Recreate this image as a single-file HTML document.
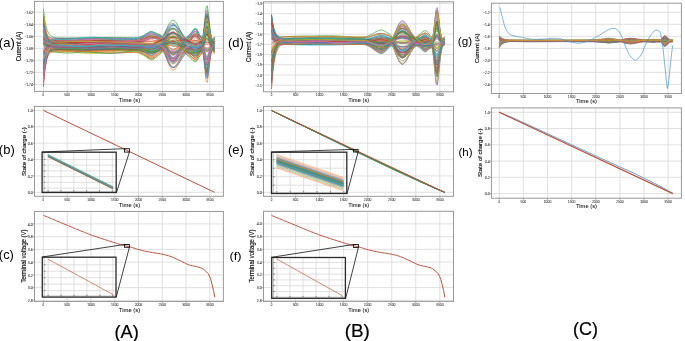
<!DOCTYPE html>
<html><head><meta charset="utf-8"><style>
html,body{margin:0;padding:0;background:#fff;width:685px;height:341px;overflow:hidden;}
svg{display:block;font-family:"Liberation Sans", sans-serif;will-change:transform;}
</style></head><body>
<svg width="685" height="341" viewBox="0 0 685 341" font-family='"Liberation Sans", sans-serif'>
<rect width="685" height="341" fill="#fff"/>
<path d="M43.42 1.40V91.40M67.19 1.40V91.40M90.95 1.40V91.40M114.72 1.40V91.40M138.48 1.40V91.40M162.25 1.40V91.40M186.01 1.40V91.40M209.78 1.40V91.40M34.50 12.30H223.40M34.50 24.33H223.40M34.50 36.36H223.40M34.50 48.39H223.40M34.50 60.42H223.40M34.50 72.45H223.40M34.50 84.48H223.40" stroke="#d8d8d8" stroke-width="0.8" fill="none"/>
<path d="M43.42 106.40V196.30M67.19 106.40V196.30M90.95 106.40V196.30M114.72 106.40V196.30M138.48 106.40V196.30M162.25 106.40V196.30M186.01 106.40V196.30M209.78 106.40V196.30M34.50 110.40H223.40M34.50 126.78H223.40M34.50 143.16H223.40M34.50 159.54H223.40M34.50 175.92H223.40M34.50 192.30H223.40" stroke="#d8d8d8" stroke-width="0.8" fill="none"/>
<path d="M43.42 211.45V301.45M67.19 211.45V301.45M90.95 211.45V301.45M114.72 211.45V301.45M138.48 211.45V301.45M162.25 211.45V301.45M186.01 211.45V301.45M209.78 211.45V301.45M34.50 223.90H223.40M34.50 236.65H223.40M34.50 249.40H223.40M34.50 262.15H223.40M34.50 274.90H223.40M34.50 287.65H223.40M34.50 300.40H223.40" stroke="#d8d8d8" stroke-width="0.8" fill="none"/>
<path d="M271.50 1.80V91.80M295.55 1.80V91.80M319.59 1.80V91.80M343.63 1.80V91.80M367.68 1.80V91.80M391.73 1.80V91.80M415.77 1.80V91.80M439.81 1.80V91.80M263.50 3.40H453.50M263.50 13.63H453.50M263.50 23.86H453.50M263.50 34.09H453.50M263.50 44.32H453.50M263.50 54.55H453.50M263.50 64.78H453.50M263.50 75.01H453.50M263.50 85.24H453.50" stroke="#d8d8d8" stroke-width="0.8" fill="none"/>
<path d="M271.50 106.40V196.30M295.55 106.40V196.30M319.59 106.40V196.30M343.63 106.40V196.30M367.68 106.40V196.30M391.73 106.40V196.30M415.77 106.40V196.30M439.81 106.40V196.30M263.50 110.45H453.50M263.50 126.82H453.50M263.50 143.19H453.50M263.50 159.56H453.50M263.50 175.93H453.50M263.50 192.30H453.50" stroke="#d8d8d8" stroke-width="0.8" fill="none"/>
<path d="M271.50 211.30V301.40M295.55 211.30V301.40M319.59 211.30V301.40M343.63 211.30V301.40M367.68 211.30V301.40M391.73 211.30V301.40M415.77 211.30V301.40M439.81 211.30V301.40M263.50 223.85H453.50M263.50 236.60H453.50M263.50 249.35H453.50M263.50 262.10H453.50M263.50 274.85H453.50M263.50 287.60H453.50M263.50 300.35H453.50" stroke="#d8d8d8" stroke-width="0.8" fill="none"/>
<path d="M499.30 3.20V93.50M523.41 3.20V93.50M547.53 3.20V93.50M571.64 3.20V93.50M595.76 3.20V93.50M619.88 3.20V93.50M643.99 3.20V93.50M668.11 3.20V93.50M491.40 12.30H681.40M491.40 24.32H681.40M491.40 36.34H681.40M491.40 48.36H681.40M491.40 60.38H681.40M491.40 72.40H681.40M491.40 84.42H681.40" stroke="#d8d8d8" stroke-width="0.8" fill="none"/>
<path d="M499.30 107.90V198.20M523.41 107.90V198.20M547.53 107.90V198.20M571.64 107.90V198.20M595.76 107.90V198.20M619.88 107.90V198.20M643.99 107.90V198.20M668.11 107.90V198.20M491.40 112.30H681.40M491.40 128.56H681.40M491.40 144.82H681.40M491.40 161.08H681.40M491.40 177.34H681.40M491.40 193.60H681.40" stroke="#d8d8d8" stroke-width="0.8" fill="none"/>
<path d="M43.4 25.1 43.9 28.9 44.4 32 44.8 34.7 45.3 37 45.8 38.9 46.3 40.5 46.7 41.9 47.2 43 47.7 44 48.2 44.8 48.6 45.5 49.1 46.1 49.6 46.5 50.1 46.9 50.5 47.3 51 47.6 51.5 47.8 52 48 52.5 48.1 52.9 48.3 53.4 48.4 53.9 48.5 54.4 48.6 54.8 48.6 55.3 48.7 55.8 48.7 56.3 48.7 56.7 48.8 57.2 48.8 57.7 48.8 59.6 48.9 65.3 49.1 71 49.4 76.7 49.7 82.4 49.7 88.1 49.5 93.8 49.1 99.5 48.9 105.2 49 110.9 49.3 116.6 49.6 122.3 49.7 128 49.5 133.7 49.2 136.1 49.1 137.3 49.1 138.5 49.1 139.7 49.1 140.9 49.2 142 49.4 143.2 49.5 144.4 49.7 145.6 50 146.8 50.2 148 50.4 149.2 50.7 150.4 50.9 151.6 51.1 152.7 51.3 153.9 51.3 155.1 51.2 156.3 51.1 157.5 51 158.7 50.9 159.9 50.7 161.1 50.6 162.2 50.6 163.4 50.6 164.6 50.8 165.8 51 167 51.4 168.2 51.7 169.4 52.1 170.6 52.4 171.8 52.6 172.9 52.7 174.1 52.7 175.3 52.7 176.5 52.7 177.7 52.7 178.9 52.8 180.1 52.8 181.3 52.8 182.4 52.8 183.6 52.8 184.8 52.9 186 52.9 187.2 52.9 188.4 52.8 189.6 52.7 190.8 52.6 192 52.4 193.1 52.3 194.3 52.1 195.5 51.9 196.7 51.7 197.9 51.5 199.1 51.2 200.3 51 201.5 50.8 202.6 50.5 203.8 49.9 205 49.3 206.2 48.8 207.4 48.8 208.6 49 209.8 49.2 211 49.5 212.2 49.6 213.3 49.8 214.5 50" stroke="#1f77b4" stroke-width="0.70" fill="none" stroke-linejoin="round"/>
<path d="M43.4 47.2 43.9 46.7 44.4 46.3 44.8 46 45.3 45.7 45.8 45.4 46.3 45.2 46.7 45 47.2 44.9 47.7 44.7 48.2 44.6 48.6 44.5 49.1 44.4 49.6 44.4 50.1 44.3 50.5 44.2 51 44.2 51.5 44.1 52 44.1 52.5 44.1 52.9 44 53.4 44 53.9 44 54.4 44 54.8 43.9 55.3 43.9 55.8 43.9 56.3 43.9 56.7 43.9 57.2 43.8 57.7 43.8 59.6 43.8 65.3 43.7 71 43.6 76.7 43.6 82.4 43.6 88.1 43.6 93.8 43.6 99.5 43.7 105.2 43.7 110.9 43.8 116.6 43.9 122.3 44 128 44.1 133.7 44.2 136.1 44 137.3 43.9 138.5 43.7 139.7 43.4 140.9 43.1 142 42.7 143.2 42.3 144.4 41.8 145.6 41.3 146.8 40.6 148 40 149.2 39.5 150.4 39.3 151.6 39.3 152.7 39.7 153.9 40.3 155.1 41 156.3 41.8 157.5 42.5 158.7 43.1 159.9 43.7 161.1 44.7 162.2 46.3 163.4 48.7 164.6 52 165.8 55.8 167 59.5 168.2 62.9 169.4 65.8 170.6 68 171.8 69.6 172.9 70.2 174.1 70 175.3 69 176.5 67.5 177.7 65.5 178.9 63.3 180.1 60.9 181.3 58.5 182.4 56.2 183.6 53.9 184.8 51.8 186 49.9 187.2 48.3 188.4 46.7 189.6 45.2 190.8 43.7 192 42 193.1 40.2 194.3 38.8 195.5 38.1 196.7 38.6 197.9 40.4 199.1 42.7 200.3 44.1 201.5 45.4 202.6 50 203.8 59.6 205 71.7 206.2 81.6 207.4 82.4 208.6 73.4 209.8 62.3 211 54.1 212.2 48.7 213.3 45.7 214.5 44" stroke="#ff7f0e" stroke-width="0.70" fill="none" stroke-linejoin="round"/>
<path d="M43.4 61.2 43.9 58.1 44.4 55.4 44.8 53.1 45.3 51.2 45.8 49.6 46.3 48.2 46.7 47.1 47.2 46.1 47.7 45.2 48.2 44.5 48.6 43.9 49.1 43.3 49.6 42.9 50.1 42.5 50.5 42.2 51 41.9 51.5 41.6 52 41.4 52.5 41.3 52.9 41.1 53.4 41 53.9 40.8 54.4 40.7 54.8 40.6 55.3 40.5 55.8 40.5 56.3 40.4 56.7 40.4 57.2 40.3 57.7 40.3 59.6 40.1 65.3 39.9 71 40 76.7 40.2 82.4 40.4 88.1 40.6 93.8 40.7 99.5 40.8 105.2 40.8 110.9 40.9 116.6 40.9 122.3 40.8 128 40.6 133.7 40.4 136.1 40.2 137.3 40 138.5 39.9 139.7 39.6 140.9 39.3 142 39 143.2 38.6 144.4 38.2 145.6 37.7 146.8 37.2 148 36.8 149.2 36.4 150.4 36.1 151.6 36.1 152.7 36.2 153.9 36.5 155.1 36.9 156.3 37.2 157.5 37.5 158.7 37.7 159.9 37.9 161.1 38.4 162.2 39.4 163.4 40.9 164.6 43 165.8 45.5 167 47.9 168.2 50.2 169.4 52.1 170.6 53.6 171.8 54.6 172.9 55 174.1 54.9 175.3 54.2 176.5 53.2 177.7 51.9 178.9 50.5 180.1 48.9 181.3 47.4 182.4 45.9 183.6 44.4 184.8 43.1 186 41.9 187.2 40.8 188.4 39.9 189.6 39 190.8 38.1 192 37.1 193.1 36.1 194.3 35.4 195.5 35.1 196.7 35.5 197.9 36.8 199.1 38.4 200.3 39.5 201.5 40.4 202.6 43.5 203.8 49.7 205 57.5 206.2 63.8 207.4 64.3 208.6 58.6 209.8 51.6 211 46.4 212.2 42.9 213.3 40.9 214.5 39.6" stroke="#2ca02c" stroke-width="0.70" fill="none" stroke-linejoin="round"/>
<path d="M43.4 78.8 43.9 72.8 44.4 67.7 44.8 63.4 45.3 59.8 45.8 56.7 46.3 54.1 46.7 51.8 47.2 49.9 47.7 48.3 48.2 47 48.6 45.8 49.1 44.8 49.6 44 50.1 43.3 50.5 42.7 51 42.2 51.5 41.8 52 41.4 52.5 41.1 52.9 40.8 53.4 40.6 53.9 40.4 54.4 40.3 54.8 40.2 55.3 40.1 55.8 40 56.3 40 56.7 39.9 57.2 39.9 57.7 39.9 59.6 39.9 65.3 40.3 71 40.7 76.7 40.8 82.4 40.7 88.1 40.2 93.8 39.8 99.5 39.5 105.2 39.5 110.9 39.7 116.6 40 122.3 40.3 128 40.5 133.7 40.5 136.1 40.5 137.3 40.4 138.5 40.2 139.7 40 140.9 39.8 142 39.5 143.2 39.2 144.4 38.8 145.6 38.4 146.8 38 148 37.6 149.2 37.2 150.4 36.9 151.6 36.8 152.7 36.8 153.9 36.9 155.1 37 156.3 37.1 157.5 37.1 158.7 37.1 159.9 37.1 161.1 37.4 162.2 37.9 163.4 39 164.6 40.6 165.8 42.4 167 44.2 168.2 45.9 169.4 47.4 170.6 48.5 171.8 49.3 172.9 49.5 174.1 49.3 175.3 48.8 176.5 48 177.7 47 178.9 45.9 180.1 44.7 181.3 43.6 182.4 42.4 183.6 41.4 184.8 40.4 186 39.5 187.2 38.8 188.4 38.1 189.6 37.6 190.8 37 192 36.4 193.1 35.8 194.3 35.3 195.5 35.3 196.7 35.8 197.9 36.9 199.1 38.3 200.3 39.2 201.5 40 202.6 42.5 203.8 47.3 205 53.3 206.2 58.2 207.4 58.6 208.6 54.3 209.8 49 211 45 212.2 42.3 213.3 40.7 214.5 39.6" stroke="#d62728" stroke-width="0.70" fill="none" stroke-linejoin="round"/>
<path d="M43.4 39.3 43.9 39.7 44.4 40.1 44.8 40.4 45.3 40.6 45.8 40.8 46.3 41 46.7 41.2 47.2 41.3 47.7 41.5 48.2 41.6 48.6 41.7 49.1 41.7 49.6 41.8 50.1 41.9 50.5 41.9 51 42 51.5 42 52 42.1 52.5 42.1 52.9 42.2 53.4 42.2 53.9 42.3 54.4 42.3 54.8 42.3 55.3 42.3 55.8 42.4 56.3 42.4 56.7 42.4 57.2 42.5 57.7 42.5 59.6 42.6 65.3 42.7 71 42.6 76.7 42.3 82.4 41.8 88.1 41.3 93.8 40.9 99.5 40.8 105.2 40.9 110.9 41.1 116.6 41.5 122.3 41.8 128 41.9 133.7 41.9 136.1 41.7 137.3 41.5 138.5 41.3 139.7 41 140.9 40.6 142 40.2 143.2 39.7 144.4 39.1 145.6 38.5 146.8 37.9 148 37.2 149.2 36.7 150.4 36.4 151.6 36.4 152.7 36.8 153.9 37.4 155.1 38.1 156.3 38.9 157.5 39.6 158.7 40.1 159.9 40.8 161.1 41.8 162.2 43.4 163.4 45.8 164.6 49.1 165.8 52.8 167 56.5 168.2 59.9 169.4 62.7 170.6 65 171.8 66.5 172.9 67.1 174.1 66.9 175.3 65.9 176.5 64.4 177.7 62.5 178.9 60.2 180.1 57.9 181.3 55.5 182.4 53.2 183.6 50.9 184.8 48.8 186 46.9 187.2 45.1 188.4 43.6 189.6 42 190.8 40.5 192 38.8 193.1 37.1 194.3 35.7 195.5 35 196.7 35.5 197.9 37.3 199.1 39.6 200.3 41 201.5 42.2 202.6 46.8 203.8 56.3 205 68.1 206.2 77.9 207.4 78.6 208.6 69.9 209.8 59.1 211 51.1 212.2 45.8 213.3 42.9 214.5 41.2" stroke="#9467bd" stroke-width="0.70" fill="none" stroke-linejoin="round"/>
<path d="M43.4 65.9 43.9 62.7 44.4 60 44.8 57.7 45.3 55.8 45.8 54.2 46.3 52.8 46.7 51.6 47.2 50.6 47.7 49.8 48.2 49.1 48.6 48.5 49.1 48 49.6 47.6 50.1 47.2 50.5 46.9 51 46.6 51.5 46.4 52 46.2 52.5 46 52.9 45.9 53.4 45.8 53.9 45.7 54.4 45.6 54.8 45.5 55.3 45.4 55.8 45.4 56.3 45.3 56.7 45.3 57.2 45.2 57.7 45.2 59.6 45.1 65.3 45 71 45.1 76.7 45.4 82.4 45.7 88.1 46 93.8 45.9 99.5 45.6 105.2 45.2 110.9 44.9 116.6 44.7 122.3 44.8 128 45 133.7 45.1 136.1 45.1 137.3 45.1 138.5 45.1 139.7 45.1 140.9 45.1 142 45.1 143.2 45.1 144.4 45.1 145.6 45.1 146.8 45.1 148 45.1 149.2 45.1 150.4 45 151.6 45 152.7 45 153.9 44.8 155.1 44.6 156.3 44.3 157.5 44 158.7 43.8 159.9 43.6 161.1 43.4 162.2 43.3 163.4 43.4 164.6 43.6 165.8 43.9 167 44.3 168.2 44.7 169.4 45.2 170.6 45.6 171.8 45.9 172.9 46.1 174.1 46.2 175.3 46.2 176.5 46.3 177.7 46.4 178.9 46.4 180.1 46.5 181.3 46.5 182.4 46.5 183.6 46.5 184.8 46.5 186 46.4 187.2 46.4 188.4 46.3 189.6 46.1 190.8 46 192 45.9 193.1 45.8 194.3 45.7 195.5 45.6 196.7 45.4 197.9 45.3 199.1 45.2 200.3 45.1 201.5 45.1 202.6 44.9 203.8 44.7 205 44.4 206.2 44.2 207.4 44.2 208.6 44.4 209.8 44.6 211 44.8 212.2 44.9 213.3 45.1 214.5 45.1" stroke="#8c564b" stroke-width="0.70" fill="none" stroke-linejoin="round"/>
<path d="M43.4 68 43.9 63.6 44.4 59.8 44.8 56.7 45.3 53.9 45.8 51.7 46.3 49.7 46.7 48.1 47.2 46.6 47.7 45.4 48.2 44.4 48.6 43.6 49.1 42.8 49.6 42.2 50.1 41.6 50.5 41.2 51 40.8 51.5 40.4 52 40.1 52.5 39.8 52.9 39.6 53.4 39.4 53.9 39.3 54.4 39.1 54.8 39 55.3 38.9 55.8 38.8 56.3 38.7 56.7 38.6 57.2 38.6 57.7 38.5 59.6 38.4 65.3 38.5 71 38.9 76.7 39.2 82.4 39.2 88.1 38.8 93.8 38.3 99.5 37.9 105.2 38 110.9 38.4 116.6 39 122.3 39.4 128 39.4 133.7 39 136.1 38.7 137.3 38.5 138.5 38.2 139.7 37.9 140.9 37.5 142 37.1 143.2 36.7 144.4 36.2 145.6 35.7 146.8 35.1 148 34.6 149.2 34.2 150.4 33.9 151.6 33.8 152.7 34 153.9 34.3 155.1 34.7 156.3 35.1 157.5 35.4 158.7 35.6 159.9 35.8 161.1 36.3 162.2 37.3 163.4 38.9 164.6 41 165.8 43.4 167 45.9 168.2 48.1 169.4 49.9 170.6 51.4 171.8 52.3 172.9 52.5 174.1 52.2 175.3 51.3 176.5 50.1 177.7 48.7 178.9 47 180.1 45.3 181.3 43.6 182.4 41.9 183.6 40.4 184.8 38.9 186 37.6 187.2 36.5 188.4 35.6 189.6 34.7 190.8 33.9 192 33 193.1 32.2 194.3 31.6 195.5 31.5 196.7 32.2 197.9 33.8 199.1 35.7 200.3 37 201.5 38.2 202.6 41.6 203.8 48.3 205 56.7 206.2 63.5 207.4 64.1 208.6 58.2 209.8 51 211 45.5 212.2 41.8 213.3 39.7 214.5 38.3" stroke="#e377c2" stroke-width="0.70" fill="none" stroke-linejoin="round"/>
<path d="M43.4 15.7 43.9 20.9 44.4 25.4 44.8 29.1 45.3 32.3 45.8 35 46.3 37.3 46.7 39.3 47.2 40.9 47.7 42.3 48.2 43.5 48.6 44.5 49.1 45.3 49.6 46 50.1 46.6 50.5 47.1 51 47.5 51.5 47.8 52 48.1 52.5 48.3 52.9 48.5 53.4 48.7 53.9 48.8 54.4 48.9 54.8 49 55.3 49.1 55.8 49.1 56.3 49.1 56.7 49.1 57.2 49.2 57.7 49.2 59.6 49.1 65.3 49 71 49.3 76.7 49.9 82.4 50.6 88.1 50.8 93.8 50.5 99.5 50 105.2 49.6 110.9 49.7 116.6 50 122.3 50.3 128 50.1 133.7 49.5 136.1 49.3 137.3 49.3 138.5 49.3 139.7 49.4 140.9 49.5 142 49.8 143.2 50.1 144.4 50.5 145.6 50.9 146.8 51.4 148 52 149.2 52.4 150.4 52.8 151.6 53.1 152.7 53.1 153.9 52.8 155.1 52.4 156.3 52 157.5 51.5 158.7 51.1 159.9 50.7 161.1 50.1 162.2 49.4 163.4 48.4 164.6 47.3 165.8 46.1 167 44.9 168.2 44 169.4 43.2 170.6 42.7 171.8 42.4 172.9 42.2 174.1 42.3 175.3 42.7 176.5 43.3 177.7 44.2 178.9 45.1 180.1 46.2 181.3 47.2 182.4 48.2 183.6 49.2 184.8 50.1 186 51 187.2 51.7 188.4 52.4 189.6 52.9 190.8 53.5 192 54.1 193.1 54.7 194.3 55.2 195.5 55.4 196.7 55 197.9 54 199.1 52.8 200.3 52 201.5 51.2 202.6 48.8 203.8 44 205 38.1 206.2 33.2 207.4 32.7 208.6 36.7 209.8 41.8 211 45.5 212.2 48 213.3 49.4 214.5 50.2" stroke="#7f7f7f" stroke-width="0.70" fill="none" stroke-linejoin="round"/>
<path d="M43.4 54.4 43.9 53.3 44.4 52.4 44.8 51.6 45.3 50.9 45.8 50.3 46.3 49.9 46.7 49.5 47.2 49.1 47.7 48.8 48.2 48.6 48.6 48.4 49.1 48.2 49.6 48 50.1 47.9 50.5 47.8 51 47.7 51.5 47.6 52 47.6 52.5 47.5 52.9 47.4 53.4 47.4 53.9 47.4 54.4 47.3 54.8 47.3 55.3 47.3 55.8 47.3 56.3 47.2 56.7 47.2 57.2 47.2 57.7 47.2 59.6 47.2 65.3 47.3 71 47.5 76.7 47.6 82.4 47.7 88.1 47.5 93.8 47.3 99.5 47.1 105.2 47 110.9 47.1 116.6 47.2 122.3 47.2 128 47.1 133.7 46.9 136.1 47 137.3 47.1 138.5 47.2 139.7 47.4 140.9 47.7 142 48 143.2 48.5 144.4 48.9 145.6 49.5 146.8 50.1 148 50.7 149.2 51.2 150.4 51.5 151.6 51.6 152.7 51.2 153.9 50.6 155.1 49.6 156.3 48.6 157.5 47.6 158.7 46.7 159.9 45.8 161.1 44.7 162.2 43.3 163.4 41.3 164.6 38.9 165.8 36.4 167 34 168.2 32 169.4 30.3 170.6 29.1 171.8 28.3 172.9 28 174.1 28.2 175.3 29 176.5 30.2 177.7 31.8 178.9 33.6 180.1 35.5 181.3 37.4 182.4 39.3 183.6 41 184.8 42.7 186 44.2 187.2 45.5 188.4 46.6 189.6 47.7 190.8 48.8 192 50 193.1 51.3 194.3 52.3 195.5 52.8 196.7 52.4 197.9 50.8 199.1 48.8 200.3 47.6 201.5 46.5 202.6 42.6 203.8 34.5 205 24.4 206.2 16 207.4 15.4 208.6 22.9 209.8 32.1 211 39.1 212.2 43.6 213.3 46.1 214.5 47.6" stroke="#bcbd22" stroke-width="0.70" fill="none" stroke-linejoin="round"/>
<path d="M43.4 26.1 43.9 29.2 44.4 31.7 44.8 33.9 45.3 35.8 45.8 37.3 46.3 38.7 46.7 39.8 47.2 40.8 47.7 41.6 48.2 42.3 48.6 42.8 49.1 43.3 49.6 43.7 50.1 44.1 50.5 44.4 51 44.6 51.5 44.9 52 45 52.5 45.2 52.9 45.3 53.4 45.4 53.9 45.5 54.4 45.5 54.8 45.6 55.3 45.6 55.8 45.6 56.3 45.7 56.7 45.7 57.2 45.7 57.7 45.7 59.6 45.6 65.3 45.3 71 45 76.7 45 82.4 45.2 88.1 45.5 93.8 45.7 99.5 45.7 105.2 45.6 110.9 45.4 116.6 45.4 122.3 45.6 128 46 133.7 46.2 136.1 46.2 137.3 46.1 138.5 46.1 139.7 45.9 140.9 45.8 142 45.6 143.2 45.4 144.4 45.1 145.6 44.8 146.8 44.5 148 44.1 149.2 43.9 150.4 43.7 151.6 43.7 152.7 43.8 153.9 44.1 155.1 44.4 156.3 44.7 157.5 44.9 158.7 45.1 159.9 45.3 161.1 45.8 162.2 46.6 163.4 48 164.6 49.9 165.8 52.1 167 54.3 168.2 56.4 169.4 58.2 170.6 59.6 171.8 60.6 172.9 61.1 174.1 61 175.3 60.5 176.5 59.7 177.7 58.7 178.9 57.5 180.1 56.2 181.3 54.9 182.4 53.6 183.6 52.4 184.8 51.2 186 50.1 187.2 49.2 188.4 48.2 189.6 47.3 190.8 46.3 192 45.3 193.1 44.2 194.3 43.3 195.5 42.8 196.7 43 197.9 43.9 199.1 45 200.3 45.7 201.5 46.3 202.6 48.8 203.8 53.9 205 60.3 206.2 65.6 207.4 66.1 208.6 61.3 209.8 55.4 211 51.1 212.2 48.3 213.3 46.8 214.5 46.1" stroke="#17becf" stroke-width="0.70" fill="none" stroke-linejoin="round"/>
<path d="M43.4 36.3 43.9 37.4 44.4 38.4 44.8 39.2 45.3 39.9 45.8 40.5 46.3 41 46.7 41.4 47.2 41.8 47.7 42.1 48.2 42.3 48.6 42.5 49.1 42.7 49.6 42.9 50.1 43 50.5 43.1 51 43.2 51.5 43.3 52 43.4 52.5 43.5 52.9 43.5 53.4 43.5 53.9 43.6 54.4 43.6 54.8 43.6 55.3 43.7 55.8 43.7 56.3 43.7 56.7 43.7 57.2 43.7 57.7 43.7 59.6 43.7 65.3 43.7 71 43.6 76.7 43.5 82.4 43.4 88.1 43.3 93.8 43.2 99.5 43.1 105.2 43 110.9 43 116.6 42.9 122.3 42.9 128 42.9 133.7 43 136.1 43.1 137.3 43.2 138.5 43.3 139.7 43.4 140.9 43.5 142 43.6 143.2 43.8 144.4 44 145.6 44.2 146.8 44.4 148 44.6 149.2 44.8 150.4 44.9 151.6 44.9 152.7 44.6 153.9 44.1 155.1 43.5 156.3 42.8 157.5 42.1 158.7 41.5 159.9 40.9 161.1 40.2 162.2 39.4 163.4 38.4 164.6 37.3 165.8 36.2 167 35.2 168.2 34.4 169.4 33.7 170.6 33.3 171.8 33 172.9 32.9 174.1 33 175.3 33.4 176.5 34 177.7 34.7 178.9 35.6 180.1 36.5 181.3 37.4 182.4 38.2 183.6 39.1 184.8 39.8 186 40.5 187.2 41.2 188.4 41.7 189.6 42.3 190.8 42.8 192 43.4 193.1 44.1 194.3 44.7 195.5 45 196.7 44.9 197.9 44.2 199.1 43.4 200.3 42.9 201.5 42.5 202.6 40.6 203.8 36.9 205 32.1 206.2 28.2 207.4 27.8 208.6 31.5 209.8 35.9 211 39.2 212.2 41.4 213.3 42.5 214.5 43.1" stroke="#1f77b4" stroke-width="0.70" fill="none" stroke-linejoin="round"/>
<path d="M43.4 43.3 43.9 44.1 44.4 44.7 44.8 45.2 45.3 45.6 45.8 46 46.3 46.3 46.7 46.5 47.2 46.8 47.7 47 48.2 47.1 48.6 47.3 49.1 47.4 49.6 47.5 50.1 47.6 50.5 47.7 51 47.8 51.5 47.9 52 47.9 52.5 48 52.9 48 53.4 48.1 53.9 48.1 54.4 48.2 54.8 48.2 55.3 48.3 55.8 48.3 56.3 48.3 56.7 48.4 57.2 48.4 57.7 48.4 59.6 48.6 65.3 48.8 71 48.7 76.7 48.4 82.4 47.9 88.1 47.6 93.8 47.5 99.5 47.8 105.2 48.1 110.9 48.4 116.6 48.5 122.3 48.4 128 48.2 133.7 48.1 136.1 48.2 137.3 48.3 138.5 48.4 139.7 48.6 140.9 48.9 142 49.1 143.2 49.5 144.4 49.9 145.6 50.3 146.8 50.7 148 51.1 149.2 51.5 150.4 51.7 151.6 51.7 152.7 51.5 153.9 51.1 155.1 50.4 156.3 49.7 157.5 49 158.7 48.3 159.9 47.6 161.1 46.9 162.2 45.9 163.4 44.8 164.6 43.4 165.8 42 167 40.8 168.2 39.8 169.4 39 170.6 38.4 171.8 38.1 172.9 38 174.1 38.1 175.3 38.6 176.5 39.4 177.7 40.4 178.9 41.5 180.1 42.7 181.3 43.8 182.4 45 183.6 46.1 184.8 47.2 186 48.1 187.2 48.9 188.4 49.6 189.6 50.3 190.8 50.9 192 51.6 193.1 52.2 194.3 52.8 195.5 53 196.7 52.6 197.9 51.6 199.1 50.4 200.3 49.6 201.5 48.8 202.6 46.4 203.8 41.6 205 35.6 206.2 30.7 207.4 30.3 208.6 34.5 209.8 39.7 211 43.6 212.2 46.2 213.3 47.6 214.5 48.5" stroke="#ff7f0e" stroke-width="0.70" fill="none" stroke-linejoin="round"/>
<path d="M43.4 29.5 43.9 32.1 44.4 34.2 44.8 36 45.3 37.6 45.8 38.9 46.3 40 46.7 40.9 47.2 41.7 47.7 42.4 48.2 43 48.6 43.4 49.1 43.8 49.6 44.2 50.1 44.5 50.5 44.7 51 45 51.5 45.1 52 45.3 52.5 45.4 52.9 45.5 53.4 45.6 53.9 45.7 54.4 45.8 54.8 45.9 55.3 45.9 55.8 46 56.3 46 56.7 46 57.2 46.1 57.7 46.1 59.6 46.2 65.3 46.3 71 46.4 76.7 46.5 82.4 46.6 88.1 46.6 93.8 46.6 99.5 46.6 105.2 46.6 110.9 46.5 116.6 46.4 122.3 46.3 128 46.1 133.7 46 136.1 46.1 137.3 46.3 138.5 46.5 139.7 46.7 140.9 47.1 142 47.5 143.2 48 144.4 48.5 145.6 49.1 146.8 49.8 148 50.5 149.2 51 150.4 51.4 151.6 51.3 152.7 50.8 153.9 49.9 155.1 48.7 156.3 47.3 157.5 46.1 158.7 44.9 159.9 43.8 161.1 42.4 162.2 40.5 163.4 37.9 164.6 34.8 165.8 31.5 167 28.4 168.2 25.7 169.4 23.4 170.6 21.8 171.8 20.7 172.9 20.3 174.1 20.6 175.3 21.6 176.5 23.2 177.7 25.2 178.9 27.5 180.1 30 181.3 32.4 182.4 34.8 183.6 37.1 184.8 39.2 186 41.1 187.2 42.8 188.4 44.3 189.6 45.7 190.8 47.2 192 48.8 193.1 50.5 194.3 51.8 195.5 52.5 196.7 52 197.9 50.1 199.1 47.6 200.3 46.2 201.5 44.8 202.6 39.9 203.8 29.9 205 17.2 206.2 6.8 207.4 5.9 208.6 15.4 209.8 26.9 211 35.6 212.2 41.3 213.3 44.4 214.5 46.2" stroke="#2ca02c" stroke-width="0.70" fill="none" stroke-linejoin="round"/>
<path d="M43.4 87 43.9 80.8 44.4 75.5 44.8 71.1 45.3 67.3 45.8 64.1 46.3 61.3 46.7 59 47.2 57 47.7 55.3 48.2 53.9 48.6 52.6 49.1 51.6 49.6 50.6 50.1 49.8 50.5 49.2 51 48.6 51.5 48 52 47.6 52.5 47.2 52.9 46.8 53.4 46.5 53.9 46.2 54.4 46 54.8 45.8 55.3 45.6 55.8 45.4 56.3 45.2 56.7 45.1 57.2 45 57.7 44.8 59.6 44.4 65.3 44 71 44.2 76.7 45.1 82.4 46.1 88.1 47.1 93.8 47.7 99.5 47.8 105.2 47.2 110.9 46.4 116.6 45.4 122.3 44.8 128 44.5 133.7 44.7 136.1 44.9 137.3 45 138.5 45.1 139.7 45.2 140.9 45.3 142 45.4 143.2 45.5 144.4 45.6 145.6 45.7 146.8 45.8 148 45.9 149.2 46 150.4 46.1 151.6 46.2 152.7 46.4 153.9 46.5 155.1 46.5 156.3 46.5 157.5 46.5 158.7 46.4 159.9 46.4 161.1 46.4 162.2 46.6 163.4 47.1 164.6 47.8 165.8 48.6 167 49.5 168.2 50.4 169.4 51.2 170.6 51.9 171.8 52.3 172.9 52.5 174.1 52.4 175.3 52.2 176.5 51.9 177.7 51.5 178.9 51.1 180.1 50.6 181.3 50.2 182.4 49.7 183.6 49.3 184.8 48.8 186 48.5 187.2 48.1 188.4 47.7 189.6 47.3 190.8 46.9 192 46.5 193.1 46.1 194.3 45.7 195.5 45.4 196.7 45.4 197.9 45.6 199.1 45.9 200.3 46 201.5 46.1 202.6 46.8 203.8 48.2 205 50.1 206.2 51.7 207.4 51.7 208.6 50.2 209.8 48.3 211 46.9 212.2 46 213.3 45.5 214.5 45.3" stroke="#d62728" stroke-width="0.70" fill="none" stroke-linejoin="round"/>
<path d="M43.4 24.8 43.9 27 44.4 28.9 44.8 30.5 45.3 31.8 45.8 33 46.3 33.9 46.7 34.7 47.2 35.4 47.7 36 48.2 36.5 48.6 36.9 49.1 37.3 49.6 37.6 50.1 37.9 50.5 38.1 51 38.3 51.5 38.4 52 38.6 52.5 38.7 52.9 38.8 53.4 38.9 53.9 39 54.4 39 54.8 39.1 55.3 39.1 55.8 39.2 56.3 39.2 56.7 39.3 57.2 39.3 57.7 39.3 59.6 39.4 65.3 39.5 71 39.4 76.7 39.2 82.4 39.1 88.1 39.1 93.8 39.2 99.5 39.2 105.2 39.1 110.9 39 116.6 39 122.3 39.1 128 39.3 133.7 39.6 136.1 39.5 137.3 39.4 138.5 39.2 139.7 39 140.9 38.6 142 38.2 143.2 37.8 144.4 37.2 145.6 36.6 146.8 35.9 148 35.2 149.2 34.6 150.4 34.2 151.6 34.1 152.7 34.3 153.9 34.6 155.1 35 156.3 35.5 157.5 35.9 158.7 36.1 159.9 36.5 161.1 37.2 162.2 38.4 163.4 40.3 164.6 43 165.8 46.1 167 49.2 168.2 52 169.4 54.4 170.6 56.2 171.8 57.5 172.9 57.9 174.1 57.7 175.3 56.8 176.5 55.4 177.7 53.7 178.9 51.8 180.1 49.8 181.3 47.7 182.4 45.7 183.6 43.8 184.8 42 186 40.3 187.2 38.9 188.4 37.6 189.6 36.4 190.8 35.3 192 34 193.1 32.7 194.3 31.7 195.5 31.3 196.7 31.9 197.9 33.7 199.1 35.9 200.3 37.3 201.5 38.6 202.6 42.7 203.8 51 205 61.4 206.2 69.8 207.4 70.6 208.6 63.2 209.8 54.1 211 47.3 212.2 42.9 213.3 40.3 214.5 38.8" stroke="#9467bd" stroke-width="0.70" fill="none" stroke-linejoin="round"/>
<path d="M43.4 82 43.9 76.7 44.4 72.3 44.8 68.5 45.3 65.4 45.8 62.7 46.3 60.4 46.7 58.5 47.2 56.9 47.7 55.6 48.2 54.4 48.6 53.5 49.1 52.7 49.6 52 50.1 51.4 50.5 50.9 51 50.5 51.5 50.2 52 49.9 52.5 49.7 52.9 49.5 53.4 49.3 53.9 49.2 54.4 49 54.8 48.9 55.3 48.8 55.8 48.8 56.3 48.7 56.7 48.7 57.2 48.6 57.7 48.6 59.6 48.4 65.3 48.1 71 47.7 76.7 47.5 82.4 47.4 88.1 47.7 93.8 48.1 99.5 48.4 105.2 48.5 110.9 48.3 116.6 47.9 122.3 47.5 128 47.2 133.7 47.2 136.1 47.4 137.3 47.6 138.5 47.8 139.7 48 140.9 48.4 142 48.7 143.2 49.1 144.4 49.6 145.6 50.1 146.8 50.6 148 51.1 149.2 51.5 150.4 51.8 151.6 51.9 152.7 51.7 153.9 51.2 155.1 50.6 156.3 49.8 157.5 49 158.7 48.3 159.9 47.6 161.1 46.8 162.2 45.7 163.4 44.3 164.6 42.8 165.8 41.1 167 39.6 168.2 38.3 169.4 37.3 170.6 36.6 171.8 36.1 172.9 35.9 174.1 36 175.3 36.5 176.5 37.3 177.7 38.4 178.9 39.6 180.1 40.9 181.3 42.1 182.4 43.4 183.6 44.6 184.8 45.8 186 46.8 187.2 47.7 188.4 48.5 189.6 49.3 190.8 50 192 50.8 193.1 51.6 194.3 52.3 195.5 52.6 196.7 52.3 197.9 51.2 199.1 49.9 200.3 49 201.5 48.3 202.6 45.6 203.8 40.2 205 33.4 206.2 27.8 207.4 27.3 208.6 32.2 209.8 38.2 211 42.7 212.2 45.6 213.3 47.3 214.5 48.2" stroke="#8c564b" stroke-width="0.70" fill="none" stroke-linejoin="round"/>
<path d="M43.4 33.8 43.9 35.9 44.4 37.7 44.8 39.2 45.3 40.5 45.8 41.6 46.3 42.5 46.7 43.3 47.2 44 47.7 44.6 48.2 45.1 48.6 45.5 49.1 45.8 49.6 46.1 50.1 46.4 50.5 46.6 51 46.8 51.5 46.9 52 47.1 52.5 47.2 52.9 47.3 53.4 47.4 53.9 47.5 54.4 47.5 54.8 47.6 55.3 47.6 55.8 47.7 56.3 47.7 56.7 47.7 57.2 47.8 57.7 47.8 59.6 47.8 65.3 47.8 71 47.6 76.7 47.6 82.4 47.7 88.1 47.8 93.8 47.9 99.5 47.8 105.2 47.7 110.9 47.5 116.6 47.5 122.3 47.7 128 47.9 133.7 48 136.1 48 137.3 47.9 138.5 47.9 139.7 47.9 140.9 48 142 48 143.2 48 144.4 48.1 145.6 48.2 146.8 48.3 148 48.3 149.2 48.4 150.4 48.5 151.6 48.6 152.7 48.6 153.9 48.6 155.1 48.4 156.3 48.3 157.5 48.1 158.7 48 159.9 47.8 161.1 47.8 162.2 47.8 163.4 47.9 164.6 48.1 165.8 48.5 167 48.9 168.2 49.4 169.4 49.8 170.6 50.2 171.8 50.5 172.9 50.7 174.1 50.7 175.3 50.7 176.5 50.7 177.7 50.7 178.9 50.6 180.1 50.6 181.3 50.5 182.4 50.4 183.6 50.3 184.8 50.2 186 50.1 187.2 50 188.4 49.9 189.6 49.7 190.8 49.5 192 49.3 193.1 49.2 194.3 49 195.5 48.9 196.7 48.7 197.9 48.6 199.1 48.5 200.3 48.4 201.5 48.3 202.6 48.2 203.8 48 205 47.7 206.2 47.5 207.4 47.6 208.6 47.8 209.8 48 211 48.2 212.2 48.3 213.3 48.5 214.5 48.6" stroke="#e377c2" stroke-width="0.70" fill="none" stroke-linejoin="round"/>
<path d="M43.4 63.1 43.9 60.1 44.4 57.6 44.8 55.5 45.3 53.8 45.8 52.3 46.3 51 46.7 50 47.2 49.1 47.7 48.4 48.2 47.7 48.6 47.2 49.1 46.8 49.6 46.5 50.1 46.2 50.5 46 51 45.8 51.5 45.6 52 45.5 52.5 45.4 52.9 45.3 53.4 45.2 53.9 45.2 54.4 45.1 54.8 45.1 55.3 45.1 55.8 45.1 56.3 45 56.7 45 57.2 45 57.7 45 59.6 44.8 65.3 44.2 71 43.2 76.7 42.5 82.4 42.4 88.1 43.2 93.8 44.3 99.5 45.2 105.2 45.4 110.9 45 116.6 44.2 122.3 43.8 128 43.9 133.7 44.4 136.1 44.8 137.3 45.1 138.5 45.3 139.7 45.5 140.9 45.8 142 46.1 143.2 46.3 144.4 46.6 145.6 47 146.8 47.3 148 47.6 149.2 47.7 150.4 47.7 151.6 47.4 152.7 46.8 153.9 45.8 155.1 44.6 156.3 43.3 157.5 42.1 158.7 40.9 159.9 39.8 161.1 38.5 162.2 37 163.4 35.1 164.6 32.8 165.8 30.5 167 28.4 168.2 26.6 169.4 25.2 170.6 24.2 171.8 23.6 172.9 23.4 174.1 23.8 175.3 24.7 176.5 25.9 177.7 27.5 178.9 29.3 180.1 31.2 181.3 33.1 182.4 34.9 183.6 36.7 184.8 38.3 186 39.7 187.2 40.9 188.4 42.1 189.6 43.1 190.8 44.2 192 45.3 193.1 46.5 194.3 47.4 195.5 47.9 196.7 47.5 197.9 46.1 199.1 44.4 200.3 43.3 201.5 42.4 202.6 38.9 203.8 31.9 205 23.1 206.2 15.8 207.4 15.2 208.6 21.8 209.8 29.9 211 36.1 212.2 40.1 213.3 42.3 214.5 43.6" stroke="#7f7f7f" stroke-width="0.70" fill="none" stroke-linejoin="round"/>
<path d="M43.4 49.5 43.9 49.2 44.4 49 44.8 48.8 45.3 48.7 45.8 48.5 46.3 48.4 46.7 48.3 47.2 48.3 47.7 48.2 48.2 48.1 48.6 48.1 49.1 48 49.6 48 50.1 48 50.5 47.9 51 47.9 51.5 47.9 52 47.8 52.5 47.8 52.9 47.8 53.4 47.8 53.9 47.8 54.4 47.8 54.8 47.7 55.3 47.7 55.8 47.7 56.3 47.7 56.7 47.7 57.2 47.7 57.7 47.7 59.6 47.6 65.3 47.6 71 47.5 76.7 47.6 82.4 47.7 88.1 47.8 93.8 47.9 99.5 48 105.2 48 110.9 48 116.6 48 122.3 47.8 128 47.7 133.7 47.5 136.1 47.5 137.3 47.6 138.5 47.6 139.7 47.7 140.9 47.8 142 48 143.2 48.2 144.4 48.5 145.6 48.7 146.8 49 148 49.3 149.2 49.5 150.4 49.7 151.6 49.8 152.7 49.7 153.9 49.5 155.1 49.1 156.3 48.7 157.5 48.2 158.7 47.9 159.9 47.5 161.1 47.1 162.2 46.6 163.4 46 164.6 45.5 165.8 44.9 167 44.5 168.2 44.1 169.4 44 170.6 43.9 171.8 43.8 172.9 43.9 174.1 44 175.3 44.3 176.5 44.7 177.7 45.2 178.9 45.8 180.1 46.4 181.3 47 182.4 47.6 183.6 48.2 184.8 48.7 186 49.1 187.2 49.5 188.4 49.7 189.6 50 190.8 50.2 192 50.4 193.1 50.7 194.3 50.8 195.5 50.8 196.7 50.5 197.9 49.9 199.1 49.1 200.3 48.6 201.5 48.1 202.6 46.7 203.8 43.9 205 40.5 206.2 37.7 207.4 37.5 208.6 39.8 209.8 42.7 211 44.9 212.2 46.4 213.3 47.3 214.5 47.8" stroke="#bcbd22" stroke-width="0.70" fill="none" stroke-linejoin="round"/>
<path d="M43.4 37.3 43.9 38.5 44.4 39.5 44.8 40.4 45.3 41.2 45.8 41.8 46.3 42.3 46.7 42.8 47.2 43.1 47.7 43.5 48.2 43.7 48.6 43.9 49.1 44.1 49.6 44.3 50.1 44.4 50.5 44.5 51 44.6 51.5 44.6 52 44.7 52.5 44.7 52.9 44.8 53.4 44.8 53.9 44.8 54.4 44.9 54.8 44.9 55.3 44.9 55.8 44.9 56.3 44.9 56.7 44.9 57.2 44.9 57.7 44.9 59.6 44.9 65.3 44.9 71 45.1 76.7 45.3 82.4 45.4 88.1 45.6 93.8 45.6 99.5 45.5 105.2 45.3 110.9 45.1 116.6 45 122.3 44.9 128 45 133.7 45.2 136.1 45.2 137.3 45.3 138.5 45.2 139.7 45.2 140.9 45.2 142 45.2 143.2 45.1 144.4 45 145.6 44.9 146.8 44.8 148 44.7 149.2 44.6 150.4 44.6 151.6 44.6 152.7 44.8 153.9 44.9 155.1 45 156.3 45 157.5 45 158.7 45 159.9 45 161.1 45.2 162.2 45.6 163.4 46.3 164.6 47.4 165.8 48.7 167 50 168.2 51.3 169.4 52.4 170.6 53.3 171.8 53.9 172.9 54.1 174.1 54 175.3 53.7 176.5 53.2 177.7 52.5 178.9 51.8 180.1 51.1 181.3 50.3 182.4 49.6 183.6 48.9 184.8 48.2 186 47.6 187.2 47.1 188.4 46.6 189.6 46.1 190.8 45.5 192 45 193.1 44.4 194.3 43.9 195.5 43.7 196.7 43.8 197.9 44.4 199.1 45 200.3 45.5 201.5 45.8 202.6 47.2 203.8 50.1 205 53.6 206.2 56.6 207.4 56.8 208.6 54.2 209.8 50.9 211 48.5 212.2 47 213.3 46.1 214.5 45.7" stroke="#17becf" stroke-width="0.70" fill="none" stroke-linejoin="round"/>
<path d="M43.4 26.4 43.9 29.5 44.4 32.1 44.8 34.3 45.3 36.1 45.8 37.7 46.3 39 46.7 40.1 47.2 41 47.7 41.8 48.2 42.5 48.6 43 49.1 43.5 49.6 43.8 50.1 44.1 50.5 44.4 51 44.6 51.5 44.8 52 44.9 52.5 45 52.9 45.1 53.4 45.2 53.9 45.3 54.4 45.3 54.8 45.4 55.3 45.4 55.8 45.4 56.3 45.5 56.7 45.5 57.2 45.5 57.7 45.5 59.6 45.6 65.3 46.1 71 46.8 76.7 47.1 82.4 46.9 88.1 46.3 93.8 45.8 99.5 45.7 105.2 46.2 110.9 46.9 116.6 47.2 122.3 46.8 128 46 133.7 45.4 136.1 45.4 137.3 45.5 138.5 45.6 139.7 45.8 140.9 46.1 142 46.5 143.2 46.9 144.4 47.3 145.6 47.9 146.8 48.4 148 49 149.2 49.4 150.4 49.7 151.6 49.9 152.7 49.7 153.9 49.3 155.1 48.6 156.3 47.9 157.5 47.1 158.7 46.4 159.9 45.6 161.1 44.7 162.2 43.6 163.4 42.2 164.6 40.6 165.8 38.9 167 37.4 168.2 36.1 169.4 35 170.6 34.2 171.8 33.7 172.9 33.5 174.1 33.6 175.3 34 176.5 34.8 177.7 35.9 178.9 37.1 180.1 38.4 181.3 39.7 182.4 41 183.6 42.3 184.8 43.5 186 44.6 187.2 45.5 188.4 46.4 189.6 47.2 190.8 48 192 48.8 193.1 49.7 194.3 50.4 195.5 50.7 196.7 50.3 197.9 49.3 199.1 48 200.3 47.1 201.5 46.3 202.6 43.6 203.8 38.4 205 31.8 206.2 26.4 207.4 25.8 208.6 30.4 209.8 36 211 40.3 212.2 43 213.3 44.6 214.5 45.5" stroke="#1f77b4" stroke-width="0.70" fill="none" stroke-linejoin="round"/>
<path d="M43.4 59.3 43.9 57.6 44.4 56.2 44.8 54.9 45.3 53.9 45.8 53.1 46.3 52.3 46.7 51.7 47.2 51.2 47.7 50.8 48.2 50.5 48.6 50.2 49.1 50 49.6 49.8 50.1 49.7 50.5 49.5 51 49.5 51.5 49.4 52 49.3 52.5 49.3 52.9 49.3 53.4 49.3 53.9 49.3 54.4 49.3 54.8 49.3 55.3 49.4 55.8 49.4 56.3 49.4 56.7 49.4 57.2 49.5 57.7 49.5 59.6 49.6 65.3 49.9 71 49.8 76.7 49.3 82.4 48.7 88.1 48 93.8 47.5 99.5 47.4 105.2 47.7 110.9 48.3 116.6 49 122.3 49.7 128 50 133.7 49.9 136.1 49.8 137.3 49.7 138.5 49.7 139.7 49.7 140.9 49.7 142 49.8 143.2 49.8 144.4 49.9 145.6 50 146.8 50.2 148 50.3 149.2 50.4 150.4 50.4 151.6 50.4 152.7 50.2 153.9 49.9 155.1 49.4 156.3 48.9 157.5 48.5 158.7 48 159.9 47.6 161.1 47.2 162.2 46.8 163.4 46.4 164.6 45.9 165.8 45.6 167 45.3 168.2 45.2 169.4 45.2 170.6 45.3 171.8 45.4 172.9 45.6 174.1 45.9 175.3 46.3 176.5 46.8 177.7 47.4 178.9 48.1 180.1 48.7 181.3 49.4 182.4 50.1 183.6 50.7 184.8 51.2 186 51.7 187.2 52.1 188.4 52.5 189.6 52.7 190.8 52.9 192 53.1 193.1 53.3 194.3 53.4 195.5 53.3 196.7 53 197.9 52.4 199.1 51.6 200.3 51 201.5 50.5 202.6 49.2 203.8 46.7 205 43.6 206.2 41 207.4 40.6 208.6 42.5 209.8 44.8 211 46.5 212.2 47.6 213.3 48.3 214.5 48.6" stroke="#ff7f0e" stroke-width="0.70" fill="none" stroke-linejoin="round"/>
<path d="M43.4 44.9 43.9 44.2 44.4 43.6 44.8 43.1 45.3 42.7 45.8 42.4 46.3 42.1 46.7 41.8 47.2 41.6 47.7 41.4 48.2 41.2 48.6 41.1 49.1 41 49.6 40.8 50.1 40.7 50.5 40.6 51 40.5 51.5 40.4 52 40.3 52.5 40.3 52.9 40.2 53.4 40.1 53.9 40 54.4 40 54.8 39.9 55.3 39.8 55.8 39.7 56.3 39.7 56.7 39.6 57.2 39.5 57.7 39.5 59.6 39.2 65.3 38.7 71 38.7 76.7 39 82.4 39.5 88.1 39.7 93.8 39.7 99.5 39.6 105.2 39.4 110.9 39.6 116.6 39.9 122.3 40.2 128 40.2 133.7 39.9 136.1 39.6 137.3 39.3 138.5 39 139.7 38.6 140.9 38.2 142 37.7 143.2 37.1 144.4 36.5 145.6 35.9 146.8 35.2 148 34.5 149.2 34 150.4 33.7 151.6 33.6 152.7 33.9 153.9 34.3 155.1 34.8 156.3 35.4 157.5 35.9 158.7 36.3 159.9 36.8 161.1 37.6 162.2 38.9 163.4 40.9 164.6 43.6 165.8 46.6 167 49.7 168.2 52.5 169.4 54.8 170.6 56.7 171.8 57.9 172.9 58.4 174.1 58.1 175.3 57.2 176.5 55.9 177.7 54.2 178.9 52.3 180.1 50.3 181.3 48.3 182.4 46.2 183.6 44.3 184.8 42.5 186 40.9 187.2 39.4 188.4 38.2 189.6 36.9 190.8 35.7 192 34.5 193.1 33.2 194.3 32.2 195.5 31.9 196.7 32.4 197.9 34.1 199.1 36.2 200.3 37.6 201.5 38.8 202.6 42.8 203.8 50.7 205 60.6 206.2 68.7 207.4 69.4 208.6 62.3 209.8 53.7 211 47.2 212.2 42.9 213.3 40.5 214.5 39" stroke="#2ca02c" stroke-width="0.70" fill="none" stroke-linejoin="round"/>
<path d="M43.4 29.3 43.9 31.9 44.4 34.1 44.8 36 45.3 37.5 45.8 38.9 46.3 40 46.7 41 47.2 41.8 47.7 42.5 48.2 43.1 48.6 43.6 49.1 44 49.6 44.4 50.1 44.7 50.5 44.9 51 45.1 51.5 45.3 52 45.5 52.5 45.6 52.9 45.7 53.4 45.8 53.9 45.8 54.4 45.9 54.8 45.9 55.3 46 55.8 46 56.3 46 56.7 46 57.2 46 57.7 46 59.6 45.9 65.3 45.6 71 45.3 76.7 45.2 82.4 45.3 88.1 45.6 93.8 45.9 99.5 46.1 105.2 46.2 110.9 46.1 116.6 46 122.3 46.1 128 46.4 133.7 46.7 136.1 46.7 137.3 46.7 138.5 46.7 139.7 46.6 140.9 46.6 142 46.5 143.2 46.4 144.4 46.2 145.6 46 146.8 45.8 148 45.6 149.2 45.4 150.4 45.3 151.6 45.3 152.7 45.4 153.9 45.6 155.1 45.8 156.3 46 157.5 46.1 158.7 46.1 159.9 46.3 161.1 46.6 162.2 47.2 163.4 48.3 164.6 49.8 165.8 51.6 167 53.5 168.2 55.3 169.4 56.8 170.6 58 171.8 58.8 172.9 59.2 174.1 59.1 175.3 58.7 176.5 58 177.7 57.2 178.9 56.2 180.1 55.1 181.3 54 182.4 53 183.6 52 184.8 51 186 50.2 187.2 49.4 188.4 48.6 189.6 47.8 190.8 47 192 46.1 193.1 45.2 194.3 44.4 195.5 44 196.7 44.1 197.9 44.8 199.1 45.7 200.3 46.2 201.5 46.6 202.6 48.6 203.8 52.8 205 58.1 206.2 62.4 207.4 62.7 208.6 58.7 209.8 53.7 211 50.1 212.2 47.7 213.3 46.5 214.5 45.8" stroke="#d62728" stroke-width="0.70" fill="none" stroke-linejoin="round"/>
<path d="M43.4 53.1 43.9 50.9 44.4 49 44.8 47.4 45.3 46.1 45.8 45 46.3 44 46.7 43.2 47.2 42.5 47.7 41.9 48.2 41.4 48.6 41 49.1 40.6 49.6 40.3 50.1 40.1 50.5 39.8 51 39.7 51.5 39.5 52 39.4 52.5 39.3 52.9 39.2 53.4 39.1 53.9 39 54.4 39 54.8 38.9 55.3 38.9 55.8 38.8 56.3 38.8 56.7 38.8 57.2 38.8 57.7 38.8 59.6 38.7 65.3 38.7 71 38.7 76.7 38.6 82.4 38.5 88.1 38.4 93.8 38.3 99.5 38.2 105.2 38.2 110.9 38.2 116.6 38.4 122.3 38.5 128 38.7 133.7 38.9 136.1 38.7 137.3 38.6 138.5 38.3 139.7 38 140.9 37.6 142 37.1 143.2 36.5 144.4 35.9 145.6 35.1 146.8 34.3 148 33.6 149.2 32.9 150.4 32.5 151.6 32.3 152.7 32.6 153.9 33 155.1 33.6 156.3 34.3 157.5 34.8 158.7 35.2 159.9 35.7 161.1 36.5 162.2 38 163.4 40.4 164.6 43.6 165.8 47.2 167 50.8 168.2 54.1 169.4 56.8 170.6 59 171.8 60.4 172.9 61 174.1 60.7 175.3 59.6 176.5 58 177.7 56 178.9 53.8 180.1 51.4 181.3 49 182.4 46.6 183.6 44.3 184.8 42.2 186 40.3 187.2 38.7 188.4 37.2 189.6 35.8 190.8 34.4 192 32.9 193.1 31.4 194.3 30.2 195.5 29.7 196.7 30.4 197.9 32.4 199.1 35 200.3 36.6 201.5 38.1 202.6 42.9 203.8 52.7 205 65 206.2 75 207.4 75.9 208.6 67 209.8 56.1 211 47.9 212.2 42.5 213.3 39.4 214.5 37.6" stroke="#9467bd" stroke-width="0.70" fill="none" stroke-linejoin="round"/>
<path d="M43.4 19.5 43.9 23.3 44.4 26.5 44.8 29.2 45.3 31.5 45.8 33.4 46.3 35 46.7 36.4 47.2 37.6 47.7 38.6 48.2 39.4 48.6 40.1 49.1 40.7 49.6 41.3 50.1 41.7 50.5 42.1 51 42.4 51.5 42.7 52 42.9 52.5 43.1 52.9 43.3 53.4 43.4 53.9 43.5 54.4 43.6 54.8 43.7 55.3 43.8 55.8 43.9 56.3 44 56.7 44 57.2 44.1 57.7 44.1 59.6 44.2 65.3 44.4 71 44.3 76.7 44.3 82.4 44.3 88.1 44.4 93.8 44.6 99.5 44.9 105.2 45.2 110.9 45.5 116.6 45.5 122.3 45.4 128 45.1 133.7 44.8 136.1 44.7 137.3 44.7 138.5 44.7 139.7 44.7 140.9 44.8 142 44.9 143.2 45 144.4 45.2 145.6 45.4 146.8 45.6 148 45.8 149.2 46 150.4 46.1 151.6 46.1 152.7 45.8 153.9 45.3 155.1 44.6 156.3 43.8 157.5 43.1 158.7 42.4 159.9 41.8 161.1 41.1 162.2 40.2 163.4 39.1 164.6 37.8 165.8 36.6 167 35.4 168.2 34.4 169.4 33.7 170.6 33.1 171.8 32.8 172.9 32.7 174.1 32.8 175.3 33.2 176.5 33.9 177.7 34.7 178.9 35.7 180.1 36.7 181.3 37.7 182.4 38.7 183.6 39.6 184.8 40.5 186 41.3 187.2 41.9 188.4 42.5 189.6 43.1 190.8 43.7 192 44.4 193.1 45.1 194.3 45.6 195.5 45.9 196.7 45.7 197.9 44.9 199.1 43.9 200.3 43.4 201.5 42.8 202.6 40.8 203.8 36.4 205 31 206.2 26.5 207.4 26.2 208.6 30.4 209.8 35.5 211 39.4 212.2 42 213.3 43.4 214.5 44.2" stroke="#8c564b" stroke-width="0.70" fill="none" stroke-linejoin="round"/>
<path d="M43.4 65 43.9 62.9 44.4 61 44.8 59.4 45.3 58.1 45.8 57 46.3 56.1 46.7 55.3 47.2 54.6 47.7 54.1 48.2 53.6 48.6 53.2 49.1 52.9 49.6 52.6 50.1 52.4 50.5 52.2 51 52 51.5 51.9 52 51.8 52.5 51.7 52.9 51.6 53.4 51.5 53.9 51.5 54.4 51.5 54.8 51.4 55.3 51.4 55.8 51.4 56.3 51.4 56.7 51.4 57.2 51.4 57.7 51.4 59.6 51.4 65.3 51.4 71 51.5 76.7 51.5 82.4 51.6 88.1 51.7 93.8 51.8 99.5 51.8 105.2 51.6 110.9 51.3 116.6 51 122.3 50.8 128 50.6 133.7 50.6 136.1 50.8 137.3 51 138.5 51.2 139.7 51.6 140.9 52 142 52.5 143.2 53.1 144.4 53.8 145.6 54.6 146.8 55.4 148 56.2 149.2 56.8 150.4 57.3 151.6 57.4 152.7 57.1 153.9 56.4 155.1 55.4 156.3 54.3 157.5 53.2 158.7 52.3 159.9 51.3 161.1 50.2 162.2 48.6 163.4 46.3 164.6 43.6 165.8 40.7 167 38 168.2 35.6 169.4 33.8 170.6 32.4 171.8 31.6 172.9 31.3 174.1 31.7 175.3 32.7 176.5 34.2 177.7 36.2 178.9 38.3 180.1 40.6 181.3 42.9 182.4 45.2 183.6 47.3 184.8 49.2 186 51 187.2 52.5 188.4 53.8 189.6 55 190.8 56.1 192 57.4 193.1 58.7 194.3 59.7 195.5 60 196.7 59.3 197.9 57.2 199.1 54.7 200.3 53.1 201.5 51.6 202.6 46.8 203.8 37.2 205 25.2 206.2 15.4 207.4 14.6 208.6 23.2 209.8 33.8 211 41.8 212.2 47.1 213.3 50.1 214.5 51.9" stroke="#e377c2" stroke-width="0.70" fill="none" stroke-linejoin="round"/>
<path d="M43.4 27.4 43.9 29.9 44.4 32 44.8 33.8 45.3 35.3 45.8 36.6 46.3 37.7 46.7 38.7 47.2 39.5 47.7 40.1 48.2 40.7 48.6 41.2 49.1 41.6 49.6 42 50.1 42.3 50.5 42.6 51 42.8 51.5 43 52 43.1 52.5 43.3 52.9 43.4 53.4 43.5 53.9 43.6 54.4 43.7 54.8 43.8 55.3 43.8 55.8 43.9 56.3 43.9 56.7 44 57.2 44 57.7 44 59.6 44.1 65.3 44.2 71 44.1 76.7 43.7 82.4 43.3 88.1 42.8 93.8 42.5 99.5 42.4 105.2 42.6 110.9 43.1 116.6 43.7 122.3 44.2 128 44.5 133.7 44.6 136.1 44.5 137.3 44.5 138.5 44.4 139.7 44.4 140.9 44.4 142 44.3 143.2 44.3 144.4 44.3 145.6 44.3 146.8 44.3 148 44.3 149.2 44.2 150.4 44.1 151.6 44 152.7 43.7 153.9 43.3 155.1 42.8 156.3 42.2 157.5 41.6 158.7 41 159.9 40.5 161.1 40 162.2 39.5 163.4 38.9 164.6 38.4 165.8 37.9 167 37.6 168.2 37.3 169.4 37.2 170.6 37.1 171.8 37.1 172.9 37.1 174.1 37.1 175.3 37.3 176.5 37.6 177.7 38 178.9 38.4 180.1 38.9 181.3 39.4 182.4 39.8 183.6 40.3 184.8 40.7 186 41 187.2 41.4 188.4 41.7 189.6 42 190.8 42.3 192 42.6 193.1 43 194.3 43.3 195.5 43.6 196.7 43.6 197.9 43.3 199.1 43 200.3 42.8 201.5 42.7 202.6 41.9 203.8 40 205 37.7 206.2 35.8 207.4 35.7 208.6 37.6 209.8 40 211 41.8 212.2 43 213.3 43.6 214.5 44" stroke="#7f7f7f" stroke-width="0.70" fill="none" stroke-linejoin="round"/>
<path d="M43.4 22.9 43.9 26.4 44.4 29.5 44.8 32 45.3 34.2 45.8 36 46.3 37.5 46.7 38.8 47.2 39.9 47.7 40.9 48.2 41.6 48.6 42.3 49.1 42.9 49.6 43.4 50.1 43.8 50.5 44.1 51 44.4 51.5 44.6 52 44.8 52.5 45 52.9 45.2 53.4 45.3 53.9 45.4 54.4 45.5 54.8 45.6 55.3 45.7 55.8 45.7 56.3 45.8 56.7 45.8 57.2 45.9 57.7 45.9 59.6 46 65.3 46.2 71 46.4 76.7 46.6 82.4 46.7 88.1 46.7 93.8 46.6 99.5 46.4 105.2 46.1 110.9 45.8 116.6 45.6 122.3 45.5 128 45.5 133.7 45.7 136.1 45.8 137.3 45.9 138.5 45.9 139.7 46 140.9 46 142 46.1 143.2 46.2 144.4 46.3 145.6 46.3 146.8 46.4 148 46.4 149.2 46.5 150.4 46.6 151.6 46.7 152.7 46.8 153.9 46.9 155.1 46.9 156.3 46.9 157.5 46.9 158.7 46.8 159.9 46.7 161.1 46.8 162.2 47 163.4 47.4 164.6 48 165.8 48.8 167 49.7 168.2 50.6 169.4 51.3 170.6 51.9 171.8 52.3 172.9 52.5 174.1 52.4 175.3 52.2 176.5 51.9 177.7 51.5 178.9 51.1 180.1 50.6 181.3 50.2 182.4 49.7 183.6 49.3 184.8 48.8 186 48.4 187.2 48.1 188.4 47.7 189.6 47.3 190.8 46.9 192 46.4 193.1 46 194.3 45.6 195.5 45.4 196.7 45.3 197.9 45.5 199.1 45.8 200.3 45.9 201.5 46 202.6 46.6 203.8 48 205 49.7 206.2 51.1 207.4 51.3 208.6 50 209.8 48.4 211 47.2 212.2 46.5 213.3 46.2 214.5 46.1" stroke="#bcbd22" stroke-width="0.70" fill="none" stroke-linejoin="round"/>
<path d="M43.4 13.4 43.9 18.5 44.4 22.7 44.8 26.3 45.3 29.3 45.8 31.9 46.3 34 46.7 35.8 47.2 37.3 47.7 38.6 48.2 39.7 48.6 40.6 49.1 41.3 49.6 42 50.1 42.5 50.5 42.9 51 43.3 51.5 43.6 52 43.8 52.5 44 52.9 44.2 53.4 44.3 53.9 44.4 54.4 44.5 54.8 44.6 55.3 44.7 55.8 44.7 56.3 44.8 56.7 44.8 57.2 44.9 57.7 44.9 59.6 45.1 65.3 45.9 71 46.9 76.7 47.5 82.4 47.2 88.1 46.3 93.8 45.3 99.5 45 105.2 45.6 110.9 46.7 116.6 47.6 122.3 47.4 128 46.3 133.7 45 136.1 44.8 137.3 44.7 138.5 44.8 139.7 45 140.9 45.3 142 45.7 143.2 46.2 144.4 46.8 145.6 47.5 146.8 48.3 148 49 149.2 49.7 150.4 50.3 151.6 50.5 152.7 50.4 153.9 49.9 155.1 49.2 156.3 48.3 157.5 47.3 158.7 46.5 159.9 45.6 161.1 44.5 162.2 43 163.4 40.9 164.6 38.4 165.8 35.7 167 33.2 168.2 30.9 169.4 29 170.6 27.5 171.8 26.5 172.9 25.9 174.1 25.9 175.3 26.4 176.5 27.5 177.7 28.9 178.9 30.5 180.1 32.3 181.3 34.2 182.4 36 183.6 37.9 184.8 39.6 186 41.2 187.2 42.7 188.4 44.1 189.6 45.4 190.8 46.8 192 48.3 193.1 49.8 194.3 51.1 195.5 51.8 196.7 51.6 197.9 50.3 199.1 48.5 200.3 47.5 201.5 46.5 202.6 42.6 203.8 34.8 205 24.8 206.2 16.6 207.4 15.8 208.6 22.9 209.8 31.6 211 38.1 212.2 42.3 213.3 44.5 214.5 45.6" stroke="#17becf" stroke-width="0.70" fill="none" stroke-linejoin="round"/>
<path d="M43.4 30.4 43.9 32 44.4 33.3 44.8 34.4 45.3 35.3 45.8 36 46.3 36.6 46.7 37.2 47.2 37.6 47.7 38 48.2 38.3 48.6 38.6 49.1 38.8 49.6 39 50.1 39.2 50.5 39.4 51 39.5 51.5 39.7 52 39.8 52.5 39.9 52.9 40 53.4 40.2 53.9 40.3 54.4 40.4 54.8 40.5 55.3 40.6 55.8 40.8 56.3 40.9 56.7 41 57.2 41.1 57.7 41.2 59.6 41.7 65.3 42.6 71 42.4 76.7 41.2 82.4 39.9 88.1 39.4 93.8 40.1 99.5 41.5 105.2 42.5 110.9 42.5 116.6 41.4 122.3 40.1 128 39.7 133.7 40.4 136.1 40.8 137.3 41 138.5 41.2 139.7 41.2 140.9 41.2 142 41.1 143.2 41 144.4 40.7 145.6 40.3 146.8 39.8 148 39.3 149.2 38.8 150.4 38.4 151.6 38.2 152.7 38.2 153.9 38.3 155.1 38.5 156.3 38.7 157.5 38.8 158.7 38.8 159.9 38.8 161.1 39.2 162.2 40.1 163.4 41.7 164.6 44.1 165.8 46.9 167 49.7 168.2 52.4 169.4 54.7 170.6 56.6 171.8 57.9 172.9 58.6 174.1 58.6 175.3 58.1 176.5 57.1 177.7 55.9 178.9 54.4 180.1 52.8 181.3 51.2 182.4 49.6 183.6 48.1 184.8 46.6 186 45.2 187.2 44 188.4 42.8 189.6 41.6 190.8 40.4 192 39 193.1 37.5 194.3 36.3 195.5 35.6 196.7 35.8 197.9 37 199.1 38.7 200.3 39.6 201.5 40.4 202.6 43.9 203.8 51.4 205 60.8 206.2 68.5 207.4 69.1 208.6 62.1 209.8 53.5 211 47.2 212.2 43.1 213.3 40.9 214.5 39.8" stroke="#1f77b4" stroke-width="0.70" fill="none" stroke-linejoin="round"/>
<path d="M43.4 14.2 43.9 18.5 44.4 22.1 44.8 25.1 45.3 27.7 45.8 29.8 46.3 31.7 46.7 33.2 47.2 34.5 47.7 35.6 48.2 36.5 48.6 37.3 49.1 38 49.6 38.5 50.1 39 50.5 39.4 51 39.7 51.5 40 52 40.3 52.5 40.4 52.9 40.6 53.4 40.8 53.9 40.9 54.4 41 54.8 41.1 55.3 41.1 55.8 41.2 56.3 41.2 56.7 41.3 57.2 41.3 57.7 41.4 59.6 41.5 65.3 41.7 71 41.9 76.7 42 82.4 42 88.1 41.8 93.8 41.5 99.5 41.3 105.2 41.2 110.9 41.4 116.6 41.7 122.3 42.1 128 42.4 133.7 42.4 136.1 42.2 137.3 42 138.5 41.8 139.7 41.4 140.9 41.1 142 40.7 143.2 40.2 144.4 39.7 145.6 39.1 146.8 38.5 148 37.8 149.2 37.3 150.4 37 151.6 37 152.7 37.2 153.9 37.6 155.1 38.1 156.3 38.7 157.5 39.2 158.7 39.5 159.9 40 161.1 40.8 162.2 42.1 163.4 44.1 164.6 46.9 165.8 50 167 53.2 168.2 56.1 169.4 58.5 170.6 60.4 171.8 61.7 172.9 62.3 174.1 62.1 175.3 61.3 176.5 60 177.7 58.4 178.9 56.5 180.1 54.5 181.3 52.5 182.4 50.5 183.6 48.6 184.8 46.8 186 45.2 187.2 43.7 188.4 42.4 189.6 41.1 190.8 39.8 192 38.5 193.1 37 194.3 35.9 195.5 35.4 196.7 35.8 197.9 37.4 199.1 39.4 200.3 40.6 201.5 41.7 202.6 45.7 203.8 53.7 205 63.7 206.2 72 207.4 72.7 208.6 65.4 209.8 56.4 211 49.7 212.2 45.3 213.3 42.9 214.5 41.5" stroke="#ff7f0e" stroke-width="0.70" fill="none" stroke-linejoin="round"/>
<path d="M43.4 25.1 43.9 28.6 44.4 31.6 44.8 34 45.3 36.1 45.8 37.9 46.3 39.4 46.7 40.7 47.2 41.8 47.7 42.7 48.2 43.5 48.6 44.2 49.1 44.8 49.6 45.2 50.1 45.6 50.5 46 51 46.3 51.5 46.5 52 46.8 52.5 46.9 52.9 47.1 53.4 47.2 53.9 47.3 54.4 47.4 54.8 47.5 55.3 47.6 55.8 47.7 56.3 47.7 56.7 47.7 57.2 47.8 57.7 47.8 59.6 47.9 65.3 47.8 71 47.5 76.7 47.2 82.4 47.1 88.1 47.3 93.8 47.7 99.5 48.2 105.2 48.7 110.9 48.9 116.6 48.9 122.3 48.7 128 48.4 133.7 48.2 136.1 48.2 137.3 48.3 138.5 48.4 139.7 48.6 140.9 48.8 142 49 143.2 49.3 144.4 49.7 145.6 50.1 146.8 50.5 148 50.8 149.2 51.2 150.4 51.4 151.6 51.6 152.7 51.5 153.9 51.2 155.1 50.7 156.3 50.2 157.5 49.7 158.7 49.2 159.9 48.7 161.1 48.1 162.2 47.4 163.4 46.5 164.6 45.6 165.8 44.6 167 43.7 168.2 43 169.4 42.5 170.6 42.1 171.8 41.8 172.9 41.7 174.1 41.7 175.3 41.9 176.5 42.4 177.7 43 178.9 43.7 180.1 44.4 181.3 45.1 182.4 45.9 183.6 46.6 184.8 47.2 186 47.8 187.2 48.3 188.4 48.7 189.6 49 190.8 49.4 192 49.8 193.1 50.3 194.3 50.6 195.5 50.7 196.7 50.4 197.9 49.7 199.1 48.8 200.3 48.2 201.5 47.7 202.6 46 203.8 42.4 205 37.9 206.2 34.3 207.4 34 208.6 37.3 209.8 41.4 211 44.4 212.2 46.5 213.3 47.6 214.5 48.4" stroke="#2ca02c" stroke-width="0.70" fill="none" stroke-linejoin="round"/>
<path d="M43.4 20 43.9 23.5 44.4 26.4 44.8 28.9 45.3 31 45.8 32.8 46.3 34.3 46.7 35.5 47.2 36.6 47.7 37.5 48.2 38.3 48.6 39 49.1 39.5 49.6 40 50.1 40.4 50.5 40.8 51 41 51.5 41.3 52 41.5 52.5 41.7 52.9 41.8 53.4 42 53.9 42.1 54.4 42.2 54.8 42.3 55.3 42.3 55.8 42.4 56.3 42.5 56.7 42.5 57.2 42.5 57.7 42.6 59.6 42.7 65.3 42.8 71 42.9 76.7 42.9 82.4 42.9 88.1 42.9 93.8 43 99.5 43 105.2 43.1 110.9 43.2 116.6 43.2 122.3 43 128 42.8 133.7 42.5 136.1 42.5 137.3 42.5 138.5 42.6 139.7 42.6 140.9 42.7 142 42.8 143.2 42.9 144.4 43.1 145.6 43.3 146.8 43.6 148 43.8 149.2 44 150.4 44.1 151.6 44 152.7 43.7 153.9 43.1 155.1 42.3 156.3 41.5 157.5 40.6 158.7 39.9 159.9 39.2 161.1 38.4 162.2 37.4 163.4 36.1 164.6 34.6 165.8 33 167 31.6 168.2 30.4 169.4 29.5 170.6 28.8 171.8 28.4 172.9 28.3 174.1 28.4 175.3 29 176.5 29.8 177.7 30.8 178.9 32 180.1 33.2 181.3 34.4 182.4 35.6 183.6 36.7 184.8 37.8 186 38.7 187.2 39.5 188.4 40.3 189.6 41 190.8 41.7 192 42.6 193.1 43.4 194.3 44.2 195.5 44.6 196.7 44.4 197.9 43.5 199.1 42.3 200.3 41.6 201.5 41 202.6 38.6 203.8 33.5 205 27.1 206.2 21.8 207.4 21.4 208.6 26.2 209.8 32.1 211 36.5 212.2 39.4 213.3 40.9 214.5 41.7" stroke="#d62728" stroke-width="0.70" fill="none" stroke-linejoin="round"/>
<path d="M43.4 75.5 43.9 71.3 44.4 67.7 44.8 64.7 45.3 62.1 45.8 60 46.3 58.1 46.7 56.6 47.2 55.3 47.7 54.1 48.2 53.2 48.6 52.4 49.1 51.7 49.6 51.2 50.1 50.7 50.5 50.3 51 49.9 51.5 49.7 52 49.4 52.5 49.2 52.9 49 53.4 48.9 53.9 48.7 54.4 48.6 54.8 48.5 55.3 48.5 55.8 48.4 56.3 48.4 56.7 48.3 57.2 48.3 57.7 48.2 59.6 48.1 65.3 48.1 71 48.2 76.7 48.3 82.4 48.4 88.1 48.6 93.8 48.6 99.5 48.6 105.2 48.5 110.9 48.3 116.6 48 122.3 47.9 128 47.7 133.7 47.7 136.1 47.9 137.3 48 138.5 48.3 139.7 48.6 140.9 48.9 142 49.4 143.2 49.9 144.4 50.5 145.6 51.2 146.8 51.9 148 52.6 149.2 53.2 150.4 53.6 151.6 53.6 152.7 53.2 153.9 52.3 155.1 51.2 156.3 50 157.5 48.8 158.7 47.7 159.9 46.7 161.1 45.4 162.2 43.6 163.4 41.2 164.6 38.3 165.8 35.3 167 32.3 168.2 29.8 169.4 27.8 170.6 26.3 171.8 25.3 172.9 24.9 174.1 25.2 175.3 26.2 176.5 27.7 177.7 29.7 178.9 31.9 180.1 34.2 181.3 36.5 182.4 38.8 183.6 40.9 184.8 43 186 44.8 187.2 46.4 188.4 47.8 189.6 49.1 190.8 50.4 192 51.9 193.1 53.4 194.3 54.6 195.5 55.2 196.7 54.6 197.9 52.7 199.1 50.4 200.3 48.9 201.5 47.5 202.6 42.8 203.8 33.2 205 21.1 206.2 11.2 207.4 10.4 208.6 19.3 209.8 30.2 211 38.4 212.2 43.7 213.3 46.7 214.5 48.4" stroke="#9467bd" stroke-width="0.70" fill="none" stroke-linejoin="round"/>
<path d="M43.4 56.5 43.9 55.4 44.4 54.5 44.8 53.8 45.3 53.1 45.8 52.6 46.3 52.1 46.7 51.7 47.2 51.4 47.7 51.1 48.2 50.8 48.6 50.6 49.1 50.5 49.6 50.3 50.1 50.2 50.5 50.1 51 50 51.5 49.9 52 49.9 52.5 49.8 52.9 49.8 53.4 49.7 53.9 49.7 54.4 49.7 54.8 49.7 55.3 49.6 55.8 49.6 56.3 49.6 56.7 49.6 57.2 49.6 57.7 49.6 59.6 49.6 65.3 49.6 71 49.7 76.7 49.7 82.4 49.8 88.1 49.9 93.8 49.9 99.5 50 105.2 50 110.9 50 116.6 50 122.3 49.9 128 49.8 133.7 49.7 136.1 49.8 137.3 49.9 138.5 50.2 139.7 50.5 140.9 50.8 142 51.3 143.2 51.8 144.4 52.4 145.6 53.1 146.8 53.9 148 54.6 149.2 55.2 150.4 55.6 151.6 55.7 152.7 55.3 153.9 54.6 155.1 53.5 156.3 52.4 157.5 51.3 158.7 50.3 159.9 49.3 161.1 48.1 162.2 46.5 163.4 44.2 164.6 41.5 165.8 38.6 167 35.9 168.2 33.5 169.4 31.6 170.6 30.2 171.8 29.3 172.9 28.9 174.1 29.2 175.3 30.2 176.5 31.6 177.7 33.5 178.9 35.6 180.1 37.8 181.3 40 182.4 42.2 183.6 44.2 184.8 46.1 186 47.8 187.2 49.3 188.4 50.6 189.6 51.8 190.8 53 192 54.3 193.1 55.7 194.3 56.7 195.5 57.2 196.7 56.5 197.9 54.6 199.1 52.2 200.3 50.7 201.5 49.3 202.6 44.7 203.8 35.4 205 23.8 206.2 14.2 207.4 13.4 208.6 21.9 209.8 32.4 211 40.3 212.2 45.5 213.3 48.4 214.5 50.2" stroke="#8c564b" stroke-width="0.70" fill="none" stroke-linejoin="round"/>
<path d="M43.4 51.4 43.9 49.6 44.4 48.2 44.8 46.9 45.3 45.9 45.8 45 46.3 44.2 46.7 43.6 47.2 43 47.7 42.6 48.2 42.2 48.6 41.9 49.1 41.6 49.6 41.4 50.1 41.2 50.5 41 51 40.9 51.5 40.8 52 40.7 52.5 40.6 52.9 40.5 53.4 40.5 53.9 40.4 54.4 40.4 54.8 40.3 55.3 40.3 55.8 40.3 56.3 40.3 56.7 40.2 57.2 40.2 57.7 40.2 59.6 40.2 65.3 40 71 39.9 76.7 39.7 82.4 39.5 88.1 39.4 93.8 39.3 99.5 39.3 105.2 39.5 110.9 39.7 116.6 39.9 122.3 40.2 128 40.4 133.7 40.5 136.1 40.5 137.3 40.5 138.5 40.3 139.7 40.2 140.9 40 142 39.8 143.2 39.5 144.4 39.2 145.6 38.9 146.8 38.5 148 38.1 149.2 37.8 150.4 37.6 151.6 37.4 152.7 37.3 153.9 37.2 155.1 37.1 156.3 36.9 157.5 36.7 158.7 36.5 159.9 36.3 161.1 36.3 162.2 36.6 163.4 37.2 164.6 38.1 165.8 39.2 167 40.4 168.2 41.6 169.4 42.6 170.6 43.3 171.8 43.8 172.9 44 174.1 43.8 175.3 43.5 176.5 42.9 177.7 42.3 178.9 41.5 180.1 40.8 181.3 40 182.4 39.3 183.6 38.6 184.8 38 186 37.4 187.2 36.9 188.4 36.5 189.6 36.1 190.8 35.8 192 35.5 193.1 35.2 194.3 34.9 195.5 35 196.7 35.4 197.9 36.2 199.1 37.2 200.3 37.8 201.5 38.5 202.6 40.1 203.8 43.2 205 47 206.2 50.1 207.4 50.4 208.6 47.9 209.8 44.8 211 42.5 212.2 40.9 213.3 40 214.5 39.4" stroke="#e377c2" stroke-width="0.70" fill="none" stroke-linejoin="round"/>
<path d="M43.4 67.9 43.9 63.9 44.4 60.4 44.8 57.5 45.3 55 45.8 53 46.3 51.2 46.7 49.7 47.2 48.4 47.7 47.4 48.2 46.5 48.6 45.7 49.1 45 49.6 44.5 50.1 44 50.5 43.6 51 43.3 51.5 43 52 42.8 52.5 42.6 52.9 42.4 53.4 42.2 53.9 42.1 54.4 42 54.8 41.9 55.3 41.8 55.8 41.7 56.3 41.7 56.7 41.6 57.2 41.6 57.7 41.5 59.6 41.4 65.3 41.1 71 40.9 76.7 40.9 82.4 41.1 88.1 41.2 93.8 41.3 99.5 41.3 105.2 41.2 110.9 41.1 116.6 41 122.3 41 128 41.2 133.7 41.4 136.1 41.4 137.3 41.4 138.5 41.3 139.7 41.1 140.9 40.9 142 40.7 143.2 40.4 144.4 40 145.6 39.7 146.8 39.2 148 38.8 149.2 38.5 150.4 38.2 151.6 38.1 152.7 38.1 153.9 38.3 155.1 38.4 156.3 38.5 157.5 38.6 158.7 38.6 159.9 38.7 161.1 39 162.2 39.6 163.4 40.8 164.6 42.5 165.8 44.4 167 46.4 168.2 48.2 169.4 49.8 170.6 51 171.8 51.9 172.9 52.2 174.1 52.1 175.3 51.6 176.5 50.8 177.7 49.8 178.9 48.7 180.1 47.5 181.3 46.3 182.4 45.1 183.6 44 184.8 43 186 42 187.2 41.2 188.4 40.4 189.6 39.7 190.8 39 192 38.2 193.1 37.4 194.3 36.8 195.5 36.6 196.7 36.9 197.9 38 199.1 39.2 200.3 40.1 201.5 40.8 202.6 43.2 203.8 48.1 205 54.3 206.2 59.3 207.4 59.7 208.6 55.2 209.8 49.8 211 45.7 212.2 43 213.3 41.4 214.5 40.5" stroke="#7f7f7f" stroke-width="0.70" fill="none" stroke-linejoin="round"/>
<path d="M43.4 40.1 43.9 40.1 44.4 40.1 44.8 40.2 45.3 40.2 45.8 40.2 46.3 40.2 46.7 40.2 47.2 40.2 47.7 40.2 48.2 40.2 48.6 40.2 49.1 40.2 49.6 40.2 50.1 40.2 50.5 40.2 51 40.2 51.5 40.1 52 40.1 52.5 40.1 52.9 40.1 53.4 40.1 53.9 40.1 54.4 40.1 54.8 40.1 55.3 40.1 55.8 40 56.3 40 56.7 40 57.2 40 57.7 40 59.6 40 65.3 40.1 71 40.2 76.7 40.4 82.4 40.5 88.1 40.6 93.8 40.5 99.5 40.3 105.2 40.2 110.9 40 116.6 39.9 122.3 40 128 40.2 133.7 40.4 136.1 40.4 137.3 40.3 138.5 40.2 139.7 40 140.9 39.8 142 39.5 143.2 39.1 144.4 38.7 145.6 38.3 146.8 37.7 148 37.2 149.2 36.8 150.4 36.5 151.6 36.4 152.7 36.5 153.9 36.7 155.1 37 156.3 37.3 157.5 37.5 158.7 37.6 159.9 37.8 161.1 38.3 162.2 39.2 163.4 40.7 164.6 42.8 165.8 45.2 167 47.6 168.2 49.8 169.4 51.7 170.6 53.2 171.8 54.2 172.9 54.6 174.1 54.4 175.3 53.7 176.5 52.6 177.7 51.3 178.9 49.8 180.1 48.2 181.3 46.7 182.4 45.1 183.6 43.6 184.8 42.3 186 41.1 187.2 40 188.4 39.1 189.6 38.2 190.8 37.3 192 36.3 193.1 35.4 194.3 34.6 195.5 34.4 196.7 34.9 197.9 36.3 199.1 38 200.3 39.1 201.5 40.1 202.6 43.3 203.8 49.7 205 57.8 206.2 64.3 207.4 64.9 208.6 59.1 209.8 52 211 46.6 212.2 43.1 213.3 41.1 214.5 39.8" stroke="#bcbd22" stroke-width="0.70" fill="none" stroke-linejoin="round"/>
<path d="M43.4 34.7 43.9 36.7 44.4 38.5 44.8 39.9 45.3 41.2 45.8 42.2 46.3 43.1 46.7 43.9 47.2 44.5 47.7 45 48.2 45.5 48.6 45.9 49.1 46.2 49.6 46.5 50.1 46.7 50.5 46.9 51 47.1 51.5 47.2 52 47.3 52.5 47.4 52.9 47.5 53.4 47.6 53.9 47.6 54.4 47.7 54.8 47.7 55.3 47.8 55.8 47.8 56.3 47.8 56.7 47.9 57.2 47.9 57.7 47.9 59.6 48 65.3 48.2 71 48.4 76.7 48.5 82.4 48.6 88.1 48.6 93.8 48.5 99.5 48.3 105.2 48.2 110.9 48.1 116.6 48.1 122.3 48.2 128 48.2 133.7 48.2 136.1 48.3 137.3 48.5 138.5 48.6 139.7 48.9 140.9 49.2 142 49.6 143.2 50 144.4 50.5 145.6 51.1 146.8 51.8 148 52.4 149.2 52.9 150.4 53.2 151.6 53.2 152.7 52.8 153.9 52.1 155.1 51.1 156.3 49.9 157.5 48.9 158.7 47.9 159.9 47 161.1 45.8 162.2 44.3 163.4 42.2 164.6 39.7 165.8 37.1 167 34.5 168.2 32.4 169.4 30.7 170.6 29.4 171.8 28.6 172.9 28.4 174.1 28.6 175.3 29.5 176.5 30.9 177.7 32.6 178.9 34.6 180.1 36.6 181.3 38.7 182.4 40.7 183.6 42.6 184.8 44.4 186 46 187.2 47.3 188.4 48.5 189.6 49.7 190.8 50.8 192 52 193.1 53.3 194.3 54.3 195.5 54.7 196.7 54.1 197.9 52.4 199.1 50.2 200.3 48.9 201.5 47.6 202.6 43.4 203.8 34.8 205 24.1 206.2 15.3 207.4 14.6 208.6 22.4 209.8 32 211 39.3 212.2 44 213.3 46.7 214.5 48.3" stroke="#17becf" stroke-width="0.70" fill="none" stroke-linejoin="round"/>
<path d="M43.4 70 43.9 65.9 44.4 62.4 44.8 59.4 45.3 56.9 45.8 54.8 46.3 53 46.7 51.5 47.2 50.2 47.7 49.1 48.2 48.2 48.6 47.4 49.1 46.8 49.6 46.2 50.1 45.7 50.5 45.3 51 45 51.5 44.7 52 44.5 52.5 44.3 52.9 44.1 53.4 43.9 53.9 43.8 54.4 43.7 54.8 43.6 55.3 43.6 55.8 43.5 56.3 43.5 56.7 43.4 57.2 43.4 57.7 43.4 59.6 43.4 65.3 43.5 71 43.8 76.7 44 82.4 44 88.1 43.8 93.8 43.5 99.5 43.2 105.2 43 110.9 43 116.6 43.1 122.3 43.1 128 43 133.7 42.8 136.1 42.9 137.3 43 138.5 43.1 139.7 43.2 140.9 43.3 142 43.6 143.2 43.8 144.4 44.1 145.6 44.5 146.8 44.9 148 45.3 149.2 45.6 150.4 45.8 151.6 45.8 152.7 45.4 153.9 44.7 155.1 43.8 156.3 42.8 157.5 41.9 158.7 41 159.9 40.2 161.1 39.2 162.2 37.9 163.4 36.2 164.6 34.1 165.8 32 167 30 168.2 28.3 169.4 26.9 170.6 25.8 171.8 25.2 172.9 24.9 174.1 25 175.3 25.6 176.5 26.6 177.7 27.8 178.9 29.3 180.1 30.8 181.3 32.4 182.4 33.9 183.6 35.4 184.8 36.7 186 37.9 187.2 39 188.4 40 189.6 40.9 190.8 41.9 192 43 193.1 44.2 194.3 45.3 195.5 45.8 196.7 45.6 197.9 44.4 199.1 42.9 200.3 42.1 201.5 41.3 202.6 38.2 203.8 31.6 205 23.3 206.2 16.4 207.4 15.9 208.6 22.2 209.8 30 211 35.8 212.2 39.6 213.3 41.6 214.5 42.6" stroke="#1f77b4" stroke-width="0.70" fill="none" stroke-linejoin="round"/>
<path d="M43.4 59.2 43.9 57 44.4 55.1 44.8 53.4 45.3 52 45.8 50.9 46.3 49.9 46.7 49 47.2 48.3 47.7 47.7 48.2 47.1 48.6 46.7 49.1 46.3 49.6 46 50.1 45.7 50.5 45.4 51 45.2 51.5 45.1 52 44.9 52.5 44.8 52.9 44.7 53.4 44.6 53.9 44.5 54.4 44.5 54.8 44.4 55.3 44.4 55.8 44.3 56.3 44.3 56.7 44.3 57.2 44.3 57.7 44.3 59.6 44.3 65.3 44.5 71 44.9 76.7 45.3 82.4 45.5 88.1 45.5 93.8 45.3 99.5 45 105.2 44.6 110.9 44.3 116.6 44.2 122.3 44.3 128 44.6 133.7 45 136.1 45.2 137.3 45.3 138.5 45.4 139.7 45.6 140.9 45.7 142 45.9 143.2 46.1 144.4 46.2 145.6 46.4 146.8 46.7 148 46.8 149.2 47 150.4 47 151.6 47 152.7 46.8 153.9 46.4 155.1 45.8 156.3 45.2 157.5 44.6 158.7 44 159.9 43.4 161.1 42.8 162.2 42.1 163.4 41.3 164.6 40.5 165.8 39.8 167 39.1 168.2 38.6 169.4 38.2 170.6 37.9 171.8 37.7 172.9 37.6 174.1 37.6 175.3 37.8 176.5 38.1 177.7 38.6 178.9 39.1 180.1 39.7 181.3 40.3 182.4 40.9 183.6 41.5 184.8 42 186 42.6 187.2 43 188.4 43.4 189.6 43.8 190.8 44.2 192 44.7 193.1 45.2 194.3 45.7 195.5 45.9 196.7 45.9 197.9 45.5 199.1 45 200.3 44.8 201.5 44.5 202.6 43.4 203.8 40.8 205 37.6 206.2 34.9 207.4 34.8 208.6 37.4 209.8 40.5 211 42.9 212.2 44.5 213.3 45.3 214.5 45.8" stroke="#ff7f0e" stroke-width="0.70" fill="none" stroke-linejoin="round"/>
<path d="M43.4 39.8 43.9 41.2 44.4 42.5 44.8 43.5 45.3 44.4 45.8 45.1 46.3 45.8 46.7 46.3 47.2 46.8 47.7 47.2 48.2 47.5 48.6 47.8 49.1 48.1 49.6 48.3 50.1 48.5 50.5 48.7 51 48.8 51.5 49 52 49.1 52.5 49.2 52.9 49.3 53.4 49.4 53.9 49.5 54.4 49.5 54.8 49.6 55.3 49.7 55.8 49.7 56.3 49.8 56.7 49.8 57.2 49.8 57.7 49.9 59.6 50 65.3 49.9 71 49.5 76.7 49.2 82.4 49.1 88.1 49.5 93.8 49.9 99.5 50.2 105.2 50.1 110.9 49.6 116.6 49.2 122.3 49.1 128 49.4 133.7 49.7 136.1 49.9 137.3 50.1 138.5 50.2 139.7 50.4 140.9 50.6 142 50.9 143.2 51.1 144.4 51.4 145.6 51.8 146.8 52.1 148 52.5 149.2 52.7 150.4 52.9 151.6 52.9 152.7 52.7 153.9 52.3 155.1 51.8 156.3 51.1 157.5 50.5 158.7 50 159.9 49.5 161.1 49 162.2 48.3 163.4 47.4 164.6 46.5 165.8 45.5 167 44.7 168.2 44 169.4 43.6 170.6 43.3 171.8 43.2 172.9 43.3 174.1 43.5 175.3 44 176.5 44.7 177.7 45.6 178.9 46.5 180.1 47.4 181.3 48.4 182.4 49.2 183.6 50.1 184.8 50.8 186 51.4 187.2 51.9 188.4 52.3 189.6 52.7 190.8 52.9 192 53.3 193.1 53.6 194.3 53.9 195.5 53.8 196.7 53.4 197.9 52.4 199.1 51.2 200.3 50.4 201.5 49.8 202.6 47.7 203.8 43.6 205 38.5 206.2 34.3 207.4 34.1 208.6 37.8 209.8 42.4 211 45.9 212.2 48.3 213.3 49.7 214.5 50.6" stroke="#2ca02c" stroke-width="0.70" fill="none" stroke-linejoin="round"/>
<path d="M43.4 16.3 43.9 20.4 44.4 24 44.8 27 45.3 29.5 45.8 31.6 46.3 33.5 46.7 35 47.2 36.3 47.7 37.5 48.2 38.4 48.6 39.2 49.1 39.9 49.6 40.5 50.1 41 50.5 41.4 51 41.8 51.5 42.1 52 42.4 52.5 42.6 52.9 42.8 53.4 43 53.9 43.1 54.4 43.3 54.8 43.4 55.3 43.4 55.8 43.5 56.3 43.6 56.7 43.6 57.2 43.7 57.7 43.7 59.6 43.8 65.3 43.6 71 43.2 76.7 43.1 82.4 43.3 88.1 43.7 93.8 43.9 99.5 43.9 105.2 43.5 110.9 43.3 116.6 43.2 122.3 43.4 128 43.7 133.7 43.8 136.1 43.8 137.3 43.8 138.5 43.7 139.7 43.7 140.9 43.7 142 43.7 143.2 43.7 144.4 43.7 145.6 43.7 146.8 43.8 148 43.8 149.2 43.9 150.4 43.9 151.6 43.8 152.7 43.6 153.9 43.3 155.1 42.8 156.3 42.3 157.5 41.8 158.7 41.3 159.9 40.9 161.1 40.5 162.2 40 163.4 39.5 164.6 39 165.8 38.5 167 38.1 168.2 37.8 169.4 37.6 170.6 37.5 171.8 37.4 172.9 37.4 174.1 37.4 175.3 37.5 176.5 37.8 177.7 38.2 178.9 38.6 180.1 39 181.3 39.5 182.4 39.9 183.6 40.3 184.8 40.7 186 41 187.2 41.3 188.4 41.6 189.6 41.8 190.8 42.2 192 42.5 193.1 42.9 194.3 43.3 195.5 43.5 196.7 43.5 197.9 43.3 199.1 42.9 200.3 42.7 201.5 42.5 202.6 41.6 203.8 39.4 205 36.7 206.2 34.5 207.4 34.3 208.6 36.5 209.8 39.2 211 41.2 212.2 42.5 213.3 43.1 214.5 43.4" stroke="#d62728" stroke-width="0.70" fill="none" stroke-linejoin="round"/>
<path d="M43.4 31.5 43.9 33.8 44.4 35.8 44.8 37.5 45.3 38.9 45.8 40.1 46.3 41.1 46.7 42 47.2 42.7 47.7 43.3 48.2 43.8 48.6 44.2 49.1 44.6 49.6 44.9 50.1 45.2 50.5 45.4 51 45.6 51.5 45.7 52 45.8 52.5 45.9 52.9 46 53.4 46.1 53.9 46.2 54.4 46.2 54.8 46.3 55.3 46.3 55.8 46.4 56.3 46.4 56.7 46.4 57.2 46.5 57.7 46.5 59.6 46.5 65.3 46.7 71 46.7 76.7 46.7 82.4 46.7 88.1 46.9 93.8 47.2 99.5 47.6 105.2 47.9 110.9 48.2 116.6 48.1 122.3 47.7 128 47.1 133.7 46.3 136.1 46.2 137.3 46.2 138.5 46.2 139.7 46.3 140.9 46.5 142 46.7 143.2 47 144.4 47.4 145.6 47.9 146.8 48.4 148 48.9 149.2 49.3 150.4 49.6 151.6 49.7 152.7 49.5 153.9 49 155.1 48.2 156.3 47.5 157.5 46.7 158.7 46 159.9 45.4 161.1 44.6 162.2 43.5 163.4 42 164.6 40.3 165.8 38.4 167 36.7 168.2 35.2 169.4 34.1 170.6 33.3 171.8 32.8 172.9 32.6 174.1 32.9 175.3 33.6 176.5 34.6 177.7 35.9 178.9 37.3 180.1 38.8 181.3 40.4 182.4 41.8 183.6 43.2 184.8 44.5 186 45.6 187.2 46.6 188.4 47.4 189.6 48.2 190.8 49 192 49.9 193.1 50.8 194.3 51.6 195.5 51.8 196.7 51.4 197.9 50.1 199.1 48.4 200.3 47.4 201.5 46.4 202.6 43.2 203.8 36.8 205 28.6 206.2 22 207.4 21.4 208.6 27.3 209.8 34.7 211 40.2 212.2 43.8 213.3 45.8 214.5 47" stroke="#9467bd" stroke-width="0.70" fill="none" stroke-linejoin="round"/>
<path d="M43.4 44.8 43.9 44.2 44.4 43.7 44.8 43.2 45.3 42.9 45.8 42.5 46.3 42.3 46.7 42.1 47.2 41.9 47.7 41.7 48.2 41.6 48.6 41.5 49.1 41.4 49.6 41.4 50.1 41.3 50.5 41.3 51 41.2 51.5 41.2 52 41.2 52.5 41.2 52.9 41.2 53.4 41.2 53.9 41.2 54.4 41.2 54.8 41.2 55.3 41.2 55.8 41.3 56.3 41.3 56.7 41.3 57.2 41.3 57.7 41.4 59.6 41.5 65.3 41.7 71 41.8 76.7 41.7 82.4 41.5 88.1 41.1 93.8 40.8 99.5 40.5 105.2 40.5 110.9 40.6 116.6 41 122.3 41.4 128 41.8 133.7 42.1 136.1 42 137.3 41.9 138.5 41.7 139.7 41.5 140.9 41.3 142 40.9 143.2 40.6 144.4 40.1 145.6 39.6 146.8 39.1 148 38.6 149.2 38.1 150.4 37.8 151.6 37.6 152.7 37.7 153.9 37.8 155.1 38 156.3 38.2 157.5 38.3 158.7 38.4 159.9 38.5 161.1 38.9 162.2 39.7 163.4 41.1 164.6 43 165.8 45.3 167 47.6 168.2 49.7 169.4 51.5 170.6 53 171.8 53.9 172.9 54.3 174.1 54.2 175.3 53.6 176.5 52.6 177.7 51.4 178.9 50.1 180.1 48.7 181.3 47.3 182.4 45.9 183.6 44.6 184.8 43.4 186 42.3 187.2 41.4 188.4 40.6 189.6 39.8 190.8 39 192 38.2 193.1 37.3 194.3 36.7 195.5 36.4 196.7 36.9 197.9 38.3 199.1 39.9 200.3 40.9 201.5 41.9 202.6 44.9 203.8 50.9 205 58.3 206.2 64.4 207.4 64.9 208.6 59.5 209.8 52.9 211 47.9 212.2 44.6 213.3 42.7 214.5 41.5" stroke="#8c564b" stroke-width="0.70" fill="none" stroke-linejoin="round"/>
<path d="M43.4 79.7 43.9 73.6 44.4 68.3 44.8 63.9 45.3 60.1 45.8 57 46.3 54.2 46.7 52 47.2 50 47.7 48.3 48.2 46.9 48.6 45.7 49.1 44.7 49.6 43.8 50.1 43.1 50.5 42.5 51 41.9 51.5 41.4 52 41 52.5 40.7 52.9 40.4 53.4 40.2 53.9 39.9 54.4 39.7 54.8 39.6 55.3 39.4 55.8 39.3 56.3 39.2 56.7 39.1 57.2 39 57.7 39 59.6 38.8 65.3 38.8 71 39.1 76.7 39.4 82.4 39.6 88.1 39.5 93.8 39.2 99.5 38.8 105.2 38.5 110.9 38.5 116.6 38.9 122.3 39.4 128 39.9 133.7 40.1 136.1 39.9 137.3 39.7 138.5 39.4 139.7 39.1 140.9 38.6 142 38.1 143.2 37.6 144.4 36.9 145.6 36.2 146.8 35.4 148 34.6 149.2 33.9 150.4 33.5 151.6 33.3 152.7 33.4 153.9 33.8 155.1 34.2 156.3 34.7 157.5 35.1 158.7 35.5 159.9 35.9 161.1 36.6 162.2 37.9 163.4 40.1 164.6 42.9 165.8 46.2 167 49.5 168.2 52.4 169.4 55 170.6 57 171.8 58.4 172.9 59 174.1 58.8 175.3 57.9 176.5 56.6 177.7 54.9 178.9 52.9 180.1 50.8 181.3 48.7 182.4 46.6 183.6 44.7 184.8 42.8 186 41.1 187.2 39.6 188.4 38.2 189.6 36.9 190.8 35.6 192 34.3 193.1 32.8 194.3 31.7 195.5 31.2 196.7 31.8 197.9 33.5 199.1 35.7 200.3 37.1 201.5 38.4 202.6 42.6 203.8 51.2 205 61.9 206.2 70.7 207.4 71.4 208.6 63.7 209.8 54.2 211 47.1 212.2 42.4 213.3 39.8 214.5 38.2" stroke="#e377c2" stroke-width="0.70" fill="none" stroke-linejoin="round"/>
<path d="M43.4 45.8 43.9 45.6 44.4 45.4 44.8 45.3 45.3 45.2 45.8 45.1 46.3 45 46.7 44.9 47.2 44.9 47.7 44.8 48.2 44.8 48.6 44.7 49.1 44.7 49.6 44.7 50.1 44.7 50.5 44.7 51 44.7 51.5 44.7 52 44.6 52.5 44.6 52.9 44.6 53.4 44.6 53.9 44.7 54.4 44.7 54.8 44.7 55.3 44.7 55.8 44.7 56.3 44.7 56.7 44.7 57.2 44.7 57.7 44.7 59.6 44.7 65.3 44.9 71 45 76.7 45 82.4 45.1 88.1 45.1 93.8 45 99.5 45 105.2 44.9 110.9 44.8 116.6 44.7 122.3 44.6 128 44.5 133.7 44.5 136.1 44.5 137.3 44.6 138.5 44.7 139.7 44.8 140.9 44.9 142 45.1 143.2 45.3 144.4 45.5 145.6 45.8 146.8 46.1 148 46.4 149.2 46.6 150.4 46.7 151.6 46.7 152.7 46.5 153.9 46 155.1 45.3 156.3 44.6 157.5 43.9 158.7 43.3 159.9 42.6 161.1 41.9 162.2 41.1 163.4 40 164.6 38.8 165.8 37.6 167 36.5 168.2 35.6 169.4 34.9 170.6 34.4 171.8 34.1 172.9 33.9 174.1 34.1 175.3 34.5 176.5 35.1 177.7 35.9 178.9 36.9 180.1 37.9 181.3 38.8 182.4 39.8 183.6 40.7 184.8 41.6 186 42.3 187.2 43 188.4 43.6 189.6 44.2 190.8 44.7 192 45.4 193.1 46.1 194.3 46.6 195.5 46.9 196.7 46.7 197.9 45.9 199.1 45 200.3 44.4 201.5 43.9 202.6 41.8 203.8 37.6 205 32.4 206.2 28 207.4 27.7 208.6 31.6 209.8 36.5 211 40.1 212.2 42.5 213.3 43.8 214.5 44.5" stroke="#7f7f7f" stroke-width="0.70" fill="none" stroke-linejoin="round"/>
<path d="M43.4 59.4 43.9 57.6 44.4 56 44.8 54.8 45.3 53.7 45.8 52.8 46.3 52 46.7 51.3 47.2 50.7 47.7 50.3 48.2 49.9 48.6 49.5 49.1 49.2 49.6 49 50.1 48.8 50.5 48.6 51 48.4 51.5 48.3 52 48.2 52.5 48.1 52.9 48 53.4 47.9 53.9 47.8 54.4 47.8 54.8 47.7 55.3 47.7 55.8 47.7 56.3 47.6 56.7 47.6 57.2 47.6 57.7 47.5 59.6 47.5 65.3 47.4 71 47.5 76.7 47.6 82.4 47.8 88.1 47.9 93.8 47.9 99.5 47.8 105.2 47.7 110.9 47.5 116.6 47.4 122.3 47.3 128 47.4 133.7 47.5 136.1 47.6 137.3 47.6 138.5 47.7 139.7 47.7 140.9 47.8 142 47.9 143.2 48 144.4 48.1 145.6 48.2 146.8 48.3 148 48.4 149.2 48.5 150.4 48.6 151.6 48.7 152.7 48.7 153.9 48.7 155.1 48.6 156.3 48.5 157.5 48.3 158.7 48.1 159.9 48 161.1 47.9 162.2 47.9 163.4 48.1 164.6 48.5 165.8 49 167 49.6 168.2 50.2 169.4 50.7 170.6 51.2 171.8 51.6 172.9 51.7 174.1 51.8 175.3 51.7 176.5 51.6 177.7 51.5 178.9 51.4 180.1 51.3 181.3 51.1 182.4 51 183.6 50.8 184.8 50.7 186 50.6 187.2 50.4 188.4 50.3 189.6 50.1 190.8 49.9 192 49.6 193.1 49.4 194.3 49.1 195.5 48.9 196.7 48.8 197.9 48.8 199.1 48.8 200.3 48.8 201.5 48.8 202.6 48.9 203.8 49.3 205 49.8 206.2 50.2 207.4 50.2 208.6 49.7 209.8 49.1 211 48.6 212.2 48.3 213.3 48.2 214.5 48.2" stroke="#bcbd22" stroke-width="0.70" fill="none" stroke-linejoin="round"/>
<path d="M43.4 21 43.9 24.8 44.4 28.1 44.8 30.8 45.3 33.1 45.8 35.1 46.3 36.8 46.7 38.3 47.2 39.5 47.7 40.5 48.2 41.4 48.6 42.2 49.1 42.9 49.6 43.4 50.1 43.9 50.5 44.4 51 44.7 51.5 45 52 45.3 52.5 45.6 52.9 45.8 53.4 45.9 53.9 46.1 54.4 46.2 54.8 46.4 55.3 46.5 55.8 46.6 56.3 46.6 56.7 46.7 57.2 46.7 57.7 46.8 59.6 46.9 65.3 46.5 71 45.8 76.7 45.2 82.4 45.3 88.1 45.9 93.8 46.7 99.5 47.1 105.2 46.8 110.9 46.1 116.6 45.4 122.3 45.2 128 45.6 133.7 46.3 136.1 46.6 137.3 46.8 138.5 46.9 139.7 47 140.9 47.1 142 47.2 143.2 47.3 144.4 47.4 145.6 47.4 146.8 47.5 148 47.5 149.2 47.5 150.4 47.5 151.6 47.3 152.7 47.1 153.9 46.8 155.1 46.4 156.3 45.9 157.5 45.4 158.7 45 159.9 44.6 161.1 44.3 162.2 44 163.4 43.7 164.6 43.6 165.8 43.5 167 43.6 168.2 43.8 169.4 44 170.6 44.2 171.8 44.5 172.9 44.6 174.1 44.8 175.3 45 176.5 45.3 177.7 45.6 178.9 45.9 180.1 46.2 181.3 46.5 182.4 46.7 183.6 47 184.8 47.1 186 47.3 187.2 47.3 188.4 47.4 189.6 47.3 190.8 47.3 192 47.3 193.1 47.3 194.3 47.2 195.5 47.1 196.7 46.9 197.9 46.6 199.1 46.2 200.3 45.9 201.5 45.7 202.6 45.1 203.8 43.9 205 42.4 206.2 41.2 207.4 41.2 208.6 42.3 209.8 43.7 211 44.8 212.2 45.6 213.3 46.1 214.5 46.4" stroke="#17becf" stroke-width="0.70" fill="none" stroke-linejoin="round"/>
<path d="M43.4 23.3 43.9 26.9 44.4 30 44.8 32.7 45.3 34.9 45.8 36.7 46.3 38.3 46.7 39.6 47.2 40.8 47.7 41.7 48.2 42.5 48.6 43.1 49.1 43.7 49.6 44.1 50.1 44.5 50.5 44.8 51 45 51.5 45.2 52 45.3 52.5 45.5 52.9 45.6 53.4 45.6 53.9 45.7 54.4 45.7 54.8 45.7 55.3 45.7 55.8 45.7 56.3 45.7 56.7 45.6 57.2 45.6 57.7 45.6 59.6 45.5 65.3 45.3 71 45.8 76.7 46.5 82.4 47.1 88.1 47.3 93.8 46.8 99.5 46.1 105.2 45.4 110.9 45.3 116.6 45.7 122.3 46.6 128 47.4 133.7 47.7 136.1 47.5 137.3 47.3 138.5 47.1 139.7 46.8 140.9 46.5 142 46.2 143.2 45.8 144.4 45.4 145.6 44.9 146.8 44.4 148 43.9 149.2 43.5 150.4 43.3 151.6 43.3 152.7 43.5 153.9 43.9 155.1 44.4 156.3 44.9 157.5 45.4 158.7 45.8 159.9 46.3 161.1 47.1 162.2 48.4 163.4 50.3 164.6 52.9 165.8 55.8 167 58.7 168.2 61.5 169.4 63.8 170.6 65.7 171.8 67 172.9 67.7 174.1 67.6 175.3 67.1 176.5 66.1 177.7 64.7 178.9 63.2 180.1 61.5 181.3 59.7 182.4 58 183.6 56.3 184.8 54.7 186 53.2 187.2 51.9 188.4 50.5 189.6 49.2 190.8 47.8 192 46.4 193.1 44.9 194.3 43.6 195.5 42.8 196.7 42.9 197.9 43.9 199.1 45.3 200.3 46.2 201.5 46.9 202.6 50.1 203.8 56.7 205 65.1 206.2 72.1 207.4 72.7 208.6 66.5 209.8 58.9 211 53.3 212.2 49.7 213.3 47.9 214.5 47" stroke="#1f77b4" stroke-width="0.70" fill="none" stroke-linejoin="round"/>
<path d="M43.4 37.5 43.9 38.6 44.4 39.6 44.8 40.3 45.3 41 45.8 41.6 46.3 42 46.7 42.4 47.2 42.8 47.7 43.1 48.2 43.3 48.6 43.5 49.1 43.7 49.6 43.8 50.1 44 50.5 44.1 51 44.2 51.5 44.2 52 44.3 52.5 44.4 52.9 44.4 53.4 44.4 53.9 44.5 54.4 44.5 54.8 44.5 55.3 44.5 55.8 44.5 56.3 44.6 56.7 44.6 57.2 44.6 57.7 44.6 59.6 44.6 65.3 44.5 71 44.5 76.7 44.4 82.4 44.4 88.1 44.3 93.8 44.4 99.5 44.4 105.2 44.4 110.9 44.5 116.6 44.5 122.3 44.6 128 44.7 133.7 44.7 136.1 44.6 137.3 44.5 138.5 44.4 139.7 44.2 140.9 44.1 142 43.8 143.2 43.6 144.4 43.2 145.6 42.9 146.8 42.5 148 42.1 149.2 41.7 150.4 41.6 151.6 41.6 152.7 41.9 153.9 42.3 155.1 42.8 156.3 43.3 157.5 43.7 158.7 44 159.9 44.4 161.1 45.1 162.2 46.2 163.4 48 164.6 50.4 165.8 53.1 167 55.9 168.2 58.4 169.4 60.6 170.6 62.3 171.8 63.5 172.9 63.9 174.1 63.8 175.3 63 176.5 61.9 177.7 60.5 178.9 58.9 180.1 57.2 181.3 55.4 182.4 53.7 183.6 52.1 184.8 50.6 186 49.2 187.2 48 188.4 46.8 189.6 45.7 190.8 44.6 192 43.3 193.1 42.1 194.3 41 195.5 40.5 196.7 40.8 197.9 42.1 199.1 43.7 200.3 44.7 201.5 45.6 202.6 48.9 203.8 55.7 205 64.3 206.2 71.4 207.4 72 208.6 65.6 209.8 57.7 211 51.8 212.2 48 213.3 45.9 214.5 44.7" stroke="#ff7f0e" stroke-width="0.70" fill="none" stroke-linejoin="round"/>
<path d="M43.4 73.6 43.9 69.8 44.4 66.5 44.8 63.8 45.3 61.4 45.8 59.5 46.3 57.8 46.7 56.4 47.2 55.2 47.7 54.2 48.2 53.4 48.6 52.7 49.1 52.1 49.6 51.6 50.1 51.2 50.5 50.8 51 50.5 51.5 50.3 52 50.1 52.5 49.9 52.9 49.8 53.4 49.6 53.9 49.5 54.4 49.4 54.8 49.4 55.3 49.3 55.8 49.3 56.3 49.2 56.7 49.2 57.2 49.2 57.7 49.1 59.6 49 65.3 48.9 71 48.7 76.7 48.5 82.4 48.5 88.1 48.6 93.8 48.8 99.5 48.9 105.2 48.8 110.9 48.6 116.6 48.5 122.3 48.5 128 48.6 133.7 48.8 136.1 48.9 137.3 49 138.5 49.1 139.7 49.3 140.9 49.5 142 49.8 143.2 50.1 144.4 50.4 145.6 50.8 146.8 51.1 148 51.5 149.2 51.8 150.4 52 151.6 52.1 152.7 51.9 153.9 51.4 155.1 50.8 156.3 50.2 157.5 49.5 158.7 49 159.9 48.4 161.1 47.7 162.2 47 163.4 45.9 164.6 44.8 165.8 43.6 167 42.6 168.2 41.7 169.4 41.1 170.6 40.7 171.8 40.5 172.9 40.4 174.1 40.6 175.3 41.1 176.5 41.9 177.7 42.7 178.9 43.7 180.1 44.8 181.3 45.8 182.4 46.8 183.6 47.8 184.8 48.6 186 49.4 187.2 50 188.4 50.5 189.6 51 190.8 51.5 192 51.9 193.1 52.4 194.3 52.8 195.5 52.9 196.7 52.5 197.9 51.5 199.1 50.3 200.3 49.5 201.5 48.8 202.6 46.5 203.8 42.1 205 36.5 206.2 32 207.4 31.7 208.6 35.7 209.8 40.6 211 44.4 212.2 46.9 213.3 48.4 214.5 49.3" stroke="#2ca02c" stroke-width="0.70" fill="none" stroke-linejoin="round"/>
<path d="M43.4 38.1 43.9 38.5 44.4 38.8 44.8 39.1 45.3 39.4 45.8 39.6 46.3 39.8 46.7 39.9 47.2 40 47.7 40.1 48.2 40.2 48.6 40.3 49.1 40.3 49.6 40.4 50.1 40.4 50.5 40.4 51 40.5 51.5 40.5 52 40.5 52.5 40.5 52.9 40.5 53.4 40.5 53.9 40.5 54.4 40.5 54.8 40.5 55.3 40.5 55.8 40.6 56.3 40.6 56.7 40.6 57.2 40.6 57.7 40.6 59.6 40.6 65.3 40.6 71 40.8 76.7 40.8 82.4 40.9 88.1 40.9 93.8 40.8 99.5 40.9 105.2 41 110.9 41.1 116.6 41.2 122.3 41.2 128 41.2 133.7 41.1 136.1 40.9 137.3 40.8 138.5 40.5 139.7 40.3 140.9 39.9 142 39.5 143.2 39.1 144.4 38.5 145.6 38 146.8 37.3 148 36.7 149.2 36.2 150.4 35.9 151.6 35.8 152.7 36 153.9 36.5 155.1 37 156.3 37.5 157.5 38 158.7 38.3 159.9 38.7 161.1 39.4 162.2 40.7 163.4 42.8 164.6 45.5 165.8 48.7 167 51.8 168.2 54.7 169.4 57.2 170.6 59.1 171.8 60.3 172.9 60.8 174.1 60.5 175.3 59.7 176.5 58.3 177.7 56.6 178.9 54.6 180.1 52.5 181.3 50.4 182.4 48.4 183.6 46.5 184.8 44.7 186 43.1 187.2 41.6 188.4 40.4 189.6 39.2 190.8 37.9 192 36.6 193.1 35.3 194.3 34.2 195.5 33.8 196.7 34.3 197.9 36.1 199.1 38.3 200.3 39.6 201.5 40.9 202.6 45.1 203.8 53.5 205 64 206.2 72.6 207.4 73.3 208.6 65.7 209.8 56.3 211 49.2 212.2 44.6 213.3 42 214.5 40.5" stroke="#d62728" stroke-width="0.70" fill="none" stroke-linejoin="round"/>
<path d="M43.4 25.6 43.9 27.6 44.4 29.3 44.8 30.7 45.3 31.9 45.8 32.9 46.3 33.7 46.7 34.5 47.2 35.1 47.7 35.6 48.2 36 48.6 36.4 49.1 36.7 49.6 37 50.1 37.2 50.5 37.4 51 37.5 51.5 37.7 52 37.8 52.5 37.9 52.9 38 53.4 38 53.9 38.1 54.4 38.1 54.8 38.2 55.3 38.2 55.8 38.2 56.3 38.3 56.7 38.3 57.2 38.3 57.7 38.3 59.6 38.3 65.3 38.3 71 38.2 76.7 38.1 82.4 38 88.1 38 93.8 37.9 99.5 37.9 105.2 38 110.9 38.1 116.6 38.2 122.3 38.3 128 38.5 133.7 38.6 136.1 38.4 137.3 38.3 138.5 38 139.7 37.7 140.9 37.2 142 36.7 143.2 36.1 144.4 35.5 145.6 34.7 146.8 33.9 148 33.1 149.2 32.4 150.4 31.9 151.6 31.8 152.7 32 153.9 32.5 155.1 33.1 156.3 33.8 157.5 34.3 158.7 34.8 159.9 35.3 161.1 36.1 162.2 37.7 163.4 40.1 164.6 43.3 165.8 47 167 50.7 168.2 54.1 169.4 56.9 170.6 59.1 171.8 60.5 172.9 61.1 174.1 60.8 175.3 59.7 176.5 58.1 177.7 56 178.9 53.6 180.1 51.2 181.3 48.7 182.4 46.2 183.6 43.9 184.8 41.7 186 39.8 187.2 38.1 188.4 36.6 189.6 35.1 190.8 33.7 192 32.2 193.1 30.6 194.3 29.4 195.5 29 196.7 29.7 197.9 31.8 199.1 34.5 200.3 36.2 201.5 37.7 202.6 42.8 203.8 52.9 205 65.5 206.2 75.9 207.4 76.7 208.6 67.6 209.8 56.4 211 48 212.2 42.5 213.3 39.3 214.5 37.4" stroke="#9467bd" stroke-width="0.70" fill="none" stroke-linejoin="round"/>
<path d="M43.4 26.7 43.9 30.4 44.4 33.6 44.8 36.2 45.3 38.5 45.8 40.4 46.3 42 46.7 43.3 47.2 44.4 47.7 45.4 48.2 46.2 48.6 46.9 49.1 47.5 49.6 47.9 50.1 48.4 50.5 48.7 51 49 51.5 49.2 52 49.5 52.5 49.6 52.9 49.8 53.4 49.9 53.9 50 54.4 50.1 54.8 50.2 55.3 50.3 55.8 50.3 56.3 50.4 56.7 50.4 57.2 50.5 57.7 50.5 59.6 50.6 65.3 50.9 71 51.2 76.7 51.4 82.4 51.6 88.1 51.9 93.8 52.2 99.5 52.5 105.2 52.7 110.9 52.9 116.6 52.9 122.3 52.8 128 52.5 133.7 52.3 136.1 52.3 137.3 52.4 138.5 52.6 139.7 52.9 140.9 53.3 142 53.8 143.2 54.3 144.4 55 145.6 55.7 146.8 56.4 148 57.2 149.2 57.8 150.4 58.2 151.6 58.3 152.7 58 153.9 57.3 155.1 56.3 156.3 55.2 157.5 54.2 158.7 53.3 159.9 52.3 161.1 51.2 162.2 49.6 163.4 47.4 164.6 44.8 165.8 42 167 39.3 168.2 37 169.4 35.2 170.6 33.8 171.8 33 172.9 32.6 174.1 32.9 175.3 33.8 176.5 35.2 177.7 36.9 178.9 39 180.1 41.1 181.3 43.2 182.4 45.3 183.6 47.2 184.8 49.1 186 50.7 187.2 52.1 188.4 53.3 189.6 54.5 190.8 55.6 192 56.8 193.1 58 194.3 59 195.5 59.3 196.7 58.6 197.9 56.7 199.1 54.3 200.3 52.8 201.5 51.4 202.6 46.9 203.8 37.8 205 26.5 206.2 17.2 207.4 16.5 208.6 24.7 209.8 34.8 211 42.4 212.2 47.5 213.3 50.4 214.5 52.2" stroke="#8c564b" stroke-width="0.70" fill="none" stroke-linejoin="round"/>
<path d="M43.4 61.6 43.9 58.5 44.4 55.9 44.8 53.6 45.3 51.8 45.8 50.2 46.3 48.8 46.7 47.7 47.2 46.7 47.7 45.9 48.2 45.2 48.6 44.6 49.1 44.1 49.6 43.6 50.1 43.3 50.5 42.9 51 42.7 51.5 42.4 52 42.2 52.5 42.1 52.9 41.9 53.4 41.8 53.9 41.7 54.4 41.6 54.8 41.5 55.3 41.4 55.8 41.4 56.3 41.3 56.7 41.3 57.2 41.2 57.7 41.2 59.6 41.1 65.3 40.9 71 40.9 76.7 41 82.4 41.2 88.1 41.3 93.8 41.4 99.5 41.5 105.2 41.5 110.9 41.4 116.6 41.4 122.3 41.3 128 41.2 133.7 41.2 136.1 41.1 137.3 41 138.5 40.9 139.7 40.8 140.9 40.6 142 40.4 143.2 40.2 144.4 39.9 145.6 39.6 146.8 39.3 148 39 149.2 38.7 150.4 38.5 151.6 38.4 152.7 38.5 153.9 38.6 155.1 38.7 156.3 38.8 157.5 38.8 158.7 38.8 159.9 38.9 161.1 39.1 162.2 39.6 163.4 40.6 164.6 42 165.8 43.6 167 45.2 168.2 46.8 169.4 48.1 170.6 49.2 171.8 49.9 172.9 50.2 174.1 50 175.3 49.6 176.5 48.9 177.7 48 178.9 47.1 180.1 46.1 181.3 45 182.4 44 183.6 43.1 184.8 42.2 186 41.4 187.2 40.7 188.4 40 189.6 39.4 190.8 38.8 192 38.2 193.1 37.6 194.3 37.1 195.5 37 196.7 37.3 197.9 38.2 199.1 39.2 200.3 40 201.5 40.6 202.6 42.6 203.8 46.6 205 51.7 206.2 55.8 207.4 56.1 208.6 52.5 209.8 48.2 211 44.9 212.2 42.7 213.3 41.5 214.5 40.7" stroke="#e377c2" stroke-width="0.70" fill="none" stroke-linejoin="round"/>
<path d="M43.4 78.5 43.9 73.7 44.4 69.6 44.8 66.1 45.3 63.2 45.8 60.7 46.3 58.5 46.7 56.7 47.2 55.2 47.7 53.9 48.2 52.7 48.6 51.8 49.1 51 49.6 50.3 50.1 49.7 50.5 49.1 51 48.7 51.5 48.3 52 48 52.5 47.7 52.9 47.4 53.4 47.2 53.9 47 54.4 46.9 54.8 46.7 55.3 46.6 55.8 46.5 56.3 46.4 56.7 46.3 57.2 46.3 57.7 46.2 59.6 46.1 65.3 46.2 71 46.7 76.7 47.4 82.4 47.7 88.1 47.6 93.8 47.1 99.5 46.5 105.2 46.1 110.9 46.2 116.6 46.6 122.3 47.1 128 47.4 133.7 47.4 136.1 47.3 137.3 47.3 138.5 47.3 139.7 47.3 140.9 47.3 142 47.4 143.2 47.5 144.4 47.7 145.6 47.9 146.8 48.1 148 48.4 149.2 48.6 150.4 48.7 151.6 48.7 152.7 48.4 153.9 48 155.1 47.5 156.3 46.9 157.5 46.3 158.7 45.8 159.9 45.3 161.1 44.8 162.2 44.1 163.4 43.3 164.6 42.3 165.8 41.4 167 40.5 168.2 39.8 169.4 39.3 170.6 39 171.8 38.9 172.9 38.9 174.1 39.1 175.3 39.5 176.5 40.2 177.7 40.9 178.9 41.8 180.1 42.7 181.3 43.6 182.4 44.4 183.6 45.2 184.8 45.9 186 46.5 187.2 46.9 188.4 47.3 189.6 47.7 190.8 48 192 48.4 193.1 48.9 194.3 49.2 195.5 49.2 196.7 48.9 197.9 48 199.1 46.9 200.3 46.3 201.5 45.7 202.6 43.7 203.8 39.7 205 34.8 206.2 30.7 207.4 30.5 208.6 34.3 209.8 38.9 211 42.5 212.2 44.9 213.3 46.3 214.5 47.2" stroke="#7f7f7f" stroke-width="0.70" fill="none" stroke-linejoin="round"/>
<path d="M43.4 40.5 43.9 41.2 44.4 41.9 44.8 42.4 45.3 42.8 45.8 43.2 46.3 43.5 46.7 43.7 47.2 43.9 47.7 44.1 48.2 44.2 48.6 44.3 49.1 44.3 49.6 44.4 50.1 44.4 50.5 44.4 51 44.4 51.5 44.4 52 44.3 52.5 44.3 52.9 44.3 53.4 44.2 53.9 44.2 54.4 44.1 54.8 44.1 55.3 44 55.8 43.9 56.3 43.9 56.7 43.8 57.2 43.8 57.7 43.7 59.6 43.6 65.3 43.5 71 44 76.7 44.9 82.4 45.8 88.1 46.1 93.8 45.8 99.5 44.9 105.2 43.9 110.9 43.4 116.6 43.5 122.3 44.2 128 45.2 133.7 46 136.1 46.2 137.3 46.2 138.5 46.2 139.7 46.1 140.9 46 142 45.9 143.2 45.7 144.4 45.5 145.6 45.3 146.8 45 148 44.8 149.2 44.5 150.4 44.2 151.6 44 152.7 43.9 153.9 43.7 155.1 43.4 156.3 43.2 157.5 42.9 158.7 42.6 159.9 42.4 161.1 42.3 162.2 42.5 163.4 42.9 164.6 43.6 165.8 44.5 167 45.5 168.2 46.5 169.4 47.4 170.6 48.2 171.8 48.8 172.9 49.2 174.1 49.4 175.3 49.4 176.5 49.4 177.7 49.2 178.9 49 180.1 48.8 181.3 48.5 182.4 48.3 183.6 48 184.8 47.7 186 47.4 187.2 47.2 188.4 46.9 189.6 46.5 190.8 46.2 192 45.7 193.1 45.3 194.3 44.9 195.5 44.6 196.7 44.5 197.9 44.6 199.1 44.7 200.3 44.8 201.5 44.8 202.6 45.3 203.8 46.7 205 48.4 206.2 49.8 207.4 49.8 208.6 48.3 209.8 46.4 211 45 212.2 44.1 213.3 43.7 214.5 43.4" stroke="#bcbd22" stroke-width="0.70" fill="none" stroke-linejoin="round"/>
<path d="M43.4 31.3 43.9 33.1 44.4 34.6 44.8 35.9 45.3 37 45.8 37.9 46.3 38.6 46.7 39.3 47.2 39.8 47.7 40.2 48.2 40.6 48.6 40.9 49.1 41.1 49.6 41.3 50.1 41.5 50.5 41.6 51 41.8 51.5 41.9 52 41.9 52.5 42 52.9 42.1 53.4 42.1 53.9 42.2 54.4 42.2 54.8 42.3 55.3 42.3 55.8 42.3 56.3 42.4 56.7 42.4 57.2 42.4 57.7 42.5 59.6 42.7 65.3 43.3 71 43.9 76.7 44.1 82.4 43.8 88.1 43.3 93.8 43 99.5 43.2 105.2 43.7 110.9 44.1 116.6 44 122.3 43.5 128 42.8 133.7 42.4 136.1 42.5 137.3 42.6 138.5 42.7 139.7 42.8 140.9 43 142 43.3 143.2 43.5 144.4 43.8 145.6 44.2 146.8 44.5 148 44.9 149.2 45.1 150.4 45.2 151.6 45.2 152.7 44.9 153.9 44.3 155.1 43.6 156.3 42.7 157.5 41.9 158.7 41 159.9 40.2 161.1 39.3 162.2 38.3 163.4 36.9 164.6 35.4 165.8 33.9 167 32.5 168.2 31.4 169.4 30.4 170.6 29.8 171.8 29.4 172.9 29.2 174.1 29.3 175.3 29.7 176.5 30.5 177.7 31.5 178.9 32.6 180.1 33.8 181.3 35 182.4 36.2 183.6 37.3 184.8 38.4 186 39.4 187.2 40.2 188.4 41 189.6 41.8 190.8 42.6 192 43.4 193.1 44.3 194.3 45 195.5 45.3 196.7 45.2 197.9 44.4 199.1 43.3 200.3 42.7 201.5 42.1 202.6 39.8 203.8 35.2 205 29.4 206.2 24.7 207.4 24.2 208.6 28.5 209.8 33.7 211 37.7 212.2 40.2 213.3 41.6 214.5 42.4" stroke="#17becf" stroke-width="0.70" fill="none" stroke-linejoin="round"/>
<path d="M43.4 64.2 43.9 62 44.4 60 44.8 58.4 45.3 57 45.8 55.8 46.3 54.8 46.7 53.9 47.2 53.2 47.7 52.6 48.2 52 48.6 51.6 49.1 51.2 49.6 50.9 50.1 50.6 50.5 50.4 51 50.2 51.5 50.1 52 49.9 52.5 49.8 52.9 49.8 53.4 49.7 53.9 49.7 54.4 49.6 54.8 49.6 55.3 49.6 55.8 49.6 56.3 49.6 56.7 49.6 57.2 49.6 57.7 49.7 59.6 49.8 65.3 50.4 71 51 76.7 51.1 82.4 50.9 88.1 50.3 93.8 49.7 99.5 49.3 105.2 49.3 110.9 49.7 116.6 50.2 122.3 50.6 128 50.6 133.7 50.4 136.1 50.4 137.3 50.4 138.5 50.5 139.7 50.7 140.9 51 142 51.3 143.2 51.8 144.4 52.3 145.6 52.8 146.8 53.5 148 54.1 149.2 54.7 150.4 55 151.6 55.1 152.7 54.8 153.9 54.1 155.1 53.2 156.3 52.2 157.5 51.3 158.7 50.4 159.9 49.6 161.1 48.6 162.2 47.2 163.4 45.2 164.6 42.9 165.8 40.4 167 38 168.2 36 169.4 34.4 170.6 33.2 171.8 32.5 172.9 32.3 174.1 32.6 175.3 33.5 176.5 34.8 177.7 36.5 178.9 38.4 180.1 40.4 181.3 42.3 182.4 44.3 183.6 46.1 184.8 47.8 186 49.3 187.2 50.6 188.4 51.7 189.6 52.7 190.8 53.8 192 54.9 193.1 56 194.3 56.9 195.5 57.3 196.7 56.6 197.9 54.9 199.1 52.7 200.3 51.3 201.5 50 202.6 45.9 203.8 37.5 205 26.9 206.2 18.3 207.4 17.6 208.6 25.3 209.8 34.7 211 41.8 212.2 46.5 213.3 49.1 214.5 50.7" stroke="#1f77b4" stroke-width="0.70" fill="none" stroke-linejoin="round"/>
<path d="M43.4 28.3 43.9 31.7 44.4 34.5 44.8 36.9 45.3 38.9 45.8 40.7 46.3 42.1 46.7 43.3 47.2 44.4 47.7 45.3 48.2 46 48.6 46.6 49.1 47.2 49.6 47.6 50.1 48 50.5 48.3 51 48.6 51.5 48.9 52 49.1 52.5 49.2 52.9 49.4 53.4 49.5 53.9 49.6 54.4 49.7 54.8 49.8 55.3 49.9 55.8 49.9 56.3 50 56.7 50 57.2 50.1 57.7 50.1 59.6 50.2 65.3 50.5 71 50.7 76.7 50.9 82.4 51 88.1 50.9 93.8 50.8 99.5 50.6 105.2 50.4 110.9 50.3 116.6 50.2 122.3 50.2 128 50.2 133.7 50.2 136.1 50.4 137.3 50.5 138.5 50.8 139.7 51.1 140.9 51.5 142 51.9 143.2 52.5 144.4 53.1 145.6 53.8 146.8 54.6 148 55.3 149.2 55.9 150.4 56.3 151.6 56.4 152.7 56.2 153.9 55.5 155.1 54.6 156.3 53.6 157.5 52.6 158.7 51.7 159.9 50.9 161.1 49.8 162.2 48.3 163.4 46.2 164.6 43.8 165.8 41.2 167 38.7 168.2 36.6 169.4 34.9 170.6 33.6 171.8 32.8 172.9 32.5 174.1 32.8 175.3 33.6 176.5 34.9 177.7 36.6 178.9 38.5 180.1 40.5 181.3 42.5 182.4 44.4 183.6 46.3 184.8 48 186 49.5 187.2 50.9 188.4 52 189.6 53.1 190.8 54.1 192 55.3 193.1 56.4 194.3 57.4 195.5 57.7 196.7 57.1 197.9 55.3 199.1 53.1 200.3 51.7 201.5 50.4 202.6 46.1 203.8 37.6 205 26.9 206.2 18.1 207.4 17.4 208.6 25.2 209.8 34.8 211 42.1 212.2 46.9 213.3 49.6 214.5 51.3" stroke="#ff7f0e" stroke-width="0.70" fill="none" stroke-linejoin="round"/>
<path d="M43.4 8.7 43.9 13.2 44.4 17 44.8 20.2 45.3 22.9 45.8 25.2 46.3 27.2 46.7 28.8 47.2 30.2 47.7 31.4 48.2 32.4 48.6 33.3 49.1 34 49.6 34.6 50.1 35.2 50.5 35.6 51 36 51.5 36.3 52 36.6 52.5 36.8 52.9 37 53.4 37.2 53.9 37.3 54.4 37.4 54.8 37.5 55.3 37.6 55.8 37.7 56.3 37.7 56.7 37.8 57.2 37.8 57.7 37.9 59.6 38 65.3 38.1 71 38.1 76.7 38 82.4 37.9 88.1 37.8 93.8 37.7 99.5 37.6 105.2 37.5 110.9 37.4 116.6 37.4 122.3 37.5 128 37.6 133.7 37.7 136.1 37.6 137.3 37.5 138.5 37.2 139.7 36.9 140.9 36.6 142 36.1 143.2 35.6 144.4 34.9 145.6 34.2 146.8 33.5 148 32.8 149.2 32.1 150.4 31.7 151.6 31.6 152.7 31.8 153.9 32.2 155.1 32.7 156.3 33.3 157.5 33.7 158.7 34.1 159.9 34.5 161.1 35.2 162.2 36.6 163.4 38.8 164.6 41.7 165.8 45 167 48.3 168.2 51.4 169.4 54 170.6 55.9 171.8 57.3 172.9 57.8 174.1 57.5 175.3 56.5 176.5 55 177.7 53.1 178.9 51 180.1 48.8 181.3 46.6 182.4 44.4 183.6 42.3 184.8 40.3 186 38.6 187.2 37 188.4 35.7 189.6 34.4 190.8 33.2 192 31.8 193.1 30.4 194.3 29.4 195.5 29 196.7 29.7 197.9 31.7 199.1 34.1 200.3 35.6 201.5 37.1 202.6 41.6 203.8 50.7 205 62.1 206.2 71.4 207.4 72.1 208.6 64 209.8 53.9 211 46.3 212.2 41.3 213.3 38.5 214.5 36.7" stroke="#2ca02c" stroke-width="0.70" fill="none" stroke-linejoin="round"/>
<path d="M43.4 37.8 43.9 38.5 44.4 39.1 44.8 39.7 45.3 40.1 45.8 40.5 46.3 40.8 46.7 41.1 47.2 41.3 47.7 41.5 48.2 41.6 48.6 41.8 49.1 41.9 49.6 42 50.1 42 50.5 42.1 51 42.1 51.5 42.1 52 42.1 52.5 42.1 52.9 42.1 53.4 42.1 53.9 42.1 54.4 42.1 54.8 42.1 55.3 42 55.8 42 56.3 42 56.7 41.9 57.2 41.9 57.7 41.9 59.6 41.8 65.3 41.7 71 42 76.7 42.5 82.4 42.8 88.1 42.7 93.8 42.2 99.5 41.8 105.2 41.7 110.9 41.9 116.6 42.4 122.3 42.8 128 42.7 133.7 42.3 136.1 42 137.3 41.9 138.5 41.8 139.7 41.7 140.9 41.6 142 41.5 143.2 41.4 144.4 41.3 145.6 41.3 146.8 41.2 148 41.2 149.2 41.2 150.4 41.2 151.6 41.2 152.7 41.2 153.9 41.1 155.1 40.9 156.3 40.7 157.5 40.4 158.7 40.2 159.9 39.9 161.1 39.8 162.2 39.7 163.4 39.7 164.6 39.8 165.8 40.1 167 40.4 168.2 40.7 169.4 41.1 170.6 41.3 171.8 41.4 172.9 41.4 174.1 41.3 175.3 41.1 176.5 40.9 177.7 40.8 178.9 40.6 180.1 40.4 181.3 40.3 182.4 40.2 183.6 40.1 184.8 40 186 40 187.2 39.9 188.4 39.9 189.6 40 190.8 40.1 192 40.1 193.1 40.3 194.3 40.4 195.5 40.6 196.7 40.8 197.9 41.1 199.1 41.3 200.3 41.6 201.5 41.8 202.6 42 203.8 42.2 205 42.5 206.2 42.7 207.4 42.7 208.6 42.6 209.8 42.5 211 42.3 212.2 42.1 213.3 42 214.5 41.7" stroke="#d62728" stroke-width="0.70" fill="none" stroke-linejoin="round"/>
<path d="M43.4 38 43.9 39.6 44.4 40.9 44.8 42.1 45.3 43 45.8 43.9 46.3 44.6 46.7 45.2 47.2 45.7 47.7 46.1 48.2 46.5 48.6 46.8 49.1 47 49.6 47.2 50.1 47.4 50.5 47.5 51 47.6 51.5 47.7 52 47.8 52.5 47.8 52.9 47.8 53.4 47.8 53.9 47.8 54.4 47.8 54.8 47.7 55.3 47.7 55.8 47.7 56.3 47.6 56.7 47.5 57.2 47.5 57.7 47.4 59.6 47.1 65.3 46.4 71 46.4 76.7 47.2 82.4 48.2 88.1 48.8 93.8 48.6 99.5 47.8 105.2 46.9 110.9 46.5 116.6 46.9 122.3 47.7 128 48.3 133.7 48.2 136.1 48 137.3 47.9 138.5 47.8 139.7 47.7 140.9 47.7 142 47.6 143.2 47.6 144.4 47.5 145.6 47.6 146.8 47.6 148 47.6 149.2 47.7 150.4 47.8 151.6 48 152.7 48.1 153.9 48.1 155.1 48.1 156.3 48.1 157.5 48.1 158.7 48.1 159.9 48.1 161.1 48.1 162.2 48.3 163.4 48.5 164.6 49 165.8 49.5 167 50.1 168.2 50.6 169.4 51.1 170.6 51.5 171.8 51.8 172.9 51.9 174.1 51.8 175.3 51.6 176.5 51.4 177.7 51.2 178.9 50.9 180.1 50.6 181.3 50.3 182.4 50 183.6 49.8 184.8 49.5 186 49.3 187.2 49.1 188.4 48.9 189.6 48.8 190.8 48.6 192 48.4 193.1 48.3 194.3 48.2 195.5 48.2 196.7 48.2 197.9 48.4 199.1 48.5 200.3 48.6 201.5 48.8 202.6 49 203.8 49.3 205 49.7 206.2 50.1 207.4 50.2 208.6 50 209.8 49.6 211 49.4 212.2 49.2 213.3 49.1 214.5 49.1" stroke="#9467bd" stroke-width="0.70" fill="none" stroke-linejoin="round"/>
<path d="M43.4 82.1 43.9 77.1 44.4 72.9 44.8 69.3 45.3 66.2 45.8 63.7 46.3 61.5 46.7 59.6 47.2 58.1 47.7 56.7 48.2 55.6 48.6 54.7 49.1 53.9 49.6 53.2 50.1 52.6 50.5 52.1 51 51.7 51.5 51.4 52 51.1 52.5 50.8 52.9 50.6 53.4 50.4 53.9 50.3 54.4 50.2 54.8 50.1 55.3 50 55.8 49.9 56.3 49.8 56.7 49.8 57.2 49.8 57.7 49.7 59.6 49.7 65.3 49.8 71 50 76.7 50.2 82.4 50.2 88.1 50.2 93.8 50 99.5 49.9 105.2 49.8 110.9 49.7 116.6 49.8 122.3 49.8 128 49.9 133.7 49.9 136.1 50 137.3 50.1 138.5 50.2 139.7 50.4 140.9 50.6 142 50.9 143.2 51.3 144.4 51.7 145.6 52.1 146.8 52.6 148 53 149.2 53.4 150.4 53.6 151.6 53.7 152.7 53.6 153.9 53.1 155.1 52.5 156.3 51.9 157.5 51.2 158.7 50.6 159.9 50.1 161.1 49.4 162.2 48.5 163.4 47.4 164.6 46.1 165.8 44.8 167 43.6 168.2 42.6 169.4 41.9 170.6 41.4 171.8 41.1 172.9 41 174.1 41.3 175.3 41.8 176.5 42.6 177.7 43.7 178.9 44.8 180.1 46 181.3 47.2 182.4 48.4 183.6 49.5 184.8 50.5 186 51.4 187.2 52.2 188.4 52.8 189.6 53.4 190.8 53.9 192 54.5 193.1 55.1 194.3 55.5 195.5 55.6 196.7 55.1 197.9 54 199.1 52.6 200.3 51.7 201.5 50.8 202.6 48.3 203.8 43.2 205 37 206.2 31.8 207.4 31.3 208.6 35.7 209.8 41.1 211 45.2 212.2 47.8 213.3 49.4 214.5 50.4" stroke="#8c564b" stroke-width="0.70" fill="none" stroke-linejoin="round"/>
<path d="M43.4 26.5 43.9 29.4 44.4 31.9 44.8 34 45.3 35.8 45.8 37.3 46.3 38.6 46.7 39.7 47.2 40.6 47.7 41.4 48.2 42.1 48.6 42.7 49.1 43.2 49.6 43.7 50.1 44.1 50.5 44.4 51 44.7 51.5 44.9 52 45.2 52.5 45.4 52.9 45.6 53.4 45.7 53.9 45.9 54.4 46 54.8 46.1 55.3 46.2 55.8 46.3 56.3 46.4 56.7 46.5 57.2 46.5 57.7 46.6 59.6 46.8 65.3 47.2 71 47.1 76.7 46.7 82.4 45.9 88.1 45 93.8 44.1 99.5 43.5 105.2 43.2 110.9 43.4 116.6 44 122.3 44.8 128 45.8 133.7 46.6 136.1 46.8 137.3 46.9 138.5 47 139.7 47 140.9 47 142 46.9 143.2 46.9 144.4 46.8 145.6 46.7 146.8 46.5 148 46.3 149.2 46.1 150.4 46 151.6 46 152.7 46.1 153.9 46.1 155.1 46.2 156.3 46.2 157.5 46.1 158.7 46 159.9 46 161.1 46.1 162.2 46.5 163.4 47.2 164.6 48.3 165.8 49.7 167 51.1 168.2 52.4 169.4 53.6 170.6 54.5 171.8 55.1 172.9 55.3 174.1 55.2 175.3 54.8 176.5 54.2 177.7 53.5 178.9 52.6 180.1 51.8 181.3 50.9 182.4 50.1 183.6 49.3 184.8 48.6 186 48 187.2 47.4 188.4 46.9 189.6 46.4 190.8 45.9 192 45.3 193.1 44.7 194.3 44.3 195.5 44.1 196.7 44.3 197.9 45 199.1 45.9 200.3 46.4 201.5 46.9 202.6 48.6 203.8 51.9 205 56.1 206.2 59.5 207.4 59.9 208.6 56.8 209.8 53.1 211 50.3 212.2 48.5 213.3 47.5 214.5 47" stroke="#e377c2" stroke-width="0.70" fill="none" stroke-linejoin="round"/>
<path d="M43.4 29.5 43.9 31.2 44.4 32.5 44.8 33.7 45.3 34.7 45.8 35.5 46.3 36.3 46.7 36.9 47.2 37.5 47.7 37.9 48.2 38.3 48.6 38.7 49.1 39 49.6 39.3 50.1 39.5 50.5 39.8 51 39.9 51.5 40.1 52 40.3 52.5 40.4 52.9 40.5 53.4 40.6 53.9 40.7 54.4 40.8 54.8 40.9 55.3 41 55.8 41 56.3 41.1 56.7 41.1 57.2 41.2 57.7 41.2 59.6 41.4 65.3 41.3 71 40.8 76.7 40 82.4 39.2 88.1 38.6 93.8 38.4 99.5 38.5 105.2 39 110.9 39.5 116.6 39.9 122.3 40 128 39.8 133.7 39.5 136.1 39.2 137.3 39.1 138.5 38.9 139.7 38.6 140.9 38.3 142 38 143.2 37.6 144.4 37.2 145.6 36.7 146.8 36.3 148 35.8 149.2 35.5 150.4 35.3 151.6 35.3 152.7 35.5 153.9 35.8 155.1 36.1 156.3 36.5 157.5 36.8 158.7 37 159.9 37.3 161.1 37.9 162.2 38.8 163.4 40.4 164.6 42.4 165.8 44.7 167 47.1 168.2 49.3 169.4 51.1 170.6 52.6 171.8 53.5 172.9 53.9 174.1 53.7 175.3 53.1 176.5 52.1 177.7 50.8 178.9 49.4 180.1 47.8 181.3 46.3 182.4 44.8 183.6 43.3 184.8 41.9 186 40.6 187.2 39.4 188.4 38.4 189.6 37.4 190.8 36.4 192 35.4 193.1 34.4 194.3 33.6 195.5 33.2 196.7 33.6 197.9 34.8 199.1 36.2 200.3 37.2 201.5 38.1 202.6 40.9 203.8 46.8 205 54.1 206.2 60 207.4 60.5 208.6 55.4 209.8 49 211 44.2 212.2 41.1 213.3 39.4 214.5 38.3" stroke="#7f7f7f" stroke-width="0.70" fill="none" stroke-linejoin="round"/>
<path d="M43.4 59.4 43.9 58.3 44.4 57.4 44.8 56.6 45.3 55.9 45.8 55.3 46.3 54.8 46.7 54.4 47.2 54 47.7 53.7 48.2 53.4 48.6 53.1 49.1 52.9 49.6 52.7 50.1 52.5 50.5 52.4 51 52.2 51.5 52.1 52 52 52.5 51.9 52.9 51.8 53.4 51.7 53.9 51.6 54.4 51.5 54.8 51.5 55.3 51.4 55.8 51.4 56.3 51.3 56.7 51.3 57.2 51.2 57.7 51.2 59.6 51.1 65.3 51.2 71 51.7 76.7 52.5 82.4 53.2 88.1 53.6 93.8 53.6 99.5 53.2 105.2 52.5 110.9 51.7 116.6 51.1 122.3 50.9 128 51.2 133.7 51.8 136.1 52.2 137.3 52.6 138.5 52.9 139.7 53.4 140.9 54 142 54.6 143.2 55.4 144.4 56.1 145.6 57 146.8 57.9 148 58.7 149.2 59.4 150.4 59.9 151.6 60.1 152.7 59.8 153.9 59.1 155.1 58.1 156.3 57 157.5 56 158.7 55 159.9 54 161.1 52.8 162.2 51.1 163.4 48.9 164.6 46.2 165.8 43.4 167 40.7 168.2 38.4 169.4 36.5 170.6 35.1 171.8 34.2 172.9 33.8 174.1 34.1 175.3 34.9 176.5 36.3 177.7 38 178.9 40 180.1 42.1 181.3 44.2 182.4 46.3 183.6 48.3 184.8 50.2 186 51.9 187.2 53.4 188.4 54.7 189.6 55.9 190.8 57.1 192 58.3 193.1 59.7 194.3 60.7 195.5 61.1 196.7 60.5 197.9 58.7 199.1 56.5 200.3 55.1 201.5 53.8 202.6 49.4 203.8 40.5 205 29.4 206.2 20.3 207.4 19.5 208.6 27.6 209.8 37.5 211 44.9 212.2 49.8 213.3 52.6 214.5 54.3" stroke="#bcbd22" stroke-width="0.70" fill="none" stroke-linejoin="round"/>
<path d="M43.4 60.1 43.9 56.8 44.4 54 44.8 51.7 45.3 49.7 45.8 48 46.3 46.5 46.7 45.3 47.2 44.3 47.7 43.5 48.2 42.8 48.6 42.2 49.1 41.7 49.6 41.3 50.1 40.9 50.5 40.6 51 40.4 51.5 40.2 52 40 52.5 39.9 52.9 39.8 53.4 39.7 53.9 39.7 54.4 39.6 54.8 39.6 55.3 39.6 55.8 39.6 56.3 39.5 56.7 39.5 57.2 39.5 57.7 39.5 59.6 39.6 65.3 39.6 71 39.2 76.7 38.5 82.4 37.8 88.1 37.3 93.8 37.1 99.5 37.4 105.2 38 110.9 38.7 116.6 39.2 122.3 39.4 128 39.3 133.7 38.9 136.1 38.6 137.3 38.3 138.5 38 139.7 37.6 140.9 37.1 142 36.6 143.2 35.9 144.4 35.2 145.6 34.5 146.8 33.7 148 32.9 149.2 32.2 150.4 31.8 151.6 31.8 152.7 32.1 153.9 32.7 155.1 33.5 156.3 34.3 157.5 35 158.7 35.5 159.9 36.2 161.1 37.2 162.2 38.9 163.4 41.5 164.6 44.9 165.8 48.8 167 52.7 168.2 56.1 169.4 59.1 170.6 61.4 171.8 62.8 172.9 63.4 174.1 63 175.3 61.9 176.5 60.1 177.7 57.9 178.9 55.3 180.1 52.7 181.3 50 182.4 47.3 183.6 44.8 184.8 42.4 186 40.3 187.2 38.4 188.4 36.7 189.6 35.1 190.8 33.5 192 31.8 193.1 30.1 194.3 28.7 195.5 28.2 196.7 28.9 197.9 31.1 199.1 33.8 200.3 35.5 201.5 37.1 202.6 42.4 203.8 52.9 205 66 206.2 76.8 207.4 77.8 208.6 68.5 209.8 57 211 48.4 212.2 42.9 213.3 39.8 214.5 37.9" stroke="#17becf" stroke-width="0.70" fill="none" stroke-linejoin="round"/>
<path d="M43.4 42.2 43.9 42.8 44.4 43.3 44.8 43.7 45.3 44.1 45.8 44.4 46.3 44.6 46.7 44.8 47.2 45 47.7 45.2 48.2 45.3 48.6 45.4 49.1 45.5 49.6 45.5 50.1 45.6 50.5 45.7 51 45.7 51.5 45.7 52 45.8 52.5 45.8 52.9 45.8 53.4 45.8 53.9 45.8 54.4 45.8 54.8 45.8 55.3 45.8 55.8 45.8 56.3 45.8 56.7 45.8 57.2 45.8 57.7 45.8 59.6 45.8 65.3 45.9 71 45.9 76.7 46.1 82.4 46.2 88.1 46.3 93.8 46.3 99.5 46.2 105.2 46.1 110.9 45.9 116.6 45.8 122.3 45.8 128 45.9 133.7 46 136.1 46.1 137.3 46.1 138.5 46.2 139.7 46.3 140.9 46.4 142 46.6 143.2 46.7 144.4 46.9 145.6 47.1 146.8 47.3 148 47.5 149.2 47.6 150.4 47.7 151.6 47.7 152.7 47.6 153.9 47.3 155.1 46.9 156.3 46.4 157.5 45.9 158.7 45.5 159.9 45 161.1 44.6 162.2 44.1 163.4 43.6 164.6 43.1 165.8 42.7 167 42.3 168.2 42.1 169.4 41.9 170.6 41.9 171.8 41.8 172.9 41.9 174.1 41.9 175.3 42.1 176.5 42.4 177.7 42.8 178.9 43.3 180.1 43.7 181.3 44.2 182.4 44.7 183.6 45.1 184.8 45.5 186 45.9 187.2 46.2 188.4 46.5 189.6 46.7 190.8 47 192 47.2 193.1 47.5 194.3 47.7 195.5 47.8 196.7 47.7 197.9 47.3 199.1 46.7 200.3 46.4 201.5 46.1 202.6 45.1 203.8 43.1 205 40.5 206.2 38.3 207.4 38.1 208.6 40 209.8 42.3 211 44.1 212.2 45.2 213.3 45.9 214.5 46.2" stroke="#1f77b4" stroke-width="0.70" fill="none" stroke-linejoin="round"/>
<path d="M43.4 50.1 43.9 50.3 44.4 50.6 44.8 50.8 45.3 51 45.8 51.1 46.3 51.2 46.7 51.3 47.2 51.4 47.7 51.5 48.2 51.6 48.6 51.6 49.1 51.7 49.6 51.7 50.1 51.8 50.5 51.8 51 51.9 51.5 51.9 52 51.9 52.5 51.9 52.9 51.9 53.4 52 53.9 52 54.4 52 54.8 52 55.3 52 55.8 52 56.3 52 56.7 52 57.2 52 57.7 52 59.6 52 65.3 51.9 71 51.8 76.7 51.7 82.4 51.6 88.1 51.5 93.8 51.5 99.5 51.7 105.2 51.8 110.9 52 116.6 52.2 122.3 52.4 128 52.4 133.7 52.4 136.1 52.5 137.3 52.6 138.5 52.7 139.7 52.9 140.9 53.2 142 53.6 143.2 54 144.4 54.5 145.6 55.1 146.8 55.7 148 56.2 149.2 56.7 150.4 57.1 151.6 57.2 152.7 57 153.9 56.5 155.1 55.8 156.3 55 157.5 54.2 158.7 53.6 159.9 52.9 161.1 52.1 162.2 51 163.4 49.6 164.6 47.9 165.8 46.1 167 44.5 168.2 43.1 169.4 42 170.6 41.3 171.8 40.8 172.9 40.7 174.1 40.9 175.3 41.6 176.5 42.6 177.7 43.8 178.9 45.2 180.1 46.7 181.3 48.2 182.4 49.6 183.6 51 184.8 52.3 186 53.4 187.2 54.4 188.4 55.2 189.6 55.9 190.8 56.6 192 57.4 193.1 58.1 194.3 58.7 195.5 58.8 196.7 58.3 197.9 56.9 199.1 55.2 200.3 54.1 201.5 53.1 202.6 49.9 203.8 43.7 205 35.8 206.2 29.5 207.4 29 208.6 34.6 209.8 41.4 211 46.6 212.2 50.1 213.3 52.1 214.5 53.5" stroke="#ff7f0e" stroke-width="0.70" fill="none" stroke-linejoin="round"/>
<path d="M43.4 43.2 43.9 44.5 44.4 45.6 44.8 46.5 45.3 47.3 45.8 47.9 46.3 48.5 46.7 48.9 47.2 49.3 47.7 49.7 48.2 50 48.6 50.2 49.1 50.4 49.6 50.6 50.1 50.8 50.5 50.9 51 51.1 51.5 51.2 52 51.3 52.5 51.4 52.9 51.5 53.4 51.6 53.9 51.7 54.4 51.8 54.8 51.8 55.3 51.9 55.8 52 56.3 52.1 56.7 52.1 57.2 52.2 57.7 52.3 59.6 52.5 65.3 53 71 53 76.7 52.6 82.4 52.2 88.1 52.1 93.8 52.4 99.5 53 105.2 53.5 110.9 53.5 116.6 53 122.3 52.2 128 51.4 133.7 51.1 136.1 51.2 137.3 51.5 138.5 51.8 139.7 52.2 140.9 52.7 142 53.4 143.2 54.1 144.4 54.9 145.6 55.8 146.8 56.7 148 57.6 149.2 58.4 150.4 59 151.6 59.3 152.7 59.1 153.9 58.6 155.1 57.8 156.3 56.9 157.5 56 158.7 55.2 159.9 54.3 161.1 53.3 162.2 51.8 163.4 49.8 164.6 47.4 165.8 44.9 167 42.5 168.2 40.4 169.4 38.7 170.6 37.5 171.8 36.7 172.9 36.4 174.1 36.7 175.3 37.5 176.5 38.9 177.7 40.5 178.9 42.4 180.1 44.4 181.3 46.4 182.4 48.4 183.6 50.3 184.8 52.1 186 53.7 187.2 55.1 188.4 56.3 189.6 57.4 190.8 58.5 192 59.6 193.1 60.7 194.3 61.6 195.5 61.8 196.7 61.1 197.9 59.2 199.1 57 200.3 55.4 201.5 54 202.6 49.7 203.8 41.2 205 30.6 206.2 22 207.4 21.1 208.6 28.4 209.8 37.4 211 44.2 212.2 48.6 213.3 51.1 214.5 52.6" stroke="#2ca02c" stroke-width="0.70" fill="none" stroke-linejoin="round"/>
<path d="M43.4 54.5 43.9 52.9 44.4 51.6 44.8 50.4 45.3 49.5 45.8 48.6 46.3 47.9 46.7 47.3 47.2 46.8 47.7 46.4 48.2 46 48.6 45.7 49.1 45.4 49.6 45.1 50.1 44.9 50.5 44.7 51 44.5 51.5 44.4 52 44.2 52.5 44.1 52.9 44 53.4 43.8 53.9 43.7 54.4 43.7 54.8 43.6 55.3 43.5 55.8 43.4 56.3 43.3 56.7 43.3 57.2 43.2 57.7 43.2 59.6 43 65.3 43 71 43.5 76.7 44.3 82.4 44.7 88.1 44.6 93.8 44.1 99.5 43.4 105.2 43 110.9 43.1 116.6 43.7 122.3 44.4 128 44.6 133.7 44.3 136.1 44.1 137.3 44 138.5 43.9 139.7 43.8 140.9 43.8 142 43.8 143.2 43.8 144.4 43.9 145.6 44 146.8 44.2 148 44.4 149.2 44.5 150.4 44.6 151.6 44.6 152.7 44.3 153.9 43.9 155.1 43.3 156.3 42.6 157.5 42 158.7 41.5 159.9 40.9 161.1 40.3 162.2 39.6 163.4 38.6 164.6 37.5 165.8 36.4 167 35.3 168.2 34.5 169.4 33.8 170.6 33.3 171.8 33 172.9 32.8 174.1 32.9 175.3 33.2 176.5 33.8 177.7 34.5 178.9 35.3 180.1 36.2 181.3 37 182.4 37.9 183.6 38.6 184.8 39.4 186 40 187.2 40.6 188.4 41.1 189.6 41.6 190.8 42.1 192 42.8 193.1 43.5 194.3 44.1 195.5 44.5 196.7 44.4 197.9 43.7 199.1 42.9 200.3 42.5 201.5 42.1 202.6 40.3 203.8 36.2 205 31.1 206.2 26.9 207.4 26.7 208.6 30.9 209.8 35.9 211 39.7 212.2 42.2 213.3 43.6 214.5 44.3" stroke="#d62728" stroke-width="0.70" fill="none" stroke-linejoin="round"/>
<path d="M43.4 38.5 43.9 39.9 44.4 41.1 44.8 42.1 45.3 43 45.8 43.7 46.3 44.4 46.7 44.9 47.2 45.3 47.7 45.7 48.2 46 48.6 46.3 49.1 46.5 49.6 46.7 50.1 46.9 50.5 47 51 47.1 51.5 47.2 52 47.3 52.5 47.3 52.9 47.4 53.4 47.4 53.9 47.5 54.4 47.5 54.8 47.5 55.3 47.6 55.8 47.6 56.3 47.6 56.7 47.6 57.2 47.6 57.7 47.6 59.6 47.7 65.3 47.7 71 47.7 76.7 47.7 82.4 47.8 88.1 47.8 93.8 47.8 99.5 47.8 105.2 47.7 110.9 47.7 116.6 47.7 122.3 47.7 128 47.7 133.7 47.8 136.1 47.7 137.3 47.7 138.5 47.6 139.7 47.6 140.9 47.6 142 47.5 143.2 47.5 144.4 47.4 145.6 47.3 146.8 47.2 148 47.1 149.2 47 150.4 47 151.6 47.2 152.7 47.4 153.9 47.7 155.1 48 156.3 48.3 157.5 48.6 158.7 48.8 159.9 49 161.1 49.4 162.2 50.1 163.4 51.2 164.6 52.8 165.8 54.7 167 56.5 168.2 58.3 169.4 59.8 170.6 61 171.8 61.8 172.9 62.2 174.1 62.1 175.3 61.7 176.5 61.1 177.7 60.2 178.9 59.2 180.1 58.2 181.3 57.1 182.4 56 183.6 55 184.8 54.1 186 53.2 187.2 52.4 188.4 51.6 189.6 50.8 190.8 50 192 49.1 193.1 48.2 194.3 47.4 195.5 46.9 196.7 46.9 197.9 47.5 199.1 48.3 200.3 48.8 201.5 49.2 202.6 51 203.8 55 205 60 206.2 64.2 207.4 64.5 208.6 60.6 209.8 55.9 211 52.3 212.2 50.1 213.3 48.9 214.5 48.4" stroke="#9467bd" stroke-width="0.70" fill="none" stroke-linejoin="round"/>
<path d="M43.4 42.4 43.9 43.1 44.4 43.6 44.8 44.1 45.3 44.5 45.8 44.8 46.3 45.1 46.7 45.4 47.2 45.6 47.7 45.7 48.2 45.9 48.6 46 49.1 46.2 49.6 46.3 50.1 46.4 50.5 46.4 51 46.5 51.5 46.6 52 46.6 52.5 46.7 52.9 46.8 53.4 46.8 53.9 46.9 54.4 46.9 54.8 46.9 55.3 47 55.8 47 56.3 47.1 56.7 47.1 57.2 47.1 57.7 47.2 59.6 47.3 65.3 47.5 71 47.4 76.7 47.3 82.4 47.2 88.1 47.2 93.8 47.2 99.5 47.1 105.2 47 110.9 46.8 116.6 46.7 122.3 46.7 128 47 133.7 47.4 136.1 47.5 137.3 47.6 138.5 47.7 139.7 47.8 140.9 48 142 48.2 143.2 48.3 144.4 48.5 145.6 48.7 146.8 48.9 148 49.1 149.2 49.2 150.4 49.3 151.6 49.2 152.7 49.1 153.9 48.7 155.1 48.3 156.3 47.8 157.5 47.2 158.7 46.8 159.9 46.3 161.1 45.8 162.2 45.4 163.4 44.8 164.6 44.3 165.8 43.9 167 43.5 168.2 43.3 169.4 43.2 170.6 43.2 171.8 43.2 172.9 43.3 174.1 43.4 175.3 43.7 176.5 44.1 177.7 44.5 178.9 45.1 180.1 45.6 181.3 46.2 182.4 46.7 183.6 47.2 184.8 47.6 186 48 187.2 48.3 188.4 48.6 189.6 48.8 190.8 49 192 49.2 193.1 49.4 194.3 49.6 195.5 49.6 196.7 49.4 197.9 48.8 199.1 48.2 200.3 47.8 201.5 47.4 202.6 46.3 203.8 44.1 205 41.3 206.2 39 207.4 38.9 208.6 40.8 209.8 43.3 211 45.1 212.2 46.3 213.3 47.1 214.5 47.5" stroke="#8c564b" stroke-width="0.70" fill="none" stroke-linejoin="round"/>
<path d="M43.4 81.5 43.9 75.7 44.4 70.9 44.8 66.7 45.3 63.3 45.8 60.3 46.3 57.8 46.7 55.7 47.2 53.9 47.7 52.4 48.2 51.1 48.6 50.1 49.1 49.2 49.6 48.4 50.1 47.8 50.5 47.3 51 46.8 51.5 46.5 52 46.2 52.5 46 52.9 45.8 53.4 45.6 53.9 45.5 54.4 45.5 54.8 45.4 55.3 45.4 55.8 45.3 56.3 45.3 56.7 45.3 57.2 45.4 57.7 45.4 59.6 45.5 65.3 45.9 71 45.7 76.7 44.9 82.4 44 88.1 43.5 93.8 43.7 99.5 44.5 105.2 45.4 110.9 45.8 116.6 45.6 122.3 44.9 128 44.2 133.7 43.8 136.1 43.8 137.3 43.7 138.5 43.7 139.7 43.7 140.9 43.8 142 43.8 143.2 43.8 144.4 43.7 145.6 43.7 146.8 43.6 148 43.5 149.2 43.5 150.4 43.5 151.6 43.7 152.7 44 153.9 44.3 155.1 44.6 156.3 44.9 157.5 45.1 158.7 45.2 159.9 45.3 161.1 45.6 162.2 46.2 163.4 47.2 164.6 48.7 165.8 50.5 167 52.2 168.2 53.9 169.4 55.3 170.6 56.3 171.8 57 172.9 57.2 174.1 57 175.3 56.4 176.5 55.6 177.7 54.6 178.9 53.5 180.1 52.3 181.3 51.2 182.4 50.1 183.6 49.1 184.8 48.2 186 47.4 187.2 46.7 188.4 46.1 189.6 45.5 190.8 44.9 192 44.2 193.1 43.5 194.3 43 195.5 42.7 196.7 43 197.9 44 199.1 45.1 200.3 45.8 201.5 46.4 202.6 48.6 203.8 53.1 205 58.7 206.2 63.2 207.4 63.5 208.6 59.1 209.8 53.9 211 49.9 212.2 47.2 213.3 45.7 214.5 44.8" stroke="#e377c2" stroke-width="0.70" fill="none" stroke-linejoin="round"/>
<path d="M43.4 41.3 43.9 41.9 44.4 42.5 44.8 42.9 45.3 43.3 45.8 43.6 46.3 43.9 46.7 44.1 47.2 44.3 47.7 44.5 48.2 44.6 48.6 44.8 49.1 44.9 49.6 45 50.1 45.1 50.5 45.2 51 45.3 51.5 45.4 52 45.4 52.5 45.5 52.9 45.5 53.4 45.6 53.9 45.6 54.4 45.7 54.8 45.7 55.3 45.8 55.8 45.8 56.3 45.9 56.7 45.9 57.2 45.9 57.7 46 59.6 46.1 65.3 46.4 71 46.7 76.7 46.9 82.4 46.9 88.1 46.7 93.8 46.1 99.5 45.3 105.2 44.6 110.9 44.2 116.6 44.3 122.3 44.7 128 45.2 133.7 45.7 136.1 45.8 137.3 45.8 138.5 45.7 139.7 45.6 140.9 45.5 142 45.4 143.2 45.2 144.4 45 145.6 44.8 146.8 44.5 148 44.2 149.2 44 150.4 43.9 151.6 44.1 152.7 44.5 153.9 45 155.1 45.7 156.3 46.3 157.5 46.8 158.7 47.3 159.9 47.8 161.1 48.5 162.2 49.7 163.4 51.6 164.6 54.1 165.8 56.9 167 59.8 168.2 62.3 169.4 64.5 170.6 66.2 171.8 67.3 172.9 67.7 174.1 67.3 175.3 66.5 176.5 65.1 177.7 63.5 178.9 61.6 180.1 59.7 181.3 57.7 182.4 55.8 183.6 53.9 184.8 52.2 186 50.7 187.2 49.3 188.4 47.9 189.6 46.7 190.8 45.4 192 44 193.1 42.6 194.3 41.4 195.5 40.8 196.7 41 197.9 42.4 199.1 44 200.3 45.1 201.5 46 202.6 49.5 203.8 56.6 205 65.6 206.2 73 207.4 73.7 208.6 67.1 209.8 58.9 211 52.8 212.2 48.9 213.3 46.9 214.5 45.8" stroke="#7f7f7f" stroke-width="0.70" fill="none" stroke-linejoin="round"/>
<path d="M43.4 10.6 43.9 15.5 44.4 19.7 44.8 23.3 45.3 26.3 45.8 28.8 46.3 30.9 46.7 32.8 47.2 34.3 47.7 35.6 48.2 36.7 48.6 37.6 49.1 38.4 49.6 39.1 50.1 39.6 50.5 40.1 51 40.5 51.5 40.8 52 41.1 52.5 41.3 52.9 41.5 53.4 41.6 53.9 41.8 54.4 41.9 54.8 42 55.3 42 55.8 42.1 56.3 42.1 56.7 42.1 57.2 42.2 57.7 42.2 59.6 42.2 65.3 41.9 71 41.6 76.7 41.4 82.4 41.3 88.1 41.3 93.8 41.5 99.5 41.7 105.2 41.9 110.9 42.1 116.6 42.3 122.3 42.5 128 42.5 133.7 42.6 136.1 42.7 137.3 42.7 138.5 42.8 139.7 42.9 140.9 43 142 43.1 143.2 43.2 144.4 43.4 145.6 43.5 146.8 43.7 148 43.9 149.2 44.1 150.4 44.1 151.6 44 152.7 43.7 153.9 43.1 155.1 42.4 156.3 41.5 157.5 40.7 158.7 40 159.9 39.3 161.1 38.5 162.2 37.5 163.4 36.4 164.6 35 165.8 33.7 167 32.4 168.2 31.4 169.4 30.6 170.6 30 171.8 29.6 172.9 29.5 174.1 29.5 175.3 29.9 176.5 30.6 177.7 31.4 178.9 32.3 180.1 33.3 181.3 34.3 182.4 35.3 183.6 36.3 184.8 37.1 186 37.9 187.2 38.6 188.4 39.2 189.6 39.8 190.8 40.5 192 41.2 193.1 42 194.3 42.7 195.5 43 196.7 42.9 197.9 42.2 199.1 41.2 200.3 40.7 201.5 40.2 202.6 38.1 203.8 33.8 205 28.4 206.2 23.9 207.4 23.5 208.6 27.6 209.8 32.7 211 36.4 212.2 38.9 213.3 40.1 214.5 40.7" stroke="#bcbd22" stroke-width="0.70" fill="none" stroke-linejoin="round"/>
<path d="M43.4 31.7 43.9 33.8 44.4 35.6 44.8 37.1 45.3 38.3 45.8 39.4 46.3 40.3 46.7 41.1 47.2 41.7 47.7 42.2 48.2 42.6 48.6 43 49.1 43.3 49.6 43.5 50.1 43.8 50.5 43.9 51 44.1 51.5 44.2 52 44.3 52.5 44.3 52.9 44.4 53.4 44.4 53.9 44.5 54.4 44.5 54.8 44.5 55.3 44.6 55.8 44.6 56.3 44.6 56.7 44.6 57.2 44.6 57.7 44.6 59.6 44.7 65.3 45.2 71 45.9 76.7 46.5 82.4 46.6 88.1 46.3 93.8 45.7 99.5 45.2 105.2 45 110.9 45.2 116.6 45.5 122.3 45.7 128 45.6 133.7 45.3 136.1 45.3 137.3 45.3 138.5 45.4 139.7 45.5 140.9 45.7 142 45.9 143.2 46.1 144.4 46.5 145.6 46.8 146.8 47.2 148 47.6 149.2 48 150.4 48.2 151.6 48.3 152.7 48.2 153.9 47.8 155.1 47.1 156.3 46.5 157.5 45.8 158.7 45.1 159.9 44.5 161.1 43.7 162.2 42.8 163.4 41.6 164.6 40.1 165.8 38.6 167 37.2 168.2 36.1 169.4 35.1 170.6 34.4 171.8 33.8 172.9 33.6 174.1 33.6 175.3 33.9 176.5 34.5 177.7 35.3 178.9 36.3 180.1 37.3 181.3 38.4 182.4 39.4 183.6 40.5 184.8 41.4 186 42.3 187.2 43.1 188.4 43.8 189.6 44.5 190.8 45.2 192 46.1 193.1 46.9 194.3 47.7 195.5 48.1 196.7 48 197.9 47.2 199.1 46.1 200.3 45.6 201.5 45 202.6 42.8 203.8 38 205 32 206.2 27.1 207.4 26.7 208.6 31.3 209.8 36.9 211 41 212.2 43.7 213.3 45.2 214.5 46" stroke="#17becf" stroke-width="0.70" fill="none" stroke-linejoin="round"/>
<path d="M271.5 66.3 272 62.2 272.5 58.8 272.9 55.8 273.4 53.3 273.9 51.1 274.4 49.3 274.9 47.7 275.3 46.4 275.8 45.3 276.3 44.3 276.8 43.5 277.3 42.8 277.8 42.2 278.2 41.7 278.7 41.2 279.2 40.9 279.7 40.6 280.2 40.3 280.6 40.1 281.1 39.9 281.6 39.7 282.1 39.5 282.6 39.4 283 39.3 283.5 39.2 284 39.1 284.5 39.1 285 39 285.4 39 285.9 38.9 287.9 38.8 293.6 38.7 299.4 38.7 305.2 38.7 310.9 38.8 316.7 38.9 322.5 39 328.2 39.1 334 39.2 339.8 39.3 345.6 39.4 351.3 39.5 357.1 39.5 362.9 39.5 365.3 39.5 366.5 39.4 367.7 39.3 368.9 39.2 370.1 39 371.3 38.8 372.5 38.5 373.7 38.3 374.9 38 376.1 37.7 377.3 37.4 378.5 37.2 379.7 37 380.9 37 382.1 37.1 383.3 37.2 384.5 37.4 385.7 37.7 386.9 37.9 388.1 38.2 389.3 38.5 390.5 38.9 391.7 39.6 392.9 40.7 394.1 42.2 395.3 43.8 396.5 45.4 397.7 46.8 398.9 48 400.1 48.9 401.3 49.5 402.5 49.7 403.7 49.4 404.9 48.8 406.2 48 407.4 46.9 408.6 45.8 409.8 44.6 411 43.5 412.2 42.4 413.4 41.5 414.6 40.6 415.8 39.9 417 39.3 418.2 38.7 419.4 38.2 420.6 37.8 421.8 37.3 423 36.8 424.2 36.4 425.4 36.3 426.6 36.6 427.8 37.4 429 38.5 430.2 39.2 431.4 40.1 432.6 42.9 433.8 48.5 435 55.6 436.2 61.5 437.4 62 438.6 56.9 439.8 50.3 441 45.2 442.2 42 443.4 40.4 444.6 39.5" stroke="#1f77b4" stroke-width="0.70" fill="none" stroke-linejoin="round"/>
<path d="M271.5 23.2 272 26 272.5 28.4 272.9 30.4 273.4 32.2 273.9 33.6 274.4 34.9 274.9 35.9 275.3 36.8 275.8 37.6 276.3 38.2 276.8 38.8 277.3 39.3 277.8 39.7 278.2 40 278.7 40.3 279.2 40.5 279.7 40.7 280.2 40.9 280.6 41 281.1 41.2 281.6 41.3 282.1 41.4 282.6 41.4 283 41.5 283.5 41.6 284 41.6 284.5 41.7 285 41.7 285.4 41.7 285.9 41.8 287.9 41.9 293.6 42.1 299.4 42.3 305.2 42.5 310.9 42.6 316.7 42.6 322.5 42.4 328.2 42.3 334 42.1 339.8 42.1 345.6 42.1 351.3 42.3 357.1 42.5 362.9 42.7 365.3 42.9 366.5 43.1 367.7 43.3 368.9 43.6 370.1 43.9 371.3 44.3 372.5 44.7 373.7 45.1 374.9 45.5 376.1 45.8 377.3 46.2 378.5 46.4 379.7 46.6 380.9 46.7 382.1 46.6 383.3 46.4 384.5 46 385.7 45.5 386.9 44.9 388.1 44.4 389.3 43.9 390.5 43.3 391.7 42.7 392.9 41.9 394.1 41 395.3 40 396.5 39.1 397.7 38.3 398.9 37.6 400.1 37.1 401.3 36.8 402.5 36.8 403.7 36.9 404.9 37.3 406.2 37.8 407.4 38.4 408.6 39.1 409.8 39.7 411 40.4 412.2 41 413.4 41.6 414.6 42.1 415.8 42.6 417 43.1 418.2 43.5 419.4 43.8 420.6 44.2 421.8 44.6 423 45 424.2 45.3 425.4 45.5 426.6 45.4 427.8 45.1 429 44.8 430.2 44.9 431.4 44.9 432.6 43.8 433.8 41.2 435 37.8 436.2 34.9 437.4 34.6 438.6 37.2 439.8 40.1 441 42 442.2 43 443.4 43.1 444.6 42.6" stroke="#ff7f0e" stroke-width="0.70" fill="none" stroke-linejoin="round"/>
<path d="M271.5 31 272 32.1 272.5 33 272.9 33.8 273.4 34.5 273.9 35.1 274.4 35.6 274.9 36.1 275.3 36.4 275.8 36.8 276.3 37 276.8 37.3 277.3 37.5 277.8 37.7 278.2 37.8 278.7 38 279.2 38.1 279.7 38.2 280.2 38.3 280.6 38.4 281.1 38.5 281.6 38.6 282.1 38.6 282.6 38.7 283 38.7 283.5 38.8 284 38.8 284.5 38.9 285 38.9 285.4 39 285.9 39 287.9 39.1 293.6 39.3 299.4 39.3 305.2 39.1 310.9 38.8 316.7 38.5 322.5 38.2 328.2 38 334 38 339.8 38.2 345.6 38.4 351.3 38.8 357.1 39.1 362.9 39.4 365.3 39.5 366.5 39.5 367.7 39.5 368.9 39.5 370.1 39.5 371.3 39.4 372.5 39.4 373.7 39.3 374.9 39.2 376.1 39.1 377.3 39 378.5 38.9 379.7 38.8 380.9 38.8 382.1 38.8 383.3 38.8 384.5 38.8 385.7 38.8 386.9 38.7 388.1 38.7 389.3 38.7 390.5 38.7 391.7 39 392.9 39.5 394.1 40.1 395.3 40.8 396.5 41.6 397.7 42.2 398.9 42.8 400.1 43.2 401.3 43.5 402.5 43.5 403.7 43.4 404.9 43.1 406.2 42.6 407.4 42.1 408.6 41.5 409.8 41 411 40.4 412.2 39.9 413.4 39.5 414.6 39.1 415.8 38.7 417 38.4 418.2 38.2 419.4 38 420.6 37.9 421.8 37.7 423 37.5 424.2 37.4 425.4 37.4 426.6 37.6 427.8 38.1 429 38.7 430.2 39.3 431.4 39.9 432.6 41.5 433.8 44.5 435 48.2 436.2 51.3 437.4 51.6 438.6 49 439.8 45.7 441 42.9 442.2 41.1 443.4 40 444.6 39.3" stroke="#2ca02c" stroke-width="0.70" fill="none" stroke-linejoin="round"/>
<path d="M271.5 17.3 272 20.5 272.5 23.2 272.9 25.6 273.4 27.5 273.9 29.2 274.4 30.6 274.9 31.9 275.3 32.9 275.8 33.8 276.3 34.5 276.8 35.2 277.3 35.7 277.8 36.2 278.2 36.6 278.7 36.9 279.2 37.2 279.7 37.5 280.2 37.7 280.6 37.9 281.1 38.1 281.6 38.2 282.1 38.3 282.6 38.4 283 38.5 283.5 38.6 284 38.7 284.5 38.8 285 38.8 285.4 38.9 285.9 38.9 287.9 39.1 293.6 39.3 299.4 39.5 305.2 39.5 310.9 39.4 316.7 39.3 322.5 39.2 328.2 39.2 334 39.1 339.8 39.1 345.6 39 351.3 38.9 357.1 38.9 362.9 38.9 365.3 39.2 366.5 39.4 367.7 39.7 368.9 40 370.1 40.3 371.3 40.7 372.5 41.1 373.7 41.5 374.9 42 376.1 42.4 377.3 42.7 378.5 43.1 379.7 43.3 380.9 43.4 382.1 43.4 383.3 43.2 384.5 42.8 385.7 42.3 386.9 41.7 388.1 41.1 389.3 40.5 390.5 39.9 391.7 39.1 392.9 38.2 394.1 37.1 395.3 35.9 396.5 34.7 397.7 33.7 398.9 32.8 400.1 32.2 401.3 31.8 402.5 31.6 403.7 31.8 404.9 32.2 406.2 32.8 407.4 33.5 408.6 34.3 409.8 35.1 411 35.9 412.2 36.7 413.4 37.4 414.6 38 415.8 38.6 417 39.1 418.2 39.5 419.4 40 420.6 40.4 421.8 40.8 423 41.3 424.2 41.7 425.4 41.8 426.6 41.7 427.8 41.3 429 40.8 430.2 40.9 431.4 40.9 432.6 39.4 433.8 36.1 435 31.9 436.2 28.3 437.4 28 438.6 31.3 439.8 35.1 441 37.6 442.2 39 443.4 39.2 444.6 38.7" stroke="#d62728" stroke-width="0.70" fill="none" stroke-linejoin="round"/>
<path d="M271.5 73.8 272 69 272.5 65 272.9 61.5 273.4 58.6 273.9 56.1 274.4 54 274.9 52.2 275.3 50.7 275.8 49.4 276.3 48.3 276.8 47.4 277.3 46.6 277.8 45.9 278.2 45.4 278.7 44.9 279.2 44.5 279.7 44.2 280.2 43.9 280.6 43.6 281.1 43.5 281.6 43.3 282.1 43.2 282.6 43 283 43 283.5 42.9 284 42.8 284.5 42.8 285 42.7 285.4 42.7 285.9 42.7 287.9 42.6 293.6 42.5 299.4 42.3 305.2 42.1 310.9 41.9 316.7 41.8 322.5 41.7 328.2 41.7 334 41.7 339.8 41.8 345.6 42 351.3 42.3 357.1 42.6 362.9 42.8 365.3 42.9 366.5 43 367.7 43.1 368.9 43.2 370.1 43.4 371.3 43.5 372.5 43.6 373.7 43.8 374.9 43.9 376.1 44 377.3 44.1 378.5 44.1 379.7 44.1 380.9 44.1 382.1 44.1 383.3 43.9 384.5 43.7 385.7 43.4 386.9 43.1 388.1 42.8 389.3 42.5 390.5 42.3 391.7 42.2 392.9 42.1 394.1 42 395.3 42 396.5 42 397.7 42.1 398.9 42.1 400.1 42.2 401.3 42.3 402.5 42.3 403.7 42.4 404.9 42.5 406.2 42.6 407.4 42.7 408.6 42.8 409.8 42.9 411 43 412.2 43.1 413.4 43.1 414.6 43.2 415.8 43.3 417 43.4 418.2 43.5 419.4 43.6 420.6 43.6 421.8 43.7 423 43.8 424.2 43.8 425.4 43.9 426.6 43.9 427.8 43.9 429 44.1 430.2 44.4 431.4 44.7 432.6 44.9 433.8 45.1 435 45.4 436.2 45.5 437.4 45.4 438.6 45.2 439.8 44.7 441 44.1 442.2 43.5 443.4 42.9 444.6 42.3" stroke="#9467bd" stroke-width="0.70" fill="none" stroke-linejoin="round"/>
<path d="M271.5 25.9 272 28.1 272.5 30 272.9 31.6 273.4 33 273.9 34.2 274.4 35.2 274.9 36 275.3 36.8 275.8 37.4 276.3 37.9 276.8 38.4 277.3 38.8 277.8 39.1 278.2 39.4 278.7 39.7 279.2 39.9 279.7 40.1 280.2 40.3 280.6 40.4 281.1 40.5 281.6 40.6 282.1 40.7 282.6 40.8 283 40.9 283.5 41 284 41 284.5 41.1 285 41.1 285.4 41.2 285.9 41.2 287.9 41.3 293.6 41.5 299.4 41.4 305.2 41.2 310.9 41 316.7 40.7 322.5 40.5 328.2 40.4 334 40.5 339.8 40.6 345.6 40.8 351.3 41 357.1 41.2 362.9 41.2 365.3 41.2 366.5 41.2 367.7 41.2 368.9 41.1 370.1 41.1 371.3 41 372.5 40.9 373.7 40.8 374.9 40.7 376.1 40.5 377.3 40.4 378.5 40.3 379.7 40.2 380.9 40.2 382.1 40.3 383.3 40.4 384.5 40.5 385.7 40.6 386.9 40.7 388.1 40.9 389.3 41 390.5 41.3 391.7 41.8 392.9 42.6 394.1 43.6 395.3 44.7 396.5 45.9 397.7 47 398.9 47.8 400.1 48.5 401.3 49 402.5 49.2 403.7 49 404.9 48.7 406.2 48.1 407.4 47.4 408.6 46.7 409.8 45.9 411 45.2 412.2 44.5 413.4 43.9 414.6 43.3 415.8 42.8 417 42.4 418.2 42 419.4 41.7 420.6 41.4 421.8 41 423 40.7 424.2 40.4 425.4 40.3 426.6 40.5 427.8 41 429 41.8 430.2 42.3 431.4 43 432.6 44.9 433.8 48.8 435 53.7 436.2 57.7 437.4 58 438.6 54.3 439.8 49.6 441 45.8 442.2 43.3 443.4 41.9 444.6 41" stroke="#8c564b" stroke-width="0.70" fill="none" stroke-linejoin="round"/>
<path d="M271.5 51.3 272 50.3 272.5 49.4 272.9 48.6 273.4 47.9 273.9 47.4 274.4 46.9 274.9 46.5 275.3 46.2 275.8 45.9 276.3 45.6 276.8 45.4 277.3 45.3 277.8 45.1 278.2 45 278.7 44.9 279.2 44.8 279.7 44.8 280.2 44.7 280.6 44.6 281.1 44.6 281.6 44.6 282.1 44.6 282.6 44.5 283 44.5 283.5 44.5 284 44.5 284.5 44.5 285 44.5 285.4 44.5 285.9 44.5 287.9 44.4 293.6 44.4 299.4 44.2 305.2 44.1 310.9 44 316.7 44.1 322.5 44.3 328.2 44.5 334 44.6 339.8 44.5 345.6 44.4 351.3 44.3 357.1 44.3 362.9 44.4 365.3 44.4 366.5 44.5 367.7 44.6 368.9 44.7 370.1 44.8 371.3 44.9 372.5 45 373.7 45.1 374.9 45.2 376.1 45.3 377.3 45.4 378.5 45.4 379.7 45.5 380.9 45.5 382.1 45.6 383.3 45.6 384.5 45.7 385.7 45.7 386.9 45.7 388.1 45.7 389.3 45.7 390.5 45.8 391.7 46 392.9 46.6 394.1 47.3 395.3 48 396.5 48.8 397.7 49.6 398.9 50.2 400.1 50.6 401.3 50.9 402.5 51 403.7 50.9 404.9 50.6 406.2 50.2 407.4 49.7 408.6 49.1 409.8 48.5 411 48 412.2 47.5 413.4 47 414.6 46.7 415.8 46.3 417 46.1 418.2 45.8 419.4 45.7 420.6 45.5 421.8 45.3 423 45.1 424.2 44.9 425.4 44.9 426.6 45.1 427.8 45.5 429 46.1 430.2 46.6 431.4 47.2 432.6 48.7 433.8 51.6 435 55.2 436.2 58.1 437.4 58.3 438.6 55.5 439.8 51.9 441 48.9 442.2 46.9 443.4 45.8 444.6 45" stroke="#e377c2" stroke-width="0.70" fill="none" stroke-linejoin="round"/>
<path d="M271.5 14.2 272 18.3 272.5 21.9 272.9 24.9 273.4 27.4 273.9 29.6 274.4 31.5 274.9 33 275.3 34.4 275.8 35.5 276.3 36.4 276.8 37.2 277.3 37.9 277.8 38.5 278.2 39 278.7 39.4 279.2 39.8 279.7 40.1 280.2 40.3 280.6 40.5 281.1 40.7 281.6 40.9 282.1 41 282.6 41.1 283 41.2 283.5 41.2 284 41.3 284.5 41.3 285 41.4 285.4 41.4 285.9 41.5 287.9 41.5 293.6 41.6 299.4 41.7 305.2 41.9 310.9 42.1 316.7 42.2 322.5 42.2 328.2 42.2 334 42 339.8 41.9 345.6 41.8 351.3 41.9 357.1 42.1 362.9 42.2 365.3 42.1 366.5 42 367.7 41.8 368.9 41.5 370.1 41.2 371.3 40.8 372.5 40.4 373.7 39.9 374.9 39.4 376.1 38.9 377.3 38.4 378.5 38 379.7 37.8 380.9 37.7 382.1 37.9 383.3 38.3 384.5 38.9 385.7 39.6 386.9 40.4 388.1 41.2 389.3 41.9 390.5 42.9 391.7 44.5 392.9 46.7 394.1 49.6 395.3 52.8 396.5 55.9 397.7 58.7 398.9 61.1 400.1 62.8 401.3 63.9 402.5 64.2 403.7 63.6 404.9 62.4 406.2 60.7 407.4 58.7 408.6 56.4 409.8 54.1 411 51.9 412.2 49.8 413.4 47.9 414.6 46.1 415.8 44.6 417 43.4 418.2 42.3 419.4 41.3 420.6 40.3 421.8 39.3 423 38.2 424.2 37.4 425.4 37.2 426.6 37.7 427.8 39.2 429 41.1 430.2 42.2 431.4 43.6 432.6 48.7 433.8 59.2 435 72.5 436.2 83.4 437.4 84.4 438.6 74.6 439.8 62.3 441 52.9 442.2 47.1 443.4 44.3 444.6 43.2" stroke="#7f7f7f" stroke-width="0.70" fill="none" stroke-linejoin="round"/>
<path d="M271.5 42.7 272 42.6 272.5 42.6 272.9 42.6 273.4 42.6 273.9 42.6 274.4 42.6 274.9 42.6 275.3 42.6 275.8 42.6 276.3 42.6 276.8 42.6 277.3 42.6 277.8 42.5 278.2 42.5 278.7 42.5 279.2 42.5 279.7 42.4 280.2 42.4 280.6 42.4 281.1 42.3 281.6 42.3 282.1 42.2 282.6 42.2 283 42.2 283.5 42.1 284 42.1 284.5 42.1 285 42 285.4 42 285.9 41.9 287.9 41.8 293.6 41.8 299.4 42.1 305.2 42.7 310.9 43 316.7 42.8 322.5 42.4 328.2 41.9 334 41.9 339.8 42.2 345.6 42.7 351.3 43 357.1 42.9 362.9 42.5 365.3 42.5 366.5 42.5 367.7 42.6 368.9 42.8 370.1 43 371.3 43.3 372.5 43.6 373.7 43.9 374.9 44.2 376.1 44.6 377.3 44.9 378.5 45.2 379.7 45.4 380.9 45.6 382.1 45.7 383.3 45.7 384.5 45.5 385.7 45.3 386.9 45 388.1 44.6 389.3 44.3 390.5 44 391.7 43.7 392.9 43.3 394.1 42.8 395.3 42.3 396.5 41.9 397.7 41.4 398.9 41.1 400.1 40.8 401.3 40.6 402.5 40.4 403.7 40.4 404.9 40.5 406.2 40.6 407.4 40.8 408.6 41 409.8 41.3 411 41.6 412.2 41.9 413.4 42.1 414.6 42.4 415.8 42.7 417 43 418.2 43.3 419.4 43.6 420.6 43.9 421.8 44.2 423 44.5 424.2 44.8 425.4 44.9 426.6 45 427.8 45 429 45 430.2 45.2 431.4 45.5 432.6 45.2 433.8 44.2 435 42.9 436.2 41.7 437.4 41.5 438.6 42.3 439.8 43.2 441 43.5 442.2 43.5 443.4 43.1 444.6 42.5" stroke="#bcbd22" stroke-width="0.70" fill="none" stroke-linejoin="round"/>
<path d="M271.5 17.3 272 21.4 272.5 24.8 272.9 27.8 273.4 30.3 273.9 32.4 274.4 34.3 274.9 35.8 275.3 37.1 275.8 38.3 276.3 39.2 276.8 40 277.3 40.7 277.8 41.3 278.2 41.8 278.7 42.2 279.2 42.6 279.7 42.9 280.2 43.2 280.6 43.4 281.1 43.6 281.6 43.8 282.1 43.9 282.6 44 283 44.1 283.5 44.2 284 44.3 284.5 44.4 285 44.4 285.4 44.5 285.9 44.5 287.9 44.6 293.6 44.8 299.4 44.9 305.2 45 310.9 45.1 316.7 45.1 322.5 45.1 328.2 45.1 334 45 339.8 44.8 345.6 44.7 351.3 44.5 357.1 44.4 362.9 44.4 365.3 44.8 366.5 45.1 367.7 45.6 368.9 46.2 370.1 46.9 371.3 47.7 372.5 48.5 373.7 49.4 374.9 50.3 376.1 51.2 377.3 52 378.5 52.7 379.7 53.2 380.9 53.5 382.1 53.4 383.3 53 384.5 52.3 385.7 51.3 386.9 50.3 388.1 49.3 389.3 48.3 390.5 47.1 391.7 45.6 392.9 43.6 394.1 41.1 395.3 38.4 396.5 35.8 397.7 33.5 398.9 31.5 400.1 30.1 401.3 29.2 402.5 29 403.7 29.4 404.9 30.4 406.2 31.8 407.4 33.5 408.6 35.3 409.8 37.2 411 39 412.2 40.7 413.4 42.3 414.6 43.8 415.8 45.1 417 46.2 418.2 47.1 419.4 48 420.6 48.9 421.8 49.9 423 50.8 424.2 51.6 425.4 51.9 426.6 51.6 427.8 50.4 429 49.2 430.2 48.8 431.4 48.4 432.6 44.6 433.8 36.4 435 25.7 436.2 16.8 437.4 16 438.6 23.8 439.8 33.2 441 39.9 442.2 43.8 443.4 45 444.6 44.8" stroke="#17becf" stroke-width="0.70" fill="none" stroke-linejoin="round"/>
<path d="M271.5 14.7 272 18.4 272.5 21.6 272.9 24.3 273.4 26.5 273.9 28.5 274.4 30.1 274.9 31.5 275.3 32.7 275.8 33.7 276.3 34.6 276.8 35.3 277.3 36 277.8 36.5 278.2 36.9 278.7 37.3 279.2 37.7 279.7 37.9 280.2 38.2 280.6 38.4 281.1 38.6 281.6 38.7 282.1 38.8 282.6 38.9 283 39 283.5 39.1 284 39.2 284.5 39.2 285 39.3 285.4 39.3 285.9 39.3 287.9 39.4 293.6 39.6 299.4 39.6 305.2 39.6 310.9 39.7 316.7 39.7 322.5 39.7 328.2 39.8 334 39.9 339.8 39.9 345.6 40 351.3 40.1 357.1 40.2 362.9 40.3 365.3 40.3 366.5 40.4 367.7 40.4 368.9 40.5 370.1 40.5 371.3 40.6 372.5 40.6 373.7 40.6 374.9 40.7 376.1 40.7 377.3 40.7 378.5 40.7 379.7 40.7 380.9 40.7 382.1 40.7 383.3 40.7 384.5 40.6 385.7 40.5 386.9 40.4 388.1 40.3 389.3 40.2 390.5 40.2 391.7 40.2 392.9 40.5 394.1 40.8 395.3 41.2 396.5 41.7 397.7 42 398.9 42.4 400.1 42.6 401.3 42.8 402.5 42.8 403.7 42.7 404.9 42.6 406.2 42.3 407.4 42 408.6 41.7 409.8 41.4 411 41.1 412.2 40.8 413.4 40.6 414.6 40.3 415.8 40.2 417 40 418.2 39.9 419.4 39.8 420.6 39.7 421.8 39.6 423 39.6 424.2 39.5 425.4 39.5 426.6 39.6 427.8 39.9 429 40.4 430.2 40.8 431.4 41.3 432.6 42.3 433.8 44.1 435 46.3 436.2 48.1 437.4 48.3 438.6 46.7 439.8 44.6 441 42.8 442.2 41.5 443.4 40.7 444.6 40" stroke="#1f77b4" stroke-width="0.70" fill="none" stroke-linejoin="round"/>
<path d="M271.5 48.5 272 47.2 272.5 46 272.9 45.1 273.4 44.3 273.9 43.6 274.4 43 274.9 42.5 275.3 42.1 275.8 41.7 276.3 41.4 276.8 41.1 277.3 40.9 277.8 40.7 278.2 40.6 278.7 40.5 279.2 40.3 279.7 40.3 280.2 40.2 280.6 40.1 281.1 40.1 281.6 40 282.1 40 282.6 40 283 39.9 283.5 39.9 284 39.9 284.5 39.9 285 39.9 285.4 39.9 285.9 39.9 287.9 39.9 293.6 39.9 299.4 39.9 305.2 39.8 310.9 39.7 316.7 39.6 322.5 39.5 328.2 39.4 334 39.3 339.8 39.3 345.6 39.4 351.3 39.6 357.1 39.7 362.9 39.9 365.3 40 366.5 40.1 367.7 40.2 368.9 40.3 370.1 40.3 371.3 40.4 372.5 40.5 373.7 40.5 374.9 40.5 376.1 40.6 377.3 40.6 378.5 40.6 379.7 40.6 380.9 40.6 382.1 40.7 383.3 40.7 384.5 40.6 385.7 40.6 386.9 40.5 388.1 40.4 389.3 40.3 390.5 40.3 391.7 40.4 392.9 40.6 394.1 41 395.3 41.5 396.5 41.9 397.7 42.3 398.9 42.6 400.1 42.9 401.3 43.1 402.5 43.1 403.7 43 404.9 42.8 406.2 42.5 407.4 42.2 408.6 41.8 409.8 41.5 411 41.1 412.2 40.8 413.4 40.5 414.6 40.2 415.8 40 417 39.9 418.2 39.7 419.4 39.6 420.6 39.5 421.8 39.4 423 39.3 424.2 39.2 425.4 39.3 426.6 39.4 427.8 39.7 429 40.1 430.2 40.6 431.4 41.1 432.6 42.1 433.8 44.1 435 46.5 436.2 48.4 437.4 48.6 438.6 47 439.8 44.7 441 42.8 442.2 41.5 443.4 40.6 444.6 40" stroke="#ff7f0e" stroke-width="0.70" fill="none" stroke-linejoin="round"/>
<path d="M271.5 22 272 24.5 272.5 26.7 272.9 28.5 273.4 30 273.9 31.3 274.4 32.5 274.9 33.4 275.3 34.2 275.8 34.9 276.3 35.5 276.8 36 277.3 36.4 277.8 36.8 278.2 37.1 278.7 37.3 279.2 37.6 279.7 37.8 280.2 37.9 280.6 38.1 281.1 38.2 281.6 38.3 282.1 38.4 282.6 38.4 283 38.5 283.5 38.6 284 38.6 284.5 38.6 285 38.7 285.4 38.7 285.9 38.7 287.9 38.8 293.6 39 299.4 39.1 305.2 39.2 310.9 39.3 316.7 39.2 322.5 39.2 328.2 39.1 334 39 339.8 39 345.6 39.1 351.3 39.2 357.1 39.2 362.9 39.3 365.3 39.5 366.5 39.8 367.7 40 368.9 40.4 370.1 40.8 371.3 41.2 372.5 41.7 373.7 42.2 374.9 42.6 376.1 43.1 377.3 43.5 378.5 43.9 379.7 44.1 380.9 44.3 382.1 44.2 383.3 43.9 384.5 43.3 385.7 42.6 386.9 41.9 388.1 41.1 389.3 40.4 390.5 39.6 391.7 38.6 392.9 37.3 394.1 35.7 395.3 34 396.5 32.3 397.7 30.8 398.9 29.6 400.1 28.7 401.3 28.1 402.5 28 403.7 28.2 404.9 28.8 406.2 29.6 407.4 30.7 408.6 31.8 409.8 33 411 34.1 412.2 35.2 413.4 36.2 414.6 37.2 415.8 38 417 38.7 418.2 39.4 419.4 40 420.6 40.6 421.8 41.2 423 41.9 424.2 42.5 425.4 42.7 426.6 42.6 427.8 41.9 429 41.3 430.2 41.2 431.4 41.1 432.6 39 433.8 34.2 435 28 436.2 22.8 437.4 22.3 438.6 27.1 439.8 32.8 441 36.7 442.2 38.9 443.4 39.5 444.6 39.1" stroke="#2ca02c" stroke-width="0.70" fill="none" stroke-linejoin="round"/>
<path d="M271.5 89 272 82.2 272.5 76.4 272.9 71.5 273.4 67.3 273.9 63.7 274.4 60.7 274.9 58.1 275.3 55.9 275.8 54.1 276.3 52.5 276.8 51.1 277.3 50 277.8 49 278.2 48.2 278.7 47.5 279.2 46.9 279.7 46.4 280.2 46 280.6 45.6 281.1 45.3 281.6 45.1 282.1 44.8 282.6 44.7 283 44.5 283.5 44.4 284 44.3 284.5 44.2 285 44.1 285.4 44.1 285.9 44 287.9 43.9 293.6 43.9 299.4 44 305.2 44 310.9 44 316.7 43.9 322.5 43.7 328.2 43.7 334 43.7 339.8 43.7 345.6 43.8 351.3 43.9 357.1 43.9 362.9 44 365.3 44.4 366.5 44.8 367.7 45.3 368.9 45.9 370.1 46.6 371.3 47.3 372.5 48.2 373.7 49.1 374.9 50 376.1 50.8 377.3 51.6 378.5 52.3 379.7 52.8 380.9 52.9 382.1 52.8 383.3 52.3 384.5 51.4 385.7 50.3 386.9 49.1 388.1 47.9 389.3 46.7 390.5 45.4 391.7 43.7 392.9 41.4 394.1 38.5 395.3 35.5 396.5 32.5 397.7 29.8 398.9 27.7 400.1 26 401.3 25 402.5 24.7 403.7 25.2 404.9 26.3 406.2 27.9 407.4 29.8 408.6 31.9 409.8 34 411 36.1 412.2 38.1 413.4 39.9 414.6 41.6 415.8 43.1 417 44.4 418.2 45.5 419.4 46.6 420.6 47.6 421.8 48.7 423 49.9 424.2 50.8 425.4 51.2 426.6 50.9 427.8 49.7 429 48.3 430.2 47.9 431.4 47.4 432.6 43.2 433.8 34.1 435 22.2 436.2 12.3 437.4 11.4 438.6 20.2 439.8 30.8 441 38.4 442.2 42.8 443.4 44.2 444.6 44.1" stroke="#d62728" stroke-width="0.70" fill="none" stroke-linejoin="round"/>
<path d="M271.5 39 272 39.6 272.5 40.1 272.9 40.6 273.4 41 273.9 41.3 274.4 41.5 274.9 41.7 275.3 41.9 275.8 42.1 276.3 42.2 276.8 42.3 277.3 42.4 277.8 42.5 278.2 42.6 278.7 42.7 279.2 42.7 279.7 42.8 280.2 42.8 280.6 42.9 281.1 42.9 281.6 43 282.1 43 282.6 43.1 283 43.1 283.5 43.1 284 43.2 284.5 43.2 285 43.3 285.4 43.3 285.9 43.4 287.9 43.5 293.6 43.9 299.4 44 305.2 43.8 310.9 43.4 316.7 43.3 322.5 43.5 328.2 43.9 334 44.2 339.8 44.1 345.6 43.7 351.3 43.3 357.1 43.2 362.9 43.5 365.3 43.7 366.5 43.9 367.7 44.2 368.9 44.4 370.1 44.7 371.3 45 372.5 45.4 373.7 45.7 374.9 46 376.1 46.2 377.3 46.4 378.5 46.6 379.7 46.7 380.9 46.7 382.1 46.7 383.3 46.5 384.5 46.2 385.7 45.9 386.9 45.5 388.1 45.1 389.3 44.7 390.5 44.4 391.7 44.1 392.9 43.9 394.1 43.6 395.3 43.4 396.5 43.2 397.7 43.1 398.9 43 400.1 43 401.3 43 402.5 43 403.7 43.2 404.9 43.3 406.2 43.5 407.4 43.8 408.6 44 409.8 44.2 411 44.4 412.2 44.6 413.4 44.8 414.6 44.9 415.8 45.1 417 45.2 418.2 45.3 419.4 45.3 420.6 45.4 421.8 45.5 423 45.6 424.2 45.6 425.4 45.6 426.6 45.6 427.8 45.5 429 45.5 430.2 45.8 431.4 46.1 432.6 46 433.8 45.6 435 45.1 436.2 44.5 437.4 44.5 438.6 45 439.8 45.3 441 45.4 442.2 45.3 443.4 44.9 444.6 44.4" stroke="#9467bd" stroke-width="0.70" fill="none" stroke-linejoin="round"/>
<path d="M271.5 43.1 272 42.6 272.5 42.2 272.9 41.9 273.4 41.6 273.9 41.3 274.4 41.1 274.9 40.9 275.3 40.7 275.8 40.6 276.3 40.5 276.8 40.4 277.3 40.3 277.8 40.2 278.2 40.2 278.7 40.1 279.2 40.1 279.7 40 280.2 40 280.6 40 281.1 39.9 281.6 39.9 282.1 39.9 282.6 39.8 283 39.8 283.5 39.8 284 39.8 284.5 39.7 285 39.7 285.4 39.7 285.9 39.7 287.9 39.6 293.6 39.5 299.4 39.6 305.2 39.8 310.9 40 316.7 40.1 322.5 40 328.2 39.8 334 39.7 339.8 39.7 345.6 39.8 351.3 40 357.1 40.1 362.9 40.1 365.3 40.2 366.5 40.4 367.7 40.6 368.9 40.9 370.1 41.2 371.3 41.5 372.5 41.9 373.7 42.3 374.9 42.7 376.1 43.1 377.3 43.4 378.5 43.8 379.7 44 380.9 44.1 382.1 44.1 383.3 43.9 384.5 43.4 385.7 42.9 386.9 42.3 388.1 41.7 389.3 41.1 390.5 40.5 391.7 39.7 392.9 38.8 394.1 37.6 395.3 36.2 396.5 35 397.7 33.8 398.9 32.9 400.1 32.2 401.3 31.8 402.5 31.6 403.7 31.8 404.9 32.2 406.2 32.9 407.4 33.6 408.6 34.5 409.8 35.3 411 36.2 412.2 37 413.4 37.7 414.6 38.4 415.8 39 417 39.6 418.2 40.1 419.4 40.6 420.6 41 421.8 41.5 423 42.1 424.2 42.5 425.4 42.8 426.6 42.7 427.8 42.3 429 41.8 430.2 41.9 431.4 41.9 432.6 40.3 433.8 36.7 435 32 436.2 28 437.4 27.7 438.6 31.4 439.8 35.7 441 38.6 442.2 40.2 443.4 40.5 444.6 40.1" stroke="#8c564b" stroke-width="0.70" fill="none" stroke-linejoin="round"/>
<path d="M271.5 67.9 272 63.8 272.5 60.2 272.9 57.2 273.4 54.7 273.9 52.5 274.4 50.6 274.9 49 275.3 47.7 275.8 46.5 276.3 45.5 276.8 44.7 277.3 43.9 277.8 43.3 278.2 42.8 278.7 42.4 279.2 42 279.7 41.6 280.2 41.4 280.6 41.1 281.1 40.9 281.6 40.7 282.1 40.6 282.6 40.5 283 40.3 283.5 40.2 284 40.2 284.5 40.1 285 40 285.4 40 285.9 39.9 287.9 39.8 293.6 39.7 299.4 39.8 305.2 39.9 310.9 40.1 316.7 40.2 322.5 40.3 328.2 40.4 334 40.5 339.8 40.5 345.6 40.5 351.3 40.5 357.1 40.5 362.9 40.4 365.3 40.4 366.5 40.3 367.7 40.2 368.9 40.1 370.1 39.9 371.3 39.8 372.5 39.6 373.7 39.3 374.9 39.1 376.1 38.9 377.3 38.6 378.5 38.5 379.7 38.3 380.9 38.3 382.1 38.4 383.3 38.6 384.5 38.8 385.7 39.1 386.9 39.4 388.1 39.7 389.3 40 390.5 40.5 391.7 41.2 392.9 42.4 394.1 43.9 395.3 45.6 396.5 47.2 397.7 48.7 398.9 50 400.1 50.9 401.3 51.5 402.5 51.7 403.7 51.4 404.9 50.8 406.2 50 407.4 48.9 408.6 47.8 409.8 46.6 411 45.4 412.2 44.4 413.4 43.4 414.6 42.5 415.8 41.7 417 41.1 418.2 40.5 419.4 40 420.6 39.5 421.8 39 423 38.5 424.2 38.1 425.4 37.9 426.6 38.2 427.8 39 429 40 430.2 40.8 431.4 41.6 432.6 44.4 433.8 50 435 57.1 436.2 63 437.4 63.5 438.6 58.2 439.8 51.6 441 46.4 442.2 43.1 443.4 41.4 444.6 40.5" stroke="#e377c2" stroke-width="0.70" fill="none" stroke-linejoin="round"/>
<path d="M271.5 37.5 272 37.8 272.5 38 272.9 38.1 273.4 38.2 273.9 38.4 274.4 38.5 274.9 38.6 275.3 38.6 275.8 38.7 276.3 38.7 276.8 38.8 277.3 38.8 277.8 38.8 278.2 38.9 278.7 38.9 279.2 38.9 279.7 38.9 280.2 38.9 280.6 38.9 281.1 38.9 281.6 38.9 282.1 38.9 282.6 38.9 283 38.9 283.5 38.9 284 38.9 284.5 38.9 285 38.9 285.4 38.8 285.9 38.8 287.9 38.8 293.6 38.7 299.4 38.8 305.2 38.9 310.9 39.1 316.7 39.2 322.5 39.1 328.2 39 334 39 339.8 39 345.6 39.1 351.3 39.2 357.1 39.2 362.9 39.1 365.3 39.3 366.5 39.4 367.7 39.6 368.9 39.9 370.1 40.2 371.3 40.5 372.5 40.9 373.7 41.2 374.9 41.6 376.1 42 377.3 42.4 378.5 42.7 379.7 42.9 380.9 43 382.1 43 383.3 42.8 384.5 42.4 385.7 41.9 386.9 41.3 388.1 40.7 389.3 40.2 390.5 39.6 391.7 38.9 392.9 37.9 394.1 36.8 395.3 35.6 396.5 34.4 397.7 33.3 398.9 32.5 400.1 31.8 401.3 31.4 402.5 31.2 403.7 31.4 404.9 31.7 406.2 32.3 407.4 33 408.6 33.8 409.8 34.6 411 35.4 412.2 36.1 413.4 36.8 414.6 37.4 415.8 38 417 38.5 418.2 39 419.4 39.4 420.6 39.9 421.8 40.4 423 40.9 424.2 41.3 425.4 41.6 426.6 41.5 427.8 41.1 429 40.8 430.2 40.8 431.4 40.9 432.6 39.5 433.8 36.2 435 32 436.2 28.4 437.4 28.1 438.6 31.5 439.8 35.4 441 38 442.2 39.4 443.4 39.6 444.6 39.2" stroke="#7f7f7f" stroke-width="0.70" fill="none" stroke-linejoin="round"/>
<path d="M271.5 82.9 272 76.7 272.5 71.5 272.9 67 273.4 63.2 273.9 59.9 274.4 57.2 274.9 54.8 275.3 52.8 275.8 51.1 276.3 49.7 276.8 48.5 277.3 47.4 277.8 46.5 278.2 45.8 278.7 45.1 279.2 44.6 279.7 44.1 280.2 43.7 280.6 43.4 281.1 43.1 281.6 42.9 282.1 42.6 282.6 42.5 283 42.3 283.5 42.2 284 42.1 284.5 42 285 41.9 285.4 41.9 285.9 41.8 287.9 41.7 293.6 41.5 299.4 41.4 305.2 41.2 310.9 41 316.7 40.9 322.5 40.9 328.2 41.2 334 41.5 339.8 41.8 345.6 42 351.3 42 357.1 41.9 362.9 41.7 365.3 41.7 366.5 41.7 367.7 41.7 368.9 41.7 370.1 41.7 371.3 41.7 372.5 41.7 373.7 41.7 374.9 41.6 376.1 41.6 377.3 41.6 378.5 41.6 379.7 41.6 380.9 41.6 382.1 41.7 383.3 41.8 384.5 41.8 385.7 41.9 386.9 41.9 388.1 41.9 389.3 42 390.5 42.1 391.7 42.4 392.9 42.9 394.1 43.6 395.3 44.4 396.5 45.2 397.7 45.9 398.9 46.5 400.1 46.9 401.3 47.2 402.5 47.2 403.7 47.1 404.9 46.8 406.2 46.4 407.4 45.8 408.6 45.3 409.8 44.7 411 44.1 412.2 43.6 413.4 43.1 414.6 42.7 415.8 42.4 417 42.1 418.2 41.9 419.4 41.7 420.6 41.5 421.8 41.4 423 41.2 424.2 41.1 425.4 41.1 426.6 41.3 427.8 41.8 429 42.4 430.2 43 431.4 43.7 432.6 45.2 433.8 48.1 435 51.8 436.2 54.7 437.4 55 438.6 52.4 439.8 48.9 441 46.1 442.2 44.2 443.4 43.1 444.6 42.4" stroke="#bcbd22" stroke-width="0.70" fill="none" stroke-linejoin="round"/>
<path d="M271.5 82.4 272 76.3 272.5 71.2 272.9 66.8 273.4 63.1 273.9 59.9 274.4 57.2 274.9 54.9 275.3 53 275.8 51.3 276.3 49.8 276.8 48.6 277.3 47.6 277.8 46.7 278.2 45.9 278.7 45.3 279.2 44.7 279.7 44.2 280.2 43.8 280.6 43.5 281.1 43.2 281.6 42.9 282.1 42.7 282.6 42.5 283 42.3 283.5 42.2 284 42.1 284.5 41.9 285 41.9 285.4 41.8 285.9 41.7 287.9 41.5 293.6 41.3 299.4 41.4 305.2 41.7 310.9 41.9 316.7 42.1 322.5 42.2 328.2 42 334 41.7 339.8 41.3 345.6 41.1 351.3 41 357.1 41.2 362.9 41.5 365.3 41.6 366.5 41.7 367.7 41.8 368.9 41.8 370.1 41.8 371.3 41.8 372.5 41.8 373.7 41.7 374.9 41.7 376.1 41.6 377.3 41.5 378.5 41.5 379.7 41.5 380.9 41.5 382.1 41.6 383.3 41.8 384.5 42 385.7 42.2 386.9 42.4 388.1 42.6 389.3 42.8 390.5 43.1 391.7 43.7 392.9 44.6 394.1 45.8 395.3 47.2 396.5 48.5 397.7 49.7 398.9 50.7 400.1 51.4 401.3 51.8 402.5 51.9 403.7 51.6 404.9 51 406.2 50.2 407.4 49.2 408.6 48.2 409.8 47.1 411 46.1 412.2 45.2 413.4 44.3 414.6 43.5 415.8 42.9 417 42.3 418.2 41.9 419.4 41.5 420.6 41.1 421.8 40.7 423 40.3 424.2 40 425.4 39.9 426.6 40.2 427.8 41 429 42 430.2 42.7 431.4 43.5 432.6 46 433.8 50.9 435 57 436.2 62 437.4 62.5 438.6 58 439.8 52.3 441 47.8 442.2 45 443.4 43.4 444.6 42.6" stroke="#17becf" stroke-width="0.70" fill="none" stroke-linejoin="round"/>
<path d="M271.5 23.3 272 25.7 272.5 27.8 272.9 29.5 273.4 31 273.9 32.3 274.4 33.3 274.9 34.2 275.3 35 275.8 35.7 276.3 36.2 276.8 36.7 277.3 37.1 277.8 37.5 278.2 37.8 278.7 38 279.2 38.2 279.7 38.4 280.2 38.6 280.6 38.7 281.1 38.8 281.6 38.9 282.1 39 282.6 39.1 283 39.1 283.5 39.2 284 39.2 284.5 39.3 285 39.3 285.4 39.3 285.9 39.4 287.9 39.4 293.6 39.6 299.4 39.7 305.2 39.8 310.9 39.9 316.7 39.9 322.5 40 328.2 40.1 334 40.2 339.8 40.2 345.6 40.2 351.3 40.2 357.1 40.1 362.9 40.2 365.3 40.5 366.5 40.7 367.7 41.1 368.9 41.5 370.1 42.1 371.3 42.6 372.5 43.3 373.7 43.9 374.9 44.6 376.1 45.2 377.3 45.8 378.5 46.3 379.7 46.6 380.9 46.7 382.1 46.6 383.3 46.2 384.5 45.5 385.7 44.6 386.9 43.5 388.1 42.5 389.3 41.5 390.5 40.4 391.7 39 392.9 37.2 394.1 34.9 395.3 32.5 396.5 30.1 397.7 28 398.9 26.2 400.1 24.9 401.3 24.1 402.5 23.8 403.7 24.1 404.9 25 406.2 26.2 407.4 27.7 408.6 29.4 409.8 31 411 32.7 412.2 34.2 413.4 35.6 414.6 36.9 415.8 38.1 417 39.1 418.2 40 419.4 40.8 420.6 41.7 421.8 42.5 423 43.5 424.2 44.2 425.4 44.5 426.6 44.3 427.8 43.3 429 42.3 430.2 42.1 431.4 41.7 432.6 38.5 433.8 31.4 435 22.3 436.2 14.6 437.4 14 438.6 21 439.8 29.3 441 35.3 442.2 38.7 443.4 39.8 444.6 39.6" stroke="#1f77b4" stroke-width="0.70" fill="none" stroke-linejoin="round"/>
<path d="M271.5 58.7 272 56.1 272.5 53.8 272.9 51.9 273.4 50.2 273.9 48.8 274.4 47.6 274.9 46.6 275.3 45.8 275.8 45 276.3 44.4 276.8 43.9 277.3 43.4 277.8 43.1 278.2 42.7 278.7 42.5 279.2 42.2 279.7 42.1 280.2 41.9 280.6 41.8 281.1 41.6 281.6 41.5 282.1 41.5 282.6 41.4 283 41.3 283.5 41.3 284 41.2 284.5 41.2 285 41.2 285.4 41.2 285.9 41.1 287.9 41.1 293.6 41.1 299.4 41.1 305.2 41.1 310.9 41.1 316.7 41 322.5 41 328.2 41 334 41.1 339.8 41.1 345.6 41.2 351.3 41.2 357.1 41.3 362.9 41.4 365.3 41.7 366.5 42 367.7 42.4 368.9 42.9 370.1 43.5 371.3 44.2 372.5 44.9 373.7 45.6 374.9 46.3 376.1 47.1 377.3 47.7 378.5 48.2 379.7 48.6 380.9 48.8 382.1 48.6 383.3 48.2 384.5 47.4 385.7 46.5 386.9 45.4 388.1 44.3 389.3 43.3 390.5 42.1 391.7 40.6 392.9 38.6 394.1 36.2 395.3 33.6 396.5 31 397.7 28.7 398.9 26.8 400.1 25.4 401.3 24.5 402.5 24.2 403.7 24.6 404.9 25.5 406.2 26.8 407.4 28.4 408.6 30.2 409.8 32 411 33.7 412.2 35.3 413.4 36.9 414.6 38.3 415.8 39.5 417 40.6 418.2 41.6 419.4 42.5 420.6 43.4 421.8 44.3 423 45.3 424.2 46.1 425.4 46.5 426.6 46.2 427.8 45.2 429 44.1 430.2 43.8 431.4 43.5 432.6 40 433.8 32.3 435 22.5 436.2 14.2 437.4 13.5 438.6 21.1 439.8 30.1 441 36.5 442.2 40.2 443.4 41.4 444.6 41.2" stroke="#ff7f0e" stroke-width="0.70" fill="none" stroke-linejoin="round"/>
<path d="M271.5 30.5 272 32.5 272.5 34.2 272.9 35.7 273.4 36.9 273.9 37.9 274.4 38.8 274.9 39.5 275.3 40.2 275.8 40.7 276.3 41.2 276.8 41.6 277.3 41.9 277.8 42.2 278.2 42.4 278.7 42.6 279.2 42.8 279.7 42.9 280.2 43.1 280.6 43.2 281.1 43.3 281.6 43.3 282.1 43.4 282.6 43.4 283 43.5 283.5 43.5 284 43.6 284.5 43.6 285 43.6 285.4 43.7 285.9 43.7 287.9 43.7 293.6 43.9 299.4 44 305.2 44.2 310.9 44.2 316.7 44.2 322.5 44.2 328.2 44.1 334 44 339.8 43.9 345.6 43.9 351.3 44 357.1 44.2 362.9 44.3 365.3 44.5 366.5 44.6 367.7 44.7 368.9 44.9 370.1 45.1 371.3 45.3 372.5 45.5 373.7 45.8 374.9 46 376.1 46.2 377.3 46.3 378.5 46.5 379.7 46.6 380.9 46.7 382.1 46.7 383.3 46.6 384.5 46.5 385.7 46.3 386.9 46.1 388.1 45.9 389.3 45.7 390.5 45.6 391.7 45.5 392.9 45.5 394.1 45.6 395.3 45.8 396.5 45.9 397.7 46 398.9 46.2 400.1 46.3 401.3 46.3 402.5 46.3 403.7 46.3 404.9 46.2 406.2 46.1 407.4 46 408.6 45.9 409.8 45.8 411 45.7 412.2 45.6 413.4 45.5 414.6 45.4 415.8 45.4 417 45.4 418.2 45.4 419.4 45.4 420.6 45.4 421.8 45.4 423 45.5 424.2 45.5 425.4 45.6 426.6 45.7 427.8 45.9 429 46.2 430.2 46.6 431.4 47 432.6 47.6 433.8 48.4 435 49.4 436.2 50.1 437.4 50.1 438.6 49.4 439.8 48.3 441 47.1 442.2 46.3 443.4 45.6 444.6 45" stroke="#2ca02c" stroke-width="0.70" fill="none" stroke-linejoin="round"/>
<path d="M271.5 82.8 272 76.4 272.5 70.9 272.9 66.3 273.4 62.3 273.9 59 274.4 56.1 274.9 53.6 275.3 51.6 275.8 49.8 276.3 48.3 276.8 47 277.3 45.9 277.8 45 278.2 44.2 278.7 43.5 279.2 42.9 279.7 42.4 280.2 42 280.6 41.6 281.1 41.3 281.6 41.1 282.1 40.9 282.6 40.7 283 40.5 283.5 40.4 284 40.3 284.5 40.2 285 40.1 285.4 40.1 285.9 40 287.9 39.9 293.6 39.9 299.4 40.1 305.2 40.3 310.9 40.5 316.7 40.5 322.5 40.5 328.2 40.4 334 40.2 339.8 40 345.6 39.9 351.3 39.9 357.1 39.9 362.9 40 365.3 40.3 366.5 40.4 367.7 40.6 368.9 40.9 370.1 41.2 371.3 41.5 372.5 41.8 373.7 42.1 374.9 42.5 376.1 42.8 377.3 43.1 378.5 43.3 379.7 43.5 380.9 43.6 382.1 43.6 383.3 43.5 384.5 43.2 385.7 42.8 386.9 42.4 388.1 41.9 389.3 41.5 390.5 41.1 391.7 40.6 392.9 40.1 394.1 39.4 395.3 38.7 396.5 38 397.7 37.4 398.9 36.9 400.1 36.6 401.3 36.3 402.5 36.2 403.7 36.3 404.9 36.5 406.2 36.8 407.4 37.2 408.6 37.6 409.8 38 411 38.4 412.2 38.8 413.4 39.2 414.6 39.5 415.8 39.9 417 40.1 418.2 40.4 419.4 40.6 420.6 40.9 421.8 41.1 423 41.4 424.2 41.7 425.4 41.8 426.6 41.8 427.8 41.6 429 41.4 430.2 41.6 431.4 41.8 432.6 41.1 433.8 39.5 435 37.3 436.2 35.5 437.4 35.4 438.6 37.1 439.8 39.1 441 40.3 442.2 40.8 443.4 40.8 444.6 40.3" stroke="#d62728" stroke-width="0.70" fill="none" stroke-linejoin="round"/>
<path d="M271.5 21.5 272 24.3 272.5 26.6 272.9 28.6 273.4 30.3 273.9 31.8 274.4 33 274.9 34.1 275.3 35 275.8 35.7 276.3 36.4 276.8 36.9 277.3 37.4 277.8 37.8 278.2 38.2 278.7 38.4 279.2 38.7 279.7 38.9 280.2 39.1 280.6 39.3 281.1 39.4 281.6 39.5 282.1 39.6 282.6 39.7 283 39.8 283.5 39.8 284 39.9 284.5 39.9 285 39.9 285.4 40 285.9 40 287.9 40.1 293.6 40.2 299.4 40.3 305.2 40.6 310.9 40.9 316.7 41.2 322.5 41.1 328.2 40.8 334 40.4 339.8 40.1 345.6 40 351.3 40.2 357.1 40.4 362.9 40.7 365.3 41.1 366.5 41.5 367.7 41.9 368.9 42.5 370.1 43.1 371.3 43.8 372.5 44.5 373.7 45.3 374.9 46.1 376.1 46.9 377.3 47.6 378.5 48.2 379.7 48.6 380.9 48.8 382.1 48.6 383.3 48.2 384.5 47.4 385.7 46.3 386.9 45.2 388.1 44.1 389.3 43 390.5 41.7 391.7 40.1 392.9 37.9 394.1 35.2 395.3 32.2 396.5 29.4 397.7 26.8 398.9 24.7 400.1 23.1 401.3 22.1 402.5 21.7 403.7 22.1 404.9 23.1 406.2 24.5 407.4 26.3 408.6 28.2 409.8 30.2 411 32.1 412.2 33.9 413.4 35.5 414.6 37.1 415.8 38.5 417 39.7 418.2 40.7 419.4 41.8 420.6 42.8 421.8 43.9 423 45 424.2 45.9 425.4 46.4 426.6 46.1 427.8 45 429 43.9 430.2 43.6 431.4 43.2 432.6 39.3 433.8 30.7 435 19.6 436.2 10.4 437.4 9.7 438.6 18.1 439.8 28.3 441 35.6 442.2 39.8 443.4 41.1 444.6 41" stroke="#9467bd" stroke-width="0.70" fill="none" stroke-linejoin="round"/>
<path d="M271.5 26.9 272 28.9 272.5 30.7 272.9 32.2 273.4 33.4 273.9 34.5 274.4 35.4 274.9 36.2 275.3 36.8 275.8 37.4 276.3 37.8 276.8 38.2 277.3 38.5 277.8 38.8 278.2 39.1 278.7 39.3 279.2 39.4 279.7 39.6 280.2 39.7 280.6 39.8 281.1 39.9 281.6 40 282.1 40.1 282.6 40.1 283 40.2 283.5 40.2 284 40.2 284.5 40.3 285 40.3 285.4 40.3 285.9 40.3 287.9 40.4 293.6 40.5 299.4 40.7 305.2 40.9 310.9 41.1 316.7 41.3 322.5 41.5 328.2 41.7 334 41.8 339.8 41.9 345.6 41.9 351.3 41.9 357.1 41.8 362.9 41.7 365.3 41.7 366.5 41.8 367.7 42 368.9 42.2 370.1 42.4 371.3 42.6 372.5 42.8 373.7 43.1 374.9 43.3 376.1 43.6 377.3 43.8 378.5 44 379.7 44.1 380.9 44.1 382.1 44.1 383.3 43.9 384.5 43.6 385.7 43.2 386.9 42.8 388.1 42.3 389.3 41.9 390.5 41.5 391.7 41 392.9 40.5 394.1 40 395.3 39.4 396.5 38.8 397.7 38.3 398.9 37.9 400.1 37.6 401.3 37.4 402.5 37.4 403.7 37.5 404.9 37.7 406.2 38 407.4 38.3 408.6 38.7 409.8 39.1 411 39.5 412.2 39.9 413.4 40.2 414.6 40.6 415.8 40.9 417 41.2 418.2 41.5 419.4 41.7 420.6 42 421.8 42.3 423 42.6 424.2 42.8 425.4 43 426.6 43 427.8 42.9 429 42.9 430.2 43.1 431.4 43.3 432.6 42.9 433.8 41.5 435 39.8 436.2 38.2 437.4 38.1 438.6 39.6 439.8 41.2 441 42.1 442.2 42.5 443.4 42.3 444.6 41.9" stroke="#8c564b" stroke-width="0.70" fill="none" stroke-linejoin="round"/>
<path d="M271.5 28.1 272 30.1 272.5 31.8 272.9 33.2 273.4 34.5 273.9 35.5 274.4 36.4 274.9 37.2 275.3 37.8 275.8 38.4 276.3 38.9 276.8 39.3 277.3 39.6 277.8 39.9 278.2 40.2 278.7 40.4 279.2 40.6 279.7 40.7 280.2 40.8 280.6 41 281.1 41.1 281.6 41.1 282.1 41.2 282.6 41.3 283 41.3 283.5 41.4 284 41.4 284.5 41.5 285 41.5 285.4 41.5 285.9 41.5 287.9 41.6 293.6 41.7 299.4 41.7 305.2 41.7 310.9 41.6 316.7 41.5 322.5 41.5 328.2 41.6 334 41.7 339.8 41.8 345.6 41.9 351.3 41.9 357.1 41.9 362.9 41.8 365.3 41.9 366.5 42.1 367.7 42.3 368.9 42.5 370.1 42.8 371.3 43.1 372.5 43.4 373.7 43.7 374.9 44.1 376.1 44.4 377.3 44.7 378.5 45 379.7 45.1 380.9 45.2 382.1 45.2 383.3 45.1 384.5 44.8 385.7 44.4 386.9 43.9 388.1 43.5 389.3 43.1 390.5 42.6 391.7 42.2 392.9 41.6 394.1 40.9 395.3 40.2 396.5 39.5 397.7 38.9 398.9 38.4 400.1 38 401.3 37.8 402.5 37.7 403.7 37.8 404.9 38.1 406.2 38.5 407.4 38.9 408.6 39.4 409.8 39.9 411 40.4 412.2 40.8 413.4 41.3 414.6 41.7 415.8 42 417 42.3 418.2 42.6 419.4 42.9 420.6 43.2 421.8 43.5 423 43.8 424.2 44 425.4 44.2 426.6 44.1 427.8 43.9 429 43.7 430.2 43.8 431.4 44 432.6 43.2 433.8 41.3 435 38.8 436.2 36.7 437.4 36.5 438.6 38.4 439.8 40.5 441 41.8 442.2 42.4 443.4 42.4 444.6 41.9" stroke="#e377c2" stroke-width="0.70" fill="none" stroke-linejoin="round"/>
<path d="M271.5 52.8 272 51.4 272.5 50.2 272.9 49.2 273.4 48.3 273.9 47.5 274.4 46.9 274.9 46.4 275.3 45.9 275.8 45.5 276.3 45.2 276.8 44.9 277.3 44.7 277.8 44.5 278.2 44.3 278.7 44.1 279.2 44 279.7 43.9 280.2 43.8 280.6 43.8 281.1 43.7 281.6 43.6 282.1 43.6 282.6 43.6 283 43.5 283.5 43.5 284 43.5 284.5 43.5 285 43.5 285.4 43.4 285.9 43.4 287.9 43.4 293.6 43.5 299.4 43.6 305.2 43.7 310.9 43.7 316.7 43.7 322.5 43.7 328.2 43.6 334 43.5 339.8 43.5 345.6 43.4 351.3 43.4 357.1 43.5 362.9 43.5 365.3 43.4 366.5 43.3 367.7 43.3 368.9 43.2 370.1 43.1 371.3 43 372.5 42.8 373.7 42.6 374.9 42.5 376.1 42.3 377.3 42.1 378.5 41.9 379.7 41.9 380.9 41.9 382.1 42 383.3 42.3 384.5 42.6 385.7 43 386.9 43.4 388.1 43.7 389.3 44.1 390.5 44.7 391.7 45.6 392.9 47 394.1 48.7 395.3 50.6 396.5 52.6 397.7 54.3 398.9 55.7 400.1 56.8 401.3 57.5 402.5 57.7 403.7 57.4 404.9 56.8 406.2 55.8 407.4 54.6 408.6 53.2 409.8 51.9 411 50.6 412.2 49.3 413.4 48.2 414.6 47.2 415.8 46.3 417 45.5 418.2 44.9 419.4 44.3 420.6 43.7 421.8 43.1 423 42.4 424.2 42 425.4 41.8 426.6 42.1 427.8 43 429 44.1 430.2 44.9 431.4 45.8 432.6 48.9 433.8 55.2 435 63.2 436.2 69.7 437.4 70.2 438.6 64.2 439.8 56.6 441 50.7 442.2 47 443.4 45.1 444.6 44.2" stroke="#7f7f7f" stroke-width="0.70" fill="none" stroke-linejoin="round"/>
<path d="M271.5 35.7 272 36.3 272.5 36.7 272.9 37.1 273.4 37.5 273.9 37.8 274.4 38.1 274.9 38.3 275.3 38.5 275.8 38.6 276.3 38.8 276.8 38.9 277.3 39 277.8 39.1 278.2 39.2 278.7 39.2 279.2 39.3 279.7 39.3 280.2 39.4 280.6 39.4 281.1 39.4 281.6 39.5 282.1 39.5 282.6 39.5 283 39.5 283.5 39.6 284 39.6 284.5 39.6 285 39.6 285.4 39.6 285.9 39.6 287.9 39.6 293.6 39.7 299.4 39.6 305.2 39.6 310.9 39.5 316.7 39.4 322.5 39.3 328.2 39.3 334 39.3 339.8 39.4 345.6 39.5 351.3 39.7 357.1 39.8 362.9 40 365.3 40.1 366.5 40.1 367.7 40.2 368.9 40.3 370.1 40.4 371.3 40.4 372.5 40.5 373.7 40.5 374.9 40.6 376.1 40.6 377.3 40.6 378.5 40.6 379.7 40.6 380.9 40.6 382.1 40.6 383.3 40.6 384.5 40.5 385.7 40.4 386.9 40.3 388.1 40.1 389.3 40 390.5 39.9 391.7 39.9 392.9 40.1 394.1 40.4 395.3 40.7 396.5 41 397.7 41.3 398.9 41.6 400.1 41.8 401.3 41.9 402.5 41.9 403.7 41.9 404.9 41.7 406.2 41.5 407.4 41.3 408.6 41 409.8 40.7 411 40.4 412.2 40.2 413.4 40 414.6 39.8 415.8 39.7 417 39.6 418.2 39.5 419.4 39.4 420.6 39.4 421.8 39.3 423 39.3 424.2 39.3 425.4 39.3 426.6 39.5 427.8 39.7 429 40.1 430.2 40.6 431.4 41.1 432.6 42 433.8 43.6 435 45.6 436.2 47.2 437.4 47.4 438.6 46.1 439.8 44.2 441 42.6 442.2 41.5 443.4 40.7 444.6 40.1" stroke="#bcbd22" stroke-width="0.70" fill="none" stroke-linejoin="round"/>
<path d="M271.5 29.4 272 31 272.5 32.3 272.9 33.4 273.4 34.4 273.9 35.2 274.4 35.9 274.9 36.5 275.3 37 275.8 37.4 276.3 37.8 276.8 38.1 277.3 38.4 277.8 38.6 278.2 38.8 278.7 39 279.2 39.1 279.7 39.3 280.2 39.4 280.6 39.5 281.1 39.5 281.6 39.6 282.1 39.7 282.6 39.7 283 39.7 283.5 39.8 284 39.8 284.5 39.8 285 39.9 285.4 39.9 285.9 39.9 287.9 40 293.6 40 299.4 39.9 305.2 39.8 310.9 39.6 316.7 39.5 322.5 39.4 328.2 39.4 334 39.4 339.8 39.5 345.6 39.6 351.3 39.7 357.1 39.8 362.9 39.9 365.3 40.2 366.5 40.4 367.7 40.7 368.9 41 370.1 41.4 371.3 41.8 372.5 42.3 373.7 42.7 374.9 43.2 376.1 43.7 377.3 44.1 378.5 44.5 379.7 44.8 380.9 44.9 382.1 44.9 383.3 44.6 384.5 44.2 385.7 43.6 386.9 42.9 388.1 42.2 389.3 41.6 390.5 40.9 391.7 40 392.9 38.9 394.1 37.5 395.3 36 396.5 34.6 397.7 33.3 398.9 32.3 400.1 31.5 401.3 31 402.5 30.9 403.7 31.1 404.9 31.6 406.2 32.3 407.4 33.2 408.6 34.2 409.8 35.2 411 36.1 412.2 37 413.4 37.9 414.6 38.6 415.8 39.3 417 39.9 418.2 40.5 419.4 41 420.6 41.4 421.8 42 423 42.5 424.2 43 425.4 43.2 426.6 43 427.8 42.4 429 41.8 430.2 41.8 431.4 41.7 432.6 39.8 433.8 35.6 435 30.2 436.2 25.7 437.4 25.3 438.6 29.4 439.8 34.3 441 37.7 442.2 39.5 443.4 39.9 444.6 39.6" stroke="#17becf" stroke-width="0.70" fill="none" stroke-linejoin="round"/>
<path d="M271.5 72.2 272 67.9 272.5 64.2 272.9 61 273.4 58.4 273.9 56.1 274.4 54.1 274.9 52.5 275.3 51.1 275.8 49.9 276.3 48.9 276.8 48 277.3 47.2 277.8 46.6 278.2 46 278.7 45.6 279.2 45.2 279.7 44.8 280.2 44.5 280.6 44.3 281.1 44 281.6 43.8 282.1 43.7 282.6 43.5 283 43.4 283.5 43.2 284 43.1 284.5 43 285 43 285.4 42.9 285.9 42.8 287.9 42.6 293.6 42.1 299.4 41.9 305.2 42 310.9 42.2 316.7 42.6 322.5 43 328.2 43.2 334 43.3 339.8 43.2 345.6 42.9 351.3 42.6 357.1 42.5 362.9 42.4 365.3 42.4 366.5 42.4 367.7 42.5 368.9 42.5 370.1 42.5 371.3 42.5 372.5 42.5 373.7 42.5 374.9 42.5 376.1 42.5 377.3 42.4 378.5 42.4 379.7 42.5 380.9 42.5 382.1 42.7 383.3 42.8 384.5 43 385.7 43.2 386.9 43.4 388.1 43.6 389.3 43.8 390.5 44.1 391.7 44.6 392.9 45.5 394.1 46.6 395.3 47.8 396.5 49 397.7 50.1 398.9 51 400.1 51.7 401.3 52.1 402.5 52.2 403.7 51.9 404.9 51.4 406.2 50.7 407.4 49.9 408.6 49 409.8 48.1 411 47.2 412.2 46.3 413.4 45.6 414.6 44.9 415.8 44.3 417 43.8 418.2 43.4 419.4 43 420.6 42.6 421.8 42.3 423 41.9 424.2 41.6 425.4 41.6 426.6 41.8 427.8 42.4 429 43.3 430.2 44 431.4 44.8 432.6 46.9 433.8 51.2 435 56.6 436.2 60.9 437.4 61.4 438.6 57.4 439.8 52.4 441 48.4 442.2 45.8 443.4 44.4 444.6 43.6" stroke="#1f77b4" stroke-width="0.70" fill="none" stroke-linejoin="round"/>
<path d="M271.5 33.1 272 34.6 272.5 35.9 272.9 36.9 273.4 37.9 273.9 38.6 274.4 39.3 274.9 39.9 275.3 40.3 275.8 40.8 276.3 41.1 276.8 41.4 277.3 41.7 277.8 41.9 278.2 42.1 278.7 42.2 279.2 42.3 279.7 42.5 280.2 42.5 280.6 42.6 281.1 42.7 281.6 42.7 282.1 42.8 282.6 42.8 283 42.9 283.5 42.9 284 42.9 284.5 42.9 285 42.9 285.4 43 285.9 43 287.9 43 293.6 43 299.4 43.1 305.2 43.2 310.9 43.4 316.7 43.4 322.5 43.2 328.2 42.9 334 42.8 339.8 42.8 345.6 43 351.3 43.3 357.1 43.6 362.9 43.7 365.3 43.6 366.5 43.6 367.7 43.5 368.9 43.4 370.1 43.2 371.3 43 372.5 42.8 373.7 42.6 374.9 42.4 376.1 42.2 377.3 41.9 378.5 41.8 379.7 41.7 380.9 41.6 382.1 41.7 383.3 42 384.5 42.3 385.7 42.6 386.9 43 388.1 43.3 389.3 43.7 390.5 44.2 391.7 45.1 392.9 46.4 394.1 48.1 395.3 50 396.5 51.8 397.7 53.5 398.9 54.9 400.1 56 401.3 56.6 402.5 56.8 403.7 56.5 404.9 55.7 406.2 54.7 407.4 53.5 408.6 52.2 409.8 50.8 411 49.5 412.2 48.3 413.4 47.1 414.6 46.1 415.8 45.3 417 44.6 418.2 44 419.4 43.4 420.6 42.9 421.8 42.3 423 41.8 424.2 41.4 425.4 41.3 426.6 41.7 427.8 42.6 429 43.8 430.2 44.7 431.4 45.7 432.6 48.8 433.8 55.1 435 63.1 436.2 69.6 437.4 70.1 438.6 64.2 439.8 56.7 441 50.8 442.2 47.1 443.4 45.2 444.6 44.3" stroke="#ff7f0e" stroke-width="0.70" fill="none" stroke-linejoin="round"/>
<path d="M271.5 28.5 272 30 272.5 31.2 272.9 32.3 273.4 33.2 273.9 34 274.4 34.7 274.9 35.2 275.3 35.7 275.8 36.1 276.3 36.5 276.8 36.8 277.3 37 277.8 37.3 278.2 37.5 278.7 37.6 279.2 37.8 279.7 37.9 280.2 38 280.6 38.1 281.1 38.1 281.6 38.2 282.1 38.3 282.6 38.3 283 38.4 283.5 38.4 284 38.4 284.5 38.5 285 38.5 285.4 38.5 285.9 38.5 287.9 38.6 293.6 38.6 299.4 38.4 305.2 38.1 310.9 37.7 316.7 37.3 322.5 37.1 328.2 37.2 334 37.5 339.8 38 345.6 38.5 351.3 39 357.1 39.2 362.9 39.1 365.3 39.2 366.5 39.2 367.7 39.2 368.9 39.3 370.1 39.3 371.3 39.3 372.5 39.3 373.7 39.4 374.9 39.4 376.1 39.4 377.3 39.4 378.5 39.4 379.7 39.4 380.9 39.4 382.1 39.4 383.3 39.3 384.5 39.2 385.7 39 386.9 38.8 388.1 38.5 389.3 38.3 390.5 38.2 391.7 38.1 392.9 38.1 394.1 38.1 395.3 38.2 396.5 38.3 397.7 38.4 398.9 38.5 400.1 38.5 401.3 38.5 402.5 38.5 403.7 38.4 404.9 38.3 406.2 38.2 407.4 38 408.6 37.9 409.8 37.7 411 37.6 412.2 37.5 413.4 37.4 414.6 37.3 415.8 37.2 417 37.2 418.2 37.2 419.4 37.2 420.6 37.3 421.8 37.3 423 37.4 424.2 37.5 425.4 37.6 426.6 37.8 427.8 38 429 38.4 430.2 38.8 431.4 39.3 432.6 40 433.8 41 435 42.2 436.2 43.2 437.4 43.4 438.6 42.8 439.8 41.9 441 41 442.2 40.3 443.4 39.7 444.6 39.1" stroke="#2ca02c" stroke-width="0.70" fill="none" stroke-linejoin="round"/>
<path d="M271.5 37.6 272 38.5 272.5 39.3 272.9 40 273.4 40.6 273.9 41.1 274.4 41.5 274.9 41.9 275.3 42.2 275.8 42.5 276.3 42.8 276.8 43 277.3 43.2 277.8 43.3 278.2 43.5 278.7 43.6 279.2 43.7 279.7 43.8 280.2 43.9 280.6 44 281.1 44 281.6 44.1 282.1 44.1 282.6 44.2 283 44.2 283.5 44.2 284 44.2 284.5 44.2 285 44.2 285.4 44.2 285.9 44.2 287.9 44.1 293.6 43.6 299.4 43 305.2 42.7 310.9 42.9 316.7 43.4 322.5 44.1 328.2 44.4 334 44.4 339.8 44.1 345.6 43.9 351.3 43.8 357.1 43.9 362.9 44 365.3 44.3 366.5 44.5 367.7 44.8 368.9 45.2 370.1 45.7 371.3 46.2 372.5 46.8 373.7 47.3 374.9 47.9 376.1 48.5 377.3 49 378.5 49.4 379.7 49.7 380.9 49.8 382.1 49.7 383.3 49.3 384.5 48.7 385.7 48 386.9 47.1 388.1 46.3 389.3 45.6 390.5 44.7 391.7 43.7 392.9 42.3 394.1 40.6 395.3 38.8 396.5 37 397.7 35.4 398.9 34.1 400.1 33.2 401.3 32.7 402.5 32.6 403.7 33 404.9 33.8 406.2 34.9 407.4 36.2 408.6 37.5 409.8 38.9 411 40.2 412.2 41.4 413.4 42.5 414.6 43.5 415.8 44.4 417 45.1 418.2 45.8 419.4 46.3 420.6 46.9 421.8 47.5 423 48.1 424.2 48.6 425.4 48.8 426.6 48.5 427.8 47.6 429 46.8 430.2 46.6 431.4 46.3 432.6 43.7 433.8 37.9 435 30.3 436.2 24 437.4 23.5 438.6 29.1 439.8 35.9 441 40.7 442.2 43.4 443.4 44.2 444.6 43.9" stroke="#d62728" stroke-width="0.70" fill="none" stroke-linejoin="round"/>
<path d="M271.5 32.4 272 33.8 272.5 35 272.9 36.1 273.4 37 273.9 37.7 274.4 38.4 274.9 38.9 275.3 39.4 275.8 39.7 276.3 40.1 276.8 40.3 277.3 40.6 277.8 40.7 278.2 40.9 278.7 41 279.2 41.1 279.7 41.2 280.2 41.3 280.6 41.4 281.1 41.4 281.6 41.5 282.1 41.5 282.6 41.5 283 41.5 283.5 41.6 284 41.6 284.5 41.6 285 41.6 285.4 41.6 285.9 41.6 287.9 41.6 293.6 41.8 299.4 42 305.2 42.3 310.9 42.5 316.7 42.5 322.5 42.3 328.2 42.1 334 42 339.8 42 345.6 42.1 351.3 42.3 357.1 42.5 362.9 42.6 365.3 42.8 366.5 42.9 367.7 43.2 368.9 43.4 370.1 43.7 371.3 44 372.5 44.4 373.7 44.8 374.9 45.1 376.1 45.5 377.3 45.8 378.5 46 379.7 46.2 380.9 46.2 382.1 46.2 383.3 45.9 384.5 45.6 385.7 45.1 386.9 44.5 388.1 44 389.3 43.5 390.5 42.9 391.7 42.3 392.9 41.6 394.1 40.7 395.3 39.8 396.5 38.9 397.7 38.1 398.9 37.5 400.1 37.1 401.3 36.8 402.5 36.8 403.7 37 404.9 37.4 406.2 37.9 407.4 38.6 408.6 39.3 409.8 40 411 40.6 412.2 41.3 413.4 41.9 414.6 42.4 415.8 42.9 417 43.3 418.2 43.6 419.4 44 420.6 44.3 421.8 44.6 423 45 424.2 45.2 425.4 45.4 426.6 45.2 427.8 44.8 429 44.5 430.2 44.5 431.4 44.5 432.6 43.3 433.8 40.6 435 37.1 436.2 34.1 437.4 33.9 438.6 36.4 439.8 39.4 441 41.4 442.2 42.4 443.4 42.4 444.6 42" stroke="#9467bd" stroke-width="0.70" fill="none" stroke-linejoin="round"/>
<path d="M271.5 66.7 272 62.6 272.5 59.2 272.9 56.3 273.4 53.8 273.9 51.7 274.4 49.9 274.9 48.4 275.3 47.1 275.8 46 276.3 45 276.8 44.2 277.3 43.5 277.8 42.9 278.2 42.4 278.7 41.9 279.2 41.6 279.7 41.2 280.2 41 280.6 40.7 281.1 40.5 281.6 40.3 282.1 40.2 282.6 40 283 39.9 283.5 39.8 284 39.7 284.5 39.6 285 39.5 285.4 39.5 285.9 39.4 287.9 39.3 293.6 39.2 299.4 39.4 305.2 39.7 310.9 39.8 316.7 39.7 322.5 39.5 328.2 39.3 334 39.5 339.8 39.8 345.6 40.1 351.3 40.1 357.1 39.9 362.9 39.6 365.3 39.7 366.5 39.8 367.7 40.1 368.9 40.4 370.1 40.8 371.3 41.2 372.5 41.7 373.7 42.2 374.9 42.8 376.1 43.3 377.3 43.8 378.5 44.2 379.7 44.6 380.9 44.8 382.1 44.8 383.3 44.5 384.5 44 385.7 43.4 386.9 42.7 388.1 42 389.3 41.3 390.5 40.5 391.7 39.5 392.9 38.2 394.1 36.5 395.3 34.8 396.5 33.1 397.7 31.5 398.9 30.2 400.1 29.3 401.3 28.6 402.5 28.4 403.7 28.6 404.9 29.2 406.2 30 407.4 31.1 408.6 32.2 409.8 33.4 411 34.5 412.2 35.6 413.4 36.7 414.6 37.6 415.8 38.5 417 39.3 418.2 40 419.4 40.6 420.6 41.3 421.8 42 423 42.7 424.2 43.4 425.4 43.7 426.6 43.5 427.8 42.9 429 42.3 430.2 42.2 431.4 42.1 432.6 39.8 433.8 34.9 435 28.4 436.2 23 437.4 22.5 438.6 27.4 439.8 33.1 441 37.1 442.2 39.3 443.4 39.8 444.6 39.4" stroke="#8c564b" stroke-width="0.70" fill="none" stroke-linejoin="round"/>
<path d="M271.5 66.6 272 63.2 272.5 60.3 272.9 57.8 273.4 55.7 273.9 53.9 274.4 52.4 274.9 51.1 275.3 50 275.8 49.1 276.3 48.3 276.8 47.6 277.3 47 277.8 46.5 278.2 46.1 278.7 45.8 279.2 45.5 279.7 45.2 280.2 45 280.6 44.8 281.1 44.6 281.6 44.5 282.1 44.4 282.6 44.3 283 44.2 283.5 44.1 284 44.1 284.5 44 285 44 285.4 43.9 285.9 43.9 287.9 43.8 293.6 43.7 299.4 43.6 305.2 43.5 310.9 43.4 316.7 43.4 322.5 43.5 328.2 43.6 334 43.8 339.8 43.9 345.6 44 351.3 44.1 357.1 44.1 362.9 44.1 365.3 44.1 366.5 44.2 367.7 44.3 368.9 44.4 370.1 44.5 371.3 44.7 372.5 44.9 373.7 45.1 374.9 45.2 376.1 45.4 377.3 45.5 378.5 45.6 379.7 45.7 380.9 45.8 382.1 45.8 383.3 45.8 384.5 45.7 385.7 45.6 386.9 45.4 388.1 45.2 389.3 45.1 390.5 45 391.7 45 392.9 45.2 394.1 45.4 395.3 45.6 396.5 45.9 397.7 46.1 398.9 46.3 400.1 46.5 401.3 46.6 402.5 46.6 403.7 46.6 404.9 46.4 406.2 46.3 407.4 46.1 408.6 45.9 409.8 45.7 411 45.5 412.2 45.4 413.4 45.2 414.6 45.1 415.8 45 417 45 418.2 44.9 419.4 44.9 420.6 44.9 421.8 44.8 423 44.8 424.2 44.9 425.4 44.9 426.6 45 427.8 45.2 429 45.6 430.2 46 431.4 46.5 432.6 47.2 433.8 48.4 435 49.7 436.2 50.8 437.4 50.9 438.6 49.9 439.8 48.4 441 47 442.2 46 443.4 45.3 444.6 44.7" stroke="#e377c2" stroke-width="0.70" fill="none" stroke-linejoin="round"/>
<path d="M271.5 18.7 272 22.1 272.5 25 272.9 27.5 273.4 29.6 273.9 31.3 274.4 32.9 274.9 34.2 275.3 35.3 275.8 36.2 276.3 37 276.8 37.7 277.3 38.3 277.8 38.8 278.2 39.2 278.7 39.5 279.2 39.8 279.7 40.1 280.2 40.3 280.6 40.5 281.1 40.6 281.6 40.8 282.1 40.9 282.6 40.9 283 41 283.5 41.1 284 41.1 284.5 41.2 285 41.2 285.4 41.2 285.9 41.2 287.9 41.2 293.6 41 299.4 40.8 305.2 40.9 310.9 41.1 316.7 41.4 322.5 41.8 328.2 41.9 334 41.9 339.8 41.8 345.6 41.5 351.3 41.3 357.1 41.2 362.9 41.2 365.3 41.6 366.5 41.9 367.7 42.3 368.9 42.8 370.1 43.4 371.3 44.1 372.5 44.8 373.7 45.5 374.9 46.2 376.1 47 377.3 47.6 378.5 48.2 379.7 48.5 380.9 48.7 382.1 48.6 383.3 48.2 384.5 47.5 385.7 46.6 386.9 45.6 388.1 44.6 389.3 43.6 390.5 42.5 391.7 41.1 392.9 39.2 394.1 36.9 395.3 34.5 396.5 32.1 397.7 29.9 398.9 28.2 400.1 26.9 401.3 26.1 402.5 25.9 403.7 26.2 404.9 27.2 406.2 28.5 407.4 30 408.6 31.7 409.8 33.5 411 35.2 412.2 36.7 413.4 38.2 414.6 39.6 415.8 40.8 417 41.8 418.2 42.7 419.4 43.5 420.6 44.4 421.8 45.2 423 46.1 424.2 46.8 425.4 47.1 426.6 46.8 427.8 45.7 429 44.7 430.2 44.3 431.4 43.9 432.6 40.5 433.8 33.2 435 23.6 436.2 15.7 437.4 15 438.6 22.1 439.8 30.6 441 36.6 442.2 40.1 443.4 41.2 444.6 41" stroke="#7f7f7f" stroke-width="0.70" fill="none" stroke-linejoin="round"/>
<path d="M271.5 22.5 272 25.4 272.5 28 272.9 30.1 273.4 32 273.9 33.5 274.4 34.8 274.9 36 275.3 36.9 275.8 37.7 276.3 38.4 276.8 39 277.3 39.5 277.8 39.9 278.2 40.3 278.7 40.6 279.2 40.9 279.7 41.1 280.2 41.3 280.6 41.4 281.1 41.6 281.6 41.7 282.1 41.8 282.6 41.9 283 42 283.5 42.1 284 42.1 284.5 42.2 285 42.2 285.4 42.3 285.9 42.3 287.9 42.5 293.6 42.7 299.4 42.9 305.2 43 310.9 42.9 316.7 42.7 322.5 42.5 328.2 42.4 334 42.5 339.8 42.6 345.6 42.9 351.3 43.1 357.1 43.2 362.9 43.2 365.3 43.2 366.5 43.3 367.7 43.4 368.9 43.6 370.1 43.8 371.3 44 372.5 44.2 373.7 44.4 374.9 44.6 376.1 44.8 377.3 45 378.5 45.1 379.7 45.2 380.9 45.3 382.1 45.3 383.3 45.2 384.5 45 385.7 44.7 386.9 44.4 388.1 44.1 389.3 43.9 390.5 43.6 391.7 43.4 392.9 43.3 394.1 43.1 395.3 42.9 396.5 42.7 397.7 42.6 398.9 42.5 400.1 42.5 401.3 42.5 402.5 42.5 403.7 42.6 404.9 42.7 406.2 42.8 407.4 43 408.6 43.1 409.8 43.3 411 43.4 412.2 43.5 413.4 43.7 414.6 43.8 415.8 43.9 417 44 418.2 44.1 419.4 44.2 420.6 44.2 421.8 44.3 423 44.4 424.2 44.5 425.4 44.6 426.6 44.5 427.8 44.5 429 44.6 430.2 44.8 431.4 45.1 432.6 45 433.8 44.7 435 44.2 436.2 43.7 437.4 43.7 438.6 44 439.8 44.3 441 44.2 442.2 44 443.4 43.5 444.6 43" stroke="#bcbd22" stroke-width="0.70" fill="none" stroke-linejoin="round"/>
<path d="M271.5 60.3 272 57.7 272.5 55.4 272.9 53.5 273.4 51.9 273.9 50.5 274.4 49.3 274.9 48.3 275.3 47.4 275.8 46.7 276.3 46.1 276.8 45.5 277.3 45.1 277.8 44.7 278.2 44.3 278.7 44 279.2 43.8 279.7 43.6 280.2 43.4 280.6 43.2 281.1 43 281.6 42.9 282.1 42.8 282.6 42.7 283 42.6 283.5 42.5 284 42.5 284.5 42.4 285 42.3 285.4 42.3 285.9 42.2 287.9 42 293.6 41.7 299.4 41.6 305.2 41.7 310.9 41.9 316.7 42.2 322.5 42.5 328.2 42.6 334 42.7 339.8 42.6 345.6 42.4 351.3 42.2 357.1 42.1 362.9 42 365.3 42 366.5 41.9 367.7 41.8 368.9 41.7 370.1 41.5 371.3 41.4 372.5 41.2 373.7 41 374.9 40.7 376.1 40.5 377.3 40.3 378.5 40.1 379.7 40 380.9 40.1 382.1 40.2 383.3 40.5 384.5 40.9 385.7 41.4 386.9 41.9 388.1 42.4 389.3 42.8 390.5 43.5 391.7 44.5 392.9 46 394.1 47.9 395.3 50.1 396.5 52.2 397.7 54 398.9 55.6 400.1 56.8 401.3 57.5 402.5 57.7 403.7 57.3 404.9 56.5 406.2 55.3 407.4 53.9 408.6 52.4 409.8 50.8 411 49.3 412.2 47.8 413.4 46.5 414.6 45.3 415.8 44.3 417 43.4 418.2 42.6 419.4 41.9 420.6 41.2 421.8 40.5 423 39.8 424.2 39.3 425.4 39.1 426.6 39.4 427.8 40.5 429 41.8 430.2 42.7 431.4 43.7 432.6 47.2 433.8 54.3 435 63.3 436.2 70.7 437.4 71.4 438.6 64.8 439.8 56.4 441 50 442.2 46 443.4 44 444.6 43.1" stroke="#17becf" stroke-width="0.70" fill="none" stroke-linejoin="round"/>
<path d="M271.5 54.7 272 52.9 272.5 51.4 272.9 50.2 273.4 49.1 273.9 48.2 274.4 47.4 274.9 46.7 275.3 46.1 275.8 45.7 276.3 45.3 276.8 44.9 277.3 44.6 277.8 44.4 278.2 44.2 278.7 44 279.2 43.9 279.7 43.7 280.2 43.6 280.6 43.6 281.1 43.5 281.6 43.4 282.1 43.4 282.6 43.3 283 43.3 283.5 43.3 284 43.3 284.5 43.3 285 43.3 285.4 43.3 285.9 43.2 287.9 43.3 293.6 43.3 299.4 43.2 305.2 43.1 310.9 43.1 316.7 43.1 322.5 43.3 328.2 43.4 334 43.4 339.8 43.4 345.6 43.2 351.3 43.1 357.1 43.1 362.9 43.3 365.3 43.6 366.5 43.9 367.7 44.2 368.9 44.7 370.1 45.2 371.3 45.8 372.5 46.4 373.7 47.1 374.9 47.7 376.1 48.4 377.3 48.9 378.5 49.4 379.7 49.7 380.9 49.9 382.1 49.8 383.3 49.4 384.5 48.8 385.7 48 386.9 47.2 388.1 46.3 389.3 45.5 390.5 44.6 391.7 43.5 392.9 42 394.1 40.2 395.3 38.3 396.5 36.4 397.7 34.8 398.9 33.4 400.1 32.4 401.3 31.8 402.5 31.7 403.7 32 404.9 32.7 406.2 33.7 407.4 34.9 408.6 36.2 409.8 37.6 411 38.9 412.2 40.1 413.4 41.2 414.6 42.3 415.8 43.2 417 44 418.2 44.7 419.4 45.3 420.6 46 421.8 46.7 423 47.4 424.2 48 425.4 48.2 426.6 48 427.8 47.2 429 46.4 430.2 46.3 431.4 46.1 432.6 43.6 433.8 37.9 435 30.6 436.2 24.5 437.4 24 438.6 29.5 439.8 36 441 40.5 442.2 43.1 443.4 43.8 444.6 43.6" stroke="#1f77b4" stroke-width="0.70" fill="none" stroke-linejoin="round"/>
<path d="M271.5 25.6 272 27.8 272.5 29.7 272.9 31.2 273.4 32.6 273.9 33.7 274.4 34.7 274.9 35.5 275.3 36.2 275.8 36.7 276.3 37.2 276.8 37.6 277.3 38 277.8 38.2 278.2 38.5 278.7 38.7 279.2 38.8 279.7 39 280.2 39.1 280.6 39.2 281.1 39.2 281.6 39.3 282.1 39.3 282.6 39.4 283 39.4 283.5 39.5 284 39.5 284.5 39.5 285 39.5 285.4 39.6 285.9 39.6 287.9 39.7 293.6 40.2 299.4 40.7 305.2 41.1 310.9 41.1 316.7 40.8 322.5 40.4 328.2 40.1 334 40.2 339.8 40.6 345.6 41 351.3 41.1 357.1 40.9 362.9 40.5 365.3 40.7 366.5 40.9 367.7 41.2 368.9 41.6 370.1 42.1 371.3 42.7 372.5 43.4 373.7 44.1 374.9 44.8 376.1 45.5 377.3 46.2 378.5 46.8 379.7 47.3 380.9 47.5 382.1 47.5 383.3 47.2 384.5 46.6 385.7 45.8 386.9 44.9 388.1 43.9 389.3 43 390.5 42 391.7 40.6 392.9 38.8 394.1 36.5 395.3 34 396.5 31.5 397.7 29.3 398.9 27.4 400.1 26 401.3 25.1 402.5 24.7 403.7 25 404.9 25.8 406.2 27 407.4 28.4 408.6 30 409.8 31.7 411 33.2 412.2 34.8 413.4 36.2 414.6 37.5 415.8 38.6 417 39.6 418.2 40.6 419.4 41.4 420.6 42.3 421.8 43.3 423 44.3 424.2 45.1 425.4 45.6 426.6 45.4 427.8 44.5 429 43.6 430.2 43.4 431.4 43.2 432.6 39.9 433.8 32.6 435 23.1 436.2 15.2 437.4 14.6 438.6 21.9 439.8 30.6 441 36.8 442.2 40.4 443.4 41.5 444.6 41.2" stroke="#ff7f0e" stroke-width="0.70" fill="none" stroke-linejoin="round"/>
<path d="M271.5 15.5 272 19.6 272.5 23 272.9 26 273.4 28.5 273.9 30.6 274.4 32.4 274.9 34 275.3 35.3 275.8 36.4 276.3 37.4 276.8 38.2 277.3 38.9 277.8 39.5 278.2 40 278.7 40.4 279.2 40.8 279.7 41.1 280.2 41.4 280.6 41.6 281.1 41.8 281.6 42 282.1 42.1 282.6 42.2 283 42.3 283.5 42.4 284 42.5 284.5 42.6 285 42.6 285.4 42.7 285.9 42.7 287.9 42.9 293.6 43 299.4 43.1 305.2 43.2 310.9 43.2 316.7 43.2 322.5 43.2 328.2 43.1 334 43.1 339.8 43 345.6 43 351.3 42.9 357.1 42.9 362.9 43 365.3 43.3 366.5 43.5 367.7 43.8 368.9 44.2 370.1 44.7 371.3 45.2 372.5 45.7 373.7 46.3 374.9 46.8 376.1 47.4 377.3 47.9 378.5 48.3 379.7 48.6 380.9 48.7 382.1 48.7 383.3 48.4 384.5 48 385.7 47.4 386.9 46.7 388.1 46 389.3 45.4 390.5 44.6 391.7 43.8 392.9 42.6 394.1 41.3 395.3 39.8 396.5 38.4 397.7 37.1 398.9 36.1 400.1 35.3 401.3 34.8 402.5 34.7 403.7 34.9 404.9 35.4 406.2 36.1 407.4 37 408.6 38 409.8 39 411 40 412.2 40.9 413.4 41.7 414.6 42.5 415.8 43.2 417 43.8 418.2 44.4 419.4 44.9 420.6 45.4 421.8 45.9 423 46.5 424.2 46.9 425.4 47.2 426.6 47 427.8 46.4 429 45.9 430.2 45.8 431.4 45.8 432.6 43.9 433.8 39.7 435 34.1 436.2 29.5 437.4 29.1 438.6 33.2 439.8 38 441 41.3 442.2 43.2 443.4 43.6 444.6 43.2" stroke="#2ca02c" stroke-width="0.70" fill="none" stroke-linejoin="round"/>
<path d="M271.5 81.1 272 75.1 272.5 70 272.9 65.6 273.4 61.9 273.9 58.7 274.4 56 274.9 53.7 275.3 51.7 275.8 50.1 276.3 48.6 276.8 47.4 277.3 46.4 277.8 45.5 278.2 44.7 278.7 44.1 279.2 43.5 279.7 43 280.2 42.6 280.6 42.3 281.1 42 281.6 41.7 282.1 41.5 282.6 41.3 283 41.1 283.5 41 284 40.9 284.5 40.8 285 40.7 285.4 40.6 285.9 40.5 287.9 40.3 293.6 40.2 299.4 40.3 305.2 40.5 310.9 40.8 316.7 40.9 322.5 40.9 328.2 40.7 334 40.6 339.8 40.5 345.6 40.5 351.3 40.6 357.1 40.7 362.9 40.7 365.3 40.7 366.5 40.6 367.7 40.5 368.9 40.3 370.1 40.2 371.3 39.9 372.5 39.7 373.7 39.4 374.9 39.2 376.1 38.9 377.3 38.6 378.5 38.4 379.7 38.3 380.9 38.3 382.1 38.4 383.3 38.7 384.5 39 385.7 39.5 386.9 39.9 388.1 40.3 389.3 40.7 390.5 41.3 391.7 42.3 392.9 43.7 394.1 45.5 395.3 47.5 396.5 49.5 397.7 51.3 398.9 52.8 400.1 53.9 401.3 54.6 402.5 54.7 403.7 54.4 404.9 53.6 406.2 52.5 407.4 51.2 408.6 49.7 409.8 48.2 411 46.8 412.2 45.5 413.4 44.2 414.6 43.1 415.8 42.1 417 41.3 418.2 40.6 419.4 39.9 420.6 39.3 421.8 38.7 423 38 424.2 37.5 425.4 37.4 426.6 37.7 427.8 38.7 429 40 430.2 40.8 431.4 41.8 432.6 45.2 433.8 52 435 60.6 436.2 67.6 437.4 68.3 438.6 62 439.8 54.1 441 48 442.2 44.2 443.4 42.3 444.6 41.4" stroke="#d62728" stroke-width="0.70" fill="none" stroke-linejoin="round"/>
<path d="M271.5 61.4 272 58.4 272.5 55.9 272.9 53.7 273.4 51.9 273.9 50.4 274.4 49 274.9 47.9 275.3 46.9 275.8 46.1 276.3 45.4 276.8 44.8 277.3 44.3 277.8 43.9 278.2 43.5 278.7 43.2 279.2 42.9 279.7 42.7 280.2 42.5 280.6 42.3 281.1 42.1 281.6 42 282.1 41.9 282.6 41.8 283 41.7 283.5 41.6 284 41.5 284.5 41.5 285 41.4 285.4 41.4 285.9 41.3 287.9 41.2 293.6 41.1 299.4 41.3 305.2 41.6 310.9 41.9 316.7 42.2 322.5 42.3 328.2 42.1 334 41.8 339.8 41.5 345.6 41.2 351.3 41.1 357.1 41.2 362.9 41.6 365.3 42.2 366.5 42.6 367.7 43.2 368.9 43.8 370.1 44.6 371.3 45.4 372.5 46.3 373.7 47.2 374.9 48.2 376.1 49 377.3 49.9 378.5 50.5 379.7 51 380.9 51.1 382.1 51 383.3 50.4 384.5 49.5 385.7 48.3 386.9 47 388.1 45.7 389.3 44.4 390.5 43 391.7 41.1 392.9 38.6 394.1 35.6 395.3 32.3 396.5 29.1 397.7 26.3 398.9 23.9 400.1 22.1 401.3 21 402.5 20.7 403.7 21.1 404.9 22.3 406.2 23.9 407.4 25.9 408.6 28.1 409.8 30.4 411 32.6 412.2 34.7 413.4 36.6 414.6 38.4 415.8 40 417 41.4 418.2 42.7 419.4 43.9 420.6 45 421.8 46.3 423 47.5 424.2 48.5 425.4 49.1 426.6 48.7 427.8 47.5 429 46.1 430.2 45.7 431.4 45.2 432.6 40.8 433.8 31.2 435 18.9 436.2 8.5 437.4 7.6 438.6 16.9 439.8 28 441 36 442.2 40.5 443.4 42 444.6 41.8" stroke="#9467bd" stroke-width="0.70" fill="none" stroke-linejoin="round"/>
<path d="M271.5 28.5 272 29.8 272.5 30.9 272.9 31.8 273.4 32.6 273.9 33.2 274.4 33.8 274.9 34.2 275.3 34.6 275.8 35 276.3 35.2 276.8 35.5 277.3 35.6 277.8 35.8 278.2 35.9 278.7 36 279.2 36.1 279.7 36.2 280.2 36.3 280.6 36.3 281.1 36.3 281.6 36.4 282.1 36.4 282.6 36.4 283 36.4 283.5 36.4 284 36.4 284.5 36.5 285 36.5 285.4 36.5 285.9 36.5 287.9 36.5 293.6 36.7 299.4 37 305.2 37.2 310.9 37.3 316.7 37.2 322.5 36.9 328.2 36.7 334 36.6 339.8 36.8 345.6 37.1 351.3 37.4 357.1 37.6 362.9 37.6 365.3 37.5 366.5 37.3 367.7 37.1 368.9 36.9 370.1 36.5 371.3 36.2 372.5 35.8 373.7 35.3 374.9 34.9 376.1 34.4 377.3 34 378.5 33.7 379.7 33.5 380.9 33.4 382.1 33.4 383.3 33.7 384.5 34 385.7 34.4 386.9 34.9 388.1 35.3 389.3 35.7 390.5 36.4 391.7 37.3 392.9 38.8 394.1 40.7 395.3 42.8 396.5 44.9 397.7 46.7 398.9 48.3 400.1 49.5 401.3 50.2 402.5 50.5 403.7 50.2 404.9 49.4 406.2 48.4 407.4 47.1 408.6 45.6 409.8 44.2 411 42.7 412.2 41.4 413.4 40.2 414.6 39 415.8 38.1 417 37.2 418.2 36.5 419.4 35.8 420.6 35.2 421.8 34.5 423 33.9 424.2 33.3 425.4 33.1 426.6 33.5 427.8 34.4 429 35.7 430.2 36.5 431.4 37.5 432.6 40.8 433.8 47.9 435 56.8 436.2 64.1 437.4 64.8 438.6 58.4 439.8 50.3 441 44 442.2 40.1 443.4 38.2 444.6 37.2" stroke="#8c564b" stroke-width="0.70" fill="none" stroke-linejoin="round"/>
<path d="M271.5 28.1 272 29.8 272.5 31.3 272.9 32.6 273.4 33.7 273.9 34.7 274.4 35.5 274.9 36.1 275.3 36.7 275.8 37.2 276.3 37.6 276.8 38 277.3 38.3 277.8 38.5 278.2 38.7 278.7 38.9 279.2 39.1 279.7 39.2 280.2 39.3 280.6 39.4 281.1 39.5 281.6 39.6 282.1 39.6 282.6 39.7 283 39.7 283.5 39.7 284 39.7 284.5 39.8 285 39.8 285.4 39.8 285.9 39.8 287.9 39.8 293.6 39.7 299.4 39.7 305.2 39.7 310.9 39.7 316.7 39.8 322.5 40 328.2 40.1 334 40.2 339.8 40.3 345.6 40.2 351.3 40.2 357.1 40.1 362.9 40 365.3 40.2 366.5 40.3 367.7 40.5 368.9 40.7 370.1 41 371.3 41.3 372.5 41.6 373.7 41.9 374.9 42.2 376.1 42.5 377.3 42.8 378.5 43 379.7 43.2 380.9 43.2 382.1 43.2 383.3 43.1 384.5 42.8 385.7 42.4 386.9 42 388.1 41.5 389.3 41.1 390.5 40.6 391.7 40.1 392.9 39.5 394.1 38.9 395.3 38.1 396.5 37.4 397.7 36.8 398.9 36.3 400.1 35.9 401.3 35.6 402.5 35.6 403.7 35.7 404.9 35.9 406.2 36.3 407.4 36.7 408.6 37.2 409.8 37.6 411 38.1 412.2 38.6 413.4 39 414.6 39.4 415.8 39.7 417 40 418.2 40.3 419.4 40.6 420.6 40.9 421.8 41.1 423 41.5 424.2 41.7 425.4 41.9 426.6 41.8 427.8 41.6 429 41.4 430.2 41.6 431.4 41.7 432.6 41 433.8 39.2 435 36.7 436.2 34.7 437.4 34.5 438.6 36.5 439.8 38.7 441 40 442.2 40.7 443.4 40.6 444.6 40.2" stroke="#e377c2" stroke-width="0.70" fill="none" stroke-linejoin="round"/>
<path d="M271.5 66.5 272 62.2 272.5 58.6 272.9 55.5 273.4 52.9 273.9 50.7 274.4 48.8 274.9 47.2 275.3 45.9 275.8 44.7 276.3 43.7 276.8 42.9 277.3 42.2 277.8 41.6 278.2 41.1 278.7 40.6 279.2 40.2 279.7 39.9 280.2 39.7 280.6 39.4 281.1 39.2 281.6 39 282.1 38.9 282.6 38.8 283 38.7 283.5 38.6 284 38.5 284.5 38.4 285 38.3 285.4 38.3 285.9 38.2 287.9 38 293.6 37.6 299.4 37.2 305.2 37.1 310.9 37.1 316.7 37.4 322.5 37.7 328.2 38 334 38.1 339.8 37.9 345.6 37.7 351.3 37.6 357.1 37.6 362.9 37.7 365.3 37.7 366.5 37.6 367.7 37.4 368.9 37.2 370.1 36.9 371.3 36.5 372.5 36 373.7 35.6 374.9 35.1 376.1 34.6 377.3 34.1 378.5 33.7 379.7 33.5 380.9 33.4 382.1 33.5 383.3 33.8 384.5 34.3 385.7 34.9 386.9 35.5 388.1 36 389.3 36.6 390.5 37.4 391.7 38.7 392.9 40.5 394.1 42.9 395.3 45.6 396.5 48.2 397.7 50.6 398.9 52.6 400.1 54.1 401.3 55 402.5 55.2 403.7 54.8 404.9 53.8 406.2 52.4 407.4 50.6 408.6 48.8 409.8 46.9 411 45 412.2 43.3 413.4 41.7 414.6 40.3 415.8 39.1 417 38.1 418.2 37.2 419.4 36.4 420.6 35.6 421.8 34.8 423 34 424.2 33.4 425.4 33.2 426.6 33.6 427.8 34.9 429 36.5 430.2 37.6 431.4 38.7 432.6 43.1 433.8 52.1 435 63.7 436.2 73.1 437.4 73.9 438.6 65.4 439.8 54.8 441 46.7 442.2 41.6 443.4 39.1 444.6 38" stroke="#7f7f7f" stroke-width="0.70" fill="none" stroke-linejoin="round"/>
<path d="M271.5 70.6 272 66.3 272.5 62.7 272.9 59.7 273.4 57.1 273.9 54.8 274.4 53 274.9 51.4 275.3 50 275.8 48.8 276.3 47.8 276.8 47 277.3 46.3 277.8 45.6 278.2 45.1 278.7 44.7 279.2 44.3 279.7 44 280.2 43.7 280.6 43.4 281.1 43.2 281.6 43 282.1 42.9 282.6 42.8 283 42.6 283.5 42.5 284 42.4 284.5 42.4 285 42.3 285.4 42.2 285.9 42.2 287.9 42 293.6 41.8 299.4 41.8 305.2 41.9 310.9 42 316.7 42 322.5 41.9 328.2 41.8 334 41.7 339.8 41.7 345.6 41.9 351.3 42.1 357.1 42.3 362.9 42.4 365.3 42.2 366.5 42.1 367.7 42 368.9 41.8 370.1 41.6 371.3 41.3 372.5 41 373.7 40.7 374.9 40.4 376.1 40 377.3 39.7 378.5 39.4 379.7 39.3 380.9 39.2 382.1 39.4 383.3 39.6 384.5 40 385.7 40.5 386.9 41 388.1 41.5 389.3 42 390.5 42.7 391.7 43.7 392.9 45.3 394.1 47.4 395.3 49.7 396.5 51.9 397.7 53.9 398.9 55.6 400.1 56.9 401.3 57.7 402.5 57.9 403.7 57.6 404.9 56.8 406.2 55.6 407.4 54.2 408.6 52.6 409.8 51 411 49.5 412.2 48 413.4 46.7 414.6 45.4 415.8 44.4 417 43.5 418.2 42.7 419.4 42 420.6 41.3 421.8 40.5 423 39.8 424.2 39.3 425.4 39 426.6 39.4 427.8 40.4 429 41.8 430.2 42.7 431.4 43.7 432.6 47.3 433.8 54.8 435 64.1 436.2 71.8 437.4 72.5 438.6 65.6 439.8 56.8 441 50.1 442.2 45.9 443.4 43.8 444.6 42.9" stroke="#bcbd22" stroke-width="0.70" fill="none" stroke-linejoin="round"/>
<path d="M271.5 18.6 272 21.7 272.5 24.3 272.9 26.5 273.4 28.4 273.9 30 274.4 31.3 274.9 32.5 275.3 33.5 275.8 34.3 276.3 35 276.8 35.6 277.3 36.1 277.8 36.6 278.2 36.9 278.7 37.3 279.2 37.5 279.7 37.8 280.2 38 280.6 38.2 281.1 38.3 281.6 38.4 282.1 38.5 282.6 38.6 283 38.7 283.5 38.8 284 38.9 284.5 38.9 285 39 285.4 39 285.9 39 287.9 39.2 293.6 39.4 299.4 39.5 305.2 39.4 310.9 39.2 316.7 39 322.5 38.7 328.2 38.7 334 38.8 339.8 39.1 345.6 39.4 351.3 39.7 357.1 39.9 362.9 39.9 365.3 39.6 366.5 39.5 367.7 39.2 368.9 38.9 370.1 38.5 371.3 38.1 372.5 37.6 373.7 37 374.9 36.5 376.1 36 377.3 35.5 378.5 35 379.7 34.7 380.9 34.6 382.1 34.8 383.3 35.1 384.5 35.6 385.7 36.2 386.9 36.8 388.1 37.4 389.3 38.1 390.5 38.9 391.7 40.3 392.9 42.2 394.1 44.8 395.3 47.6 396.5 50.3 397.7 52.8 398.9 54.9 400.1 56.4 401.3 57.4 402.5 57.7 403.7 57.3 404.9 56.3 406.2 54.9 407.4 53.1 408.6 51.2 409.8 49.3 411 47.4 412.2 45.6 413.4 44 414.6 42.5 415.8 41.2 417 40.2 418.2 39.2 419.4 38.4 420.6 37.6 421.8 36.7 423 35.8 424.2 35.1 425.4 34.9 426.6 35.3 427.8 36.6 429 38.3 430.2 39.3 431.4 40.5 432.6 44.9 433.8 54.1 435 65.8 436.2 75.4 437.4 76.2 438.6 67.6 439.8 56.8 441 48.5 442.2 43.3 443.4 40.8 444.6 39.7" stroke="#17becf" stroke-width="0.70" fill="none" stroke-linejoin="round"/>
<path d="M271.5 62 272 59.1 272.5 56.6 272.9 54.6 273.4 52.8 273.9 51.3 274.4 50 274.9 48.8 275.3 47.9 275.8 47.1 276.3 46.4 276.8 45.8 277.3 45.3 277.8 44.9 278.2 44.5 278.7 44.2 279.2 43.9 279.7 43.7 280.2 43.4 280.6 43.3 281.1 43.1 281.6 43 282.1 42.8 282.6 42.7 283 42.6 283.5 42.6 284 42.5 284.5 42.4 285 42.4 285.4 42.3 285.9 42.3 287.9 42.1 293.6 41.8 299.4 41.7 305.2 41.8 310.9 41.9 316.7 42.2 322.5 42.5 328.2 42.8 334 43.1 339.8 43.3 345.6 43.4 351.3 43.3 357.1 43.2 362.9 42.9 365.3 42.8 366.5 42.8 367.7 42.8 368.9 42.8 370.1 42.8 371.3 42.9 372.5 42.9 373.7 42.9 374.9 42.9 376.1 42.9 377.3 42.9 378.5 42.9 379.7 42.9 380.9 42.9 382.1 42.9 383.3 42.9 384.5 42.9 385.7 42.9 386.9 42.8 388.1 42.8 389.3 42.7 390.5 42.8 391.7 43 392.9 43.4 394.1 43.9 395.3 44.5 396.5 45.1 397.7 45.7 398.9 46.2 400.1 46.6 401.3 46.9 402.5 47 403.7 47 404.9 46.8 406.2 46.6 407.4 46.3 408.6 45.9 409.8 45.6 411 45.2 412.2 44.9 413.4 44.6 414.6 44.4 415.8 44.2 417 44.1 418.2 44 419.4 43.9 420.6 43.8 421.8 43.7 423 43.6 424.2 43.6 425.4 43.6 426.6 43.7 427.8 44.1 429 44.6 430.2 45.1 431.4 45.6 432.6 46.8 433.8 49 435 51.7 436.2 53.8 437.4 54 438.6 51.9 439.8 49.2 441 46.9 442.2 45.3 443.4 44.3 444.6 43.6" stroke="#1f77b4" stroke-width="0.70" fill="none" stroke-linejoin="round"/>
<path d="M271.5 20.5 272 23.9 272.5 26.8 272.9 29.3 273.4 31.4 273.9 33.2 274.4 34.7 274.9 36 275.3 37.1 275.8 38.1 276.3 38.9 276.8 39.6 277.3 40.2 277.8 40.7 278.2 41.1 278.7 41.5 279.2 41.8 279.7 42.1 280.2 42.3 280.6 42.5 281.1 42.7 281.6 42.9 282.1 43 282.6 43.1 283 43.2 283.5 43.3 284 43.4 284.5 43.5 285 43.5 285.4 43.6 285.9 43.6 287.9 43.8 293.6 44 299.4 43.9 305.2 43.8 310.9 43.6 316.7 43.5 322.5 43.4 328.2 43.4 334 43.6 339.8 43.7 345.6 43.8 351.3 43.8 357.1 43.7 362.9 43.6 365.3 43.9 366.5 44.1 367.7 44.5 368.9 44.9 370.1 45.5 371.3 46.1 372.5 46.7 373.7 47.4 374.9 48.1 376.1 48.8 377.3 49.5 378.5 50 379.7 50.4 380.9 50.6 382.1 50.5 383.3 50.2 384.5 49.6 385.7 48.8 386.9 48 388.1 47.1 389.3 46.3 390.5 45.3 391.7 44.1 392.9 42.6 394.1 40.6 395.3 38.5 396.5 36.5 397.7 34.7 398.9 33.2 400.1 32.1 401.3 31.4 402.5 31.2 403.7 31.5 404.9 32.3 406.2 33.4 407.4 34.7 408.6 36.2 409.8 37.6 411 39.1 412.2 40.4 413.4 41.6 414.6 42.8 415.8 43.8 417 44.6 418.2 45.4 419.4 46.1 420.6 46.8 421.8 47.5 423 48.3 424.2 48.9 425.4 49.2 426.6 48.9 427.8 48 429 47.1 430.2 46.9 431.4 46.7 432.6 43.8 433.8 37.5 435 29.3 436.2 22.4 437.4 21.8 438.6 27.9 439.8 35.2 441 40.4 442.2 43.3 443.4 44.2 444.6 43.9" stroke="#ff7f0e" stroke-width="0.70" fill="none" stroke-linejoin="round"/>
<path d="M271.5 71.1 272 66 272.5 61.6 272.9 57.8 273.4 54.7 273.9 52 274.4 49.7 274.9 47.7 275.3 46.1 275.8 44.7 276.3 43.5 276.8 42.4 277.3 41.6 277.8 40.8 278.2 40.2 278.7 39.7 279.2 39.2 279.7 38.8 280.2 38.5 280.6 38.2 281.1 38 281.6 37.8 282.1 37.6 282.6 37.4 283 37.3 283.5 37.2 284 37.1 284.5 37 285 36.9 285.4 36.8 285.9 36.8 287.9 36.6 293.6 36.3 299.4 36.1 305.2 36 310.9 36 316.7 35.9 322.5 35.8 328.2 35.8 334 35.8 339.8 36.1 345.6 36.5 351.3 36.9 357.1 37.1 362.9 37 365.3 36.7 366.5 36.5 367.7 36.1 368.9 35.7 370.1 35.1 371.3 34.5 372.5 33.9 373.7 33.2 374.9 32.4 376.1 31.7 377.3 31.1 378.5 30.5 379.7 30.1 380.9 30 382.1 30.1 383.3 30.5 384.5 31.1 385.7 31.8 386.9 32.5 388.1 33.3 389.3 34 390.5 35 391.7 36.6 392.9 38.8 394.1 41.6 395.3 44.7 396.5 47.8 397.7 50.6 398.9 52.9 400.1 54.7 401.3 55.8 402.5 56.1 403.7 55.7 404.9 54.6 406.2 53 407.4 51 408.6 48.9 409.8 46.7 411 44.7 412.2 42.7 413.4 40.8 414.6 39.2 415.8 37.8 417 36.6 418.2 35.5 419.4 34.5 420.6 33.6 421.8 32.6 423 31.6 424.2 30.9 425.4 30.6 426.6 31.1 427.8 32.5 429 34.3 430.2 35.4 431.4 36.7 432.6 41.6 433.8 51.8 435 64.8 436.2 75.6 437.4 76.5 438.6 67 439.8 55.1 441 46 442.2 40.3 443.4 37.6 444.6 36.5" stroke="#2ca02c" stroke-width="0.70" fill="none" stroke-linejoin="round"/>
<path d="M271.5 52.1 272 50.8 272.5 49.8 272.9 48.8 273.4 48 273.9 47.4 274.4 46.8 274.9 46.3 275.3 45.9 275.8 45.6 276.3 45.3 276.8 45.1 277.3 44.9 277.8 44.7 278.2 44.5 278.7 44.4 279.2 44.3 279.7 44.2 280.2 44.1 280.6 44.1 281.1 44 281.6 44 282.1 43.9 282.6 43.9 283 43.9 283.5 43.8 284 43.8 284.5 43.8 285 43.8 285.4 43.8 285.9 43.7 287.9 43.7 293.6 43.5 299.4 43.4 305.2 43.3 310.9 43.3 316.7 43.3 322.5 43.3 328.2 43.3 334 43.4 339.8 43.6 345.6 43.8 351.3 43.9 357.1 44 362.9 43.8 365.3 43.7 366.5 43.7 367.7 43.6 368.9 43.6 370.1 43.6 371.3 43.5 372.5 43.5 373.7 43.4 374.9 43.4 376.1 43.3 377.3 43.3 378.5 43.2 379.7 43.2 380.9 43.3 382.1 43.4 383.3 43.5 384.5 43.7 385.7 43.9 386.9 44 388.1 44.2 389.3 44.4 390.5 44.7 391.7 45.2 392.9 46.1 394.1 47.1 395.3 48.3 396.5 49.5 397.7 50.6 398.9 51.5 400.1 52.2 401.3 52.6 402.5 52.7 403.7 52.5 404.9 52.1 406.2 51.5 407.4 50.7 408.6 49.9 409.8 49 411 48.2 412.2 47.4 413.4 46.7 414.6 46 415.8 45.5 417 45 418.2 44.6 419.4 44.3 420.6 43.9 421.8 43.6 423 43.2 424.2 42.9 425.4 42.9 426.6 43.1 427.8 43.6 429 44.4 430.2 45.1 431.4 45.8 432.6 47.8 433.8 51.8 435 56.7 436.2 60.8 437.4 61.1 438.6 57.4 439.8 52.6 441 48.8 442.2 46.3 443.4 45 444.6 44.2" stroke="#d62728" stroke-width="0.70" fill="none" stroke-linejoin="round"/>
<path d="M271.5 22.1 272 25 272.5 27.5 272.9 29.7 273.4 31.5 273.9 33 274.4 34.4 274.9 35.5 275.3 36.5 275.8 37.3 276.3 38 276.8 38.6 277.3 39.1 277.8 39.6 278.2 39.9 278.7 40.3 279.2 40.5 279.7 40.8 280.2 41 280.6 41.1 281.1 41.3 281.6 41.4 282.1 41.5 282.6 41.6 283 41.6 283.5 41.7 284 41.7 284.5 41.7 285 41.7 285.4 41.7 285.9 41.7 287.9 41.7 293.6 41.2 299.4 40.9 305.2 40.9 310.9 41.2 316.7 41.6 322.5 41.8 328.2 41.8 334 41.5 339.8 41.2 345.6 41.2 351.3 41.4 357.1 41.9 362.9 42.2 365.3 42 366.5 41.8 367.7 41.6 368.9 41.3 370.1 40.8 371.3 40.4 372.5 39.8 373.7 39.2 374.9 38.6 376.1 38 377.3 37.4 378.5 37 379.7 36.6 380.9 36.5 382.1 36.6 383.3 37 384.5 37.6 385.7 38.3 386.9 39.1 388.1 39.9 389.3 40.7 390.5 41.8 391.7 43.4 392.9 45.7 394.1 48.7 395.3 52.1 396.5 55.3 397.7 58.3 398.9 60.8 400.1 62.6 401.3 63.8 402.5 64.2 403.7 63.7 404.9 62.5 406.2 60.8 407.4 58.7 408.6 56.4 409.8 54.1 411 51.9 412.2 49.8 413.4 47.8 414.6 46 415.8 44.5 417 43.2 418.2 42 419.4 41 420.6 40 421.8 38.9 423 37.8 424.2 37 425.4 36.7 426.6 37.2 427.8 38.7 429 40.6 430.2 41.7 431.4 43 432.6 48.2 433.8 59 435 72.6 436.2 83.8 437.4 84.8 438.6 74.6 439.8 61.9 441 52.2 442.2 46.2 443.4 43.4 444.6 42.2" stroke="#9467bd" stroke-width="0.70" fill="none" stroke-linejoin="round"/>
<path d="M271.5 29.9 272 31.6 272.5 33 272.9 34.2 273.4 35.2 273.9 36 274.4 36.8 274.9 37.4 275.3 37.9 275.8 38.4 276.3 38.8 276.8 39.1 277.3 39.4 277.8 39.7 278.2 39.9 278.7 40.1 279.2 40.2 279.7 40.4 280.2 40.5 280.6 40.6 281.1 40.7 281.6 40.8 282.1 40.8 282.6 40.9 283 40.9 283.5 41 284 41 284.5 41 285 41 285.4 41.1 285.9 41.1 287.9 41.1 293.6 41.1 299.4 41 305.2 40.9 310.9 40.9 316.7 41 322.5 41.1 328.2 41.3 334 41.4 339.8 41.4 345.6 41.3 351.3 41.1 357.1 40.9 362.9 41 365.3 41.3 366.5 41.5 367.7 41.9 368.9 42.3 370.1 42.8 371.3 43.4 372.5 44 373.7 44.6 374.9 45.2 376.1 45.9 377.3 46.4 378.5 46.9 379.7 47.2 380.9 47.4 382.1 47.3 383.3 47 384.5 46.4 385.7 45.7 386.9 44.8 388.1 44 389.3 43.1 390.5 42.2 391.7 41.1 392.9 39.6 394.1 37.7 395.3 35.7 396.5 33.8 397.7 32.1 398.9 30.6 400.1 29.6 401.3 28.9 402.5 28.7 403.7 29 404.9 29.6 406.2 30.6 407.4 31.8 408.6 33.2 409.8 34.5 411 35.8 412.2 37.1 413.4 38.3 414.6 39.3 415.8 40.3 417 41.2 418.2 41.9 419.4 42.6 420.6 43.3 421.8 44.1 423 44.8 424.2 45.5 425.4 45.8 426.6 45.6 427.8 44.8 429 44.1 430.2 43.9 431.4 43.7 432.6 41.1 433.8 35.4 435 28.1 436.2 21.8 437.4 21.3 438.6 26.9 439.8 33.5 441 38.2 442.2 40.8 443.4 41.5 444.6 41.2" stroke="#8c564b" stroke-width="0.70" fill="none" stroke-linejoin="round"/>
<path d="M271.5 19.8 272 23.3 272.5 26.2 272.9 28.7 273.4 30.9 273.9 32.7 274.4 34.2 274.9 35.5 275.3 36.6 275.8 37.6 276.3 38.4 276.8 39 277.3 39.6 277.8 40.1 278.2 40.5 278.7 40.9 279.2 41.2 279.7 41.5 280.2 41.7 280.6 41.9 281.1 42.1 281.6 42.2 282.1 42.3 282.6 42.4 283 42.5 283.5 42.6 284 42.7 284.5 42.7 285 42.8 285.4 42.9 285.9 42.9 287.9 43 293.6 43.3 299.4 43.5 305.2 43.5 310.9 43.6 316.7 43.6 322.5 43.7 328.2 43.9 334 44 339.8 44 345.6 43.8 351.3 43.6 357.1 43.4 362.9 43.4 365.3 43.7 366.5 44 367.7 44.5 368.9 45 370.1 45.7 371.3 46.5 372.5 47.3 373.7 48.1 374.9 48.9 376.1 49.7 377.3 50.5 378.5 51.1 379.7 51.6 380.9 51.8 382.1 51.6 383.3 51.2 384.5 50.4 385.7 49.4 386.9 48.3 388.1 47.2 389.3 46.2 390.5 45 391.7 43.4 392.9 41.4 394.1 38.9 395.3 36.1 396.5 33.5 397.7 31.1 398.9 29.2 400.1 27.7 401.3 26.9 402.5 26.6 403.7 27.1 404.9 28 406.2 29.5 407.4 31.2 408.6 33.1 409.8 35 411 36.9 412.2 38.6 413.4 40.3 414.6 41.8 415.8 43.1 417 44.3 418.2 45.3 419.4 46.3 420.6 47.2 421.8 48.2 423 49.2 424.2 50 425.4 50.4 426.6 50.1 427.8 49 429 47.8 430.2 47.5 431.4 47 432.6 43.3 433.8 35.2 435 24.7 436.2 15.9 437.4 15.2 438.6 22.9 439.8 32.3 441 39 442.2 42.8 443.4 44 444.6 43.9" stroke="#e377c2" stroke-width="0.70" fill="none" stroke-linejoin="round"/>
<path d="M271.5 37.7 272 38.1 272.5 38.5 272.9 38.9 273.4 39.1 273.9 39.4 274.4 39.6 274.9 39.7 275.3 39.9 275.8 40 276.3 40.1 276.8 40.2 277.3 40.3 277.8 40.3 278.2 40.4 278.7 40.4 279.2 40.4 279.7 40.5 280.2 40.5 280.6 40.5 281.1 40.5 281.6 40.5 282.1 40.5 282.6 40.5 283 40.5 283.5 40.5 284 40.5 284.5 40.5 285 40.5 285.4 40.5 285.9 40.5 287.9 40.6 293.6 40.6 299.4 40.7 305.2 40.8 310.9 40.9 316.7 40.9 322.5 40.9 328.2 40.9 334 40.8 339.8 40.7 345.6 40.7 351.3 40.7 357.1 40.9 362.9 41 365.3 41 366.5 41 367.7 40.9 368.9 40.8 370.1 40.6 371.3 40.4 372.5 40.2 373.7 40 374.9 39.7 376.1 39.5 377.3 39.2 378.5 39 379.7 38.9 380.9 38.8 382.1 38.9 383.3 39.2 384.5 39.5 385.7 39.8 386.9 40.2 388.1 40.6 389.3 40.9 390.5 41.5 391.7 42.4 392.9 43.7 394.1 45.4 395.3 47.4 396.5 49.3 397.7 51 398.9 52.4 400.1 53.5 401.3 54.1 402.5 54.3 403.7 54 404.9 53.2 406.2 52.2 407.4 50.9 408.6 49.5 409.8 48.1 411 46.8 412.2 45.5 413.4 44.3 414.6 43.3 415.8 42.4 417 41.6 418.2 41 419.4 40.4 420.6 39.8 421.8 39.2 423 38.6 424.2 38.2 425.4 38 426.6 38.4 427.8 39.3 429 40.6 430.2 41.4 431.4 42.4 432.6 45.6 433.8 52.2 435 60.6 436.2 67.4 437.4 68.1 438.6 61.9 439.8 54.2 441 48.2 442.2 44.5 443.4 42.6 444.6 41.7" stroke="#7f7f7f" stroke-width="0.70" fill="none" stroke-linejoin="round"/>
<path d="M271.5 70 272 65.6 272.5 61.8 272.9 58.6 273.4 55.8 273.9 53.5 274.4 51.5 274.9 49.8 275.3 48.4 275.8 47.2 276.3 46.2 276.8 45.3 277.3 44.6 277.8 43.9 278.2 43.4 278.7 42.9 279.2 42.6 279.7 42.2 280.2 42 280.6 41.7 281.1 41.5 281.6 41.4 282.1 41.2 282.6 41.1 283 41 283.5 40.9 284 40.8 284.5 40.8 285 40.7 285.4 40.7 285.9 40.6 287.9 40.5 293.6 40.3 299.4 40 305.2 39.9 310.9 39.9 316.7 40 322.5 40.2 328.2 40.4 334 40.5 339.8 40.5 345.6 40.3 351.3 40.2 357.1 40.1 362.9 40.2 365.3 40.3 366.5 40.4 367.7 40.5 368.9 40.6 370.1 40.7 371.3 40.8 372.5 40.9 373.7 41 374.9 41.1 376.1 41.2 377.3 41.3 378.5 41.4 379.7 41.4 380.9 41.5 382.1 41.5 383.3 41.5 384.5 41.5 385.7 41.4 386.9 41.2 388.1 41.1 389.3 41 390.5 40.9 391.7 40.9 392.9 41.1 394.1 41.3 395.3 41.6 396.5 42 397.7 42.2 398.9 42.5 400.1 42.7 401.3 42.8 402.5 42.8 403.7 42.7 404.9 42.5 406.2 42.3 407.4 42.1 408.6 41.8 409.8 41.6 411 41.3 412.2 41.1 413.4 40.9 414.6 40.7 415.8 40.6 417 40.6 418.2 40.5 419.4 40.5 420.6 40.4 421.8 40.4 423 40.4 424.2 40.4 425.4 40.5 426.6 40.6 427.8 40.9 429 41.3 430.2 41.7 431.4 42.2 432.6 43.1 433.8 44.6 435 46.6 436.2 48.1 437.4 48.2 438.6 46.8 439.8 45 441 43.3 442.2 42.1 443.4 41.3 444.6 40.6" stroke="#bcbd22" stroke-width="0.70" fill="none" stroke-linejoin="round"/>
<path d="M271.5 33.8 272 35.3 272.5 36.5 272.9 37.6 273.4 38.5 273.9 39.3 274.4 39.9 274.9 40.5 275.3 41 275.8 41.4 276.3 41.7 276.8 42 277.3 42.2 277.8 42.4 278.2 42.6 278.7 42.7 279.2 42.9 279.7 43 280.2 43 280.6 43.1 281.1 43.1 281.6 43.2 282.1 43.2 282.6 43.2 283 43.2 283.5 43.2 284 43.2 284.5 43.2 285 43.2 285.4 43.2 285.9 43.2 287.9 43.1 293.6 43 299.4 43 305.2 43.2 310.9 43.6 316.7 43.9 322.5 44.1 328.2 44 334 43.8 339.8 43.5 345.6 43.3 351.3 43.3 357.1 43.4 362.9 43.8 365.3 44.3 366.5 44.7 367.7 45.2 368.9 45.8 370.1 46.6 371.3 47.4 372.5 48.3 373.7 49.1 374.9 50 376.1 50.9 377.3 51.7 378.5 52.3 379.7 52.7 380.9 52.9 382.1 52.7 383.3 52.2 384.5 51.3 385.7 50.1 386.9 48.9 388.1 47.7 389.3 46.4 390.5 45.1 391.7 43.3 392.9 41 394.1 38.2 395.3 35.2 396.5 32.2 397.7 29.6 398.9 27.4 400.1 25.8 401.3 24.8 402.5 24.5 403.7 25 404.9 26 406.2 27.6 407.4 29.5 408.6 31.6 409.8 33.8 411 35.8 412.2 37.8 413.4 39.6 414.6 41.3 415.8 42.8 417 44.2 418.2 45.3 419.4 46.4 420.6 47.5 421.8 48.6 423 49.8 424.2 50.7 425.4 51.1 426.6 50.8 427.8 49.6 429 48.3 430.2 47.9 431.4 47.4 432.6 43.3 433.8 34.3 435 22.7 436.2 12.9 437.4 12.1 438.6 20.6 439.8 31 441 38.3 442.2 42.6 443.4 43.9 444.6 43.7" stroke="#17becf" stroke-width="0.70" fill="none" stroke-linejoin="round"/>
<path d="M271.5 30.1 272 32.1 272.5 33.9 272.9 35.3 273.4 36.6 273.9 37.6 274.4 38.5 274.9 39.3 275.3 39.9 275.8 40.5 276.3 40.9 276.8 41.3 277.3 41.7 277.8 42 278.2 42.2 278.7 42.4 279.2 42.6 279.7 42.8 280.2 42.9 280.6 43 281.1 43.1 281.6 43.2 282.1 43.3 282.6 43.3 283 43.4 283.5 43.4 284 43.5 284.5 43.5 285 43.5 285.4 43.6 285.9 43.6 287.9 43.7 293.6 43.8 299.4 44 305.2 44.1 310.9 44.1 316.7 44 322.5 43.9 328.2 43.9 334 43.9 339.8 43.9 345.6 44 351.3 44.1 357.1 44 362.9 44.1 365.3 44.3 366.5 44.6 367.7 45 368.9 45.5 370.1 46 371.3 46.7 372.5 47.4 373.7 48.1 374.9 48.8 376.1 49.5 377.3 50.2 378.5 50.7 379.7 51.1 380.9 51.3 382.1 51.2 383.3 50.8 384.5 50.2 385.7 49.3 386.9 48.4 388.1 47.5 389.3 46.6 390.5 45.6 391.7 44.3 392.9 42.7 394.1 40.6 395.3 38.4 396.5 36.2 397.7 34.3 398.9 32.7 400.1 31.5 401.3 30.8 402.5 30.5 403.7 30.9 404.9 31.7 406.2 32.8 407.4 34.2 408.6 35.7 409.8 37.3 411 38.8 412.2 40.2 413.4 41.5 414.6 42.7 415.8 43.8 417 44.8 418.2 45.6 419.4 46.4 420.6 47.1 421.8 47.9 423 48.8 424.2 49.5 425.4 49.8 426.6 49.5 427.8 48.6 429 47.7 430.2 47.5 431.4 47.2 432.6 44.2 433.8 37.6 435 29 436.2 21.8 437.4 21.2 438.6 27.5 439.8 35.1 441 40.5 442.2 43.5 443.4 44.4 444.6 44.2" stroke="#1f77b4" stroke-width="0.70" fill="none" stroke-linejoin="round"/>
<path d="M271.5 76.2 272 70.4 272.5 65.4 272.9 61.1 273.4 57.5 273.9 54.4 274.4 51.7 274.9 49.5 275.3 47.6 275.8 46 276.3 44.6 276.8 43.4 277.3 42.4 277.8 41.6 278.2 40.8 278.7 40.2 279.2 39.7 279.7 39.2 280.2 38.9 280.6 38.5 281.1 38.3 281.6 38 282.1 37.8 282.6 37.7 283 37.5 283.5 37.4 284 37.3 284.5 37.2 285 37.1 285.4 37 285.9 37 287.9 36.8 293.6 36.7 299.4 36.7 305.2 36.6 310.9 36.6 316.7 36.7 322.5 36.7 328.2 36.7 334 36.7 339.8 36.8 345.6 36.8 351.3 36.9 357.1 37 362.9 37 365.3 36.9 366.5 36.9 367.7 36.7 368.9 36.5 370.1 36.3 371.3 36 372.5 35.6 373.7 35.3 374.9 34.9 376.1 34.5 377.3 34.1 378.5 33.9 379.7 33.7 380.9 33.6 382.1 33.7 383.3 33.9 384.5 34.2 385.7 34.5 386.9 34.9 388.1 35.3 389.3 35.6 390.5 36.2 391.7 37 392.9 38.4 394.1 40.1 395.3 42 396.5 43.9 397.7 45.6 398.9 47 400.1 48.1 401.3 48.8 402.5 48.9 403.7 48.7 404.9 48 406.2 47 407.4 45.8 408.6 44.4 409.8 43.1 411 41.8 412.2 40.6 413.4 39.4 414.6 38.4 415.8 37.5 417 36.8 418.2 36.1 419.4 35.6 420.6 35 421.8 34.4 423 33.8 424.2 33.3 425.4 33.2 426.6 33.5 427.8 34.4 429 35.6 430.2 36.4 431.4 37.3 432.6 40.5 433.8 47 435 55.3 436.2 62.1 437.4 62.7 438.6 56.8 439.8 49.2 441 43.3 442.2 39.6 443.4 37.8 444.6 36.9" stroke="#ff7f0e" stroke-width="0.70" fill="none" stroke-linejoin="round"/>
<path d="M271.5 21.6 272 24.6 272.5 27 272.9 29.2 273.4 31 273.9 32.5 274.4 33.8 274.9 34.9 275.3 35.9 275.8 36.7 276.3 37.4 276.8 38 277.3 38.5 277.8 38.9 278.2 39.3 278.7 39.6 279.2 39.9 279.7 40.1 280.2 40.3 280.6 40.4 281.1 40.6 281.6 40.7 282.1 40.8 282.6 40.8 283 40.9 283.5 40.9 284 41 284.5 41 285 41 285.4 41 285.9 41 287.9 41 293.6 40.9 299.4 40.9 305.2 41.1 310.9 41.5 316.7 41.6 322.5 41.5 328.2 41.3 334 41 339.8 41.1 345.6 41.3 351.3 41.5 357.1 41.6 362.9 41.5 365.3 41.7 366.5 41.8 367.7 42.1 368.9 42.4 370.1 42.8 371.3 43.2 372.5 43.7 373.7 44.2 374.9 44.7 376.1 45.2 377.3 45.7 378.5 46.1 379.7 46.4 380.9 46.6 382.1 46.6 383.3 46.3 384.5 45.9 385.7 45.2 386.9 44.6 388.1 43.9 389.3 43.2 390.5 42.4 391.7 41.5 392.9 40.3 394.1 38.8 395.3 37.1 396.5 35.5 397.7 34 398.9 32.9 400.1 31.9 401.3 31.4 402.5 31.2 403.7 31.3 404.9 31.9 406.2 32.7 407.4 33.6 408.6 34.7 409.8 35.8 411 36.9 412.2 37.9 413.4 38.8 414.6 39.7 415.8 40.5 417 41.2 418.2 41.9 419.4 42.5 420.6 43.1 421.8 43.8 423 44.4 424.2 45 425.4 45.3 426.6 45.2 427.8 44.6 429 44.1 430.2 44 431.4 44 432.6 41.9 433.8 37.1 435 31 436.2 25.8 437.4 25.4 438.6 30 439.8 35.5 441 39.3 442.2 41.4 443.4 41.9 444.6 41.5" stroke="#2ca02c" stroke-width="0.70" fill="none" stroke-linejoin="round"/>
<path d="M271.5 19.4 272 22.7 272.5 25.4 272.9 27.8 273.4 29.8 273.9 31.5 274.4 32.9 274.9 34.2 275.3 35.2 275.8 36.1 276.3 36.9 276.8 37.6 277.3 38.1 277.8 38.6 278.2 39 278.7 39.4 279.2 39.7 279.7 40 280.2 40.2 280.6 40.4 281.1 40.6 281.6 40.8 282.1 40.9 282.6 41.1 283 41.2 283.5 41.3 284 41.3 284.5 41.4 285 41.5 285.4 41.6 285.9 41.6 287.9 41.8 293.6 41.8 299.4 41.5 305.2 41 310.9 40.8 316.7 40.9 322.5 41.3 328.2 41.8 334 41.9 339.8 41.7 345.6 41.4 351.3 41.2 357.1 41.4 362.9 41.7 365.3 41.7 366.5 41.7 367.7 41.6 368.9 41.5 370.1 41.3 371.3 41.1 372.5 40.8 373.7 40.5 374.9 40.1 376.1 39.7 377.3 39.3 378.5 39 379.7 38.8 380.9 38.7 382.1 38.7 383.3 39 384.5 39.3 385.7 39.7 386.9 40.2 388.1 40.6 389.3 41.1 390.5 41.7 391.7 42.8 392.9 44.5 394.1 46.6 395.3 49 396.5 51.4 397.7 53.5 398.9 55.3 400.1 56.7 401.3 57.6 402.5 57.9 403.7 57.6 404.9 56.8 406.2 55.6 407.4 54.2 408.6 52.5 409.8 50.9 411 49.3 412.2 47.8 413.4 46.4 414.6 45.1 415.8 44 417 43.1 418.2 42.2 419.4 41.5 420.6 40.7 421.8 39.9 423 39.1 424.2 38.5 425.4 38.2 426.6 38.5 427.8 39.6 429 41 430.2 41.9 431.4 42.9 432.6 46.7 433.8 54.6 435 64.6 436.2 72.9 437.4 73.6 438.6 66.2 439.8 56.9 441 49.7 442.2 45.3 443.4 43.1 444.6 42.2" stroke="#d62728" stroke-width="0.70" fill="none" stroke-linejoin="round"/>
<path d="M271.5 56 272 53.6 272.5 51.5 272.9 49.8 273.4 48.3 273.9 47 274.4 45.9 274.9 45 275.3 44.2 275.8 43.5 276.3 42.9 276.8 42.4 277.3 42 277.8 41.6 278.2 41.3 278.7 41 279.2 40.7 279.7 40.5 280.2 40.3 280.6 40.1 281.1 39.9 281.6 39.8 282.1 39.7 282.6 39.6 283 39.5 283.5 39.4 284 39.3 284.5 39.2 285 39.1 285.4 39.1 285.9 39 287.9 38.9 293.6 38.9 299.4 39.3 305.2 39.8 310.9 40.1 316.7 40 322.5 39.7 328.2 39.4 334 39.3 339.8 39.4 345.6 39.7 351.3 39.8 357.1 39.7 362.9 39.7 365.3 39.9 366.5 40.1 367.7 40.5 368.9 40.8 370.1 41.3 371.3 41.8 372.5 42.3 373.7 42.9 374.9 43.5 376.1 44.1 377.3 44.6 378.5 45 379.7 45.3 380.9 45.5 382.1 45.4 383.3 45.1 384.5 44.5 385.7 43.7 386.9 42.9 388.1 42 389.3 41.1 390.5 40.2 391.7 39 392.9 37.5 394.1 35.6 395.3 33.6 396.5 31.7 397.7 29.9 398.9 28.5 400.1 27.4 401.3 26.8 402.5 26.6 403.7 26.9 404.9 27.6 406.2 28.6 407.4 29.8 408.6 31.2 409.8 32.6 411 34 412.2 35.3 413.4 36.5 414.6 37.7 415.8 38.7 417 39.6 418.2 40.4 419.4 41.1 420.6 41.8 421.8 42.6 423 43.4 424.2 44 425.4 44.3 426.6 44 427.8 43.2 429 42.4 430.2 42.2 431.4 41.9 432.6 39.2 433.8 33.5 435 26.1 436.2 19.8 437.4 19.2 438.6 24.7 439.8 31.3 441 35.9 442.2 38.5 443.4 39.2 444.6 38.9" stroke="#9467bd" stroke-width="0.70" fill="none" stroke-linejoin="round"/>
<path d="M271.5 23.5 272 25.8 272.5 27.8 272.9 29.6 273.4 31 273.9 32.2 274.4 33.3 274.9 34.2 275.3 35 275.8 35.6 276.3 36.2 276.8 36.6 277.3 37 277.8 37.4 278.2 37.7 278.7 37.9 279.2 38.1 279.7 38.3 280.2 38.4 280.6 38.6 281.1 38.7 281.6 38.8 282.1 38.8 282.6 38.9 283 39 283.5 39 284 39 284.5 39.1 285 39.1 285.4 39.1 285.9 39.1 287.9 39.2 293.6 39.1 299.4 39.1 305.2 39.1 310.9 39.1 316.7 39.2 322.5 39.2 328.2 39.3 334 39.4 339.8 39.5 345.6 39.5 351.3 39.6 357.1 39.6 362.9 39.6 365.3 39.7 366.5 39.8 367.7 39.9 368.9 40.1 370.1 40.3 371.3 40.5 372.5 40.7 373.7 40.9 374.9 41.1 376.1 41.3 377.3 41.5 378.5 41.7 379.7 41.8 380.9 41.8 382.1 41.8 383.3 41.6 384.5 41.4 385.7 41 386.9 40.7 388.1 40.3 389.3 39.9 390.5 39.5 391.7 39.1 392.9 38.7 394.1 38.2 395.3 37.7 396.5 37.2 397.7 36.8 398.9 36.5 400.1 36.2 401.3 36.1 402.5 36.1 403.7 36.1 404.9 36.3 406.2 36.6 407.4 36.9 408.6 37.2 409.8 37.6 411 37.9 412.2 38.3 413.4 38.6 414.6 38.9 415.8 39.2 417 39.4 418.2 39.6 419.4 39.9 420.6 40.1 421.8 40.3 423 40.6 424.2 40.8 425.4 40.9 426.6 40.9 427.8 40.8 429 40.8 430.2 41 431.4 41.2 432.6 40.8 433.8 39.7 435 38.2 436.2 36.9 437.4 36.8 438.6 38.1 439.8 39.4 441 40.1 442.2 40.3 443.4 40.1 444.6 39.5" stroke="#8c564b" stroke-width="0.70" fill="none" stroke-linejoin="round"/>
<path d="M271.5 27.6 272 29.5 272.5 31.1 272.9 32.4 273.4 33.5 273.9 34.5 274.4 35.3 274.9 36 275.3 36.6 275.8 37.1 276.3 37.5 276.8 37.9 277.3 38.2 277.8 38.5 278.2 38.7 278.7 38.9 279.2 39.1 279.7 39.2 280.2 39.4 280.6 39.5 281.1 39.6 281.6 39.7 282.1 39.8 282.6 39.9 283 40 283.5 40.1 284 40.1 284.5 40.2 285 40.3 285.4 40.3 285.9 40.4 287.9 40.7 293.6 41.3 299.4 41.5 305.2 41.2 310.9 40.7 316.7 40.2 322.5 40 328.2 40.2 334 40.6 339.8 41 345.6 41.2 351.3 41.2 357.1 41.1 362.9 40.9 365.3 40.9 366.5 40.9 367.7 40.9 368.9 40.9 370.1 40.8 371.3 40.8 372.5 40.7 373.7 40.7 374.9 40.6 376.1 40.5 377.3 40.4 378.5 40.4 379.7 40.3 380.9 40.3 382.1 40.4 383.3 40.5 384.5 40.6 385.7 40.7 386.9 40.8 388.1 40.8 389.3 40.9 390.5 41.1 391.7 41.5 392.9 42.2 394.1 43.2 395.3 44.2 396.5 45.3 397.7 46.3 398.9 47.1 400.1 47.7 401.3 48.1 402.5 48.3 403.7 48.1 404.9 47.8 406.2 47.3 407.4 46.6 408.6 45.9 409.8 45.2 411 44.6 412.2 43.9 413.4 43.4 414.6 42.8 415.8 42.4 417 42 418.2 41.7 419.4 41.4 420.6 41.2 421.8 40.8 423 40.5 424.2 40.2 425.4 40.1 426.6 40.3 427.8 40.7 429 41.4 430.2 41.9 431.4 42.5 432.6 44.3 433.8 48 435 52.7 436.2 56.5 437.4 56.8 438.6 53.2 439.8 48.6 441 44.9 442.2 42.5 443.4 41.2 444.6 40.4" stroke="#e377c2" stroke-width="0.70" fill="none" stroke-linejoin="round"/>
<path d="M271.5 51.8 272 50.3 272.5 49 272.9 47.9 273.4 47 273.9 46.3 274.4 45.6 274.9 45 275.3 44.6 275.8 44.2 276.3 43.8 276.8 43.5 277.3 43.3 277.8 43.1 278.2 43 278.7 42.8 279.2 42.7 279.7 42.6 280.2 42.6 280.6 42.5 281.1 42.5 281.6 42.5 282.1 42.4 282.6 42.4 283 42.4 283.5 42.4 284 42.5 284.5 42.5 285 42.5 285.4 42.5 285.9 42.5 287.9 42.6 293.6 42.8 299.4 42.8 305.2 42.6 310.9 42.3 316.7 42 322.5 41.7 328.2 41.5 334 41.5 339.8 41.9 345.6 42.4 351.3 43 357.1 43.4 362.9 43.4 365.3 43.2 366.5 43 367.7 42.7 368.9 42.4 370.1 42 371.3 41.6 372.5 41.1 373.7 40.6 374.9 40.1 376.1 39.6 377.3 39.1 378.5 38.7 379.7 38.4 380.9 38.2 382.1 38.3 383.3 38.6 384.5 39 385.7 39.5 386.9 40.1 388.1 40.7 389.3 41.3 390.5 42.2 391.7 43.5 392.9 45.4 394.1 47.9 395.3 50.6 396.5 53.3 397.7 55.7 398.9 57.7 400.1 59.3 401.3 60.4 402.5 60.7 403.7 60.4 404.9 59.6 406.2 58.3 407.4 56.7 408.6 55 409.8 53.2 411 51.5 412.2 49.8 413.4 48.3 414.6 46.9 415.8 45.6 417 44.6 418.2 43.7 419.4 42.8 420.6 42 421.8 41.1 423 40.1 424.2 39.4 425.4 39.1 426.6 39.4 427.8 40.6 429 42 430.2 42.9 431.4 44 432.6 48.1 433.8 56.6 435 67.3 436.2 76.2 437.4 76.9 438.6 68.8 439.8 58.6 441 50.8 442.2 45.9 443.4 43.5 444.6 42.5" stroke="#7f7f7f" stroke-width="0.70" fill="none" stroke-linejoin="round"/>
<path d="M271.5 56.1 272 54 272.5 52.3 272.9 50.8 273.4 49.5 273.9 48.4 274.4 47.5 274.9 46.7 275.3 46 275.8 45.4 276.3 44.9 276.8 44.5 277.3 44.1 277.8 43.8 278.2 43.5 278.7 43.3 279.2 43.1 279.7 42.9 280.2 42.7 280.6 42.6 281.1 42.4 281.6 42.3 282.1 42.2 282.6 42.1 283 42 283.5 41.9 284 41.8 284.5 41.7 285 41.7 285.4 41.6 285.9 41.6 287.9 41.4 293.6 41.2 299.4 41.5 305.2 41.8 310.9 42 316.7 41.9 322.5 41.6 328.2 41.4 334 41.4 339.8 41.7 345.6 42.1 351.3 42.3 357.1 42.3 362.9 42 365.3 41.8 366.5 41.6 367.7 41.3 368.9 41.1 370.1 40.7 371.3 40.3 372.5 39.9 373.7 39.4 374.9 39 376.1 38.5 377.3 38.1 378.5 37.8 379.7 37.5 380.9 37.5 382.1 37.7 383.3 38.2 384.5 38.8 385.7 39.5 386.9 40.2 388.1 40.9 389.3 41.6 390.5 42.6 391.7 44 392.9 46.2 394.1 48.9 395.3 51.9 396.5 54.8 397.7 57.5 398.9 59.7 400.1 61.3 401.3 62.3 402.5 62.6 403.7 62.1 404.9 60.9 406.2 59.3 407.4 57.4 408.6 55.3 409.8 53.2 411 51.1 412.2 49.2 413.4 47.4 414.6 45.9 415.8 44.5 417 43.4 418.2 42.4 419.4 41.5 420.6 40.7 421.8 39.7 423 38.8 424.2 38.1 425.4 37.8 426.6 38.3 427.8 39.7 429 41.4 430.2 42.5 431.4 43.7 432.6 48.4 433.8 58.3 435 70.9 436.2 81.2 437.4 82 438.6 72.5 439.8 60.7 441 51.6 442.2 46 443.4 43.3 444.6 42.2" stroke="#bcbd22" stroke-width="0.70" fill="none" stroke-linejoin="round"/>
<path d="M271.5 75.2 272 70.4 272.5 66.4 272.9 62.9 273.4 60 273.9 57.4 274.4 55.3 274.9 53.4 275.3 51.9 275.8 50.5 276.3 49.4 276.8 48.4 277.3 47.6 277.8 46.9 278.2 46.3 278.7 45.7 279.2 45.3 279.7 44.9 280.2 44.6 280.6 44.3 281.1 44.1 281.6 43.9 282.1 43.7 282.6 43.5 283 43.4 283.5 43.3 284 43.2 284.5 43.1 285 43.1 285.4 43 285.9 43 287.9 42.9 293.6 42.9 299.4 43.2 305.2 43.5 310.9 43.8 316.7 43.8 322.5 43.8 328.2 43.8 334 43.7 339.8 43.6 345.6 43.5 351.3 43.3 357.1 43.1 362.9 43 365.3 43.1 366.5 43.1 367.7 43.2 368.9 43.3 370.1 43.4 371.3 43.5 372.5 43.6 373.7 43.7 374.9 43.8 376.1 43.9 377.3 44 378.5 44.1 379.7 44.3 380.9 44.4 382.1 44.5 383.3 44.6 384.5 44.7 385.7 44.8 386.9 44.9 388.1 44.9 389.3 45 390.5 45.2 391.7 45.5 392.9 46 394.1 46.7 395.3 47.4 396.5 48.2 397.7 48.9 398.9 49.5 400.1 49.9 401.3 50.2 402.5 50.2 403.7 50.1 404.9 49.8 406.2 49.3 407.4 48.8 408.6 48.2 409.8 47.6 411 47.1 412.2 46.5 413.4 46 414.6 45.6 415.8 45.2 417 44.9 418.2 44.6 419.4 44.4 420.6 44.2 421.8 43.9 423 43.7 424.2 43.5 425.4 43.5 426.6 43.6 427.8 44 429 44.5 430.2 45 431.4 45.6 432.6 47 433.8 49.7 435 53.1 436.2 55.8 437.4 56 438.6 53.4 439.8 50 441 47.2 442.2 45.4 443.4 44.3 444.6 43.6" stroke="#17becf" stroke-width="0.70" fill="none" stroke-linejoin="round"/>
<path d="M271.5 35.4 272 36.4 272.5 37.3 272.9 38 273.4 38.6 273.9 39.1 274.4 39.6 274.9 39.9 275.3 40.3 275.8 40.5 276.3 40.8 276.8 41 277.3 41.1 277.8 41.3 278.2 41.4 278.7 41.5 279.2 41.6 279.7 41.7 280.2 41.7 280.6 41.8 281.1 41.9 281.6 41.9 282.1 41.9 282.6 42 283 42 283.5 42 284 42.1 284.5 42.1 285 42.1 285.4 42.1 285.9 42.2 287.9 42.3 293.6 42.5 299.4 42.6 305.2 42.7 310.9 42.7 316.7 42.5 322.5 42.4 328.2 42.3 334 42.3 339.8 42.3 345.6 42.5 351.3 42.6 357.1 42.7 362.9 42.8 365.3 43 366.5 43.2 367.7 43.4 368.9 43.7 370.1 44 371.3 44.3 372.5 44.7 373.7 45 374.9 45.4 376.1 45.7 377.3 46.1 378.5 46.3 379.7 46.5 380.9 46.6 382.1 46.5 383.3 46.3 384.5 46 385.7 45.5 386.9 45 388.1 44.5 389.3 44 390.5 43.5 391.7 42.9 392.9 42.2 394.1 41.4 395.3 40.5 396.5 39.7 397.7 38.9 398.9 38.3 400.1 37.9 401.3 37.7 402.5 37.6 403.7 37.8 404.9 38.1 406.2 38.5 407.4 39.1 408.6 39.7 409.8 40.3 411 40.9 412.2 41.5 413.4 42 414.6 42.5 415.8 43 417 43.4 418.2 43.7 419.4 44.1 420.6 44.4 421.8 44.8 423 45.1 424.2 45.4 425.4 45.6 426.6 45.5 427.8 45.2 429 45 430.2 45 431.4 45.2 432.6 44.2 433.8 41.8 435 38.7 436.2 36 437.4 35.8 438.6 38.1 439.8 40.7 441 42.4 442.2 43.2 443.4 43.2 444.6 42.7" stroke="#1f77b4" stroke-width="0.70" fill="none" stroke-linejoin="round"/>
<path d="M271.5 26 272 28.6 272.5 30.9 272.9 32.8 273.4 34.5 273.9 35.9 274.4 37.1 274.9 38.2 275.3 39 275.8 39.8 276.3 40.5 276.8 41 277.3 41.5 277.8 41.9 278.2 42.3 278.7 42.6 279.2 42.8 279.7 43 280.2 43.2 280.6 43.4 281.1 43.5 281.6 43.6 282.1 43.7 282.6 43.8 283 43.8 283.5 43.9 284 43.9 284.5 44 285 44 285.4 44 285.9 44 287.9 44 293.6 43.7 299.4 43.5 305.2 43.4 310.9 43.6 316.7 43.8 322.5 44 328.2 44 334 43.9 339.8 43.8 345.6 43.9 351.3 44.1 357.1 44.3 362.9 44.4 365.3 44.7 366.5 45.1 367.7 45.5 368.9 46 370.1 46.7 371.3 47.4 372.5 48.2 373.7 49 374.9 49.9 376.1 50.7 377.3 51.5 378.5 52.1 379.7 52.5 380.9 52.7 382.1 52.5 383.3 51.9 384.5 51.1 385.7 50 386.9 48.8 388.1 47.6 389.3 46.4 390.5 45.1 391.7 43.4 392.9 41.2 394.1 38.4 395.3 35.3 396.5 32.3 397.7 29.7 398.9 27.5 400.1 25.9 401.3 24.9 402.5 24.7 403.7 25.2 404.9 26.3 406.2 28 407.4 29.9 408.6 32.1 409.8 34.2 411 36.3 412.2 38.3 413.4 40.1 414.6 41.8 415.8 43.2 417 44.5 418.2 45.6 419.4 46.7 420.6 47.7 421.8 48.8 423 49.9 424.2 50.8 425.4 51.3 426.6 50.9 427.8 49.7 429 48.3 430.2 47.9 431.4 47.4 432.6 43.2 433.8 33.8 435 21.7 436.2 11.6 437.4 10.8 438.6 19.8 439.8 30.8 441 38.6 442.2 43.1 443.4 44.6 444.6 44.5" stroke="#ff7f0e" stroke-width="0.70" fill="none" stroke-linejoin="round"/>
<path d="M271.5 78 272 72.2 272.5 67.3 272.9 63.1 273.4 59.5 273.9 56.5 274.4 53.9 274.9 51.7 275.3 49.8 275.8 48.2 276.3 46.9 276.8 45.7 277.3 44.7 277.8 43.9 278.2 43.2 278.7 42.6 279.2 42.1 279.7 41.6 280.2 41.3 280.6 41 281.1 40.7 281.6 40.5 282.1 40.3 282.6 40.1 283 40 283.5 39.9 284 39.8 284.5 39.7 285 39.7 285.4 39.6 285.9 39.6 287.9 39.5 293.6 39.5 299.4 39.6 305.2 39.5 310.9 39.3 316.7 39.3 322.5 39.3 328.2 39.4 334 39.6 339.8 39.7 345.6 39.7 351.3 39.5 357.1 39.4 362.9 39.4 365.3 39.6 366.5 39.8 367.7 40 368.9 40.3 370.1 40.6 371.3 40.9 372.5 41.3 373.7 41.7 374.9 42 376.1 42.4 377.3 42.7 378.5 43 379.7 43.2 380.9 43.3 382.1 43.3 383.3 43.1 384.5 42.7 385.7 42.2 386.9 41.7 388.1 41.1 389.3 40.6 390.5 40 391.7 39.3 392.9 38.5 394.1 37.6 395.3 36.5 396.5 35.5 397.7 34.6 398.9 33.9 400.1 33.4 401.3 33 402.5 32.9 403.7 33 404.9 33.4 406.2 33.9 407.4 34.5 408.6 35.2 409.8 35.9 411 36.6 412.2 37.2 413.4 37.8 414.6 38.4 415.8 38.9 417 39.4 418.2 39.8 419.4 40.2 420.6 40.6 421.8 41 423 41.5 424.2 41.8 425.4 42 426.6 42 427.8 41.6 429 41.3 430.2 41.4 431.4 41.5 432.6 40.3 433.8 37.7 435 34.2 436.2 31.3 437.4 31 438.6 33.7 439.8 36.7 441 38.7 442.2 39.7 443.4 39.8 444.6 39.3" stroke="#2ca02c" stroke-width="0.70" fill="none" stroke-linejoin="round"/>
<path d="M271.5 38.1 272 38.6 272.5 39 272.9 39.3 273.4 39.6 273.9 39.9 274.4 40.1 274.9 40.3 275.3 40.4 275.8 40.5 276.3 40.6 276.8 40.7 277.3 40.8 277.8 40.9 278.2 40.9 278.7 41 279.2 41 279.7 41 280.2 41.1 280.6 41.1 281.1 41.1 281.6 41.1 282.1 41.1 282.6 41.1 283 41.1 283.5 41.2 284 41.2 284.5 41.2 285 41.2 285.4 41.2 285.9 41.2 287.9 41.2 293.6 41.2 299.4 41.3 305.2 41.4 310.9 41.4 316.7 41.4 322.5 41.4 328.2 41.5 334 41.5 339.8 41.5 345.6 41.6 351.3 41.7 357.1 41.7 362.9 41.7 365.3 41.6 366.5 41.6 367.7 41.5 368.9 41.4 370.1 41.3 371.3 41.1 372.5 40.9 373.7 40.7 374.9 40.5 376.1 40.3 377.3 40.1 378.5 39.9 379.7 39.8 380.9 39.8 382.1 39.9 383.3 40.1 384.5 40.3 385.7 40.6 386.9 40.8 388.1 41.1 389.3 41.4 390.5 41.9 391.7 42.6 392.9 43.8 394.1 45.2 395.3 46.9 396.5 48.5 397.7 50 398.9 51.3 400.1 52.2 401.3 52.8 402.5 53 403.7 52.7 404.9 52.2 406.2 51.3 407.4 50.3 408.6 49.1 409.8 48 411 46.9 412.2 45.8 413.4 44.8 414.6 44 415.8 43.2 417 42.6 418.2 42.1 419.4 41.6 420.6 41.1 421.8 40.6 423 40.1 424.2 39.7 425.4 39.6 426.6 39.8 427.8 40.6 429 41.7 430.2 42.4 431.4 43.3 432.6 46 433.8 51.6 435 58.7 436.2 64.4 437.4 64.9 438.6 59.7 439.8 53.1 441 48 442.2 44.7 443.4 43 444.6 42.1" stroke="#d62728" stroke-width="0.70" fill="none" stroke-linejoin="round"/>
<path d="M271.5 27.3 272 29.4 272.5 31.3 272.9 32.9 273.4 34.2 273.9 35.3 274.4 36.3 274.9 37.1 275.3 37.8 275.8 38.4 276.3 38.9 276.8 39.4 277.3 39.7 277.8 40 278.2 40.3 278.7 40.5 279.2 40.7 279.7 40.9 280.2 41.1 280.6 41.2 281.1 41.3 281.6 41.4 282.1 41.5 282.6 41.5 283 41.6 283.5 41.7 284 41.7 284.5 41.8 285 41.8 285.4 41.9 285.9 41.9 287.9 42 293.6 42.4 299.4 42.6 305.2 42.9 310.9 43.1 316.7 43.2 322.5 43.1 328.2 43 334 42.7 339.8 42.5 345.6 42.2 351.3 41.9 357.1 41.8 362.9 41.8 365.3 41.9 366.5 42 367.7 42.2 368.9 42.4 370.1 42.6 371.3 42.9 372.5 43.2 373.7 43.5 374.9 43.8 376.1 44 377.3 44.3 378.5 44.5 379.7 44.7 380.9 44.9 382.1 44.9 383.3 44.9 384.5 44.8 385.7 44.5 386.9 44.3 388.1 44.1 389.3 43.8 390.5 43.6 391.7 43.4 392.9 43.3 394.1 43.1 395.3 42.9 396.5 42.7 397.7 42.6 398.9 42.5 400.1 42.4 401.3 42.4 402.5 42.4 403.7 42.4 404.9 42.5 406.2 42.7 407.4 42.8 408.6 43 409.8 43.1 411 43.3 412.2 43.4 413.4 43.5 414.6 43.6 415.8 43.7 417 43.9 418.2 43.9 419.4 44 420.6 44.1 421.8 44.2 423 44.3 424.2 44.4 425.4 44.5 426.6 44.4 427.8 44.4 429 44.4 430.2 44.7 431.4 44.9 432.6 44.8 433.8 44.5 435 43.9 436.2 43.3 437.4 43.2 438.6 43.6 439.8 43.9 441 43.8 442.2 43.6 443.4 43.1 444.6 42.6" stroke="#9467bd" stroke-width="0.70" fill="none" stroke-linejoin="round"/>
<path d="M271.5 70.7 272 66 272.5 62.1 272.9 58.8 273.4 55.9 273.9 53.5 274.4 51.4 274.9 49.7 275.3 48.2 275.8 46.9 276.3 45.8 276.8 44.9 277.3 44.1 277.8 43.5 278.2 42.9 278.7 42.4 279.2 42 279.7 41.7 280.2 41.4 280.6 41.1 281.1 40.9 281.6 40.7 282.1 40.5 282.6 40.4 283 40.3 283.5 40.1 284 40 284.5 40 285 39.9 285.4 39.8 285.9 39.7 287.9 39.5 293.6 39.2 299.4 39 305.2 38.9 310.9 39 316.7 39.1 322.5 39.2 328.2 39.1 334 39 339.8 38.9 345.6 39 351.3 39.3 357.1 39.7 362.9 39.9 365.3 39.8 366.5 39.7 367.7 39.5 368.9 39.3 370.1 38.9 371.3 38.6 372.5 38.1 373.7 37.7 374.9 37.2 376.1 36.7 377.3 36.3 378.5 35.9 379.7 35.6 380.9 35.5 382.1 35.6 383.3 35.9 384.5 36.3 385.7 36.8 386.9 37.4 388.1 37.9 389.3 38.5 390.5 39.3 391.7 40.5 392.9 42.3 394.1 44.6 395.3 47.2 396.5 49.7 397.7 52 398.9 53.9 400.1 55.4 401.3 56.3 402.5 56.6 403.7 56.2 404.9 55.3 406.2 54 407.4 52.4 408.6 50.6 409.8 48.8 411 47.1 412.2 45.4 413.4 43.9 414.6 42.5 415.8 41.3 417 40.3 418.2 39.3 419.4 38.5 420.6 37.7 421.8 36.8 423 35.9 424.2 35.3 425.4 35 426.6 35.3 427.8 36.5 429 37.9 430.2 38.9 431.4 40 432.6 44 433.8 52.5 435 63.2 436.2 72 437.4 72.7 438.6 64.9 439.8 55.1 441 47.5 442.2 42.8 443.4 40.6 444.6 39.6" stroke="#8c564b" stroke-width="0.70" fill="none" stroke-linejoin="round"/>
<path d="M271.5 44.3 272 44 272.5 43.6 272.9 43.4 273.4 43.2 273.9 43 274.4 42.8 274.9 42.6 275.3 42.5 275.8 42.3 276.3 42.2 276.8 42.1 277.3 42 277.8 41.9 278.2 41.9 278.7 41.8 279.2 41.7 279.7 41.7 280.2 41.6 280.6 41.6 281.1 41.6 281.6 41.5 282.1 41.5 282.6 41.5 283 41.5 283.5 41.4 284 41.4 284.5 41.4 285 41.4 285.4 41.4 285.9 41.4 287.9 41.4 293.6 41.7 299.4 41.9 305.2 41.8 310.9 41.6 316.7 41.5 322.5 41.6 328.2 42 334 42.5 339.8 42.8 345.6 42.7 351.3 42.3 357.1 41.9 362.9 41.8 365.3 42 366.5 42.2 367.7 42.4 368.9 42.7 370.1 43 371.3 43.3 372.5 43.7 373.7 44 374.9 44.3 376.1 44.6 377.3 44.9 378.5 45.1 379.7 45.2 380.9 45.3 382.1 45.2 383.3 45 384.5 44.7 385.7 44.3 386.9 43.8 388.1 43.4 389.3 42.9 390.5 42.5 391.7 42 392.9 41.5 394.1 41 395.3 40.4 396.5 39.9 397.7 39.5 398.9 39.2 400.1 39 401.3 38.9 402.5 38.9 403.7 39.1 404.9 39.4 406.2 39.7 407.4 40.2 408.6 40.6 409.8 41.1 411 41.5 412.2 42 413.4 42.4 414.6 42.7 415.8 43 417 43.3 418.2 43.6 419.4 43.8 420.6 44 421.8 44.2 423 44.4 424.2 44.6 425.4 44.6 426.6 44.5 427.8 44.3 429 44.2 430.2 44.3 431.4 44.5 432.6 43.9 433.8 42.6 435 40.9 436.2 39.4 437.4 39.3 438.6 40.6 439.8 42 441 42.7 442.2 43.1 443.4 42.9 444.6 42.4" stroke="#e377c2" stroke-width="0.70" fill="none" stroke-linejoin="round"/>
<path d="M271.5 84.8 272 78.2 272.5 72.6 272.9 67.9 273.4 63.9 273.9 60.4 274.4 57.5 274.9 55 275.3 52.9 275.8 51.1 276.3 49.6 276.8 48.3 277.3 47.1 277.8 46.2 278.2 45.4 278.7 44.7 279.2 44.1 279.7 43.6 280.2 43.2 280.6 42.9 281.1 42.6 281.6 42.3 282.1 42.1 282.6 41.9 283 41.7 283.5 41.6 284 41.5 284.5 41.4 285 41.3 285.4 41.2 285.9 41.1 287.9 40.9 293.6 40.7 299.4 40.5 305.2 40.3 310.9 40.2 316.7 40.1 322.5 40.1 328.2 40.2 334 40.3 339.8 40.5 345.6 40.7 351.3 40.9 357.1 41.1 362.9 41.2 365.3 41.1 366.5 40.9 367.7 40.8 368.9 40.6 370.1 40.3 371.3 40 372.5 39.6 373.7 39.2 374.9 38.8 376.1 38.4 377.3 38 378.5 37.6 379.7 37.4 380.9 37.3 382.1 37.4 383.3 37.7 384.5 38.1 385.7 38.5 386.9 39 388.1 39.5 389.3 40 390.5 40.7 391.7 41.8 392.9 43.4 394.1 45.6 395.3 47.9 396.5 50.3 397.7 52.4 398.9 54.1 400.1 55.5 401.3 56.3 402.5 56.6 403.7 56.2 404.9 55.3 406.2 54.1 407.4 52.6 408.6 51 409.8 49.3 411 47.7 412.2 46.2 413.4 44.8 414.6 43.5 415.8 42.4 417 41.5 418.2 40.7 419.4 40 420.6 39.3 421.8 38.6 423 37.9 424.2 37.3 425.4 37.1 426.6 37.5 427.8 38.7 429 40.1 430.2 41.1 431.4 42.2 432.6 46 433.8 54 435 64 436.2 72.3 437.4 73 438.6 65.6 439.8 56.3 441 49.1 442.2 44.6 443.4 42.5 444.6 41.5" stroke="#7f7f7f" stroke-width="0.70" fill="none" stroke-linejoin="round"/>
<path d="M271.5 50.9 272 49.2 272.5 47.8 272.9 46.6 273.4 45.6 273.9 44.8 274.4 44 274.9 43.4 275.3 42.9 275.8 42.5 276.3 42.1 276.8 41.8 277.3 41.5 277.8 41.3 278.2 41.1 278.7 40.9 279.2 40.8 279.7 40.7 280.2 40.6 280.6 40.5 281.1 40.4 281.6 40.3 282.1 40.3 282.6 40.2 283 40.2 283.5 40.2 284 40.1 284.5 40.1 285 40.1 285.4 40.1 285.9 40 287.9 40 293.6 39.8 299.4 39.7 305.2 39.6 310.9 39.5 316.7 39.4 322.5 39.4 328.2 39.5 334 39.6 339.8 39.8 345.6 40 351.3 40.1 357.1 40.2 362.9 40.3 365.3 40.7 366.5 40.9 367.7 41.3 368.9 41.7 370.1 42.3 371.3 42.8 372.5 43.4 373.7 44.1 374.9 44.7 376.1 45.3 377.3 45.9 378.5 46.3 379.7 46.6 380.9 46.7 382.1 46.6 383.3 46.1 384.5 45.4 385.7 44.5 386.9 43.5 388.1 42.4 389.3 41.4 390.5 40.3 391.7 38.9 392.9 37.1 394.1 34.8 395.3 32.4 396.5 30 397.7 27.9 398.9 26.1 400.1 24.8 401.3 24 402.5 23.8 403.7 24.1 404.9 25 406.2 26.2 407.4 27.7 408.6 29.3 409.8 31 411 32.6 412.2 34.1 413.4 35.6 414.6 36.9 415.8 38.1 417 39.1 418.2 40 419.4 40.9 420.6 41.7 421.8 42.7 423 43.6 424.2 44.4 425.4 44.7 426.6 44.5 427.8 43.6 429 42.7 430.2 42.4 431.4 42.2 432.6 39 433.8 32 435 23 436.2 15.5 437.4 14.9 438.6 21.8 439.8 30.1 441 35.9 442.2 39.3 443.4 40.3 444.6 40.2" stroke="#bcbd22" stroke-width="0.70" fill="none" stroke-linejoin="round"/>
<path d="M271.5 28.4 272 29.9 272.5 31.2 272.9 32.3 273.4 33.2 273.9 34 274.4 34.7 274.9 35.3 275.3 35.8 275.8 36.2 276.3 36.6 276.8 36.9 277.3 37.2 277.8 37.5 278.2 37.7 278.7 37.8 279.2 38 279.7 38.1 280.2 38.2 280.6 38.3 281.1 38.4 281.6 38.5 282.1 38.6 282.6 38.6 283 38.7 283.5 38.7 284 38.8 284.5 38.8 285 38.8 285.4 38.8 285.9 38.9 287.9 38.9 293.6 38.9 299.4 38.7 305.2 38.5 310.9 38.2 316.7 38.1 322.5 38.1 328.2 38.3 334 38.5 339.8 38.7 345.6 38.9 351.3 39 357.1 39.1 362.9 39 365.3 38.9 366.5 38.8 367.7 38.7 368.9 38.5 370.1 38.3 371.3 38 372.5 37.7 373.7 37.4 374.9 37.1 376.1 36.8 377.3 36.5 378.5 36.2 379.7 36 380.9 36 382.1 36.1 383.3 36.3 384.5 36.5 385.7 36.8 386.9 37.2 388.1 37.5 389.3 37.8 390.5 38.3 391.7 39.2 392.9 40.4 394.1 42.1 395.3 43.9 396.5 45.7 397.7 47.3 398.9 48.6 400.1 49.7 401.3 50.3 402.5 50.5 403.7 50.2 404.9 49.6 406.2 48.6 407.4 47.5 408.6 46.2 409.8 45 411 43.7 412.2 42.6 413.4 41.5 414.6 40.6 415.8 39.8 417 39.1 418.2 38.5 419.4 38 420.6 37.4 421.8 36.9 423 36.4 424.2 35.9 425.4 35.8 426.6 36.1 427.8 37 429 38.2 430.2 39 431.4 39.9 432.6 42.9 433.8 49.1 435 56.9 436.2 63.4 437.4 63.9 438.6 58.2 439.8 51 441 45.4 442.2 41.8 443.4 40 444.6 39" stroke="#17becf" stroke-width="0.70" fill="none" stroke-linejoin="round"/>
<path d="M499.3 44.3 499.8 43.8 500.3 43.3 500.7 42.9 501.2 42.6 501.7 42.3 502.2 42.1 502.7 41.8 503.2 41.6 503.6 41.5 504.1 41.3 504.6 41.2 505.1 41.1 505.6 41 506.1 40.9 506.5 40.8 507 40.7 507.5 40.7 508 40.6 508.5 40.6 508.9 40.5 509.4 40.5 509.9 40.5 510.4 40.4 510.9 40.4 511.4 40.4 511.8 40.4 512.3 40.4 512.8 40.4 513.3 40.3 513.8 40.3 515.7 40.3 521.5 40.3 527.3 40.4 533.1 40.4 538.8 40.4 544.6 40.4 550.4 40.3 556.2 40.3 562 40.3 567.8 40.3 573.6 40.3 579.4 40.3 585.1 40.3 590.9 40.3 593.3 40.2 594.6 40.2 595.8 40.1 597 40 598.2 39.9 599.4 39.7 600.6 39.6 601.8 39.4 603 39.3 604.2 39.1 605.4 39 606.6 38.9 607.8 38.8 609 38.8 610.2 38.8 611.4 38.9 612.6 39 613.8 39.2 615.1 39.4 616.3 39.6 617.5 39.8 618.7 40 619.9 40.2 621.1 40.5 622.3 40.9 623.5 41.2 624.7 41.6 625.9 41.9 627.1 42.1 628.3 42.3 629.5 42.4 630.7 42.4 631.9 42.3 633.1 42.2 634.3 42.1 635.5 41.9 636.8 41.6 638 41.4 639.2 41.2 640.4 40.9 641.6 40.7 642.8 40.6 644 40.4 645.2 40.3 646.4 40.2 647.6 40.1 648.8 40 650 39.9 651.2 39.8 652.4 39.7 653.6 39.7 654.8 39.8 656 40 657.3 40.1 658.5 40.1 659.7 40.1 660.9 40.8 662.1 42.3 663.3 44 664.5 45 665.7 44.7 666.9 43.6 668.1 42.4 669.3 41.4 670.5 40.7 671.7 40.4 672.9 40.2" stroke="#1f77b4" stroke-width="0.60" fill="none" stroke-linejoin="round"/>
<path d="M499.3 40.7 499.8 40.7 500.3 40.7 500.7 40.7 501.2 40.7 501.7 40.6 502.2 40.6 502.7 40.6 503.2 40.6 503.6 40.6 504.1 40.6 504.6 40.6 505.1 40.6 505.6 40.6 506.1 40.6 506.5 40.6 507 40.6 507.5 40.6 508 40.6 508.5 40.6 508.9 40.6 509.4 40.6 509.9 40.6 510.4 40.6 510.9 40.6 511.4 40.6 511.8 40.6 512.3 40.6 512.8 40.6 513.3 40.6 513.8 40.6 515.7 40.6 521.5 40.6 527.3 40.5 533.1 40.5 538.8 40.5 544.6 40.5 550.4 40.5 556.2 40.6 562 40.6 567.8 40.6 573.6 40.6 579.4 40.6 585.1 40.5 590.9 40.5 593.3 40.4 594.6 40.4 595.8 40.3 597 40.2 598.2 40.1 599.4 39.9 600.6 39.8 601.8 39.7 603 39.5 604.2 39.4 605.4 39.3 606.6 39.2 607.8 39.1 609 39.1 610.2 39.1 611.4 39.2 612.6 39.4 613.8 39.5 615.1 39.7 616.3 39.9 617.5 40.1 618.7 40.3 619.9 40.5 621.1 40.8 622.3 41.2 623.5 41.5 624.7 41.8 625.9 42.1 627.1 42.3 628.3 42.5 629.5 42.6 630.7 42.6 631.9 42.6 633.1 42.5 634.3 42.3 635.5 42.1 636.8 41.9 638 41.7 639.2 41.5 640.4 41.3 641.6 41.1 642.8 40.9 644 40.8 645.2 40.6 646.4 40.5 647.6 40.4 648.8 40.4 650 40.2 651.2 40.1 652.4 40 653.6 40 654.8 40.1 656 40.2 657.3 40.4 658.5 40.4 659.7 40.3 660.9 41 662.1 42.4 663.3 44 664.5 44.9 665.7 44.7 666.9 43.6 668.1 42.5 669.3 41.6 670.5 40.9 671.7 40.6 672.9 40.5" stroke="#ff7f0e" stroke-width="0.60" fill="none" stroke-linejoin="round"/>
<path d="M499.3 36.1 499.8 36.7 500.3 37.2 500.7 37.6 501.2 38 501.7 38.3 502.2 38.6 502.7 38.9 503.2 39.1 503.6 39.3 504.1 39.4 504.6 39.6 505.1 39.7 505.6 39.8 506.1 39.9 506.5 40 507 40.1 507.5 40.2 508 40.2 508.5 40.3 508.9 40.3 509.4 40.4 509.9 40.4 510.4 40.4 510.9 40.5 511.4 40.5 511.8 40.5 512.3 40.6 512.8 40.6 513.3 40.6 513.8 40.6 515.7 40.7 521.5 40.8 527.3 40.8 533.1 40.7 538.8 40.7 544.6 40.6 550.4 40.6 556.2 40.7 562 40.8 567.8 40.8 573.6 40.8 579.4 40.7 585.1 40.7 590.9 40.7 593.3 40.7 594.6 40.8 595.8 40.8 597 40.9 598.2 40.9 599.4 41 600.6 41.1 601.8 41.1 603 41.2 604.2 41.3 605.4 41.3 606.6 41.4 607.8 41.4 609 41.4 610.2 41.4 611.4 41.3 612.6 41.2 613.8 41.1 615.1 41 616.3 40.9 617.5 40.8 618.7 40.7 619.9 40.6 621.1 40.4 622.3 40.2 623.5 40 624.7 39.9 625.9 39.7 627.1 39.6 628.3 39.5 629.5 39.4 630.7 39.4 631.9 39.5 633.1 39.5 634.3 39.6 635.5 39.7 636.8 39.8 638 40 639.2 40.1 640.4 40.2 641.6 40.3 642.8 40.4 644 40.5 645.2 40.6 646.4 40.7 647.6 40.7 648.8 40.8 650 40.8 651.2 40.9 652.4 40.9 653.6 40.9 654.8 40.9 656 40.8 657.3 40.7 658.5 40.7 659.7 40.7 660.9 40.4 662.1 39.6 663.3 38.8 664.5 38.3 665.7 38.4 666.9 39 668.1 39.5 669.3 40 670.5 40.3 671.7 40.5 672.9 40.6" stroke="#2ca02c" stroke-width="0.60" fill="none" stroke-linejoin="round"/>
<path d="M499.3 43.1 499.8 42.8 500.3 42.5 500.7 42.2 501.2 42 501.7 41.8 502.2 41.6 502.7 41.5 503.2 41.3 503.6 41.2 504.1 41.1 504.6 41 505.1 40.9 505.6 40.9 506.1 40.8 506.5 40.8 507 40.7 507.5 40.7 508 40.6 508.5 40.6 508.9 40.6 509.4 40.6 509.9 40.5 510.4 40.5 510.9 40.5 511.4 40.5 511.8 40.5 512.3 40.5 512.8 40.4 513.3 40.4 513.8 40.4 515.7 40.4 521.5 40.4 527.3 40.4 533.1 40.4 538.8 40.4 544.6 40.4 550.4 40.4 556.2 40.4 562 40.4 567.8 40.4 573.6 40.4 579.4 40.4 585.1 40.4 590.9 40.4 593.3 40.5 594.6 40.5 595.8 40.6 597 40.6 598.2 40.7 599.4 40.7 600.6 40.8 601.8 40.9 603 41 604.2 41 605.4 41.1 606.6 41.2 607.8 41.2 609 41.2 610.2 41.1 611.4 41.1 612.6 41 613.8 40.8 615.1 40.7 616.3 40.6 617.5 40.4 618.7 40.3 619.9 40.1 621.1 39.9 622.3 39.6 623.5 39.4 624.7 39.2 625.9 39 627.1 38.8 628.3 38.7 629.5 38.6 630.7 38.6 631.9 38.6 633.1 38.7 634.3 38.8 635.5 39 636.8 39.1 638 39.3 639.2 39.5 640.4 39.6 641.6 39.7 642.8 39.9 644 40 645.2 40.1 646.4 40.1 647.6 40.2 648.8 40.3 650 40.4 651.2 40.4 652.4 40.5 653.6 40.5 654.8 40.5 656 40.4 657.3 40.3 658.5 40.3 659.7 40.3 660.9 39.9 662.1 38.8 663.3 37.6 664.5 36.9 665.7 37.1 666.9 37.9 668.1 38.7 669.3 39.4 670.5 39.8 671.7 40.1 672.9 40.3" stroke="#d62728" stroke-width="0.60" fill="none" stroke-linejoin="round"/>
<path d="M499.3 44 499.8 43.7 500.3 43.4 500.7 43.1 501.2 42.8 501.7 42.6 502.2 42.4 502.7 42.3 503.2 42.1 503.6 42 504.1 41.9 504.6 41.8 505.1 41.7 505.6 41.6 506.1 41.6 506.5 41.5 507 41.5 507.5 41.4 508 41.4 508.5 41.4 508.9 41.3 509.4 41.3 509.9 41.3 510.4 41.2 510.9 41.2 511.4 41.2 511.8 41.2 512.3 41.2 512.8 41.2 513.3 41.2 513.8 41.1 515.7 41.1 521.5 41.1 527.3 41.1 533.1 41.1 538.8 41.2 544.6 41.2 550.4 41.2 556.2 41.2 562 41.1 567.8 41.1 573.6 41.1 579.4 41.1 585.1 41.1 590.9 41.1 593.3 41.1 594.6 41.1 595.8 41 597 41 598.2 41 599.4 40.9 600.6 40.8 601.8 40.8 603 40.7 604.2 40.7 605.4 40.6 606.6 40.6 607.8 40.5 609 40.5 610.2 40.5 611.4 40.6 612.6 40.7 613.8 40.7 615.1 40.8 616.3 40.9 617.5 41 618.7 41.1 619.9 41.3 621.1 41.4 622.3 41.6 623.5 41.8 624.7 41.9 625.9 42.1 627.1 42.2 628.3 42.3 629.5 42.4 630.7 42.4 631.9 42.4 633.1 42.3 634.3 42.2 635.5 42.1 636.8 42 638 41.9 639.2 41.8 640.4 41.7 641.6 41.6 642.8 41.5 644 41.4 645.2 41.4 646.4 41.3 647.6 41.3 648.8 41.2 650 41.1 651.2 41.1 652.4 41 653.6 41 654.8 41 656 41.1 657.3 41.2 658.5 41.2 659.7 41.1 660.9 41.5 662.1 42.2 663.3 43.1 664.5 43.6 665.7 43.4 666.9 42.9 668.1 42.3 669.3 41.8 670.5 41.4 671.7 41.2 672.9 41.1" stroke="#9467bd" stroke-width="0.60" fill="none" stroke-linejoin="round"/>
<path d="M499.3 37.9 499.8 38.4 500.3 38.8 500.7 39.1 501.2 39.4 501.7 39.7 502.2 39.9 502.7 40.1 503.2 40.3 503.6 40.5 504.1 40.6 504.6 40.7 505.1 40.8 505.6 40.9 506.1 41 506.5 41 507 41.1 507.5 41.2 508 41.2 508.5 41.2 508.9 41.3 509.4 41.3 509.9 41.3 510.4 41.3 510.9 41.4 511.4 41.4 511.8 41.4 512.3 41.4 512.8 41.4 513.3 41.4 513.8 41.4 515.7 41.5 521.5 41.5 527.3 41.6 533.1 41.6 538.8 41.6 544.6 41.6 550.4 41.6 556.2 41.5 562 41.5 567.8 41.6 573.6 41.6 579.4 41.6 585.1 41.6 590.9 41.6 593.3 41.6 594.6 41.6 595.8 41.7 597 41.7 598.2 41.8 599.4 41.9 600.6 42 601.8 42.1 603 42.2 604.2 42.3 605.4 42.4 606.6 42.5 607.8 42.5 609 42.6 610.2 42.6 611.4 42.5 612.6 42.4 613.8 42.3 615.1 42.2 616.3 42.1 617.5 42 618.7 41.9 619.9 41.7 621.1 41.5 622.3 41.3 623.5 41.1 624.7 40.9 625.9 40.7 627.1 40.6 628.3 40.5 629.5 40.4 630.7 40.4 631.9 40.4 633.1 40.5 634.3 40.6 635.5 40.7 636.8 40.8 638 41 639.2 41.1 640.4 41.3 641.6 41.4 642.8 41.5 644 41.6 645.2 41.7 646.4 41.7 647.6 41.8 648.8 41.8 650 41.9 651.2 42 652.4 42 653.6 42.1 654.8 42 656 41.9 657.3 41.8 658.5 41.9 659.7 41.9 660.9 41.5 662.1 40.5 663.3 39.5 664.5 38.9 665.7 39 666.9 39.8 668.1 40.5 669.3 41.1 670.5 41.5 671.7 41.6 672.9 41.7" stroke="#8c564b" stroke-width="0.60" fill="none" stroke-linejoin="round"/>
<path d="M499.3 41.6 499.8 41.5 500.3 41.4 500.7 41.3 501.2 41.3 501.7 41.2 502.2 41.2 502.7 41.1 503.2 41.1 503.6 41 504.1 41 504.6 41 505.1 40.9 505.6 40.9 506.1 40.9 506.5 40.9 507 40.9 507.5 40.9 508 40.8 508.5 40.8 508.9 40.8 509.4 40.8 509.9 40.8 510.4 40.8 510.9 40.8 511.4 40.8 511.8 40.8 512.3 40.8 512.8 40.8 513.3 40.8 513.8 40.8 515.7 40.8 521.5 40.8 527.3 40.8 533.1 40.8 538.8 40.8 544.6 40.8 550.4 40.8 556.2 40.8 562 40.8 567.8 40.8 573.6 40.8 579.4 40.8 585.1 40.8 590.9 40.8 593.3 40.9 594.6 41 595.8 41 597 41.1 598.2 41.2 599.4 41.3 600.6 41.4 601.8 41.6 603 41.7 604.2 41.8 605.4 41.9 606.6 42 607.8 42 609 42 610.2 42 611.4 41.9 612.6 41.8 613.8 41.6 615.1 41.4 616.3 41.2 617.5 41 618.7 40.8 619.9 40.6 621.1 40.3 622.3 40 623.5 39.7 624.7 39.4 625.9 39.1 627.1 38.9 628.3 38.7 629.5 38.6 630.7 38.6 631.9 38.6 633.1 38.7 634.3 38.9 635.5 39.1 636.8 39.3 638 39.5 639.2 39.7 640.4 39.9 641.6 40.1 642.8 40.3 644 40.4 645.2 40.6 646.4 40.7 647.6 40.7 648.8 40.8 650 40.9 651.2 41 652.4 41.1 653.6 41.1 654.8 41.1 656 40.9 657.3 40.8 658.5 40.8 659.7 40.8 660.9 40.2 662.1 38.8 663.3 37.3 664.5 36.3 665.7 36.6 666.9 37.6 668.1 38.7 669.3 39.6 670.5 40.2 671.7 40.6 672.9 40.8" stroke="#e377c2" stroke-width="0.60" fill="none" stroke-linejoin="round"/>
<path d="M499.3 36.9 499.8 37.5 500.3 38 500.7 38.5 501.2 38.9 501.7 39.2 502.2 39.5 502.7 39.8 503.2 40 503.6 40.2 504.1 40.4 504.6 40.6 505.1 40.7 505.6 40.8 506.1 40.9 506.5 41 507 41.1 507.5 41.2 508 41.2 508.5 41.3 508.9 41.3 509.4 41.4 509.9 41.4 510.4 41.4 510.9 41.4 511.4 41.5 511.8 41.5 512.3 41.5 512.8 41.5 513.3 41.5 513.8 41.5 515.7 41.5 521.5 41.4 527.3 41.4 533.1 41.4 538.8 41.5 544.6 41.6 550.4 41.6 556.2 41.6 562 41.6 567.8 41.5 573.6 41.5 579.4 41.5 585.1 41.5 590.9 41.5 593.3 41.5 594.6 41.5 595.8 41.6 597 41.6 598.2 41.6 599.4 41.7 600.6 41.7 601.8 41.7 603 41.8 604.2 41.8 605.4 41.9 606.6 41.9 607.8 41.9 609 42 610.2 42 611.4 42 612.6 41.9 613.8 41.9 615.1 41.9 616.3 41.9 617.5 41.9 618.7 41.8 619.9 41.8 621.1 41.7 622.3 41.7 623.5 41.6 624.7 41.6 625.9 41.5 627.1 41.5 628.3 41.5 629.5 41.4 630.7 41.4 631.9 41.4 633.1 41.4 634.3 41.4 635.5 41.5 636.8 41.5 638 41.5 639.2 41.5 640.4 41.5 641.6 41.6 642.8 41.6 644 41.6 645.2 41.6 646.4 41.6 647.6 41.6 648.8 41.7 650 41.7 651.2 41.7 652.4 41.7 653.6 41.7 654.8 41.7 656 41.7 657.3 41.7 658.5 41.7 659.7 41.7 660.9 41.7 662.1 41.5 663.3 41.2 664.5 41.1 665.7 41.2 666.9 41.3 668.1 41.5 669.3 41.7 670.5 41.8 671.7 41.8 672.9 41.7" stroke="#7f7f7f" stroke-width="0.60" fill="none" stroke-linejoin="round"/>
<path d="M499.3 37.4 499.8 37.9 500.3 38.3 500.7 38.7 501.2 39.1 501.7 39.4 502.2 39.6 502.7 39.9 503.2 40.1 503.6 40.2 504.1 40.4 504.6 40.5 505.1 40.7 505.6 40.8 506.1 40.8 506.5 40.9 507 41 507.5 41.1 508 41.1 508.5 41.2 508.9 41.2 509.4 41.2 509.9 41.3 510.4 41.3 510.9 41.3 511.4 41.3 511.8 41.4 512.3 41.4 512.8 41.4 513.3 41.4 513.8 41.4 515.7 41.4 521.5 41.5 527.3 41.5 533.1 41.4 538.8 41.4 544.6 41.4 550.4 41.4 556.2 41.4 562 41.4 567.8 41.5 573.6 41.5 579.4 41.5 585.1 41.5 590.9 41.5 593.3 41.6 594.6 41.6 595.8 41.7 597 41.7 598.2 41.8 599.4 41.9 600.6 42 601.8 42.1 603 42.2 604.2 42.3 605.4 42.4 606.6 42.5 607.8 42.5 609 42.6 610.2 42.5 611.4 42.5 612.6 42.4 613.8 42.2 615.1 42.1 616.3 42 617.5 41.8 618.7 41.7 619.9 41.5 621.1 41.3 622.3 41.1 623.5 40.8 624.7 40.6 625.9 40.4 627.1 40.2 628.3 40.1 629.5 40 630.7 40 631.9 40.1 633.1 40.2 634.3 40.3 635.5 40.4 636.8 40.6 638 40.8 639.2 40.9 640.4 41.1 641.6 41.2 642.8 41.4 644 41.5 645.2 41.6 646.4 41.6 647.6 41.7 648.8 41.7 650 41.8 651.2 41.9 652.4 42 653.6 42 654.8 41.9 656 41.8 657.3 41.7 658.5 41.7 659.7 41.7 660.9 41.2 662.1 40.2 663.3 39 664.5 38.3 665.7 38.5 666.9 39.3 668.1 40.1 669.3 40.8 670.5 41.2 671.7 41.4 672.9 41.5" stroke="#bcbd22" stroke-width="0.60" fill="none" stroke-linejoin="round"/>
<path d="M499.3 45.4 499.8 44.8 500.3 44.3 500.7 43.9 501.2 43.5 501.7 43.1 502.2 42.8 502.7 42.6 503.2 42.4 503.6 42.2 504.1 42 504.6 41.8 505.1 41.7 505.6 41.6 506.1 41.5 506.5 41.4 507 41.3 507.5 41.3 508 41.2 508.5 41.1 508.9 41.1 509.4 41.1 509.9 41 510.4 41 510.9 41 511.4 41 511.8 40.9 512.3 40.9 512.8 40.9 513.3 40.9 513.8 40.9 515.7 40.9 521.5 40.8 527.3 40.8 533.1 40.7 538.8 40.7 544.6 40.7 550.4 40.8 556.2 40.9 562 40.9 567.8 40.8 573.6 40.8 579.4 40.7 585.1 40.7 590.9 40.7 593.3 40.7 594.6 40.7 595.8 40.7 597 40.6 598.2 40.6 599.4 40.5 600.6 40.5 601.8 40.4 603 40.3 604.2 40.3 605.4 40.2 606.6 40.1 607.8 40.1 609 40.1 610.2 40.1 611.4 40.2 612.6 40.2 613.8 40.3 615.1 40.4 616.3 40.5 617.5 40.6 618.7 40.7 619.9 40.8 621.1 41 622.3 41.1 623.5 41.3 624.7 41.5 625.9 41.6 627.1 41.8 628.3 41.8 629.5 41.9 630.7 41.9 631.9 41.9 633.1 41.8 634.3 41.8 635.5 41.7 636.8 41.5 638 41.4 639.2 41.3 640.4 41.2 641.6 41.1 642.8 41 644 40.9 645.2 40.8 646.4 40.8 647.6 40.7 648.8 40.6 650 40.6 651.2 40.5 652.4 40.5 653.6 40.5 654.8 40.5 656 40.6 657.3 40.6 658.5 40.6 659.7 40.6 660.9 41 662.1 41.7 663.3 42.6 664.5 43.1 665.7 43 666.9 42.4 668.1 41.9 669.3 41.4 670.5 41.1 671.7 40.9 672.9 40.8" stroke="#17becf" stroke-width="0.60" fill="none" stroke-linejoin="round"/>
<path d="M499.3 42 499.8 41.9 500.3 41.7 500.7 41.6 501.2 41.5 501.7 41.4 502.2 41.3 502.7 41.2 503.2 41.2 503.6 41.1 504.1 41.1 504.6 41 505.1 41 505.6 41 506.1 40.9 506.5 40.9 507 40.9 507.5 40.9 508 40.9 508.5 40.8 508.9 40.8 509.4 40.8 509.9 40.8 510.4 40.8 510.9 40.8 511.4 40.8 511.8 40.8 512.3 40.8 512.8 40.8 513.3 40.8 513.8 40.8 515.7 40.8 521.5 40.9 527.3 40.9 533.1 40.9 538.8 40.9 544.6 40.8 550.4 40.7 556.2 40.7 562 40.7 567.8 40.8 573.6 40.8 579.4 40.9 585.1 40.9 590.9 40.9 593.3 40.9 594.6 41 595.8 41 597 41 598.2 41 599.4 41.1 600.6 41.1 601.8 41.2 603 41.2 604.2 41.3 605.4 41.3 606.6 41.3 607.8 41.3 609 41.3 610.2 41.3 611.4 41.2 612.6 41.2 613.8 41.1 615.1 41 616.3 40.9 617.5 40.8 618.7 40.7 619.9 40.6 621.1 40.5 622.3 40.3 623.5 40.2 624.7 40.1 625.9 39.9 627.1 39.8 628.3 39.8 629.5 39.7 630.7 39.7 631.9 39.8 633.1 39.8 634.3 39.9 635.5 40 636.8 40.1 638 40.3 639.2 40.4 640.4 40.5 641.6 40.6 642.8 40.7 644 40.7 645.2 40.8 646.4 40.8 647.6 40.9 648.8 40.9 650 40.9 651.2 41 652.4 41 653.6 41 654.8 41 656 40.9 657.3 40.8 658.5 40.8 659.7 40.8 660.9 40.5 662.1 39.8 663.3 39.1 664.5 38.6 665.7 38.7 666.9 39.2 668.1 39.7 669.3 40.2 670.5 40.4 671.7 40.6 672.9 40.7" stroke="#1f77b4" stroke-width="0.60" fill="none" stroke-linejoin="round"/>
<path d="M499.3 41.1 499.8 41.1 500.3 41 500.7 41 501.2 40.9 501.7 40.9 502.2 40.9 502.7 40.8 503.2 40.8 503.6 40.8 504.1 40.8 504.6 40.7 505.1 40.7 505.6 40.7 506.1 40.7 506.5 40.7 507 40.7 507.5 40.7 508 40.7 508.5 40.7 508.9 40.7 509.4 40.7 509.9 40.7 510.4 40.7 510.9 40.7 511.4 40.6 511.8 40.6 512.3 40.6 512.8 40.6 513.3 40.6 513.8 40.7 515.7 40.7 521.5 40.7 527.3 40.7 533.1 40.7 538.8 40.7 544.6 40.7 550.4 40.7 556.2 40.6 562 40.6 567.8 40.6 573.6 40.7 579.4 40.7 585.1 40.7 590.9 40.7 593.3 40.6 594.6 40.5 595.8 40.5 597 40.4 598.2 40.3 599.4 40.1 600.6 40 601.8 39.9 603 39.7 604.2 39.6 605.4 39.5 606.6 39.4 607.8 39.3 609 39.3 610.2 39.4 611.4 39.4 612.6 39.6 613.8 39.7 615.1 39.9 616.3 40.1 617.5 40.3 618.7 40.5 619.9 40.7 621.1 41 622.3 41.3 623.5 41.6 624.7 42 625.9 42.2 627.1 42.4 628.3 42.6 629.5 42.7 630.7 42.7 631.9 42.7 633.1 42.6 634.3 42.4 635.5 42.2 636.8 42 638 41.8 639.2 41.6 640.4 41.4 641.6 41.2 642.8 41 644 40.9 645.2 40.8 646.4 40.7 647.6 40.6 648.8 40.5 650 40.4 651.2 40.3 652.4 40.2 653.6 40.2 654.8 40.3 656 40.4 657.3 40.6 658.5 40.5 659.7 40.5 660.9 41.1 662.1 42.5 663.3 44.1 664.5 45 665.7 44.8 666.9 43.7 668.1 42.6 669.3 41.7 670.5 41.1 671.7 40.8 672.9 40.6" stroke="#ff7f0e" stroke-width="0.60" fill="none" stroke-linejoin="round"/>
<path d="M499.3 46.1 499.8 45.4 500.3 44.8 500.7 44.3 501.2 43.9 501.7 43.5 502.2 43.1 502.7 42.8 503.2 42.5 503.6 42.3 504.1 42.1 504.6 41.9 505.1 41.8 505.6 41.6 506.1 41.5 506.5 41.4 507 41.3 507.5 41.2 508 41.2 508.5 41.1 508.9 41 509.4 41 509.9 40.9 510.4 40.9 510.9 40.9 511.4 40.8 511.8 40.8 512.3 40.8 512.8 40.8 513.3 40.7 513.8 40.7 515.7 40.7 521.5 40.6 527.3 40.6 533.1 40.6 538.8 40.7 544.6 40.7 550.4 40.7 556.2 40.7 562 40.7 567.8 40.7 573.6 40.7 579.4 40.7 585.1 40.6 590.9 40.6 593.3 40.6 594.6 40.6 595.8 40.5 597 40.5 598.2 40.5 599.4 40.4 600.6 40.4 601.8 40.4 603 40.3 604.2 40.3 605.4 40.3 606.6 40.2 607.8 40.2 609 40.2 610.2 40.2 611.4 40.3 612.6 40.3 613.8 40.4 615.1 40.4 616.3 40.5 617.5 40.5 618.7 40.6 619.9 40.7 621.1 40.8 622.3 40.9 623.5 41 624.7 41 625.9 41.1 627.1 41.2 628.3 41.2 629.5 41.3 630.7 41.3 631.9 41.3 633.1 41.2 634.3 41.2 635.5 41.1 636.8 41.1 638 41 639.2 40.9 640.4 40.9 641.6 40.8 642.8 40.7 644 40.7 645.2 40.7 646.4 40.6 647.6 40.6 648.8 40.6 650 40.5 651.2 40.5 652.4 40.5 653.6 40.5 654.8 40.5 656 40.5 657.3 40.6 658.5 40.5 659.7 40.5 660.9 40.7 662.1 41.1 663.3 41.6 664.5 41.8 665.7 41.8 666.9 41.5 668.1 41.1 669.3 40.9 670.5 40.7 671.7 40.6 672.9 40.6" stroke="#2ca02c" stroke-width="0.60" fill="none" stroke-linejoin="round"/>
<path d="M499.3 47.8 499.8 47 500.3 46.3 500.7 45.7 501.2 45.1 501.7 44.6 502.2 44.2 502.7 43.8 503.2 43.5 503.6 43.2 504.1 43 504.6 42.8 505.1 42.6 505.6 42.4 506.1 42.2 506.5 42.1 507 42 507.5 41.9 508 41.8 508.5 41.7 508.9 41.7 509.4 41.6 509.9 41.5 510.4 41.5 510.9 41.5 511.4 41.4 511.8 41.4 512.3 41.4 512.8 41.3 513.3 41.3 513.8 41.3 515.7 41.2 521.5 41.2 527.3 41.2 533.1 41.3 538.8 41.3 544.6 41.2 550.4 41.1 556.2 41.1 562 41.2 567.8 41.2 573.6 41.3 579.4 41.3 585.1 41.2 590.9 41.2 593.3 41.3 594.6 41.4 595.8 41.4 597 41.5 598.2 41.6 599.4 41.8 600.6 41.9 601.8 42.1 603 42.2 604.2 42.4 605.4 42.5 606.6 42.6 607.8 42.7 609 42.7 610.2 42.7 611.4 42.6 612.6 42.5 613.8 42.3 615.1 42.1 616.3 41.9 617.5 41.7 618.7 41.5 619.9 41.2 621.1 40.9 622.3 40.5 623.5 40.1 624.7 39.8 625.9 39.5 627.1 39.2 628.3 39 629.5 38.9 630.7 38.9 631.9 38.9 633.1 39 634.3 39.2 635.5 39.4 636.8 39.7 638 39.9 639.2 40.2 640.4 40.4 641.6 40.6 642.8 40.8 644 41 645.2 41.1 646.4 41.3 647.6 41.4 648.8 41.5 650 41.6 651.2 41.7 652.4 41.8 653.6 41.8 654.8 41.8 656 41.6 657.3 41.4 658.5 41.5 659.7 41.5 660.9 40.8 662.1 39.2 663.3 37.4 664.5 36.4 665.7 36.6 666.9 37.8 668.1 39 669.3 40 670.5 40.7 671.7 41 672.9 41.2" stroke="#d62728" stroke-width="0.60" fill="none" stroke-linejoin="round"/>
<path d="M499.3 38.5 499.8 38.8 500.3 39 500.7 39.2 501.2 39.4 501.7 39.6 502.2 39.7 502.7 39.8 503.2 39.9 503.6 40 504.1 40.1 504.6 40.2 505.1 40.2 505.6 40.3 506.1 40.3 506.5 40.4 507 40.4 507.5 40.4 508 40.4 508.5 40.5 508.9 40.5 509.4 40.5 509.9 40.5 510.4 40.5 510.9 40.5 511.4 40.5 511.8 40.5 512.3 40.5 512.8 40.5 513.3 40.6 513.8 40.6 515.7 40.6 521.5 40.6 527.3 40.6 533.1 40.7 538.8 40.7 544.6 40.8 550.4 40.8 556.2 40.7 562 40.7 567.8 40.6 573.6 40.6 579.4 40.6 585.1 40.6 590.9 40.7 593.3 40.7 594.6 40.7 595.8 40.7 597 40.7 598.2 40.7 599.4 40.7 600.6 40.7 601.8 40.7 603 40.7 604.2 40.7 605.4 40.6 606.6 40.6 607.8 40.6 609 40.6 610.2 40.6 611.4 40.6 612.6 40.6 613.8 40.6 615.1 40.6 616.3 40.6 617.5 40.6 618.7 40.6 619.9 40.6 621.1 40.6 622.3 40.6 623.5 40.6 624.7 40.6 625.9 40.6 627.1 40.6 628.3 40.6 629.5 40.6 630.7 40.6 631.9 40.6 633.1 40.6 634.3 40.6 635.5 40.6 636.8 40.6 638 40.6 639.2 40.6 640.4 40.6 641.6 40.6 642.8 40.6 644 40.6 645.2 40.6 646.4 40.6 647.6 40.6 648.8 40.6 650 40.6 651.2 40.6 652.4 40.6 653.6 40.6 654.8 40.7 656 40.7 657.3 40.7 658.5 40.7 659.7 40.7 660.9 40.7 662.1 40.8 663.3 40.8 664.5 40.8 665.7 40.8 666.9 40.8 668.1 40.7 669.3 40.7 670.5 40.6 671.7 40.6 672.9 40.6" stroke="#9467bd" stroke-width="0.60" fill="none" stroke-linejoin="round"/>
<path d="M499.3 37.3 499.8 37.8 500.3 38.2 500.7 38.6 501.2 38.9 501.7 39.2 502.2 39.4 502.7 39.6 503.2 39.8 503.6 40 504.1 40.1 504.6 40.2 505.1 40.4 505.6 40.5 506.1 40.5 506.5 40.6 507 40.7 507.5 40.7 508 40.8 508.5 40.8 508.9 40.9 509.4 40.9 509.9 40.9 510.4 41 510.9 41 511.4 41 511.8 41 512.3 41.1 512.8 41.1 513.3 41.1 513.8 41.1 515.7 41.1 521.5 41.2 527.3 41.2 533.1 41.2 538.8 41.1 544.6 41.1 550.4 41.1 556.2 41.1 562 41.1 567.8 41.2 573.6 41.2 579.4 41.1 585.1 41.1 590.9 41.1 593.3 41 594.6 41 595.8 41 597 41 598.2 41 599.4 40.9 600.6 40.9 601.8 40.9 603 40.9 604.2 40.9 605.4 40.8 606.6 40.8 607.8 40.8 609 40.8 610.2 40.9 611.4 40.9 612.6 40.9 613.8 41 615.1 41.1 616.3 41.1 617.5 41.2 618.7 41.3 619.9 41.3 621.1 41.4 622.3 41.5 623.5 41.6 624.7 41.7 625.9 41.8 627.1 41.8 628.3 41.9 629.5 41.9 630.7 41.9 631.9 41.9 633.1 41.8 634.3 41.8 635.5 41.7 636.8 41.7 638 41.6 639.2 41.5 640.4 41.4 641.6 41.4 642.8 41.3 644 41.3 645.2 41.2 646.4 41.2 647.6 41.2 648.8 41.1 650 41.1 651.2 41.1 652.4 41 653.6 41 654.8 41 656 41.1 657.3 41.1 658.5 41.1 659.7 41.1 660.9 41.3 662.1 41.8 663.3 42.2 664.5 42.5 665.7 42.5 666.9 42.2 668.1 41.8 669.3 41.6 670.5 41.4 671.7 41.3 672.9 41.2" stroke="#8c564b" stroke-width="0.60" fill="none" stroke-linejoin="round"/>
<path d="M499.3 37.6 499.8 38 500.3 38.3 500.7 38.6 501.2 38.9 501.7 39.1 502.2 39.3 502.7 39.5 503.2 39.7 503.6 39.8 504.1 39.9 504.6 40 505.1 40.1 505.6 40.2 506.1 40.3 506.5 40.3 507 40.4 507.5 40.4 508 40.5 508.5 40.5 508.9 40.5 509.4 40.6 509.9 40.6 510.4 40.6 510.9 40.6 511.4 40.7 511.8 40.7 512.3 40.7 512.8 40.7 513.3 40.7 513.8 40.7 515.7 40.8 521.5 40.8 527.3 40.8 533.1 40.8 538.8 40.8 544.6 40.8 550.4 40.8 556.2 40.7 562 40.7 567.8 40.7 573.6 40.7 579.4 40.7 585.1 40.8 590.9 40.8 593.3 40.9 594.6 41 595.8 41.1 597 41.2 598.2 41.3 599.4 41.4 600.6 41.5 601.8 41.7 603 41.8 604.2 42 605.4 42.1 606.6 42.2 607.8 42.2 609 42.3 610.2 42.2 611.4 42.1 612.6 41.9 613.8 41.7 615.1 41.5 616.3 41.3 617.5 41.1 618.7 40.9 619.9 40.6 621.1 40.3 622.3 39.9 623.5 39.5 624.7 39.1 625.9 38.8 627.1 38.6 628.3 38.4 629.5 38.3 630.7 38.3 631.9 38.3 633.1 38.4 634.3 38.6 635.5 38.8 636.8 39.1 638 39.3 639.2 39.6 640.4 39.8 641.6 40 642.8 40.2 644 40.4 645.2 40.5 646.4 40.6 647.6 40.7 648.8 40.8 650 40.9 651.2 41 652.4 41.1 653.6 41.2 654.8 41.1 656 40.9 657.3 40.7 658.5 40.8 659.7 40.8 660.9 40.1 662.1 38.4 663.3 36.7 664.5 35.6 665.7 35.8 666.9 37.1 668.1 38.3 669.3 39.4 670.5 40.1 671.7 40.5 672.9 40.7" stroke="#e377c2" stroke-width="0.60" fill="none" stroke-linejoin="round"/>
<path d="M499.3 46.2 499.8 45.5 500.3 45 500.7 44.5 501.2 44.1 501.7 43.7 502.2 43.3 502.7 43.1 503.2 42.8 503.6 42.6 504.1 42.4 504.6 42.2 505.1 42.1 505.6 42 506.1 41.8 506.5 41.7 507 41.7 507.5 41.6 508 41.5 508.5 41.5 508.9 41.4 509.4 41.4 509.9 41.3 510.4 41.3 510.9 41.3 511.4 41.2 511.8 41.2 512.3 41.2 512.8 41.2 513.3 41.2 513.8 41.2 515.7 41.1 521.5 41.1 527.3 41.1 533.1 41.1 538.8 41.1 544.6 41.1 550.4 41.1 556.2 41.1 562 41.1 567.8 41.1 573.6 41.1 579.4 41.1 585.1 41.1 590.9 41.1 593.3 41 594.6 41 595.8 41 597 41 598.2 41 599.4 41 600.6 41 601.8 41 603 40.9 604.2 40.9 605.4 40.9 606.6 40.9 607.8 40.9 609 40.9 610.2 40.9 611.4 40.9 612.6 40.9 613.8 41 615.1 41 616.3 41.1 617.5 41.1 618.7 41.1 619.9 41.2 621.1 41.3 622.3 41.3 623.5 41.4 624.7 41.5 625.9 41.5 627.1 41.6 628.3 41.6 629.5 41.6 630.7 41.6 631.9 41.6 633.1 41.6 634.3 41.6 635.5 41.5 636.8 41.5 638 41.4 639.2 41.4 640.4 41.3 641.6 41.3 642.8 41.3 644 41.2 645.2 41.2 646.4 41.2 647.6 41.2 648.8 41.1 650 41.1 651.2 41.1 652.4 41.1 653.6 41.1 654.8 41.1 656 41.1 657.3 41.1 658.5 41.1 659.7 41.1 660.9 41.3 662.1 41.6 663.3 41.9 664.5 42.2 665.7 42.1 666.9 41.9 668.1 41.6 669.3 41.4 670.5 41.3 671.7 41.2 672.9 41.1" stroke="#7f7f7f" stroke-width="0.60" fill="none" stroke-linejoin="round"/>
<path d="M499.3 46.9 499.8 46.1 500.3 45.5 500.7 45 501.2 44.5 501.7 44.1 502.2 43.7 502.7 43.4 503.2 43.1 503.6 42.9 504.1 42.7 504.6 42.5 505.1 42.3 505.6 42.2 506.1 42 506.5 41.9 507 41.8 507.5 41.7 508 41.7 508.5 41.6 508.9 41.5 509.4 41.5 509.9 41.4 510.4 41.4 510.9 41.4 511.4 41.3 511.8 41.3 512.3 41.3 512.8 41.2 513.3 41.2 513.8 41.2 515.7 41.1 521.5 41 527.3 41 533.1 41 538.8 41 544.6 41.1 550.4 41.2 556.2 41.2 562 41.2 567.8 41.2 573.6 41.2 579.4 41.1 585.1 41 590.9 40.9 593.3 40.9 594.6 40.8 595.8 40.8 597 40.7 598.2 40.6 599.4 40.5 600.6 40.4 601.8 40.3 603 40.2 604.2 40.2 605.4 40.1 606.6 40 607.8 40 609 40 610.2 40.1 611.4 40.2 612.6 40.3 613.8 40.5 615.1 40.7 616.3 40.8 617.5 41 618.7 41.2 619.9 41.4 621.1 41.7 622.3 42 623.5 42.3 624.7 42.5 625.9 42.8 627.1 43 628.3 43.1 629.5 43.2 630.7 43.2 631.9 43.2 633.1 43.1 634.3 42.9 635.5 42.7 636.8 42.5 638 42.3 639.2 42.1 640.4 41.9 641.6 41.7 642.8 41.6 644 41.4 645.2 41.3 646.4 41.2 647.6 41.1 648.8 41 650 40.9 651.2 40.8 652.4 40.7 653.6 40.7 654.8 40.7 656 40.9 657.3 41 658.5 41 659.7 40.9 660.9 41.5 662.1 42.7 663.3 44.1 664.5 44.9 665.7 44.7 666.9 43.8 668.1 42.8 669.3 42.1 670.5 41.5 671.7 41.3 672.9 41.1" stroke="#bcbd22" stroke-width="0.60" fill="none" stroke-linejoin="round"/>
<path d="M499.3 38.7 499.8 39 500.3 39.2 500.7 39.4 501.2 39.6 501.7 39.8 502.2 39.9 502.7 40 503.2 40.1 503.6 40.2 504.1 40.3 504.6 40.4 505.1 40.5 505.6 40.5 506.1 40.6 506.5 40.6 507 40.6 507.5 40.7 508 40.7 508.5 40.7 508.9 40.7 509.4 40.7 509.9 40.8 510.4 40.8 510.9 40.8 511.4 40.8 511.8 40.8 512.3 40.8 512.8 40.8 513.3 40.8 513.8 40.8 515.7 40.8 521.5 40.8 527.3 40.8 533.1 40.8 538.8 40.9 544.6 40.9 550.4 40.9 556.2 40.9 562 40.8 567.8 40.8 573.6 40.8 579.4 40.8 585.1 40.9 590.9 40.9 593.3 41 594.6 41 595.8 41 597 41.1 598.2 41.1 599.4 41.2 600.6 41.2 601.8 41.2 603 41.3 604.2 41.3 605.4 41.4 606.6 41.4 607.8 41.4 609 41.4 610.2 41.4 611.4 41.3 612.6 41.3 613.8 41.2 615.1 41.1 616.3 41 617.5 40.9 618.7 40.8 619.9 40.7 621.1 40.6 622.3 40.4 623.5 40.3 624.7 40.2 625.9 40 627.1 39.9 628.3 39.9 629.5 39.8 630.7 39.8 631.9 39.9 633.1 39.9 634.3 40 635.5 40.1 636.8 40.2 638 40.3 639.2 40.4 640.4 40.5 641.6 40.6 642.8 40.7 644 40.8 645.2 40.8 646.4 40.9 647.6 40.9 648.8 41 650 41 651.2 41 652.4 41.1 653.6 41.1 654.8 41 656 41 657.3 40.9 658.5 40.9 659.7 40.9 660.9 40.6 662.1 39.9 663.3 39.2 664.5 38.8 665.7 38.9 666.9 39.4 668.1 39.9 669.3 40.3 670.5 40.5 671.7 40.7 672.9 40.8" stroke="#17becf" stroke-width="0.60" fill="none" stroke-linejoin="round"/>
<path d="M499.3 39.9 499.8 40 500.3 40 500.7 40.1 501.2 40.1 501.7 40.1 502.2 40.2 502.7 40.2 503.2 40.2 503.6 40.2 504.1 40.2 504.6 40.3 505.1 40.3 505.6 40.3 506.1 40.3 506.5 40.3 507 40.3 507.5 40.3 508 40.3 508.5 40.3 508.9 40.3 509.4 40.3 509.9 40.3 510.4 40.3 510.9 40.3 511.4 40.3 511.8 40.3 512.3 40.3 512.8 40.4 513.3 40.4 513.8 40.4 515.7 40.4 521.5 40.5 527.3 40.5 533.1 40.5 538.8 40.4 544.6 40.3 550.4 40.3 556.2 40.4 562 40.4 567.8 40.5 573.6 40.5 579.4 40.5 585.1 40.4 590.9 40.3 593.3 40.3 594.6 40.3 595.8 40.3 597 40.4 598.2 40.4 599.4 40.4 600.6 40.4 601.8 40.4 603 40.4 604.2 40.4 605.4 40.4 606.6 40.4 607.8 40.4 609 40.5 610.2 40.5 611.4 40.5 612.6 40.4 613.8 40.4 615.1 40.4 616.3 40.4 617.5 40.4 618.7 40.3 619.9 40.3 621.1 40.3 622.3 40.3 623.5 40.2 624.7 40.2 625.9 40.1 627.1 40.1 628.3 40.1 629.5 40.1 630.7 40.1 631.9 40.1 633.1 40 634.3 40.1 635.5 40.1 636.8 40.1 638 40.1 639.2 40.1 640.4 40.1 641.6 40.2 642.8 40.2 644 40.2 645.2 40.3 646.4 40.3 647.6 40.3 648.8 40.3 650 40.4 651.2 40.4 652.4 40.4 653.6 40.4 654.8 40.4 656 40.4 657.3 40.4 658.5 40.4 659.7 40.4 660.9 40.4 662.1 40.3 663.3 40.2 664.5 40.1 665.7 40.1 666.9 40.1 668.1 40.1 669.3 40.2 670.5 40.2 671.7 40.2 672.9 40.3" stroke="#1f77b4" stroke-width="0.60" fill="none" stroke-linejoin="round"/>
<path d="M499.3 43.3 499.8 43 500.3 42.8 500.7 42.6 501.2 42.4 501.7 42.2 502.2 42.1 502.7 42 503.2 41.9 503.6 41.8 504.1 41.7 504.6 41.6 505.1 41.6 505.6 41.5 506.1 41.5 506.5 41.4 507 41.4 507.5 41.4 508 41.3 508.5 41.3 508.9 41.3 509.4 41.3 509.9 41.3 510.4 41.2 510.9 41.2 511.4 41.2 511.8 41.2 512.3 41.2 512.8 41.2 513.3 41.2 513.8 41.1 515.7 41.1 521.5 41 527.3 41 533.1 41 538.8 41.1 544.6 41.1 550.4 41.1 556.2 41.1 562 41.1 567.8 41.1 573.6 41.1 579.4 41.1 585.1 41.1 590.9 41.1 593.3 41.1 594.6 41.1 595.8 41.2 597 41.2 598.2 41.3 599.4 41.3 600.6 41.4 601.8 41.5 603 41.5 604.2 41.6 605.4 41.7 606.6 41.7 607.8 41.7 609 41.8 610.2 41.7 611.4 41.7 612.6 41.6 613.8 41.6 615.1 41.5 616.3 41.4 617.5 41.3 618.7 41.2 619.9 41.1 621.1 41 622.3 40.8 623.5 40.7 624.7 40.5 625.9 40.4 627.1 40.3 628.3 40.2 629.5 40.1 630.7 40.1 631.9 40.1 633.1 40.2 634.3 40.3 635.5 40.3 636.8 40.4 638 40.5 639.2 40.6 640.4 40.7 641.6 40.8 642.8 40.9 644 41 645.2 41 646.4 41 647.6 41.1 648.8 41.1 650 41.2 651.2 41.2 652.4 41.3 653.6 41.3 654.8 41.3 656 41.2 657.3 41.1 658.5 41.2 659.7 41.2 660.9 40.9 662.1 40.2 663.3 39.5 664.5 39 665.7 39.1 666.9 39.7 668.1 40.2 669.3 40.6 670.5 40.9 671.7 41.1 672.9 41.2" stroke="#ff7f0e" stroke-width="0.60" fill="none" stroke-linejoin="round"/>
<path d="M499.3 44.9 499.8 44.5 500.3 44.1 500.7 43.7 501.2 43.4 501.7 43.1 502.2 42.9 502.7 42.6 503.2 42.5 503.6 42.3 504.1 42.2 504.6 42 505.1 41.9 505.6 41.8 506.1 41.8 506.5 41.7 507 41.6 507.5 41.6 508 41.5 508.5 41.5 508.9 41.4 509.4 41.4 509.9 41.4 510.4 41.4 510.9 41.3 511.4 41.3 511.8 41.3 512.3 41.3 512.8 41.3 513.3 41.3 513.8 41.3 515.7 41.2 521.5 41.2 527.3 41.2 533.1 41.1 538.8 41.1 544.6 41.1 550.4 41.1 556.2 41.1 562 41.2 567.8 41.2 573.6 41.2 579.4 41.2 585.1 41.2 590.9 41.2 593.3 41.2 594.6 41.2 595.8 41.2 597 41.3 598.2 41.3 599.4 41.4 600.6 41.4 601.8 41.5 603 41.6 604.2 41.6 605.4 41.7 606.6 41.7 607.8 41.8 609 41.8 610.2 41.8 611.4 41.7 612.6 41.7 613.8 41.6 615.1 41.5 616.3 41.4 617.5 41.4 618.7 41.3 619.9 41.2 621.1 41 622.3 40.9 623.5 40.8 624.7 40.6 625.9 40.5 627.1 40.4 628.3 40.3 629.5 40.3 630.7 40.3 631.9 40.3 633.1 40.4 634.3 40.4 635.5 40.5 636.8 40.6 638 40.7 639.2 40.8 640.4 40.9 641.6 41 642.8 41.1 644 41.1 645.2 41.2 646.4 41.2 647.6 41.3 648.8 41.3 650 41.3 651.2 41.4 652.4 41.4 653.6 41.4 654.8 41.4 656 41.3 657.3 41.2 658.5 41.3 659.7 41.3 660.9 41 662.1 40.3 663.3 39.7 664.5 39.2 665.7 39.3 666.9 39.8 668.1 40.3 669.3 40.7 670.5 40.9 671.7 41.1 672.9 41.1" stroke="#2ca02c" stroke-width="0.60" fill="none" stroke-linejoin="round"/>
<path d="M499.3 43.5 499.8 43.2 500.3 42.8 500.7 42.6 501.2 42.3 501.7 42.1 502.2 41.9 502.7 41.8 503.2 41.6 503.6 41.5 504.1 41.4 504.6 41.3 505.1 41.2 505.6 41.1 506.1 41.1 506.5 41 507 41 507.5 40.9 508 40.9 508.5 40.8 508.9 40.8 509.4 40.8 509.9 40.8 510.4 40.8 510.9 40.7 511.4 40.7 511.8 40.7 512.3 40.7 512.8 40.7 513.3 40.7 513.8 40.7 515.7 40.7 521.5 40.7 527.3 40.7 533.1 40.6 538.8 40.6 544.6 40.6 550.4 40.6 556.2 40.7 562 40.7 567.8 40.7 573.6 40.6 579.4 40.6 585.1 40.6 590.9 40.6 593.3 40.6 594.6 40.6 595.8 40.6 597 40.6 598.2 40.5 599.4 40.5 600.6 40.5 601.8 40.4 603 40.4 604.2 40.3 605.4 40.3 606.6 40.3 607.8 40.2 609 40.2 610.2 40.2 611.4 40.2 612.6 40.3 613.8 40.3 615.1 40.4 616.3 40.4 617.5 40.4 618.7 40.5 619.9 40.6 621.1 40.6 622.3 40.7 623.5 40.8 624.7 40.9 625.9 41 627.1 41 628.3 41.1 629.5 41.1 630.7 41.1 631.9 41.1 633.1 41.1 634.3 41.1 635.5 41 636.8 41 638 40.9 639.2 40.9 640.4 40.8 641.6 40.8 642.8 40.7 644 40.7 645.2 40.6 646.4 40.6 647.6 40.6 648.8 40.5 650 40.5 651.2 40.5 652.4 40.4 653.6 40.4 654.8 40.4 656 40.5 657.3 40.5 658.5 40.5 659.7 40.5 660.9 40.7 662.1 41.1 663.3 41.5 664.5 41.8 665.7 41.7 666.9 41.4 668.1 41.1 669.3 40.9 670.5 40.7 671.7 40.6 672.9 40.6" stroke="#d62728" stroke-width="0.60" fill="none" stroke-linejoin="round"/>
<path d="M499.3 38.9 499.8 39.2 500.3 39.4 500.7 39.6 501.2 39.8 501.7 40 502.2 40.1 502.7 40.2 503.2 40.3 503.6 40.4 504.1 40.5 504.6 40.6 505.1 40.6 505.6 40.7 506.1 40.7 506.5 40.8 507 40.8 507.5 40.9 508 40.9 508.5 40.9 508.9 40.9 509.4 40.9 509.9 41 510.4 41 510.9 41 511.4 41 511.8 41 512.3 41 512.8 41 513.3 41 513.8 41 515.7 41 521.5 41 527.3 40.9 533.1 40.8 538.8 40.8 544.6 40.9 550.4 40.9 556.2 41 562 41.1 567.8 41.1 573.6 41.1 579.4 41 585.1 41 590.9 41 593.3 41 594.6 41.1 595.8 41.1 597 41.2 598.2 41.3 599.4 41.4 600.6 41.6 601.8 41.7 603 41.8 604.2 42 605.4 42.1 606.6 42.2 607.8 42.2 609 42.3 610.2 42.2 611.4 42.1 612.6 42 613.8 41.8 615.1 41.7 616.3 41.5 617.5 41.3 618.7 41.1 619.9 40.9 621.1 40.6 622.3 40.3 623.5 39.9 624.7 39.6 625.9 39.3 627.1 39.1 628.3 39 629.5 38.9 630.7 38.8 631.9 38.9 633.1 39 634.3 39.2 635.5 39.4 636.8 39.6 638 39.8 639.2 40 640.4 40.2 641.6 40.4 642.8 40.6 644 40.7 645.2 40.8 646.4 40.9 647.6 41 648.8 41.1 650 41.2 651.2 41.3 652.4 41.3 653.6 41.4 654.8 41.3 656 41.1 657.3 41 658.5 41 659.7 41 660.9 40.3 662.1 38.9 663.3 37.2 664.5 36.3 665.7 36.5 666.9 37.6 668.1 38.8 669.3 39.7 670.5 40.4 671.7 40.7 672.9 41" stroke="#9467bd" stroke-width="0.60" fill="none" stroke-linejoin="round"/>
<path d="M499.3 40.4 499.8 40.5 500.3 40.6 500.7 40.6 501.2 40.7 501.7 40.7 502.2 40.8 502.7 40.8 503.2 40.9 503.6 40.9 504.1 40.9 504.6 40.9 505.1 40.9 505.6 41 506.1 41 506.5 41 507 41 507.5 41 508 41 508.5 41 508.9 41 509.4 41 509.9 41 510.4 41 510.9 41 511.4 41 511.8 41 512.3 41 512.8 41 513.3 41 513.8 41 515.7 41 521.5 41 527.3 41.1 533.1 41.1 538.8 41.1 544.6 41.1 550.4 41.1 556.2 41.1 562 41.1 567.8 41.1 573.6 41.1 579.4 41.1 585.1 41.1 590.9 41 593.3 40.9 594.6 40.8 595.8 40.8 597 40.6 598.2 40.5 599.4 40.4 600.6 40.2 601.8 40.1 603 39.9 604.2 39.8 605.4 39.6 606.6 39.5 607.8 39.5 609 39.5 610.2 39.5 611.4 39.7 612.6 39.8 613.8 40.1 615.1 40.3 616.3 40.6 617.5 40.8 618.7 41.1 619.9 41.4 621.1 41.7 622.3 42.2 623.5 42.6 624.7 43 625.9 43.4 627.1 43.6 628.3 43.8 629.5 44 630.7 44 631.9 43.9 633.1 43.8 634.3 43.5 635.5 43.3 636.8 43 638 42.7 639.2 42.4 640.4 42.1 641.6 41.9 642.8 41.7 644 41.5 645.2 41.3 646.4 41.2 647.6 41.1 648.8 41 650 40.8 651.2 40.7 652.4 40.6 653.6 40.6 654.8 40.6 656 40.8 657.3 41 658.5 41 659.7 41 660.9 41.8 662.1 43.7 663.3 45.7 664.5 46.9 665.7 46.6 666.9 45.3 668.1 43.8 669.3 42.7 670.5 41.9 671.7 41.4 672.9 41.1" stroke="#8c564b" stroke-width="0.60" fill="none" stroke-linejoin="round"/>
<path d="M499.3 46.2 499.8 45.5 500.3 44.9 500.7 44.4 501.2 44 501.7 43.6 502.2 43.2 502.7 43 503.2 42.7 503.6 42.5 504.1 42.3 504.6 42.1 505.1 41.9 505.6 41.8 506.1 41.7 506.5 41.6 507 41.5 507.5 41.4 508 41.4 508.5 41.3 508.9 41.2 509.4 41.2 509.9 41.2 510.4 41.1 510.9 41.1 511.4 41.1 511.8 41.1 512.3 41 512.8 41 513.3 41 513.8 41 515.7 41 521.5 40.9 527.3 40.9 533.1 40.9 538.8 40.8 544.6 40.8 550.4 40.8 556.2 40.9 562 41 567.8 41 573.6 41 579.4 40.9 585.1 40.8 590.9 40.7 593.3 40.7 594.6 40.6 595.8 40.6 597 40.5 598.2 40.4 599.4 40.4 600.6 40.3 601.8 40.2 603 40.1 604.2 40 605.4 39.9 606.6 39.8 607.8 39.8 609 39.8 610.2 39.8 611.4 39.9 612.6 40 613.8 40.2 615.1 40.3 616.3 40.5 617.5 40.7 618.7 40.8 619.9 41 621.1 41.3 622.3 41.6 623.5 41.8 624.7 42.1 625.9 42.3 627.1 42.5 628.3 42.7 629.5 42.8 630.7 42.8 631.9 42.7 633.1 42.6 634.3 42.5 635.5 42.3 636.8 42.2 638 42 639.2 41.8 640.4 41.6 641.6 41.5 642.8 41.3 644 41.2 645.2 41.1 646.4 41 647.6 40.9 648.8 40.9 650 40.8 651.2 40.7 652.4 40.6 653.6 40.6 654.8 40.6 656 40.7 657.3 40.9 658.5 40.8 659.7 40.8 660.9 41.3 662.1 42.6 663.3 43.9 664.5 44.7 665.7 44.5 666.9 43.6 668.1 42.6 669.3 41.8 670.5 41.2 671.7 40.9 672.9 40.8" stroke="#e377c2" stroke-width="0.60" fill="none" stroke-linejoin="round"/>
<path d="M499.3 43.3 499.8 43 500.3 42.8 500.7 42.6 501.2 42.4 501.7 42.2 502.2 42.1 502.7 41.9 503.2 41.8 503.6 41.7 504.1 41.6 504.6 41.6 505.1 41.5 505.6 41.4 506.1 41.4 506.5 41.3 507 41.3 507.5 41.3 508 41.2 508.5 41.2 508.9 41.2 509.4 41.1 509.9 41.1 510.4 41.1 510.9 41.1 511.4 41.1 511.8 41.1 512.3 41.1 512.8 41.1 513.3 41 513.8 41 515.7 41 521.5 41.1 527.3 41.1 533.1 41.1 538.8 41.1 544.6 41.1 550.4 41 556.2 41 562 41 567.8 41 573.6 41.1 579.4 41.2 585.1 41.2 590.9 41.2 593.3 41.1 594.6 41.1 595.8 41.1 597 41 598.2 41 599.4 41 600.6 41 601.8 40.9 603 40.9 604.2 40.9 605.4 40.8 606.6 40.8 607.8 40.8 609 40.8 610.2 40.8 611.4 40.8 612.6 40.8 613.8 40.9 615.1 40.9 616.3 40.9 617.5 41 618.7 41 619.9 41.1 621.1 41.1 622.3 41.2 623.5 41.2 624.7 41.3 625.9 41.4 627.1 41.4 628.3 41.5 629.5 41.5 630.7 41.5 631.9 41.5 633.1 41.5 634.3 41.5 635.5 41.5 636.8 41.4 638 41.4 639.2 41.4 640.4 41.3 641.6 41.3 642.8 41.3 644 41.3 645.2 41.2 646.4 41.2 647.6 41.2 648.8 41.1 650 41.1 651.2 41.1 652.4 41.1 653.6 41 654.8 41 656 41 657.3 41 658.5 41 659.7 41 660.9 41.1 662.1 41.3 663.3 41.5 664.5 41.7 665.7 41.6 666.9 41.5 668.1 41.4 669.3 41.2 670.5 41.2 671.7 41.1 672.9 41.1" stroke="#7f7f7f" stroke-width="0.60" fill="none" stroke-linejoin="round"/>
<path d="M499.3 38.6 499.8 38.9 500.3 39.3 500.7 39.5 501.2 39.8 501.7 40 502.2 40.2 502.7 40.3 503.2 40.5 503.6 40.6 504.1 40.7 504.6 40.8 505.1 40.9 505.6 41 506.1 41.1 506.5 41.1 507 41.2 507.5 41.2 508 41.2 508.5 41.3 508.9 41.3 509.4 41.3 509.9 41.4 510.4 41.4 510.9 41.4 511.4 41.4 511.8 41.4 512.3 41.5 512.8 41.5 513.3 41.5 513.8 41.5 515.7 41.5 521.5 41.6 527.3 41.6 533.1 41.6 538.8 41.5 544.6 41.5 550.4 41.5 556.2 41.4 562 41.4 567.8 41.4 573.6 41.3 579.4 41.4 585.1 41.4 590.9 41.4 593.3 41.4 594.6 41.4 595.8 41.4 597 41.4 598.2 41.4 599.4 41.4 600.6 41.4 601.8 41.4 603 41.4 604.2 41.4 605.4 41.4 606.6 41.4 607.8 41.4 609 41.4 610.2 41.5 611.4 41.5 612.6 41.5 613.8 41.6 615.1 41.6 616.3 41.7 617.5 41.7 618.7 41.8 619.9 41.8 621.1 41.9 622.3 41.9 623.5 42 624.7 42 625.9 42.1 627.1 42.1 628.3 42.2 629.5 42.2 630.7 42.2 631.9 42.2 633.1 42.1 634.3 42.1 635.5 42.1 636.8 42 638 42 639.2 41.9 640.4 41.9 641.6 41.8 642.8 41.8 644 41.8 645.2 41.7 646.4 41.7 647.6 41.7 648.8 41.7 650 41.6 651.2 41.6 652.4 41.6 653.6 41.6 654.8 41.5 656 41.6 657.3 41.6 658.5 41.6 659.7 41.6 660.9 41.7 662.1 41.9 663.3 42.2 664.5 42.4 665.7 42.3 666.9 42.1 668.1 41.9 669.3 41.7 670.5 41.6 671.7 41.5 672.9 41.4" stroke="#bcbd22" stroke-width="0.60" fill="none" stroke-linejoin="round"/>
<path d="M499.3 40.7 499.8 40.7 500.3 40.8 500.7 40.8 501.2 40.8 501.7 40.8 502.2 40.8 502.7 40.8 503.2 40.8 503.6 40.8 504.1 40.8 504.6 40.8 505.1 40.8 505.6 40.8 506.1 40.8 506.5 40.8 507 40.8 507.5 40.8 508 40.8 508.5 40.9 508.9 40.9 509.4 40.9 509.9 40.9 510.4 40.9 510.9 40.9 511.4 40.9 511.8 40.9 512.3 40.9 512.8 40.9 513.3 40.9 513.8 40.9 515.7 40.9 521.5 40.9 527.3 40.9 533.1 40.9 538.8 40.9 544.6 40.9 550.4 40.9 556.2 40.9 562 40.9 567.8 40.9 573.6 40.9 579.4 40.9 585.1 40.9 590.9 40.9 593.3 40.8 594.6 40.8 595.8 40.7 597 40.6 598.2 40.6 599.4 40.5 600.6 40.4 601.8 40.3 603 40.2 604.2 40.1 605.4 40 606.6 39.9 607.8 39.9 609 39.9 610.2 39.9 611.4 40 612.6 40.1 613.8 40.2 615.1 40.3 616.3 40.5 617.5 40.6 618.7 40.8 619.9 41 621.1 41.2 622.3 41.5 623.5 41.7 624.7 42 625.9 42.2 627.1 42.4 628.3 42.5 629.5 42.6 630.7 42.6 631.9 42.6 633.1 42.5 634.3 42.3 635.5 42.2 636.8 42 638 41.8 639.2 41.7 640.4 41.5 641.6 41.4 642.8 41.2 644 41.1 645.2 41 646.4 40.9 647.6 40.9 648.8 40.8 650 40.7 651.2 40.7 652.4 40.6 653.6 40.6 654.8 40.6 656 40.7 657.3 40.9 658.5 40.8 659.7 40.8 660.9 41.3 662.1 42.5 663.3 43.7 664.5 44.5 665.7 44.3 666.9 43.4 668.1 42.5 669.3 41.8 670.5 41.3 671.7 41 672.9 40.9" stroke="#17becf" stroke-width="0.60" fill="none" stroke-linejoin="round"/>
<path d="M499.3 42.6 499.8 42.4 500.3 42.3 500.7 42.1 501.2 42 501.7 41.9 502.2 41.8 502.7 41.7 503.2 41.6 503.6 41.6 504.1 41.5 504.6 41.5 505.1 41.4 505.6 41.4 506.1 41.4 506.5 41.3 507 41.3 507.5 41.3 508 41.3 508.5 41.2 508.9 41.2 509.4 41.2 509.9 41.2 510.4 41.2 510.9 41.2 511.4 41.2 511.8 41.2 512.3 41.2 512.8 41.2 513.3 41.2 513.8 41.1 515.7 41.1 521.5 41.1 527.3 41.1 533.1 41.1 538.8 41.1 544.6 41.1 550.4 41.1 556.2 41.1 562 41.1 567.8 41.1 573.6 41.1 579.4 41.1 585.1 41.1 590.9 41.2 593.3 41.3 594.6 41.3 595.8 41.4 597 41.5 598.2 41.6 599.4 41.7 600.6 41.8 601.8 42 603 42.1 604.2 42.3 605.4 42.4 606.6 42.5 607.8 42.5 609 42.6 610.2 42.5 611.4 42.4 612.6 42.3 613.8 42.1 615.1 41.9 616.3 41.7 617.5 41.5 618.7 41.3 619.9 41 621.1 40.7 622.3 40.4 623.5 40 624.7 39.7 625.9 39.4 627.1 39.1 628.3 39 629.5 38.9 630.7 38.8 631.9 38.9 633.1 39 634.3 39.2 635.5 39.4 636.8 39.6 638 39.9 639.2 40.1 640.4 40.3 641.6 40.5 642.8 40.7 644 40.9 645.2 41 646.4 41.1 647.6 41.2 648.8 41.3 650 41.4 651.2 41.5 652.4 41.6 653.6 41.6 654.8 41.6 656 41.4 657.3 41.2 658.5 41.3 659.7 41.3 660.9 40.6 662.1 39.1 663.3 37.4 664.5 36.4 665.7 36.6 666.9 37.8 668.1 39 669.3 39.9 670.5 40.6 671.7 40.9 672.9 41.1" stroke="#1f77b4" stroke-width="0.60" fill="none" stroke-linejoin="round"/>
<path d="M499.3 37.4 499.8 37.8 500.3 38.2 500.7 38.5 501.2 38.8 501.7 39 502.2 39.2 502.7 39.4 503.2 39.6 503.6 39.7 504.1 39.8 504.6 39.9 505.1 40 505.6 40.1 506.1 40.2 506.5 40.2 507 40.3 507.5 40.3 508 40.4 508.5 40.4 508.9 40.5 509.4 40.5 509.9 40.5 510.4 40.5 510.9 40.6 511.4 40.6 511.8 40.6 512.3 40.6 512.8 40.6 513.3 40.6 513.8 40.7 515.7 40.7 521.5 40.7 527.3 40.8 533.1 40.8 538.8 40.8 544.6 40.8 550.4 40.8 556.2 40.8 562 40.8 567.8 40.8 573.6 40.7 579.4 40.7 585.1 40.7 590.9 40.7 593.3 40.7 594.6 40.7 595.8 40.8 597 40.8 598.2 40.8 599.4 40.9 600.6 40.9 601.8 41 603 41 604.2 41.1 605.4 41.1 606.6 41.1 607.8 41.2 609 41.2 610.2 41.1 611.4 41.1 612.6 41.1 613.8 41 615.1 40.9 616.3 40.8 617.5 40.8 618.7 40.7 619.9 40.6 621.1 40.5 622.3 40.3 623.5 40.2 624.7 40.1 625.9 40 627.1 39.9 628.3 39.8 629.5 39.8 630.7 39.8 631.9 39.8 633.1 39.9 634.3 39.9 635.5 40 636.8 40.1 638 40.2 639.2 40.3 640.4 40.4 641.6 40.5 642.8 40.6 644 40.7 645.2 40.7 646.4 40.8 647.6 40.8 648.8 40.8 650 40.9 651.2 40.9 652.4 41 653.6 41 654.8 41 656 40.9 657.3 40.8 658.5 40.8 659.7 40.8 660.9 40.5 662.1 39.9 663.3 39.2 664.5 38.8 665.7 38.9 666.9 39.4 668.1 39.8 669.3 40.2 670.5 40.5 671.7 40.6 672.9 40.7" stroke="#ff7f0e" stroke-width="0.60" fill="none" stroke-linejoin="round"/>
<path d="M499.3 37.4 499.8 37.9 500.3 38.4 500.7 38.7 501.2 39.1 501.7 39.4 502.2 39.6 502.7 39.8 503.2 40 503.6 40.2 504.1 40.4 504.6 40.5 505.1 40.6 505.6 40.7 506.1 40.8 506.5 40.9 507 40.9 507.5 41 508 41.1 508.5 41.1 508.9 41.1 509.4 41.2 509.9 41.2 510.4 41.2 510.9 41.3 511.4 41.3 511.8 41.3 512.3 41.3 512.8 41.3 513.3 41.4 513.8 41.4 515.7 41.4 521.5 41.5 527.3 41.5 533.1 41.5 538.8 41.5 544.6 41.5 550.4 41.4 556.2 41.4 562 41.4 567.8 41.4 573.6 41.4 579.4 41.4 585.1 41.4 590.9 41.4 593.3 41.5 594.6 41.5 595.8 41.6 597 41.7 598.2 41.8 599.4 41.9 600.6 42 601.8 42.1 603 42.3 604.2 42.4 605.4 42.5 606.6 42.6 607.8 42.7 609 42.7 610.2 42.7 611.4 42.6 612.6 42.5 613.8 42.4 615.1 42.2 616.3 42.1 617.5 41.9 618.7 41.7 619.9 41.5 621.1 41.3 622.3 41 623.5 40.8 624.7 40.5 625.9 40.3 627.1 40.1 628.3 39.9 629.5 39.8 630.7 39.8 631.9 39.9 633.1 40 634.3 40.1 635.5 40.3 636.8 40.4 638 40.6 639.2 40.8 640.4 41 641.6 41.1 642.8 41.3 644 41.4 645.2 41.5 646.4 41.6 647.6 41.6 648.8 41.7 650 41.8 651.2 41.8 652.4 41.9 653.6 41.9 654.8 41.9 656 41.7 657.3 41.6 658.5 41.6 659.7 41.6 660.9 41 662.1 39.8 663.3 38.5 664.5 37.7 665.7 37.9 666.9 38.8 668.1 39.8 669.3 40.5 670.5 41 671.7 41.3 672.9 41.4" stroke="#2ca02c" stroke-width="0.60" fill="none" stroke-linejoin="round"/>
<path d="M499.3 38.6 499.8 38.9 500.3 39.2 500.7 39.4 501.2 39.7 501.7 39.8 502.2 40 502.7 40.1 503.2 40.3 503.6 40.4 504.1 40.5 504.6 40.5 505.1 40.6 505.6 40.7 506.1 40.7 506.5 40.7 507 40.8 507.5 40.8 508 40.8 508.5 40.9 508.9 40.9 509.4 40.9 509.9 40.9 510.4 40.9 510.9 40.9 511.4 40.9 511.8 40.9 512.3 40.9 512.8 40.9 513.3 40.9 513.8 41 515.7 41 521.5 41 527.3 41 533.1 41.1 538.8 41.2 544.6 41.2 550.4 41.1 556.2 41.1 562 41 567.8 41 573.6 41 579.4 41.1 585.1 41.2 590.9 41.2 593.3 41.3 594.6 41.3 595.8 41.3 597 41.4 598.2 41.4 599.4 41.5 600.6 41.6 601.8 41.6 603 41.7 604.2 41.8 605.4 41.8 606.6 41.9 607.8 41.9 609 41.9 610.2 41.8 611.4 41.8 612.6 41.7 613.8 41.6 615.1 41.4 616.3 41.3 617.5 41.2 618.7 41.1 619.9 40.9 621.1 40.8 622.3 40.6 623.5 40.4 624.7 40.2 625.9 40.1 627.1 39.9 628.3 39.9 629.5 39.8 630.7 39.8 631.9 39.9 633.1 40 634.3 40.1 635.5 40.2 636.8 40.4 638 40.5 639.2 40.6 640.4 40.8 641.6 40.9 642.8 41 644 41.1 645.2 41.2 646.4 41.2 647.6 41.3 648.8 41.3 650 41.3 651.2 41.4 652.4 41.4 653.6 41.4 654.8 41.4 656 41.3 657.3 41.2 658.5 41.1 659.7 41.1 660.9 40.7 662.1 39.9 663.3 38.9 664.5 38.3 665.7 38.5 666.9 39.1 668.1 39.8 669.3 40.3 670.5 40.7 671.7 40.9 672.9 41" stroke="#d62728" stroke-width="0.60" fill="none" stroke-linejoin="round"/>
<path d="M499.3 38.9 499.8 39.1 500.3 39.3 500.7 39.4 501.2 39.6 501.7 39.7 502.2 39.8 502.7 39.9 503.2 40 503.6 40 504.1 40.1 504.6 40.1 505.1 40.2 505.6 40.2 506.1 40.3 506.5 40.3 507 40.3 507.5 40.4 508 40.4 508.5 40.4 508.9 40.4 509.4 40.4 509.9 40.4 510.4 40.5 510.9 40.5 511.4 40.5 511.8 40.5 512.3 40.5 512.8 40.5 513.3 40.5 513.8 40.5 515.7 40.5 521.5 40.6 527.3 40.6 533.1 40.6 538.8 40.6 544.6 40.5 550.4 40.5 556.2 40.5 562 40.5 567.8 40.5 573.6 40.5 579.4 40.5 585.1 40.5 590.9 40.4 593.3 40.3 594.6 40.3 595.8 40.2 597 40.1 598.2 40 599.4 39.8 600.6 39.7 601.8 39.5 603 39.3 604.2 39.2 605.4 39.1 606.6 38.9 607.8 38.9 609 38.9 610.2 38.9 611.4 39 612.6 39.2 613.8 39.4 615.1 39.6 616.3 39.8 617.5 40 618.7 40.3 619.9 40.6 621.1 40.9 622.3 41.3 623.5 41.7 624.7 42.1 625.9 42.4 627.1 42.6 628.3 42.8 629.5 43 630.7 43 631.9 42.9 633.1 42.8 634.3 42.6 635.5 42.4 636.8 42.1 638 41.9 639.2 41.6 640.4 41.4 641.6 41.2 642.8 41 644 40.8 645.2 40.6 646.4 40.5 647.6 40.4 648.8 40.3 650 40.2 651.2 40.1 652.4 40 653.6 40 654.8 40 656 40.2 657.3 40.4 658.5 40.4 659.7 40.3 660.9 41.1 662.1 42.7 663.3 44.6 664.5 45.7 665.7 45.4 666.9 44.1 668.1 42.8 669.3 41.8 670.5 41 671.7 40.6 672.9 40.4" stroke="#9467bd" stroke-width="0.60" fill="none" stroke-linejoin="round"/>
<path d="M499.3 43.9 499.8 43.5 500.3 43.2 500.7 42.9 501.2 42.7 501.7 42.5 502.2 42.3 502.7 42.1 503.2 41.9 503.6 41.8 504.1 41.7 504.6 41.6 505.1 41.5 505.6 41.4 506.1 41.4 506.5 41.3 507 41.3 507.5 41.2 508 41.2 508.5 41.2 508.9 41.1 509.4 41.1 509.9 41.1 510.4 41.1 510.9 41 511.4 41 511.8 41 512.3 41 512.8 41 513.3 41 513.8 41 515.7 41 521.5 41 527.3 41 533.1 41 538.8 40.9 544.6 40.9 550.4 40.9 556.2 40.9 562 40.9 567.8 40.9 573.6 40.9 579.4 40.9 585.1 40.9 590.9 40.9 593.3 41 594.6 41.1 595.8 41.1 597 41.2 598.2 41.3 599.4 41.5 600.6 41.6 601.8 41.7 603 41.9 604.2 42 605.4 42.1 606.6 42.2 607.8 42.3 609 42.3 610.2 42.3 611.4 42.1 612.6 42 613.8 41.8 615.1 41.6 616.3 41.4 617.5 41.1 618.7 40.9 619.9 40.6 621.1 40.3 622.3 40 623.5 39.6 624.7 39.2 625.9 38.9 627.1 38.6 628.3 38.5 629.5 38.4 630.7 38.3 631.9 38.4 633.1 38.5 634.3 38.7 635.5 38.9 636.8 39.2 638 39.5 639.2 39.7 640.4 40 641.6 40.2 642.8 40.4 644 40.6 645.2 40.7 646.4 40.8 647.6 40.9 648.8 41 650 41.1 651.2 41.3 652.4 41.4 653.6 41.4 654.8 41.3 656 41.1 657.3 41 658.5 41 659.7 41 660.9 40.3 662.1 38.7 663.3 36.9 664.5 35.8 665.7 36 666.9 37.3 668.1 38.6 669.3 39.6 670.5 40.3 671.7 40.7 672.9 41" stroke="#8c564b" stroke-width="0.60" fill="none" stroke-linejoin="round"/>
<path d="M499.3 36.7 499.8 37.2 500.3 37.7 500.7 38.1 501.2 38.5 501.7 38.8 502.2 39.1 502.7 39.3 503.2 39.5 503.6 39.7 504.1 39.9 504.6 40 505.1 40.2 505.6 40.3 506.1 40.4 506.5 40.5 507 40.6 507.5 40.6 508 40.7 508.5 40.7 508.9 40.8 509.4 40.8 509.9 40.9 510.4 40.9 510.9 40.9 511.4 41 511.8 41 512.3 41 512.8 41 513.3 41 513.8 41 515.7 41.1 521.5 41.1 527.3 41 533.1 40.9 538.8 40.9 544.6 40.9 550.4 41 556.2 41 562 41 567.8 41 573.6 41 579.4 41 585.1 41 590.9 41 593.3 41 594.6 41 595.8 41 597 41 598.2 41 599.4 41 600.6 41 601.8 40.9 603 40.9 604.2 40.9 605.4 40.8 606.6 40.8 607.8 40.8 609 40.8 610.2 40.8 611.4 40.8 612.6 40.8 613.8 40.8 615.1 40.9 616.3 40.9 617.5 40.9 618.7 41 619.9 41 621.1 41.1 622.3 41.2 623.5 41.3 624.7 41.3 625.9 41.4 627.1 41.5 628.3 41.5 629.5 41.5 630.7 41.6 631.9 41.5 633.1 41.5 634.3 41.5 635.5 41.4 636.8 41.4 638 41.3 639.2 41.3 640.4 41.2 641.6 41.2 642.8 41.2 644 41.1 645.2 41.1 646.4 41.1 647.6 41 648.8 41 650 41 651.2 41 652.4 40.9 653.6 40.9 654.8 40.9 656 41 657.3 41 658.5 41 659.7 41 660.9 41.1 662.1 41.5 663.3 41.9 664.5 42.2 665.7 42.1 666.9 41.8 668.1 41.5 669.3 41.3 670.5 41.1 671.7 41.1 672.9 41" stroke="#e377c2" stroke-width="0.60" fill="none" stroke-linejoin="round"/>
<path d="M499.3 38.3 499.8 38.5 500.3 38.8 500.7 39 501.2 39.2 501.7 39.3 502.2 39.5 502.7 39.6 503.2 39.7 503.6 39.8 504.1 39.9 504.6 40 505.1 40 505.6 40.1 506.1 40.1 506.5 40.2 507 40.2 507.5 40.3 508 40.3 508.5 40.3 508.9 40.4 509.4 40.4 509.9 40.4 510.4 40.4 510.9 40.4 511.4 40.4 511.8 40.4 512.3 40.5 512.8 40.5 513.3 40.5 513.8 40.5 515.7 40.5 521.5 40.5 527.3 40.5 533.1 40.5 538.8 40.5 544.6 40.5 550.4 40.5 556.2 40.5 562 40.5 567.8 40.5 573.6 40.5 579.4 40.5 585.1 40.4 590.9 40.4 593.3 40.4 594.6 40.3 595.8 40.3 597 40.2 598.2 40.2 599.4 40.1 600.6 40 601.8 39.9 603 39.8 604.2 39.7 605.4 39.7 606.6 39.6 607.8 39.6 609 39.5 610.2 39.6 611.4 39.6 612.6 39.7 613.8 39.8 615.1 39.9 616.3 40.1 617.5 40.2 618.7 40.3 619.9 40.5 621.1 40.6 622.3 40.9 623.5 41.1 624.7 41.3 625.9 41.5 627.1 41.6 628.3 41.7 629.5 41.8 630.7 41.8 631.9 41.7 633.1 41.7 634.3 41.5 635.5 41.4 636.8 41.3 638 41.1 639.2 41 640.4 40.8 641.6 40.7 642.8 40.6 644 40.5 645.2 40.4 646.4 40.4 647.6 40.3 648.8 40.3 650 40.2 651.2 40.2 652.4 40.1 653.6 40.1 654.8 40.1 656 40.2 657.3 40.4 658.5 40.3 659.7 40.3 660.9 40.8 662.1 41.7 663.3 42.7 664.5 43.4 665.7 43.2 666.9 42.5 668.1 41.7 669.3 41.1 670.5 40.7 671.7 40.5 672.9 40.4" stroke="#7f7f7f" stroke-width="0.60" fill="none" stroke-linejoin="round"/>
<path d="M499.3 41.7 499.8 41.5 500.3 41.4 500.7 41.3 501.2 41.1 501.7 41.1 502.2 41 502.7 40.9 503.2 40.8 503.6 40.8 504.1 40.7 504.6 40.7 505.1 40.7 505.6 40.6 506.1 40.6 506.5 40.6 507 40.5 507.5 40.5 508 40.5 508.5 40.5 508.9 40.5 509.4 40.5 509.9 40.5 510.4 40.4 510.9 40.4 511.4 40.4 511.8 40.4 512.3 40.4 512.8 40.4 513.3 40.4 513.8 40.4 515.7 40.4 521.5 40.3 527.3 40.3 533.1 40.3 538.8 40.3 544.6 40.4 550.4 40.5 556.2 40.4 562 40.4 567.8 40.3 573.6 40.2 579.4 40.2 585.1 40.3 590.9 40.3 593.3 40.3 594.6 40.3 595.8 40.2 597 40.1 598.2 40 599.4 39.9 600.6 39.7 601.8 39.6 603 39.5 604.2 39.3 605.4 39.2 606.6 39.1 607.8 39 609 38.9 610.2 38.9 611.4 39 612.6 39.1 613.8 39.3 615.1 39.4 616.3 39.6 617.5 39.8 618.7 40 619.9 40.2 621.1 40.4 622.3 40.8 623.5 41.1 624.7 41.4 625.9 41.7 627.1 41.9 628.3 42.1 629.5 42.2 630.7 42.2 631.9 42.2 633.1 42.1 634.3 42 635.5 41.8 636.8 41.6 638 41.4 639.2 41.2 640.4 41 641.6 40.8 642.8 40.7 644 40.5 645.2 40.4 646.4 40.3 647.6 40.2 648.8 40.2 650 40.1 651.2 39.9 652.4 39.8 653.6 39.8 654.8 39.8 656 40 657.3 40.1 658.5 40.1 659.7 40 660.9 40.6 662.1 42 663.3 43.5 664.5 44.4 665.7 44.2 666.9 43.1 668.1 42 669.3 41.2 670.5 40.6 671.7 40.3 672.9 40.1" stroke="#bcbd22" stroke-width="0.60" fill="none" stroke-linejoin="round"/>
<path d="M499.3 41 499.8 41 500.3 41 500.7 41 501.2 41 501.7 41 502.2 41 502.7 41 503.2 41 503.6 41 504.1 41 504.6 41 505.1 41 505.6 41 506.1 41 506.5 41 507 41 507.5 41 508 41 508.5 41 508.9 41 509.4 41 509.9 41 510.4 41 510.9 41 511.4 41 511.8 41 512.3 41 512.8 41 513.3 41 513.8 41 515.7 41 521.5 41.1 527.3 41.1 533.1 41.1 538.8 41.1 544.6 41.1 550.4 41.1 556.2 41.1 562 41.1 567.8 41 573.6 41 579.4 41 585.1 41 590.9 40.9 593.3 40.9 594.6 40.8 595.8 40.7 597 40.6 598.2 40.5 599.4 40.4 600.6 40.3 601.8 40.1 603 40 604.2 39.9 605.4 39.8 606.6 39.7 607.8 39.6 609 39.6 610.2 39.7 611.4 39.8 612.6 39.9 613.8 40.1 615.1 40.3 616.3 40.6 617.5 40.8 618.7 41 619.9 41.3 621.1 41.6 622.3 42 623.5 42.3 624.7 42.7 625.9 43 627.1 43.3 628.3 43.4 629.5 43.5 630.7 43.6 631.9 43.5 633.1 43.4 634.3 43.2 635.5 43 636.8 42.7 638 42.5 639.2 42.2 640.4 42 641.6 41.8 642.8 41.6 644 41.4 645.2 41.3 646.4 41.2 647.6 41.1 648.8 41 650 40.9 651.2 40.8 652.4 40.7 653.6 40.6 654.8 40.7 656 40.9 657.3 41 658.5 41 659.7 41 660.9 41.7 662.1 43.3 663.3 45.1 664.5 46.2 665.7 45.9 666.9 44.7 668.1 43.4 669.3 42.4 670.5 41.7 671.7 41.3 672.9 41.1" stroke="#17becf" stroke-width="0.60" fill="none" stroke-linejoin="round"/>
<path d="M499.3 38.7 499.8 39 500.3 39.2 500.7 39.4 501.2 39.6 501.7 39.7 502.2 39.8 502.7 40 503.2 40.1 503.6 40.1 504.1 40.2 504.6 40.3 505.1 40.3 505.6 40.4 506.1 40.4 506.5 40.5 507 40.5 507.5 40.5 508 40.6 508.5 40.6 508.9 40.6 509.4 40.6 509.9 40.6 510.4 40.7 510.9 40.7 511.4 40.7 511.8 40.7 512.3 40.7 512.8 40.7 513.3 40.7 513.8 40.7 515.7 40.8 521.5 40.8 527.3 40.9 533.1 40.9 538.8 40.8 544.6 40.8 550.4 40.7 556.2 40.8 562 40.8 567.8 40.9 573.6 40.9 579.4 40.9 585.1 40.8 590.9 40.8 593.3 40.7 594.6 40.7 595.8 40.7 597 40.7 598.2 40.7 599.4 40.7 600.6 40.6 601.8 40.6 603 40.6 604.2 40.6 605.4 40.6 606.6 40.5 607.8 40.5 609 40.5 610.2 40.6 611.4 40.6 612.6 40.6 613.8 40.6 615.1 40.7 616.3 40.7 617.5 40.8 618.7 40.8 619.9 40.8 621.1 40.9 622.3 41 623.5 41 624.7 41.1 625.9 41.1 627.1 41.2 628.3 41.2 629.5 41.2 630.7 41.2 631.9 41.2 633.1 41.2 634.3 41.1 635.5 41.1 636.8 41.1 638 41 639.2 41 640.4 40.9 641.6 40.9 642.8 40.9 644 40.9 645.2 40.8 646.4 40.8 647.6 40.8 648.8 40.8 650 40.8 651.2 40.8 652.4 40.8 653.6 40.8 654.8 40.8 656 40.8 657.3 40.8 658.5 40.8 659.7 40.8 660.9 40.9 662.1 41.2 663.3 41.6 664.5 41.7 665.7 41.7 666.9 41.4 668.1 41.2 669.3 41 670.5 40.8 671.7 40.8 672.9 40.7" stroke="#1f77b4" stroke-width="0.60" fill="none" stroke-linejoin="round"/>
<path d="M499.3 37.8 499.8 38.2 500.3 38.6 500.7 38.9 501.2 39.2 501.7 39.5 502.2 39.7 502.7 39.9 503.2 40.1 503.6 40.2 504.1 40.4 504.6 40.5 505.1 40.6 505.6 40.7 506.1 40.8 506.5 40.8 507 40.9 507.5 40.9 508 41 508.5 41 508.9 41.1 509.4 41.1 509.9 41.1 510.4 41.1 510.9 41.2 511.4 41.2 511.8 41.2 512.3 41.2 512.8 41.2 513.3 41.2 513.8 41.2 515.7 41.3 521.5 41.3 527.3 41.3 533.1 41.3 538.8 41.3 544.6 41.2 550.4 41.2 556.2 41.2 562 41.2 567.8 41.2 573.6 41.2 579.4 41.3 585.1 41.3 590.9 41.2 593.3 41.2 594.6 41.1 595.8 41.1 597 41 598.2 40.9 599.4 40.9 600.6 40.8 601.8 40.7 603 40.6 604.2 40.5 605.4 40.4 606.6 40.4 607.8 40.3 609 40.3 610.2 40.4 611.4 40.4 612.6 40.6 613.8 40.7 615.1 40.9 616.3 41 617.5 41.2 618.7 41.4 619.9 41.6 621.1 41.8 622.3 42.1 623.5 42.4 624.7 42.6 625.9 42.9 627.1 43 628.3 43.2 629.5 43.3 630.7 43.3 631.9 43.2 633.1 43.1 634.3 43 635.5 42.8 636.8 42.6 638 42.4 639.2 42.3 640.4 42.1 641.6 41.9 642.8 41.7 644 41.6 645.2 41.5 646.4 41.4 647.6 41.4 648.8 41.3 650 41.2 651.2 41.1 652.4 41 653.6 41 654.8 41 656 41.2 657.3 41.3 658.5 41.3 659.7 41.3 660.9 41.8 662.1 43 663.3 44.4 664.5 45.2 665.7 45 666.9 44.1 668.1 43.1 669.3 42.4 670.5 41.8 671.7 41.5 672.9 41.3" stroke="#ff7f0e" stroke-width="0.60" fill="none" stroke-linejoin="round"/>
<path d="M499.3 45.9 499.8 45.1 500.3 44.5 500.7 43.9 501.2 43.4 501.7 43 502.2 42.6 502.7 42.3 503.2 42 503.6 41.8 504.1 41.5 504.6 41.4 505.1 41.2 505.6 41 506.1 40.9 506.5 40.8 507 40.7 507.5 40.6 508 40.5 508.5 40.5 508.9 40.4 509.4 40.4 509.9 40.3 510.4 40.3 510.9 40.3 511.4 40.2 511.8 40.2 512.3 40.2 512.8 40.2 513.3 40.2 513.8 40.1 515.7 40.1 521.5 40.1 527.3 40 533.1 40 538.8 40 544.6 40 550.4 40 556.2 40.1 562 40.1 567.8 40.1 573.6 40 579.4 40 585.1 40 590.9 39.9 593.3 39.8 594.6 39.8 595.8 39.7 597 39.6 598.2 39.4 599.4 39.3 600.6 39.1 601.8 38.9 603 38.8 604.2 38.6 605.4 38.4 606.6 38.3 607.8 38.2 609 38.2 610.2 38.2 611.4 38.4 612.6 38.5 613.8 38.7 615.1 38.9 616.3 39.2 617.5 39.4 618.7 39.6 619.9 39.9 621.1 40.3 622.3 40.7 623.5 41.1 624.7 41.5 625.9 41.8 627.1 42.1 628.3 42.2 629.5 42.4 630.7 42.4 631.9 42.3 633.1 42.2 634.3 42 635.5 41.7 636.8 41.5 638 41.2 639.2 40.9 640.4 40.7 641.6 40.4 642.8 40.2 644 40 645.2 39.9 646.4 39.8 647.6 39.7 648.8 39.6 650 39.5 651.2 39.4 652.4 39.3 653.6 39.2 654.8 39.3 656 39.5 657.3 39.7 658.5 39.7 659.7 39.7 660.9 40.5 662.1 42.2 663.3 44.2 664.5 45.3 665.7 45 666.9 43.7 668.1 42.3 669.3 41.2 670.5 40.4 671.7 40.1 672.9 39.9" stroke="#2ca02c" stroke-width="0.60" fill="none" stroke-linejoin="round"/>
<path d="M499.3 47.3 499.8 46.5 500.3 45.8 500.7 45.2 501.2 44.7 501.7 44.2 502.2 43.8 502.7 43.4 503.2 43.1 503.6 42.9 504.1 42.6 504.6 42.4 505.1 42.2 505.6 42.1 506.1 42 506.5 41.8 507 41.7 507.5 41.6 508 41.6 508.5 41.5 508.9 41.4 509.4 41.4 509.9 41.3 510.4 41.3 510.9 41.2 511.4 41.2 511.8 41.2 512.3 41.2 512.8 41.1 513.3 41.1 513.8 41.1 515.7 41 521.5 41 527.3 40.9 533.1 40.9 538.8 40.9 544.6 40.9 550.4 40.9 556.2 41 562 41 567.8 41 573.6 41 579.4 41 585.1 40.9 590.9 40.9 593.3 40.9 594.6 40.9 595.8 40.9 597 41 598.2 41 599.4 41 600.6 41 601.8 41 603 41 604.2 41 605.4 41 606.6 41 607.8 41.1 609 41.1 610.2 41.1 611.4 41.1 612.6 41 613.8 41 615.1 41 616.3 41 617.5 41 618.7 41 619.9 41 621.1 41 622.3 40.9 623.5 40.9 624.7 40.9 625.9 40.9 627.1 40.8 628.3 40.8 629.5 40.8 630.7 40.8 631.9 40.8 633.1 40.8 634.3 40.8 635.5 40.9 636.8 40.9 638 40.9 639.2 40.9 640.4 40.9 641.6 40.9 642.8 40.9 644 40.9 645.2 40.9 646.4 41 647.6 41 648.8 41 650 41 651.2 41 652.4 41 653.6 41 654.8 41 656 41 657.3 40.9 658.5 40.9 659.7 40.9 660.9 40.9 662.1 40.8 663.3 40.7 664.5 40.6 665.7 40.6 666.9 40.7 668.1 40.8 669.3 40.9 670.5 40.9 671.7 40.9 672.9 41" stroke="#d62728" stroke-width="0.60" fill="none" stroke-linejoin="round"/>
<path d="M499.3 39.6 499.8 39.7 500.3 39.8 500.7 39.9 501.2 40 501.7 40.1 502.2 40.2 502.7 40.3 503.2 40.3 503.6 40.4 504.1 40.4 504.6 40.4 505.1 40.5 505.6 40.5 506.1 40.5 506.5 40.6 507 40.6 507.5 40.6 508 40.6 508.5 40.6 508.9 40.6 509.4 40.6 509.9 40.7 510.4 40.7 510.9 40.7 511.4 40.7 511.8 40.7 512.3 40.7 512.8 40.7 513.3 40.7 513.8 40.7 515.7 40.7 521.5 40.8 527.3 40.8 533.1 40.8 538.8 40.7 544.6 40.7 550.4 40.7 556.2 40.7 562 40.7 567.8 40.8 573.6 40.8 579.4 40.7 585.1 40.7 590.9 40.7 593.3 40.8 594.6 40.8 595.8 40.9 597 40.9 598.2 41 599.4 41.1 600.6 41.1 601.8 41.2 603 41.3 604.2 41.4 605.4 41.5 606.6 41.5 607.8 41.6 609 41.6 610.2 41.5 611.4 41.5 612.6 41.4 613.8 41.3 615.1 41.2 616.3 41 617.5 40.9 618.7 40.8 619.9 40.6 621.1 40.4 622.3 40.2 623.5 40 624.7 39.8 625.9 39.6 627.1 39.4 628.3 39.3 629.5 39.3 630.7 39.2 631.9 39.3 633.1 39.3 634.3 39.4 635.5 39.6 636.8 39.7 638 39.8 639.2 40 640.4 40.1 641.6 40.3 642.8 40.4 644 40.5 645.2 40.6 646.4 40.6 647.6 40.7 648.8 40.8 650 40.8 651.2 40.9 652.4 41 653.6 41 654.8 41 656 40.9 657.3 40.8 658.5 40.8 659.7 40.8 660.9 40.4 662.1 39.5 663.3 38.4 664.5 37.8 665.7 38 666.9 38.6 668.1 39.4 669.3 39.9 670.5 40.3 671.7 40.5 672.9 40.7" stroke="#9467bd" stroke-width="0.60" fill="none" stroke-linejoin="round"/>
<path d="M499.3 39.4 499.8 39.6 500.3 39.8 500.7 39.9 501.2 40 501.7 40.1 502.2 40.2 502.7 40.3 503.2 40.4 503.6 40.4 504.1 40.5 504.6 40.5 505.1 40.6 505.6 40.6 506.1 40.7 506.5 40.7 507 40.7 507.5 40.7 508 40.8 508.5 40.8 508.9 40.8 509.4 40.8 509.9 40.8 510.4 40.8 510.9 40.8 511.4 40.8 511.8 40.9 512.3 40.9 512.8 40.9 513.3 40.9 513.8 40.9 515.7 40.9 521.5 40.8 527.3 40.8 533.1 40.7 538.8 40.8 544.6 40.9 550.4 40.9 556.2 40.9 562 40.9 567.8 40.9 573.6 40.9 579.4 40.9 585.1 41 590.9 41 593.3 41 594.6 41.1 595.8 41.1 597 41.1 598.2 41.2 599.4 41.2 600.6 41.3 601.8 41.3 603 41.4 604.2 41.4 605.4 41.4 606.6 41.5 607.8 41.5 609 41.5 610.2 41.5 611.4 41.4 612.6 41.3 613.8 41.2 615.1 41.1 616.3 41 617.5 40.9 618.7 40.8 619.9 40.7 621.1 40.5 622.3 40.4 623.5 40.2 624.7 40 625.9 39.9 627.1 39.8 628.3 39.7 629.5 39.6 630.7 39.6 631.9 39.7 633.1 39.7 634.3 39.8 635.5 39.9 636.8 40 638 40.1 639.2 40.3 640.4 40.4 641.6 40.5 642.8 40.6 644 40.6 645.2 40.7 646.4 40.7 647.6 40.8 648.8 40.8 650 40.9 651.2 41 652.4 41 653.6 41 654.8 41 656 40.9 657.3 40.9 658.5 40.9 659.7 40.9 660.9 40.6 662.1 39.8 663.3 38.9 664.5 38.4 665.7 38.6 666.9 39.2 668.1 39.8 669.3 40.3 670.5 40.7 671.7 40.9 672.9 41" stroke="#8c564b" stroke-width="0.60" fill="none" stroke-linejoin="round"/>
<path d="M499.3 43.3 499.8 43 500.3 42.7 500.7 42.5 501.2 42.3 501.7 42.1 502.2 42 502.7 41.9 503.2 41.7 503.6 41.6 504.1 41.5 504.6 41.5 505.1 41.4 505.6 41.3 506.1 41.3 506.5 41.2 507 41.2 507.5 41.2 508 41.1 508.5 41.1 508.9 41.1 509.4 41.1 509.9 41 510.4 41 510.9 41 511.4 41 511.8 41 512.3 41 512.8 41 513.3 41 513.8 41 515.7 40.9 521.5 40.9 527.3 40.9 533.1 40.9 538.8 40.9 544.6 40.9 550.4 41 556.2 41 562 41 567.8 41 573.6 41 579.4 41 585.1 41 590.9 41 593.3 40.9 594.6 40.9 595.8 40.9 597 40.8 598.2 40.8 599.4 40.8 600.6 40.7 601.8 40.7 603 40.6 604.2 40.6 605.4 40.5 606.6 40.5 607.8 40.5 609 40.4 610.2 40.5 611.4 40.5 612.6 40.6 613.8 40.6 615.1 40.7 616.3 40.8 617.5 40.8 618.7 40.9 619.9 41 621.1 41.1 622.3 41.3 623.5 41.4 624.7 41.5 625.9 41.6 627.1 41.7 628.3 41.8 629.5 41.8 630.7 41.8 631.9 41.8 633.1 41.8 634.3 41.7 635.5 41.6 636.8 41.5 638 41.4 639.2 41.3 640.4 41.3 641.6 41.2 642.8 41.1 644 41 645.2 41 646.4 40.9 647.6 40.9 648.8 40.9 650 40.8 651.2 40.8 652.4 40.8 653.6 40.7 654.8 40.8 656 40.8 657.3 40.9 658.5 40.9 659.7 40.9 660.9 41.1 662.1 41.7 663.3 42.4 664.5 42.7 665.7 42.7 666.9 42.2 668.1 41.8 669.3 41.4 670.5 41.2 671.7 41 672.9 40.9" stroke="#e377c2" stroke-width="0.60" fill="none" stroke-linejoin="round"/>
<path d="M499.3 39.9 499.8 40 500.3 40.2 500.7 40.3 501.2 40.4 501.7 40.5 502.2 40.6 502.7 40.6 503.2 40.7 503.6 40.7 504.1 40.8 504.6 40.8 505.1 40.8 505.6 40.9 506.1 40.9 506.5 40.9 507 40.9 507.5 41 508 41 508.5 41 508.9 41 509.4 41 509.9 41 510.4 41 510.9 41 511.4 41 511.8 41 512.3 41 512.8 41 513.3 41 513.8 41.1 515.7 41.1 521.5 41.1 527.3 41.1 533.1 41.1 538.8 41.1 544.6 41.1 550.4 41.1 556.2 41.1 562 41.1 567.8 41 573.6 41 579.4 41 585.1 41 590.9 41 593.3 40.9 594.6 40.9 595.8 40.8 597 40.8 598.2 40.7 599.4 40.6 600.6 40.5 601.8 40.4 603 40.2 604.2 40.1 605.4 40 606.6 40 607.8 39.9 609 39.9 610.2 40 611.4 40.1 612.6 40.2 613.8 40.4 615.1 40.6 616.3 40.8 617.5 40.9 618.7 41.2 619.9 41.4 621.1 41.7 622.3 42 623.5 42.3 624.7 42.6 625.9 42.9 627.1 43.1 628.3 43.3 629.5 43.4 630.7 43.4 631.9 43.3 633.1 43.2 634.3 43 635.5 42.8 636.8 42.6 638 42.4 639.2 42.2 640.4 42 641.6 41.8 642.8 41.6 644 41.4 645.2 41.3 646.4 41.2 647.6 41.1 648.8 41 650 40.9 651.2 40.8 652.4 40.8 653.6 40.7 654.8 40.8 656 41 657.3 41.1 658.5 41.1 659.7 41.1 660.9 41.7 662.1 43.2 663.3 44.8 664.5 45.8 665.7 45.5 666.9 44.4 668.1 43.3 669.3 42.4 670.5 41.7 671.7 41.4 672.9 41.2" stroke="#7f7f7f" stroke-width="0.60" fill="none" stroke-linejoin="round"/>
<path d="M499.3 38.5 499.8 38.8 500.3 39 500.7 39.2 501.2 39.4 501.7 39.6 502.2 39.7 502.7 39.8 503.2 40 503.6 40 504.1 40.1 504.6 40.2 505.1 40.3 505.6 40.3 506.1 40.4 506.5 40.4 507 40.4 507.5 40.5 508 40.5 508.5 40.5 508.9 40.5 509.4 40.5 509.9 40.6 510.4 40.6 510.9 40.6 511.4 40.6 511.8 40.6 512.3 40.6 512.8 40.6 513.3 40.6 513.8 40.6 515.7 40.6 521.5 40.7 527.3 40.7 533.1 40.7 538.8 40.7 544.6 40.7 550.4 40.8 556.2 40.8 562 40.7 567.8 40.7 573.6 40.7 579.4 40.7 585.1 40.6 590.9 40.6 593.3 40.6 594.6 40.6 595.8 40.6 597 40.6 598.2 40.5 599.4 40.5 600.6 40.4 601.8 40.4 603 40.3 604.2 40.3 605.4 40.2 606.6 40.2 607.8 40.2 609 40.2 610.2 40.2 611.4 40.2 612.6 40.3 613.8 40.3 615.1 40.4 616.3 40.5 617.5 40.6 618.7 40.6 619.9 40.7 621.1 40.9 622.3 41 623.5 41.1 624.7 41.2 625.9 41.3 627.1 41.4 628.3 41.5 629.5 41.5 630.7 41.5 631.9 41.5 633.1 41.4 634.3 41.4 635.5 41.3 636.8 41.2 638 41.1 639.2 41 640.4 40.9 641.6 40.8 642.8 40.8 644 40.7 645.2 40.6 646.4 40.6 647.6 40.6 648.8 40.5 650 40.5 651.2 40.5 652.4 40.4 653.6 40.4 654.8 40.5 656 40.6 657.3 40.6 658.5 40.6 659.7 40.6 660.9 40.9 662.1 41.5 663.3 42.2 664.5 42.6 665.7 42.5 666.9 42 668.1 41.6 669.3 41.2 670.5 40.9 671.7 40.8 672.9 40.7" stroke="#bcbd22" stroke-width="0.60" fill="none" stroke-linejoin="round"/>
<path d="M499.3 46.4 499.8 45.7 500.3 45.1 500.7 44.6 501.2 44.2 501.7 43.8 502.2 43.4 502.7 43.1 503.2 42.9 503.6 42.7 504.1 42.5 504.6 42.3 505.1 42.1 505.6 42 506.1 41.9 506.5 41.8 507 41.7 507.5 41.6 508 41.5 508.5 41.5 508.9 41.4 509.4 41.4 509.9 41.3 510.4 41.3 510.9 41.3 511.4 41.2 511.8 41.2 512.3 41.2 512.8 41.2 513.3 41.2 513.8 41.2 515.7 41.1 521.5 41.1 527.3 41.1 533.1 41.1 538.8 41.1 544.6 41.1 550.4 41.1 556.2 41.1 562 41.1 567.8 41.1 573.6 41.1 579.4 41.1 585.1 41.1 590.9 41.1 593.3 41.1 594.6 41.1 595.8 41.1 597 41.1 598.2 41.1 599.4 41.2 600.6 41.2 601.8 41.2 603 41.3 604.2 41.3 605.4 41.3 606.6 41.4 607.8 41.4 609 41.4 610.2 41.4 611.4 41.4 612.6 41.3 613.8 41.3 615.1 41.2 616.3 41.2 617.5 41.1 618.7 41.1 619.9 41 621.1 41 622.3 40.9 623.5 40.8 624.7 40.8 625.9 40.7 627.1 40.6 628.3 40.6 629.5 40.6 630.7 40.6 631.9 40.6 633.1 40.6 634.3 40.7 635.5 40.7 636.8 40.8 638 40.8 639.2 40.9 640.4 40.9 641.6 41 642.8 41 644 41 645.2 41.1 646.4 41.1 647.6 41.1 648.8 41.1 650 41.2 651.2 41.2 652.4 41.2 653.6 41.2 654.8 41.2 656 41.2 657.3 41.1 658.5 41.1 659.7 41.1 660.9 41 662.1 40.7 663.3 40.3 664.5 40 665.7 40.1 666.9 40.4 668.1 40.6 669.3 40.9 670.5 41 671.7 41.1 672.9 41.1" stroke="#17becf" stroke-width="0.60" fill="none" stroke-linejoin="round"/>
<path d="M499.3 37.3 499.8 37.8 500.3 38.2 500.7 38.6 501.2 38.9 501.7 39.2 502.2 39.4 502.7 39.6 503.2 39.8 503.6 40 504.1 40.1 504.6 40.2 505.1 40.4 505.6 40.4 506.1 40.5 506.5 40.6 507 40.7 507.5 40.7 508 40.8 508.5 40.8 508.9 40.8 509.4 40.9 509.9 40.9 510.4 40.9 510.9 40.9 511.4 41 511.8 41 512.3 41 512.8 41 513.3 41 513.8 41 515.7 41 521.5 41 527.3 41.1 533.1 41.1 538.8 41.1 544.6 41.1 550.4 41.1 556.2 41.1 562 41.1 567.8 41 573.6 41.1 579.4 41.1 585.1 41.1 590.9 41.2 593.3 41.2 594.6 41.2 595.8 41.2 597 41.3 598.2 41.3 599.4 41.4 600.6 41.4 601.8 41.5 603 41.5 604.2 41.6 605.4 41.6 606.6 41.7 607.8 41.7 609 41.7 610.2 41.7 611.4 41.6 612.6 41.6 613.8 41.5 615.1 41.4 616.3 41.3 617.5 41.2 618.7 41.2 619.9 41.1 621.1 40.9 622.3 40.8 623.5 40.6 624.7 40.5 625.9 40.4 627.1 40.3 628.3 40.2 629.5 40.2 630.7 40.2 631.9 40.2 633.1 40.3 634.3 40.3 635.5 40.4 636.8 40.5 638 40.6 639.2 40.7 640.4 40.8 641.6 40.9 642.8 41 644 41 645.2 41.1 646.4 41.1 647.6 41.2 648.8 41.2 650 41.2 651.2 41.3 652.4 41.3 653.6 41.3 654.8 41.3 656 41.2 657.3 41.1 658.5 41.1 659.7 41.1 660.9 40.8 662.1 40.2 663.3 39.5 664.5 39 665.7 39.1 666.9 39.7 668.1 40.2 669.3 40.6 670.5 40.9 671.7 41.1 672.9 41.1" stroke="#1f77b4" stroke-width="0.60" fill="none" stroke-linejoin="round"/>
<path d="M499.3 37.1 499.8 37.5 500.3 37.9 500.7 38.2 501.2 38.5 501.7 38.7 502.2 39 502.7 39.1 503.2 39.3 503.6 39.5 504.1 39.6 504.6 39.7 505.1 39.8 505.6 39.9 506.1 40 506.5 40 507 40.1 507.5 40.1 508 40.2 508.5 40.2 508.9 40.3 509.4 40.3 509.9 40.3 510.4 40.3 510.9 40.3 511.4 40.4 511.8 40.4 512.3 40.4 512.8 40.4 513.3 40.4 513.8 40.4 515.7 40.4 521.5 40.4 527.3 40.4 533.1 40.4 538.8 40.4 544.6 40.4 550.4 40.4 556.2 40.4 562 40.4 567.8 40.4 573.6 40.4 579.4 40.4 585.1 40.4 590.9 40.4 593.3 40.5 594.6 40.5 595.8 40.6 597 40.6 598.2 40.7 599.4 40.8 600.6 40.9 601.8 41 603 41 604.2 41.1 605.4 41.2 606.6 41.3 607.8 41.3 609 41.3 610.2 41.3 611.4 41.2 612.6 41.1 613.8 41 615.1 40.8 616.3 40.7 617.5 40.5 618.7 40.4 619.9 40.2 621.1 40 622.3 39.7 623.5 39.5 624.7 39.2 625.9 39 627.1 38.8 628.3 38.7 629.5 38.7 630.7 38.6 631.9 38.7 633.1 38.7 634.3 38.9 635.5 39 636.8 39.2 638 39.3 639.2 39.5 640.4 39.7 641.6 39.8 642.8 39.9 644 40.1 645.2 40.1 646.4 40.2 647.6 40.3 648.8 40.3 650 40.4 651.2 40.5 652.4 40.6 653.6 40.6 654.8 40.5 656 40.4 657.3 40.3 658.5 40.3 659.7 40.3 660.9 39.8 662.1 38.7 663.3 37.5 664.5 36.8 665.7 37 666.9 37.8 668.1 38.6 669.3 39.3 670.5 39.8 671.7 40.1 672.9 40.3" stroke="#ff7f0e" stroke-width="0.60" fill="none" stroke-linejoin="round"/>
<path d="M499.3 35.8 499.8 36.4 500.3 36.9 500.7 37.3 501.2 37.7 501.7 38 502.2 38.3 502.7 38.6 503.2 38.8 503.6 39 504.1 39.2 504.6 39.3 505.1 39.5 505.6 39.6 506.1 39.7 506.5 39.8 507 39.8 507.5 39.9 508 40 508.5 40 508.9 40 509.4 40.1 509.9 40.1 510.4 40.1 510.9 40.2 511.4 40.2 511.8 40.2 512.3 40.2 512.8 40.2 513.3 40.3 513.8 40.3 515.7 40.3 521.5 40.3 527.3 40.4 533.1 40.4 538.8 40.4 544.6 40.4 550.4 40.4 556.2 40.4 562 40.4 567.8 40.4 573.6 40.4 579.4 40.4 585.1 40.4 590.9 40.4 593.3 40.3 594.6 40.3 595.8 40.3 597 40.3 598.2 40.2 599.4 40.2 600.6 40.1 601.8 40 603 40 604.2 39.9 605.4 39.9 606.6 39.8 607.8 39.8 609 39.8 610.2 39.8 611.4 39.8 612.6 39.8 613.8 39.9 615.1 40 616.3 40 617.5 40.1 618.7 40.2 619.9 40.3 621.1 40.4 622.3 40.5 623.5 40.6 624.7 40.7 625.9 40.8 627.1 40.9 628.3 41 629.5 41 630.7 41 631.9 41 633.1 40.9 634.3 40.9 635.5 40.8 636.8 40.7 638 40.7 639.2 40.6 640.4 40.5 641.6 40.4 642.8 40.4 644 40.3 645.2 40.3 646.4 40.2 647.6 40.2 648.8 40.2 650 40.2 651.2 40.1 652.4 40.1 653.6 40.1 654.8 40.1 656 40.2 657.3 40.3 658.5 40.3 659.7 40.3 660.9 40.5 662.1 41.1 663.3 41.7 664.5 42 665.7 41.9 666.9 41.5 668.1 41.1 669.3 40.7 670.5 40.5 671.7 40.4 672.9 40.3" stroke="#2ca02c" stroke-width="0.60" fill="none" stroke-linejoin="round"/>
<path d="M499.3 37.5 499.8 37.9 500.3 38.3 500.7 38.6 501.2 38.9 501.7 39.2 502.2 39.4 502.7 39.6 503.2 39.8 503.6 39.9 504.1 40.1 504.6 40.2 505.1 40.3 505.6 40.4 506.1 40.4 506.5 40.5 507 40.6 507.5 40.6 508 40.7 508.5 40.7 508.9 40.7 509.4 40.8 509.9 40.8 510.4 40.8 510.9 40.8 511.4 40.9 511.8 40.9 512.3 40.9 512.8 40.9 513.3 40.9 513.8 40.9 515.7 41 521.5 41 527.3 41 533.1 41 538.8 41 544.6 41 550.4 41 556.2 41 562 41 567.8 41 573.6 41 579.4 41 585.1 41 590.9 41 593.3 40.9 594.6 40.9 595.8 40.8 597 40.8 598.2 40.7 599.4 40.7 600.6 40.6 601.8 40.6 603 40.5 604.2 40.4 605.4 40.4 606.6 40.3 607.8 40.3 609 40.3 610.2 40.3 611.4 40.4 612.6 40.4 613.8 40.5 615.1 40.7 616.3 40.8 617.5 40.9 618.7 41 619.9 41.1 621.1 41.3 622.3 41.5 623.5 41.7 624.7 41.9 625.9 42 627.1 42.1 628.3 42.2 629.5 42.3 630.7 42.3 631.9 42.3 633.1 42.2 634.3 42.1 635.5 42 636.8 41.9 638 41.7 639.2 41.6 640.4 41.5 641.6 41.4 642.8 41.3 644 41.2 645.2 41.1 646.4 41.1 647.6 41 648.8 41 650 40.9 651.2 40.8 652.4 40.8 653.6 40.8 654.8 40.8 656 40.9 657.3 41 658.5 41 659.7 41 660.9 41.3 662.1 42.2 663.3 43.1 664.5 43.6 665.7 43.5 666.9 42.9 668.1 42.2 669.3 41.7 670.5 41.3 671.7 41.1 672.9 41" stroke="#d62728" stroke-width="0.60" fill="none" stroke-linejoin="round"/>
<path d="M499.3 40.5 499.8 40.7 500.3 40.8 500.7 40.9 501.2 41 501.7 41.1 502.2 41.2 502.7 41.2 503.2 41.3 503.6 41.3 504.1 41.4 504.6 41.4 505.1 41.4 505.6 41.4 506.1 41.5 506.5 41.5 507 41.5 507.5 41.5 508 41.5 508.5 41.5 508.9 41.5 509.4 41.6 509.9 41.6 510.4 41.6 510.9 41.6 511.4 41.6 511.8 41.6 512.3 41.6 512.8 41.6 513.3 41.6 513.8 41.6 515.7 41.7 521.5 41.7 527.3 41.8 533.1 41.9 538.8 41.8 544.6 41.7 550.4 41.7 556.2 41.6 562 41.6 567.8 41.7 573.6 41.7 579.4 41.8 585.1 41.8 590.9 41.9 593.3 41.9 594.6 41.9 595.8 42 597 42 598.2 42.1 599.4 42.2 600.6 42.3 601.8 42.4 603 42.5 604.2 42.6 605.4 42.7 606.6 42.8 607.8 42.9 609 42.9 610.2 42.9 611.4 42.8 612.6 42.7 613.8 42.6 615.1 42.4 616.3 42.3 617.5 42.2 618.7 42 619.9 41.9 621.1 41.7 622.3 41.4 623.5 41.2 624.7 41 625.9 40.8 627.1 40.6 628.3 40.5 629.5 40.4 630.7 40.4 631.9 40.4 633.1 40.5 634.3 40.7 635.5 40.8 636.8 41 638 41.1 639.2 41.3 640.4 41.5 641.6 41.6 642.8 41.7 644 41.8 645.2 41.9 646.4 42 647.6 42 648.8 42.1 650 42.2 651.2 42.2 652.4 42.3 653.6 42.3 654.8 42.3 656 42.1 657.3 42 658.5 42 659.7 42 660.9 41.5 662.1 40.5 663.3 39.3 664.5 38.6 665.7 38.8 666.9 39.6 668.1 40.4 669.3 41.1 670.5 41.6 671.7 41.8 672.9 41.9" stroke="#9467bd" stroke-width="0.60" fill="none" stroke-linejoin="round"/>
<path d="M499.3 44.3 499.8 43.8 500.3 43.5 500.7 43.1 501.2 42.9 501.7 42.6 502.2 42.4 502.7 42.2 503.2 42.1 503.6 41.9 504.1 41.8 504.6 41.7 505.1 41.6 505.6 41.5 506.1 41.4 506.5 41.4 507 41.3 507.5 41.3 508 41.2 508.5 41.2 508.9 41.1 509.4 41.1 509.9 41.1 510.4 41.1 510.9 41 511.4 41 511.8 41 512.3 41 512.8 41 513.3 41 513.8 41 515.7 41 521.5 40.9 527.3 40.9 533.1 41 538.8 41 544.6 41 550.4 41 556.2 40.9 562 40.9 567.8 40.9 573.6 40.9 579.4 40.9 585.1 40.9 590.9 40.9 593.3 40.8 594.6 40.8 595.8 40.7 597 40.6 598.2 40.5 599.4 40.4 600.6 40.3 601.8 40.2 603 40 604.2 39.9 605.4 39.8 606.6 39.7 607.8 39.7 609 39.7 610.2 39.7 611.4 39.8 612.6 39.9 613.8 40.1 615.1 40.3 616.3 40.5 617.5 40.7 618.7 40.9 619.9 41.1 621.1 41.4 622.3 41.7 623.5 42.1 624.7 42.4 625.9 42.7 627.1 42.9 628.3 43 629.5 43.1 630.7 43.2 631.9 43.1 633.1 43 634.3 42.8 635.5 42.6 636.8 42.4 638 42.2 639.2 42 640.4 41.7 641.6 41.5 642.8 41.4 644 41.2 645.2 41.1 646.4 41 647.6 40.9 648.8 40.8 650 40.7 651.2 40.6 652.4 40.5 653.6 40.5 654.8 40.6 656 40.7 657.3 40.9 658.5 40.9 659.7 40.9 660.9 41.5 662.1 42.9 663.3 44.5 664.5 45.5 665.7 45.3 666.9 44.2 668.1 43.1 669.3 42.1 670.5 41.5 671.7 41.2 672.9 41" stroke="#8c564b" stroke-width="0.60" fill="none" stroke-linejoin="round"/>
<path d="M499.3 36.3 499.8 36.8 500.3 37.3 500.7 37.7 501.2 38 501.7 38.3 502.2 38.6 502.7 38.8 503.2 39 503.6 39.2 504.1 39.3 504.6 39.5 505.1 39.6 505.6 39.7 506.1 39.8 506.5 39.9 507 39.9 507.5 40 508 40 508.5 40.1 508.9 40.1 509.4 40.2 509.9 40.2 510.4 40.2 510.9 40.3 511.4 40.3 511.8 40.3 512.3 40.3 512.8 40.3 513.3 40.3 513.8 40.3 515.7 40.4 521.5 40.4 527.3 40.5 533.1 40.5 538.8 40.5 544.6 40.5 550.4 40.5 556.2 40.5 562 40.5 567.8 40.5 573.6 40.4 579.4 40.4 585.1 40.4 590.9 40.4 593.3 40.3 594.6 40.2 595.8 40.2 597 40.1 598.2 40 599.4 39.8 600.6 39.7 601.8 39.6 603 39.4 604.2 39.3 605.4 39.2 606.6 39.1 607.8 39 609 39 610.2 39.1 611.4 39.2 612.6 39.3 613.8 39.5 615.1 39.7 616.3 39.9 617.5 40 618.7 40.2 619.9 40.5 621.1 40.8 622.3 41.1 623.5 41.4 624.7 41.7 625.9 42 627.1 42.2 628.3 42.4 629.5 42.5 630.7 42.5 631.9 42.5 633.1 42.3 634.3 42.2 635.5 42 636.8 41.8 638 41.5 639.2 41.3 640.4 41.1 641.6 40.9 642.8 40.7 644 40.6 645.2 40.5 646.4 40.4 647.6 40.3 648.8 40.2 650 40.1 651.2 40 652.4 39.9 653.6 39.9 654.8 39.9 656 40.1 657.3 40.3 658.5 40.2 659.7 40.2 660.9 40.8 662.1 42.3 663.3 43.8 664.5 44.8 665.7 44.5 666.9 43.5 668.1 42.3 669.3 41.4 670.5 40.8 671.7 40.5 672.9 40.4" stroke="#e377c2" stroke-width="0.60" fill="none" stroke-linejoin="round"/>
<path d="M499.3 39.7 499.8 39.9 500.3 40.1 500.7 40.2 501.2 40.3 501.7 40.4 502.2 40.5 502.7 40.6 503.2 40.6 503.6 40.7 504.1 40.7 504.6 40.8 505.1 40.8 505.6 40.9 506.1 40.9 506.5 40.9 507 40.9 507.5 41 508 41 508.5 41 508.9 41 509.4 41 509.9 41 510.4 41 510.9 41 511.4 41.1 511.8 41.1 512.3 41.1 512.8 41.1 513.3 41.1 513.8 41.1 515.7 41.1 521.5 41.1 527.3 41.1 533.1 41.1 538.8 41.1 544.6 41.1 550.4 41.1 556.2 41.1 562 41.1 567.8 41.1 573.6 41.1 579.4 41.1 585.1 41.1 590.9 41.2 593.3 41.3 594.6 41.3 595.8 41.4 597 41.5 598.2 41.6 599.4 41.7 600.6 41.8 601.8 41.9 603 42 604.2 42.2 605.4 42.3 606.6 42.4 607.8 42.4 609 42.4 610.2 42.4 611.4 42.3 612.6 42.1 613.8 42 615.1 41.8 616.3 41.6 617.5 41.4 618.7 41.2 619.9 41 621.1 40.7 622.3 40.4 623.5 40.1 624.7 39.8 625.9 39.5 627.1 39.3 628.3 39.1 629.5 39 630.7 39 631.9 39.1 633.1 39.2 634.3 39.3 635.5 39.5 636.8 39.8 638 40 639.2 40.2 640.4 40.4 641.6 40.6 642.8 40.8 644 40.9 645.2 41 646.4 41.1 647.6 41.2 648.8 41.3 650 41.4 651.2 41.5 652.4 41.6 653.6 41.6 654.8 41.6 656 41.4 657.3 41.3 658.5 41.3 659.7 41.3 660.9 40.7 662.1 39.3 663.3 37.7 664.5 36.8 665.7 37 666.9 38.1 668.1 39.2 669.3 40 670.5 40.6 671.7 40.9 672.9 41.1" stroke="#7f7f7f" stroke-width="0.60" fill="none" stroke-linejoin="round"/>
<path d="M499.3 44.6 499.8 44.1 500.3 43.7 500.7 43.3 501.2 42.9 501.7 42.6 502.2 42.4 502.7 42.1 503.2 41.9 503.6 41.8 504.1 41.6 504.6 41.5 505.1 41.4 505.6 41.3 506.1 41.2 506.5 41.1 507 41 507.5 40.9 508 40.9 508.5 40.8 508.9 40.8 509.4 40.8 509.9 40.7 510.4 40.7 510.9 40.7 511.4 40.7 511.8 40.6 512.3 40.6 512.8 40.6 513.3 40.6 513.8 40.6 515.7 40.6 521.5 40.5 527.3 40.5 533.1 40.6 538.8 40.6 544.6 40.6 550.4 40.6 556.2 40.6 562 40.6 567.8 40.6 573.6 40.6 579.4 40.6 585.1 40.5 590.9 40.5 593.3 40.5 594.6 40.5 595.8 40.5 597 40.5 598.2 40.5 599.4 40.5 600.6 40.5 601.8 40.5 603 40.5 604.2 40.5 605.4 40.5 606.6 40.5 607.8 40.5 609 40.5 610.2 40.5 611.4 40.5 612.6 40.5 613.8 40.5 615.1 40.5 616.3 40.5 617.5 40.5 618.7 40.4 619.9 40.4 621.1 40.4 622.3 40.4 623.5 40.4 624.7 40.3 625.9 40.3 627.1 40.3 628.3 40.3 629.5 40.3 630.7 40.3 631.9 40.3 633.1 40.3 634.3 40.3 635.5 40.4 636.8 40.4 638 40.4 639.2 40.4 640.4 40.4 641.6 40.5 642.8 40.5 644 40.5 645.2 40.5 646.4 40.5 647.6 40.5 648.8 40.5 650 40.5 651.2 40.5 652.4 40.5 653.6 40.5 654.8 40.5 656 40.5 657.3 40.5 658.5 40.5 659.7 40.5 660.9 40.4 662.1 40.3 663.3 40.2 664.5 40.1 665.7 40.1 666.9 40.2 668.1 40.2 669.3 40.3 670.5 40.4 671.7 40.4 672.9 40.5" stroke="#bcbd22" stroke-width="0.60" fill="none" stroke-linejoin="round"/>
<path d="M499.3 40 499.8 40 500.3 40.1 500.7 40.1 501.2 40.1 501.7 40.1 502.2 40.1 502.7 40.1 503.2 40.2 503.6 40.2 504.1 40.2 504.6 40.2 505.1 40.2 505.6 40.2 506.1 40.2 506.5 40.2 507 40.2 507.5 40.2 508 40.2 508.5 40.2 508.9 40.2 509.4 40.2 509.9 40.2 510.4 40.2 510.9 40.2 511.4 40.2 511.8 40.2 512.3 40.2 512.8 40.2 513.3 40.2 513.8 40.2 515.7 40.2 521.5 40.2 527.3 40.2 533.1 40.2 538.8 40.2 544.6 40.2 550.4 40.2 556.2 40.2 562 40.2 567.8 40.2 573.6 40.2 579.4 40.2 585.1 40.2 590.9 40.1 593.3 40.1 594.6 40 595.8 40 597 39.9 598.2 39.8 599.4 39.7 600.6 39.6 601.8 39.5 603 39.3 604.2 39.2 605.4 39.1 606.6 39 607.8 39 609 39 610.2 39 611.4 39.1 612.6 39.2 613.8 39.3 615.1 39.5 616.3 39.6 617.5 39.8 618.7 39.9 619.9 40.1 621.1 40.4 622.3 40.6 623.5 40.9 624.7 41.1 625.9 41.4 627.1 41.6 628.3 41.7 629.5 41.8 630.7 41.8 631.9 41.7 633.1 41.6 634.3 41.5 635.5 41.4 636.8 41.2 638 41 639.2 40.8 640.4 40.7 641.6 40.5 642.8 40.4 644 40.2 645.2 40.1 646.4 40.1 647.6 40 648.8 39.9 650 39.9 651.2 39.8 652.4 39.7 653.6 39.7 654.8 39.7 656 39.9 657.3 40 658.5 40 659.7 40 660.9 40.5 662.1 41.7 663.3 42.9 664.5 43.7 665.7 43.5 666.9 42.6 668.1 41.7 669.3 41 670.5 40.5 671.7 40.2 672.9 40.1" stroke="#ff7f0e" stroke-width="0.60" fill="none" stroke-linejoin="round"/>
<path d="M499.9 7.3 501 11.8 502.1 16.4 503.2 20.8 504.2 24.8 505.3 28 506.4 30.3 507.5 32.1 508.6 33.4 509.7 34.2 510.8 34.8 511.9 35.2 512.9 35.6 514 35.9 515.1 36.1 516.2 36.4 517.3 36.6 518.4 36.8 519.5 37 520.5 37.1 521.6 37.3 522.7 37.5 523.8 37.8 524.9 38 526 38.2 527.1 38.4 528.2 38.6 529.2 38.8 530.3 39 531.4 39.1 532.5 39.2 533.6 39.3 534.7 39.3 535.8 39.3 536.9 39.3 537.9 39.3 539 39.2 540.1 39.2 541.2 39.2 542.3 39.1 543.4 39.1 544.5 39 545.5 39 546.6 38.9 547.7 38.7 548.8 38.6 549.9 38.4 551 38.3 552.1 38.3 553.2 38.3 554.2 38.3 555.3 38.4 556.4 38.4 557.5 38.4 558.6 38.5 559.7 38.6 560.8 38.7 561.8 39.1 562.9 39.5 564 39.9 565.1 40.3 566.2 40.6 567.3 41 568.4 41.3 569.5 41.6 570.5 41.9 571.6 42.2 572.7 42.4 573.8 42.6 574.9 42.8 576 43 577.1 43.1 578.1 43.2 579.2 43.2 580.3 43.1 581.4 42.9 582.5 42.7 583.6 42.5 584.7 42.2 585.8 41.9 586.8 41.5 587.9 41.1 589 40.6 590.1 40 591.2 39.5 592.3 39 593.4 38.4 594.5 37.9 595.5 37.3 596.6 36.7 597.7 36.1 598.8 35.5 599.9 34.9 601 34.2 602.1 33.5 603.1 32.8 604.2 32.1 605.3 31.4 606.4 30.8 607.5 30.2 608.6 29.6 609.7 29.2 610.8 28.9 611.8 28.7 612.9 28.5 614 28.4 615.1 28.4 616.2 29 617.3 29.9 618.4 30.8 619.4 32.1 620.5 33.8 621.6 36.1 622.7 39 623.8 42.2 624.9 45 626 47.6 627.1 50.1 628.1 52.5 629.2 54.6 630.3 56.1 631.4 57.3 632.5 58.5 633.6 59.4 634.7 60 635.7 60.1 636.8 59.6 637.9 58.7 639 57.6 640.1 56.3 641.2 54.8 642.3 52.6 643.4 50 644.4 47.3 645.5 44.8 646.6 42.6 647.7 40.4 648.8 38.3 649.9 36.4 651 34.8 652.1 33.5 653.1 32.2 654.2 31.1 655.3 30.4 656.4 30.1 657.5 30.3 658.6 30.7 659.7 31.4 660.7 34 661.8 40.1 662.9 47.7 664 57.6 665.1 68.1 666.2 79.4 667.3 88.5 668.4 84.1 669.4 74.7 670.5 62.9 671.6 53.6 672.7 45.3" stroke="#4593cf" stroke-width="0.70" fill="none" stroke-linejoin="round"/>
<path d="M43.4 110.4 214.5 192.3" stroke="#c0503a" stroke-width="1.00" fill="none" stroke-linejoin="round"/>
<path d="M271.5 110.5 278.7 114.1 285.9 117.6 293.1 121.1 300.4 124.6 307.6 128.1 314.8 131.6 322 135.1 329.2 138.7 336.4 142.2 343.6 145.7 350.8 149.2 358.1 152.7 365.3 156.2 372.5 159.7 379.7 163.1 386.9 166.5 394.1 169.9 401.3 173.2 408.6 176.6 415.8 179.8 423 183.1 430.2 186.2 437.4 189.4 444.6 192.3" stroke="#6aaa6a" stroke-width="0.60" fill="none" stroke-linejoin="round"/>
<path d="M271.5 110.5 278.7 114 285.9 117.5 293.1 121 300.4 124.5 307.6 128.1 314.8 131.6 322 135.1 329.2 138.6 336.4 142.1 343.6 145.6 350.8 149.1 358.1 152.6 365.3 156.1 372.5 159.5 379.7 163 386.9 166.4 394.1 169.8 401.3 173.1 408.6 176.5 415.8 179.7 423 183 430.2 186.2 437.4 189.3 444.6 192.3" stroke="#2ca02c" stroke-width="0.60" fill="none" stroke-linejoin="round"/>
<path d="M271.5 110.5 278.7 114 285.9 117.5 293.1 121 300.4 124.5 307.6 128 314.8 131.5 322 135 329.2 138.5 336.4 142.1 343.6 145.5 350.8 149 358.1 152.5 365.3 156 372.5 159.4 379.7 162.9 386.9 166.3 394.1 169.7 401.3 173 408.6 176.3 415.8 179.6 423 182.9 430.2 186.1 437.4 189.3 444.6 192.3" stroke="#5a9a7a" stroke-width="0.60" fill="none" stroke-linejoin="round"/>
<path d="M271.5 110.5 278.7 114 285.9 117.5 293.1 121 300.4 124.5 307.6 128 314.8 131.5 322 135 329.2 138.5 336.4 142 343.6 145.5 350.8 148.9 358.1 152.4 365.3 155.9 372.5 159.3 379.7 162.7 386.9 166.2 394.1 169.5 401.3 172.9 408.6 176.2 415.8 179.6 423 182.8 430.2 186.1 437.4 189.3 444.6 192.3" stroke="#8f8f8f" stroke-width="0.60" fill="none" stroke-linejoin="round"/>
<path d="M271.5 110.5 278.7 114 285.9 117.5 293.1 121 300.4 124.5 307.6 128 314.8 131.5 322 134.9 329.2 138.4 336.4 141.9 343.6 145.4 350.8 148.9 358.1 152.3 365.3 155.8 372.5 159.2 379.7 162.6 386.9 166 394.1 169.4 401.3 172.8 408.6 176.1 415.8 179.5 423 182.8 430.2 186 437.4 189.2 444.6 192.3" stroke="#2ca02c" stroke-width="0.60" fill="none" stroke-linejoin="round"/>
<path d="M271.5 110.5 278.7 114 285.9 117.5 293.1 121 300.4 124.5 307.6 128 314.8 131.4 322 134.9 329.2 138.4 336.4 141.8 343.6 145.3 350.8 148.8 358.1 152.2 365.3 155.7 372.5 159.1 379.7 162.5 386.9 165.9 394.1 169.3 401.3 172.7 408.6 176 415.8 179.4 423 182.7 430.2 186 437.4 189.2 444.6 192.3" stroke="#17becf" stroke-width="0.60" fill="none" stroke-linejoin="round"/>
<path d="M271.5 110.5 278.7 114 285.9 117.5 293.1 121 300.4 124.5 307.6 127.9 314.8 131.4 322 134.9 329.2 138.3 336.4 141.8 343.6 145.2 350.8 148.7 358.1 152.1 365.3 155.5 372.5 159 379.7 162.4 386.9 165.8 394.1 169.2 401.3 172.6 408.6 175.9 415.8 179.3 423 182.6 430.2 185.9 437.4 189.2 444.6 192.3" stroke="#8c564b" stroke-width="0.60" fill="none" stroke-linejoin="round"/>
<path d="M271.5 110.5 278.7 114 285.9 117.5 293.1 121 300.4 124.4 307.6 127.9 314.8 131.4 322 134.8 329.2 138.3 336.4 141.7 343.6 145.1 350.8 148.6 358.1 152 365.3 155.4 372.5 158.9 379.7 162.3 386.9 165.7 394.1 169.1 401.3 172.5 408.6 175.8 415.8 179.2 423 182.5 430.2 185.8 437.4 189.1 444.6 192.3" stroke="#2ca02c" stroke-width="0.60" fill="none" stroke-linejoin="round"/>
<path d="M271.5 110.5 278.7 114 285.9 117.5 293.1 121 300.4 124.4 307.6 127.9 314.8 131.3 322 134.8 329.2 138.2 336.4 141.6 343.6 145.1 350.8 148.5 358.1 151.9 365.3 155.3 372.5 158.7 379.7 162.2 386.9 165.6 394.1 169 401.3 172.3 408.6 175.7 415.8 179.1 423 182.4 430.2 185.8 437.4 189.1 444.6 192.3" stroke="#3a8a5a" stroke-width="0.60" fill="none" stroke-linejoin="round"/>
<path d="M271.5 110.5 444.6 192.3" stroke="#c0503a" stroke-width="1.00" fill="none" stroke-linejoin="round"/>
<path d="M499.3 112.3 503.8 114.1 508.2 115.9 512.7 117.7 517.1 119.7 521.6 121.8 526 123.8 530.5 125.8 534.9 127.9 539.4 129.9 543.8 132 548.3 134 552.7 136.1 557.2 138.1 561.6 140.2 566.1 142.2 570.5 144.3 575 146.3 579.4 148.4 583.9 150.4 588.3 152.5 592.8 154.5 597.2 156.5 601.7 158.6 606.1 160.6 610.6 162.7 615.1 164.7 619.5 166.8 624 168.8 628.4 170.7 632.9 172.7 637.3 174.8 641.8 177 646.2 179.2 650.7 181.4 655.1 183.6 659.6 185.9 664 188.4 668.5 191 672.9 193.6" stroke="#4a98d0" stroke-width="0.90" fill="none" stroke-linejoin="round"/>
<path d="M499.3 112.3 672.9 193.6" stroke="#c0503a" stroke-width="1.20" fill="none" stroke-linejoin="round"/>
<path d="M43.4 215.3 44.7 215.9 46.1 216.4 47.4 217 48.7 217.6 50.1 218.1 51.4 218.7 52.7 219.2 54 219.8 55.4 220.4 56.7 220.9 58 221.5 59.4 222 60.7 222.6 62 223.1 63.3 223.6 64.7 224.2 66 224.7 67.3 225.3 68.7 225.8 70 226.4 71.3 227 72.6 227.5 74 228.1 75.3 228.7 76.6 229.2 78 229.8 79.3 230.3 80.6 230.9 81.9 231.4 83.3 231.9 84.6 232.4 85.9 233 87.3 233.5 88.6 234 89.9 234.5 91.2 235 92.6 235.5 93.9 235.9 95.2 236.4 96.6 236.9 97.9 237.3 99.2 237.8 100.5 238.2 101.9 238.6 103.2 239.1 104.5 239.5 105.9 239.9 107.2 240.3 108.5 240.8 109.8 241.2 111.2 241.6 112.5 242 113.8 242.4 115.2 242.8 116.5 243.2 117.8 243.7 119.1 244.1 120.5 244.5 121.8 244.8 123.1 245.2 124.5 245.5 125.8 245.8 127.1 246.1 128.4 246.4 129.8 246.8 131.1 247.2 132.4 247.6 133.8 248 135.1 248.5 136.4 248.9 137.7 249.3 139.1 249.7 140.4 250 141.7 250.4 143.1 250.7 144.4 251 145.7 251.3 147 251.6 148.4 251.8 149.7 252.1 151 252.3 152.4 252.5 153.7 252.8 155 253 156.3 253.1 157.7 253.3 159 253.6 160.3 253.8 161.7 254 163 254.3 164.3 254.6 165.6 255 167 255.3 168.3 255.7 169.6 256.1 171 256.6 172.3 257.1 173.6 257.6 174.9 258.2 176.3 258.9 177.6 259.5 178.9 260.1 180.3 260.7 181.6 261.4 182.9 262 184.2 262.7 185.6 263.4 186.9 264 188.2 264.6 189.6 265 190.9 265.4 192.2 265.7 193.5 266 194.9 266.2 196.2 266.5 197.5 266.9 198.9 267.2 200.2 267.6 201.5 268.1 202.8 268.7 204.2 269.8 205.5 271 206.8 272.1 208.2 273.6 209.5 276.2 210.8 279.7 212.1 284.6 213.5 290.3 214.8 297.4" stroke="#c0503a" stroke-width="1.00" fill="none" stroke-linejoin="round"/>
<path d="M271.5 215.4 272.8 216 274.2 216.5 275.5 217.1 276.9 217.7 278.2 218.2 279.6 218.8 280.9 219.3 282.3 219.9 283.6 220.5 284.9 221 286.3 221.6 287.6 222.1 289 222.7 290.3 223.2 291.7 223.7 293 224.3 294.4 224.8 295.7 225.4 297 225.9 298.4 226.5 299.7 227.1 301.1 227.6 302.4 228.2 303.8 228.8 305.1 229.3 306.4 229.9 307.8 230.4 309.1 231 310.5 231.5 311.8 232 313.2 232.5 314.5 233.1 315.9 233.6 317.2 234.1 318.5 234.6 319.9 235.1 321.2 235.6 322.6 236 323.9 236.5 325.3 237 326.6 237.4 328 237.9 329.3 238.3 330.6 238.7 332 239.2 333.3 239.6 334.7 240 336 240.4 337.4 240.9 338.7 241.3 340.1 241.7 341.4 242.1 342.7 242.5 344.1 242.9 345.4 243.3 346.8 243.8 348.1 244.2 349.5 244.6 350.8 244.9 352.2 245.3 353.5 245.6 354.8 245.9 356.2 246.2 357.5 246.5 358.9 246.9 360.2 247.3 361.6 247.7 362.9 248.1 364.2 248.6 365.6 249 366.9 249.4 368.3 249.8 369.6 250.1 371 250.5 372.3 250.8 373.7 251.1 375 251.4 376.3 251.7 377.7 251.9 379 252.2 380.4 252.4 381.7 252.6 383.1 252.9 384.4 253.1 385.8 253.2 387.1 253.4 388.4 253.7 389.8 253.9 391.1 254.1 392.5 254.4 393.8 254.7 395.2 255.1 396.5 255.4 397.9 255.8 399.2 256.2 400.5 256.7 401.9 257.2 403.2 257.7 404.6 258.3 405.9 259 407.3 259.6 408.6 260.2 410 260.8 411.3 261.5 412.6 262.1 414 262.8 415.3 263.5 416.7 264.1 418 264.7 419.4 265.1 420.7 265.5 422 265.8 423.4 266.1 424.7 266.3 426.1 266.6 427.4 267 428.8 267.3 430.1 267.7 431.5 268.2 432.8 268.8 434.1 269.9 435.5 271.1 436.8 272.2 438.2 273.7 439.5 276.3 440.9 279.8 442.2 284.7 443.6 290.4 444.9 297.5" stroke="#c0503a" stroke-width="1.00" fill="none" stroke-linejoin="round"/>
<rect x="34.50" y="1.40" width="188.90" height="90.00" fill="none" stroke="#999" stroke-width="1.0"/>
<path d="M43.42 91.40v1.6M67.19 91.40v1.6M90.95 91.40v1.6M114.72 91.40v1.6M138.48 91.40v1.6M162.25 91.40v1.6M186.01 91.40v1.6M209.78 91.40v1.6M34.50 12.30h-1.6M34.50 24.33h-1.6M34.50 36.36h-1.6M34.50 48.39h-1.6M34.50 60.42h-1.6M34.50 72.45h-1.6M34.50 84.48h-1.6" stroke="#777" stroke-width="0.6" fill="none"/>
<text x="43.42" y="96.00" font-size="3.30" text-anchor="middle" fill="#333" textLength="1.60" lengthAdjust="spacingAndGlyphs" stroke="#333" stroke-width="0.04">0</text>
<text x="67.19" y="96.00" font-size="3.30" text-anchor="middle" fill="#333" textLength="5.60" lengthAdjust="spacingAndGlyphs" stroke="#333" stroke-width="0.04">500</text>
<text x="90.95" y="96.00" font-size="3.30" text-anchor="middle" fill="#333" textLength="7.60" lengthAdjust="spacingAndGlyphs" stroke="#333" stroke-width="0.04">1000</text>
<text x="114.72" y="96.00" font-size="3.30" text-anchor="middle" fill="#333" textLength="7.60" lengthAdjust="spacingAndGlyphs" stroke="#333" stroke-width="0.04">1500</text>
<text x="138.48" y="96.00" font-size="3.30" text-anchor="middle" fill="#333" textLength="7.60" lengthAdjust="spacingAndGlyphs" stroke="#333" stroke-width="0.04">2000</text>
<text x="162.25" y="96.00" font-size="3.30" text-anchor="middle" fill="#333" textLength="7.60" lengthAdjust="spacingAndGlyphs" stroke="#333" stroke-width="0.04">2500</text>
<text x="186.01" y="96.00" font-size="3.30" text-anchor="middle" fill="#333" textLength="7.60" lengthAdjust="spacingAndGlyphs" stroke="#333" stroke-width="0.04">3000</text>
<text x="209.78" y="96.00" font-size="3.30" text-anchor="middle" fill="#333" textLength="7.60" lengthAdjust="spacingAndGlyphs" stroke="#333" stroke-width="0.04">3500</text>
<text x="32.80" y="13.90" font-size="3.50" text-anchor="end" fill="#222" textLength="8.60" lengthAdjust="spacingAndGlyphs" stroke="#222" stroke-width="0.05">−1.62</text>
<text x="32.80" y="25.93" font-size="3.50" text-anchor="end" fill="#222" textLength="8.60" lengthAdjust="spacingAndGlyphs" stroke="#222" stroke-width="0.05">−1.64</text>
<text x="32.80" y="37.96" font-size="3.50" text-anchor="end" fill="#222" textLength="8.60" lengthAdjust="spacingAndGlyphs" stroke="#222" stroke-width="0.05">−1.66</text>
<text x="32.80" y="49.99" font-size="3.50" text-anchor="end" fill="#222" textLength="8.60" lengthAdjust="spacingAndGlyphs" stroke="#222" stroke-width="0.05">−1.68</text>
<text x="32.80" y="62.02" font-size="3.50" text-anchor="end" fill="#222" textLength="8.60" lengthAdjust="spacingAndGlyphs" stroke="#222" stroke-width="0.05">−1.70</text>
<text x="32.80" y="74.05" font-size="3.50" text-anchor="end" fill="#222" textLength="8.60" lengthAdjust="spacingAndGlyphs" stroke="#222" stroke-width="0.05">−1.72</text>
<text x="32.80" y="86.08" font-size="3.50" text-anchor="end" fill="#222" textLength="8.60" lengthAdjust="spacingAndGlyphs" stroke="#222" stroke-width="0.05">−1.74</text>
<rect x="34.50" y="106.40" width="188.90" height="89.90" fill="none" stroke="#999" stroke-width="1.0"/>
<path d="M43.42 196.30v1.6M67.19 196.30v1.6M90.95 196.30v1.6M114.72 196.30v1.6M138.48 196.30v1.6M162.25 196.30v1.6M186.01 196.30v1.6M209.78 196.30v1.6M34.50 110.40h-1.6M34.50 126.78h-1.6M34.50 143.16h-1.6M34.50 159.54h-1.6M34.50 175.92h-1.6M34.50 192.30h-1.6" stroke="#777" stroke-width="0.6" fill="none"/>
<text x="43.42" y="200.90" font-size="3.30" text-anchor="middle" fill="#333" textLength="1.60" lengthAdjust="spacingAndGlyphs" stroke="#333" stroke-width="0.04">0</text>
<text x="67.19" y="200.90" font-size="3.30" text-anchor="middle" fill="#333" textLength="5.60" lengthAdjust="spacingAndGlyphs" stroke="#333" stroke-width="0.04">500</text>
<text x="90.95" y="200.90" font-size="3.30" text-anchor="middle" fill="#333" textLength="7.60" lengthAdjust="spacingAndGlyphs" stroke="#333" stroke-width="0.04">1000</text>
<text x="114.72" y="200.90" font-size="3.30" text-anchor="middle" fill="#333" textLength="7.60" lengthAdjust="spacingAndGlyphs" stroke="#333" stroke-width="0.04">1500</text>
<text x="138.48" y="200.90" font-size="3.30" text-anchor="middle" fill="#333" textLength="7.60" lengthAdjust="spacingAndGlyphs" stroke="#333" stroke-width="0.04">2000</text>
<text x="162.25" y="200.90" font-size="3.30" text-anchor="middle" fill="#333" textLength="7.60" lengthAdjust="spacingAndGlyphs" stroke="#333" stroke-width="0.04">2500</text>
<text x="186.01" y="200.90" font-size="3.30" text-anchor="middle" fill="#333" textLength="7.60" lengthAdjust="spacingAndGlyphs" stroke="#333" stroke-width="0.04">3000</text>
<text x="209.78" y="200.90" font-size="3.30" text-anchor="middle" fill="#333" textLength="7.60" lengthAdjust="spacingAndGlyphs" stroke="#333" stroke-width="0.04">3500</text>
<text x="32.80" y="112.00" font-size="3.50" text-anchor="end" fill="#222" textLength="5.00" lengthAdjust="spacingAndGlyphs" stroke="#222" stroke-width="0.05">1.0</text>
<text x="32.80" y="128.38" font-size="3.50" text-anchor="end" fill="#222" textLength="5.00" lengthAdjust="spacingAndGlyphs" stroke="#222" stroke-width="0.05">0.8</text>
<text x="32.80" y="144.76" font-size="3.50" text-anchor="end" fill="#222" textLength="5.00" lengthAdjust="spacingAndGlyphs" stroke="#222" stroke-width="0.05">0.6</text>
<text x="32.80" y="161.14" font-size="3.50" text-anchor="end" fill="#222" textLength="5.00" lengthAdjust="spacingAndGlyphs" stroke="#222" stroke-width="0.05">0.4</text>
<text x="32.80" y="177.52" font-size="3.50" text-anchor="end" fill="#222" textLength="5.00" lengthAdjust="spacingAndGlyphs" stroke="#222" stroke-width="0.05">0.2</text>
<text x="32.80" y="193.90" font-size="3.50" text-anchor="end" fill="#222" textLength="5.00" lengthAdjust="spacingAndGlyphs" stroke="#222" stroke-width="0.05">0.0</text>
<rect x="34.50" y="211.45" width="188.90" height="90.00" fill="none" stroke="#999" stroke-width="1.0"/>
<path d="M43.42 301.45v1.6M67.19 301.45v1.6M90.95 301.45v1.6M114.72 301.45v1.6M138.48 301.45v1.6M162.25 301.45v1.6M186.01 301.45v1.6M209.78 301.45v1.6M34.50 223.90h-1.6M34.50 236.65h-1.6M34.50 249.40h-1.6M34.50 262.15h-1.6M34.50 274.90h-1.6M34.50 287.65h-1.6M34.50 300.40h-1.6" stroke="#777" stroke-width="0.6" fill="none"/>
<text x="43.42" y="306.05" font-size="3.30" text-anchor="middle" fill="#333" textLength="1.60" lengthAdjust="spacingAndGlyphs" stroke="#333" stroke-width="0.04">0</text>
<text x="67.19" y="306.05" font-size="3.30" text-anchor="middle" fill="#333" textLength="5.60" lengthAdjust="spacingAndGlyphs" stroke="#333" stroke-width="0.04">500</text>
<text x="90.95" y="306.05" font-size="3.30" text-anchor="middle" fill="#333" textLength="7.60" lengthAdjust="spacingAndGlyphs" stroke="#333" stroke-width="0.04">1000</text>
<text x="114.72" y="306.05" font-size="3.30" text-anchor="middle" fill="#333" textLength="7.60" lengthAdjust="spacingAndGlyphs" stroke="#333" stroke-width="0.04">1500</text>
<text x="138.48" y="306.05" font-size="3.30" text-anchor="middle" fill="#333" textLength="7.60" lengthAdjust="spacingAndGlyphs" stroke="#333" stroke-width="0.04">2000</text>
<text x="162.25" y="306.05" font-size="3.30" text-anchor="middle" fill="#333" textLength="7.60" lengthAdjust="spacingAndGlyphs" stroke="#333" stroke-width="0.04">2500</text>
<text x="186.01" y="306.05" font-size="3.30" text-anchor="middle" fill="#333" textLength="7.60" lengthAdjust="spacingAndGlyphs" stroke="#333" stroke-width="0.04">3000</text>
<text x="209.78" y="306.05" font-size="3.30" text-anchor="middle" fill="#333" textLength="7.60" lengthAdjust="spacingAndGlyphs" stroke="#333" stroke-width="0.04">3500</text>
<text x="32.80" y="225.50" font-size="3.50" text-anchor="end" fill="#222" textLength="5.00" lengthAdjust="spacingAndGlyphs" stroke="#222" stroke-width="0.05">4.0</text>
<text x="32.80" y="238.25" font-size="3.50" text-anchor="end" fill="#222" textLength="5.00" lengthAdjust="spacingAndGlyphs" stroke="#222" stroke-width="0.05">3.8</text>
<text x="32.80" y="251.00" font-size="3.50" text-anchor="end" fill="#222" textLength="5.00" lengthAdjust="spacingAndGlyphs" stroke="#222" stroke-width="0.05">3.6</text>
<text x="32.80" y="263.75" font-size="3.50" text-anchor="end" fill="#222" textLength="5.00" lengthAdjust="spacingAndGlyphs" stroke="#222" stroke-width="0.05">3.4</text>
<text x="32.80" y="276.50" font-size="3.50" text-anchor="end" fill="#222" textLength="5.00" lengthAdjust="spacingAndGlyphs" stroke="#222" stroke-width="0.05">3.2</text>
<text x="32.80" y="289.25" font-size="3.50" text-anchor="end" fill="#222" textLength="5.00" lengthAdjust="spacingAndGlyphs" stroke="#222" stroke-width="0.05">3.0</text>
<text x="32.80" y="302.00" font-size="3.50" text-anchor="end" fill="#222" textLength="5.00" lengthAdjust="spacingAndGlyphs" stroke="#222" stroke-width="0.05">2.8</text>
<rect x="263.50" y="1.80" width="190.00" height="90.00" fill="none" stroke="#999" stroke-width="1.0"/>
<path d="M271.50 91.80v1.6M295.55 91.80v1.6M319.59 91.80v1.6M343.63 91.80v1.6M367.68 91.80v1.6M391.73 91.80v1.6M415.77 91.80v1.6M439.81 91.80v1.6M263.50 3.40h-1.6M263.50 13.63h-1.6M263.50 23.86h-1.6M263.50 34.09h-1.6M263.50 44.32h-1.6M263.50 54.55h-1.6M263.50 64.78h-1.6M263.50 75.01h-1.6M263.50 85.24h-1.6" stroke="#777" stroke-width="0.6" fill="none"/>
<text x="271.50" y="96.40" font-size="3.30" text-anchor="middle" fill="#333" textLength="1.60" lengthAdjust="spacingAndGlyphs" stroke="#333" stroke-width="0.04">0</text>
<text x="295.55" y="96.40" font-size="3.30" text-anchor="middle" fill="#333" textLength="5.60" lengthAdjust="spacingAndGlyphs" stroke="#333" stroke-width="0.04">500</text>
<text x="319.59" y="96.40" font-size="3.30" text-anchor="middle" fill="#333" textLength="7.60" lengthAdjust="spacingAndGlyphs" stroke="#333" stroke-width="0.04">1000</text>
<text x="343.63" y="96.40" font-size="3.30" text-anchor="middle" fill="#333" textLength="7.60" lengthAdjust="spacingAndGlyphs" stroke="#333" stroke-width="0.04">1500</text>
<text x="367.68" y="96.40" font-size="3.30" text-anchor="middle" fill="#333" textLength="7.60" lengthAdjust="spacingAndGlyphs" stroke="#333" stroke-width="0.04">2000</text>
<text x="391.73" y="96.40" font-size="3.30" text-anchor="middle" fill="#333" textLength="7.60" lengthAdjust="spacingAndGlyphs" stroke="#333" stroke-width="0.04">2500</text>
<text x="415.77" y="96.40" font-size="3.30" text-anchor="middle" fill="#333" textLength="7.60" lengthAdjust="spacingAndGlyphs" stroke="#333" stroke-width="0.04">3000</text>
<text x="439.81" y="96.40" font-size="3.30" text-anchor="middle" fill="#333" textLength="7.60" lengthAdjust="spacingAndGlyphs" stroke="#333" stroke-width="0.04">3500</text>
<text x="261.80" y="5.00" font-size="3.50" text-anchor="end" fill="#222" textLength="6.60" lengthAdjust="spacingAndGlyphs" stroke="#222" stroke-width="0.05">−1.3</text>
<text x="261.80" y="15.23" font-size="3.50" text-anchor="end" fill="#222" textLength="6.60" lengthAdjust="spacingAndGlyphs" stroke="#222" stroke-width="0.05">−1.4</text>
<text x="261.80" y="25.46" font-size="3.50" text-anchor="end" fill="#222" textLength="6.60" lengthAdjust="spacingAndGlyphs" stroke="#222" stroke-width="0.05">−1.5</text>
<text x="261.80" y="35.69" font-size="3.50" text-anchor="end" fill="#222" textLength="6.60" lengthAdjust="spacingAndGlyphs" stroke="#222" stroke-width="0.05">−1.6</text>
<text x="261.80" y="45.92" font-size="3.50" text-anchor="end" fill="#222" textLength="6.60" lengthAdjust="spacingAndGlyphs" stroke="#222" stroke-width="0.05">−1.7</text>
<text x="261.80" y="56.15" font-size="3.50" text-anchor="end" fill="#222" textLength="6.60" lengthAdjust="spacingAndGlyphs" stroke="#222" stroke-width="0.05">−1.8</text>
<text x="261.80" y="66.38" font-size="3.50" text-anchor="end" fill="#222" textLength="6.60" lengthAdjust="spacingAndGlyphs" stroke="#222" stroke-width="0.05">−1.9</text>
<text x="261.80" y="76.61" font-size="3.50" text-anchor="end" fill="#222" textLength="6.60" lengthAdjust="spacingAndGlyphs" stroke="#222" stroke-width="0.05">−2.0</text>
<text x="261.80" y="86.84" font-size="3.50" text-anchor="end" fill="#222" textLength="6.60" lengthAdjust="spacingAndGlyphs" stroke="#222" stroke-width="0.05">−2.1</text>
<rect x="263.50" y="106.40" width="190.00" height="89.90" fill="none" stroke="#999" stroke-width="1.0"/>
<path d="M271.50 196.30v1.6M295.55 196.30v1.6M319.59 196.30v1.6M343.63 196.30v1.6M367.68 196.30v1.6M391.73 196.30v1.6M415.77 196.30v1.6M439.81 196.30v1.6M263.50 110.45h-1.6M263.50 126.82h-1.6M263.50 143.19h-1.6M263.50 159.56h-1.6M263.50 175.93h-1.6M263.50 192.30h-1.6" stroke="#777" stroke-width="0.6" fill="none"/>
<text x="271.50" y="200.90" font-size="3.30" text-anchor="middle" fill="#333" textLength="1.60" lengthAdjust="spacingAndGlyphs" stroke="#333" stroke-width="0.04">0</text>
<text x="295.55" y="200.90" font-size="3.30" text-anchor="middle" fill="#333" textLength="5.60" lengthAdjust="spacingAndGlyphs" stroke="#333" stroke-width="0.04">500</text>
<text x="319.59" y="200.90" font-size="3.30" text-anchor="middle" fill="#333" textLength="7.60" lengthAdjust="spacingAndGlyphs" stroke="#333" stroke-width="0.04">1000</text>
<text x="343.63" y="200.90" font-size="3.30" text-anchor="middle" fill="#333" textLength="7.60" lengthAdjust="spacingAndGlyphs" stroke="#333" stroke-width="0.04">1500</text>
<text x="367.68" y="200.90" font-size="3.30" text-anchor="middle" fill="#333" textLength="7.60" lengthAdjust="spacingAndGlyphs" stroke="#333" stroke-width="0.04">2000</text>
<text x="391.73" y="200.90" font-size="3.30" text-anchor="middle" fill="#333" textLength="7.60" lengthAdjust="spacingAndGlyphs" stroke="#333" stroke-width="0.04">2500</text>
<text x="415.77" y="200.90" font-size="3.30" text-anchor="middle" fill="#333" textLength="7.60" lengthAdjust="spacingAndGlyphs" stroke="#333" stroke-width="0.04">3000</text>
<text x="439.81" y="200.90" font-size="3.30" text-anchor="middle" fill="#333" textLength="7.60" lengthAdjust="spacingAndGlyphs" stroke="#333" stroke-width="0.04">3500</text>
<text x="261.80" y="112.05" font-size="3.50" text-anchor="end" fill="#222" textLength="5.00" lengthAdjust="spacingAndGlyphs" stroke="#222" stroke-width="0.05">1.0</text>
<text x="261.80" y="128.42" font-size="3.50" text-anchor="end" fill="#222" textLength="5.00" lengthAdjust="spacingAndGlyphs" stroke="#222" stroke-width="0.05">0.8</text>
<text x="261.80" y="144.79" font-size="3.50" text-anchor="end" fill="#222" textLength="5.00" lengthAdjust="spacingAndGlyphs" stroke="#222" stroke-width="0.05">0.6</text>
<text x="261.80" y="161.16" font-size="3.50" text-anchor="end" fill="#222" textLength="5.00" lengthAdjust="spacingAndGlyphs" stroke="#222" stroke-width="0.05">0.4</text>
<text x="261.80" y="177.53" font-size="3.50" text-anchor="end" fill="#222" textLength="5.00" lengthAdjust="spacingAndGlyphs" stroke="#222" stroke-width="0.05">0.2</text>
<text x="261.80" y="193.90" font-size="3.50" text-anchor="end" fill="#222" textLength="5.00" lengthAdjust="spacingAndGlyphs" stroke="#222" stroke-width="0.05">0.0</text>
<rect x="263.50" y="211.30" width="190.00" height="90.10" fill="none" stroke="#999" stroke-width="1.0"/>
<path d="M271.50 301.40v1.6M295.55 301.40v1.6M319.59 301.40v1.6M343.63 301.40v1.6M367.68 301.40v1.6M391.73 301.40v1.6M415.77 301.40v1.6M439.81 301.40v1.6M263.50 223.85h-1.6M263.50 236.60h-1.6M263.50 249.35h-1.6M263.50 262.10h-1.6M263.50 274.85h-1.6M263.50 287.60h-1.6M263.50 300.35h-1.6" stroke="#777" stroke-width="0.6" fill="none"/>
<text x="271.50" y="306.00" font-size="3.30" text-anchor="middle" fill="#333" textLength="1.60" lengthAdjust="spacingAndGlyphs" stroke="#333" stroke-width="0.04">0</text>
<text x="295.55" y="306.00" font-size="3.30" text-anchor="middle" fill="#333" textLength="5.60" lengthAdjust="spacingAndGlyphs" stroke="#333" stroke-width="0.04">500</text>
<text x="319.59" y="306.00" font-size="3.30" text-anchor="middle" fill="#333" textLength="7.60" lengthAdjust="spacingAndGlyphs" stroke="#333" stroke-width="0.04">1000</text>
<text x="343.63" y="306.00" font-size="3.30" text-anchor="middle" fill="#333" textLength="7.60" lengthAdjust="spacingAndGlyphs" stroke="#333" stroke-width="0.04">1500</text>
<text x="367.68" y="306.00" font-size="3.30" text-anchor="middle" fill="#333" textLength="7.60" lengthAdjust="spacingAndGlyphs" stroke="#333" stroke-width="0.04">2000</text>
<text x="391.73" y="306.00" font-size="3.30" text-anchor="middle" fill="#333" textLength="7.60" lengthAdjust="spacingAndGlyphs" stroke="#333" stroke-width="0.04">2500</text>
<text x="415.77" y="306.00" font-size="3.30" text-anchor="middle" fill="#333" textLength="7.60" lengthAdjust="spacingAndGlyphs" stroke="#333" stroke-width="0.04">3000</text>
<text x="439.81" y="306.00" font-size="3.30" text-anchor="middle" fill="#333" textLength="7.60" lengthAdjust="spacingAndGlyphs" stroke="#333" stroke-width="0.04">3500</text>
<text x="261.80" y="225.45" font-size="3.50" text-anchor="end" fill="#222" textLength="5.00" lengthAdjust="spacingAndGlyphs" stroke="#222" stroke-width="0.05">4.0</text>
<text x="261.80" y="238.20" font-size="3.50" text-anchor="end" fill="#222" textLength="5.00" lengthAdjust="spacingAndGlyphs" stroke="#222" stroke-width="0.05">3.8</text>
<text x="261.80" y="250.95" font-size="3.50" text-anchor="end" fill="#222" textLength="5.00" lengthAdjust="spacingAndGlyphs" stroke="#222" stroke-width="0.05">3.6</text>
<text x="261.80" y="263.70" font-size="3.50" text-anchor="end" fill="#222" textLength="5.00" lengthAdjust="spacingAndGlyphs" stroke="#222" stroke-width="0.05">3.4</text>
<text x="261.80" y="276.45" font-size="3.50" text-anchor="end" fill="#222" textLength="5.00" lengthAdjust="spacingAndGlyphs" stroke="#222" stroke-width="0.05">3.2</text>
<text x="261.80" y="289.20" font-size="3.50" text-anchor="end" fill="#222" textLength="5.00" lengthAdjust="spacingAndGlyphs" stroke="#222" stroke-width="0.05">3.0</text>
<text x="261.80" y="301.95" font-size="3.50" text-anchor="end" fill="#222" textLength="5.00" lengthAdjust="spacingAndGlyphs" stroke="#222" stroke-width="0.05">2.8</text>
<rect x="491.40" y="3.20" width="190.00" height="90.30" fill="none" stroke="#999" stroke-width="1.0"/>
<path d="M499.30 93.50v1.6M523.41 93.50v1.6M547.53 93.50v1.6M571.64 93.50v1.6M595.76 93.50v1.6M619.88 93.50v1.6M643.99 93.50v1.6M668.11 93.50v1.6M491.40 12.30h-1.6M491.40 24.32h-1.6M491.40 36.34h-1.6M491.40 48.36h-1.6M491.40 60.38h-1.6M491.40 72.40h-1.6M491.40 84.42h-1.6" stroke="#777" stroke-width="0.6" fill="none"/>
<text x="499.30" y="98.10" font-size="3.30" text-anchor="middle" fill="#333" textLength="1.60" lengthAdjust="spacingAndGlyphs" stroke="#333" stroke-width="0.04">0</text>
<text x="523.41" y="98.10" font-size="3.30" text-anchor="middle" fill="#333" textLength="5.60" lengthAdjust="spacingAndGlyphs" stroke="#333" stroke-width="0.04">500</text>
<text x="547.53" y="98.10" font-size="3.30" text-anchor="middle" fill="#333" textLength="7.60" lengthAdjust="spacingAndGlyphs" stroke="#333" stroke-width="0.04">1000</text>
<text x="571.64" y="98.10" font-size="3.30" text-anchor="middle" fill="#333" textLength="7.60" lengthAdjust="spacingAndGlyphs" stroke="#333" stroke-width="0.04">1500</text>
<text x="595.76" y="98.10" font-size="3.30" text-anchor="middle" fill="#333" textLength="7.60" lengthAdjust="spacingAndGlyphs" stroke="#333" stroke-width="0.04">2000</text>
<text x="619.88" y="98.10" font-size="3.30" text-anchor="middle" fill="#333" textLength="7.60" lengthAdjust="spacingAndGlyphs" stroke="#333" stroke-width="0.04">2500</text>
<text x="643.99" y="98.10" font-size="3.30" text-anchor="middle" fill="#333" textLength="7.60" lengthAdjust="spacingAndGlyphs" stroke="#333" stroke-width="0.04">3000</text>
<text x="668.11" y="98.10" font-size="3.30" text-anchor="middle" fill="#333" textLength="7.60" lengthAdjust="spacingAndGlyphs" stroke="#333" stroke-width="0.04">3500</text>
<text x="489.70" y="13.90" font-size="3.50" text-anchor="end" fill="#222" textLength="6.60" lengthAdjust="spacingAndGlyphs" stroke="#222" stroke-width="0.05">−1.2</text>
<text x="489.70" y="25.92" font-size="3.50" text-anchor="end" fill="#222" textLength="6.60" lengthAdjust="spacingAndGlyphs" stroke="#222" stroke-width="0.05">−1.4</text>
<text x="489.70" y="37.94" font-size="3.50" text-anchor="end" fill="#222" textLength="6.60" lengthAdjust="spacingAndGlyphs" stroke="#222" stroke-width="0.05">−1.6</text>
<text x="489.70" y="49.96" font-size="3.50" text-anchor="end" fill="#222" textLength="6.60" lengthAdjust="spacingAndGlyphs" stroke="#222" stroke-width="0.05">−1.8</text>
<text x="489.70" y="61.98" font-size="3.50" text-anchor="end" fill="#222" textLength="6.60" lengthAdjust="spacingAndGlyphs" stroke="#222" stroke-width="0.05">−2.0</text>
<text x="489.70" y="74.00" font-size="3.50" text-anchor="end" fill="#222" textLength="6.60" lengthAdjust="spacingAndGlyphs" stroke="#222" stroke-width="0.05">−2.2</text>
<text x="489.70" y="86.02" font-size="3.50" text-anchor="end" fill="#222" textLength="6.60" lengthAdjust="spacingAndGlyphs" stroke="#222" stroke-width="0.05">−2.4</text>
<rect x="491.40" y="107.90" width="190.00" height="90.30" fill="none" stroke="#999" stroke-width="1.0"/>
<path d="M499.30 198.20v1.6M523.41 198.20v1.6M547.53 198.20v1.6M571.64 198.20v1.6M595.76 198.20v1.6M619.88 198.20v1.6M643.99 198.20v1.6M668.11 198.20v1.6M491.40 112.30h-1.6M491.40 128.56h-1.6M491.40 144.82h-1.6M491.40 161.08h-1.6M491.40 177.34h-1.6M491.40 193.60h-1.6" stroke="#777" stroke-width="0.6" fill="none"/>
<text x="499.30" y="202.80" font-size="3.30" text-anchor="middle" fill="#333" textLength="1.60" lengthAdjust="spacingAndGlyphs" stroke="#333" stroke-width="0.04">0</text>
<text x="523.41" y="202.80" font-size="3.30" text-anchor="middle" fill="#333" textLength="5.60" lengthAdjust="spacingAndGlyphs" stroke="#333" stroke-width="0.04">500</text>
<text x="547.53" y="202.80" font-size="3.30" text-anchor="middle" fill="#333" textLength="7.60" lengthAdjust="spacingAndGlyphs" stroke="#333" stroke-width="0.04">1000</text>
<text x="571.64" y="202.80" font-size="3.30" text-anchor="middle" fill="#333" textLength="7.60" lengthAdjust="spacingAndGlyphs" stroke="#333" stroke-width="0.04">1500</text>
<text x="595.76" y="202.80" font-size="3.30" text-anchor="middle" fill="#333" textLength="7.60" lengthAdjust="spacingAndGlyphs" stroke="#333" stroke-width="0.04">2000</text>
<text x="619.88" y="202.80" font-size="3.30" text-anchor="middle" fill="#333" textLength="7.60" lengthAdjust="spacingAndGlyphs" stroke="#333" stroke-width="0.04">2500</text>
<text x="643.99" y="202.80" font-size="3.30" text-anchor="middle" fill="#333" textLength="7.60" lengthAdjust="spacingAndGlyphs" stroke="#333" stroke-width="0.04">3000</text>
<text x="668.11" y="202.80" font-size="3.30" text-anchor="middle" fill="#333" textLength="7.60" lengthAdjust="spacingAndGlyphs" stroke="#333" stroke-width="0.04">3500</text>
<text x="489.70" y="113.90" font-size="3.50" text-anchor="end" fill="#222" textLength="5.00" lengthAdjust="spacingAndGlyphs" stroke="#222" stroke-width="0.05">1.0</text>
<text x="489.70" y="130.16" font-size="3.50" text-anchor="end" fill="#222" textLength="5.00" lengthAdjust="spacingAndGlyphs" stroke="#222" stroke-width="0.05">0.8</text>
<text x="489.70" y="146.42" font-size="3.50" text-anchor="end" fill="#222" textLength="5.00" lengthAdjust="spacingAndGlyphs" stroke="#222" stroke-width="0.05">0.6</text>
<text x="489.70" y="162.68" font-size="3.50" text-anchor="end" fill="#222" textLength="5.00" lengthAdjust="spacingAndGlyphs" stroke="#222" stroke-width="0.05">0.4</text>
<text x="489.70" y="178.94" font-size="3.50" text-anchor="end" fill="#222" textLength="5.00" lengthAdjust="spacingAndGlyphs" stroke="#222" stroke-width="0.05">0.2</text>
<text x="489.70" y="195.20" font-size="3.50" text-anchor="end" fill="#222" textLength="5.00" lengthAdjust="spacingAndGlyphs" stroke="#222" stroke-width="0.05">0.0</text>
<rect x="41.60" y="151.70" width="75.10" height="41.30" fill="#fff" stroke="none"/>
<path d="M48.10 151.70V193.00M60.95 151.70V193.00M73.80 151.70V193.00M86.65 151.70V193.00M99.50 151.70V193.00M112.35 151.70V193.00M41.60 159.40H116.70M41.60 165.14H116.70M41.60 170.88H116.70M41.60 176.62H116.70M41.60 182.36H116.70M41.60 188.10H116.70" stroke="#d2d2d2" stroke-width="0.7" fill="none"/>
<path d="M43.90 152.50V192.20M42.40 191.40H115.90" stroke="#9a9a9a" stroke-width="0.6" fill="none"/>
<path d="M48.10 191.50v-1.4M60.95 191.50v-1.4M73.80 191.50v-1.4M86.65 191.50v-1.4M99.50 191.50v-1.4M112.35 191.50v-1.4M43.90 159.40h1.4M43.90 165.14h1.4M43.90 170.88h1.4M43.90 176.62h1.4M43.90 182.36h1.4M43.90 188.10h1.4" stroke="#444" stroke-width="0.6" fill="none"/>
<path d="M47.9 156.7 113.1 189" stroke="#c0503a" stroke-width="0.80" fill="none" stroke-linejoin="round"/>
<path d="M47.9 156.3 113.1 188.6" stroke="#8c564b" stroke-width="0.80" fill="none" stroke-linejoin="round"/>
<path d="M47.9 156 113.1 188.3" stroke="#7f7f7f" stroke-width="0.80" fill="none" stroke-linejoin="round"/>
<path d="M47.9 155.6 113.1 187.9" stroke="#2ca02c" stroke-width="0.80" fill="none" stroke-linejoin="round"/>
<path d="M47.9 155.3 113.1 187.6" stroke="#5a9a8a" stroke-width="0.80" fill="none" stroke-linejoin="round"/>
<path d="M47.9 154.9 113.1 187.2" stroke="#4a9aa0" stroke-width="0.80" fill="none" stroke-linejoin="round"/>
<path d="M47.9 154.5 113.1 186.8" stroke="#5fa5a5" stroke-width="0.80" fill="none" stroke-linejoin="round"/>
<rect x="42.10" y="152.20" width="74.10" height="40.30" fill="none" stroke="#2a2a2a" stroke-width="1.3"/>
<rect x="124.50" y="148.70" width="4.90" height="3.40" fill="none" stroke="#111" stroke-width="0.9"/>
<path d="M41.90 152.00L124.50 148.70M116.40 192.70L129.40 152.10" stroke="#111" stroke-width="0.8" fill="none"/>
<rect x="41.80" y="256.70" width="74.70" height="40.90" fill="#fff" stroke="none"/>
<path d="M48.10 256.70V297.60M61.05 256.70V297.60M74.00 256.70V297.60M86.95 256.70V297.60M99.90 256.70V297.60M112.85 256.70V297.60M41.80 264.80H116.50M41.80 271.25H116.50M41.80 277.70H116.50M41.80 284.15H116.50M41.80 290.60H116.50" stroke="#d2d2d2" stroke-width="0.7" fill="none"/>
<path d="M44.10 257.50V296.80M42.60 296.00H115.70" stroke="#9a9a9a" stroke-width="0.6" fill="none"/>
<path d="M48.10 296.10v-1.4M61.05 296.10v-1.4M74.00 296.10v-1.4M86.95 296.10v-1.4M99.90 296.10v-1.4M112.85 296.10v-1.4M44.10 264.80h1.4M44.10 271.25h1.4M44.10 277.70h1.4M44.10 284.15h1.4M44.10 290.60h1.4" stroke="#444" stroke-width="0.6" fill="none"/>
<path d="M47.9 259.1 113.1 294.6" stroke="#c45a42" stroke-width="0.70" fill="none" stroke-linejoin="round"/>
<rect x="42.30" y="257.20" width="73.70" height="39.90" fill="none" stroke="#2a2a2a" stroke-width="1.3"/>
<rect x="124.40" y="244.50" width="5.00" height="2.80" fill="none" stroke="#111" stroke-width="0.9"/>
<path d="M42.10 257.00L124.40 244.50M116.20 297.30L129.40 247.30" stroke="#111" stroke-width="0.8" fill="none"/>
<rect x="271.00" y="151.70" width="76.30" height="42.30" fill="#fff" stroke="none"/>
<path d="M276.80 151.70V194.00M290.20 151.70V194.00M303.60 151.70V194.00M317.00 151.70V194.00M330.40 151.70V194.00M343.80 151.70V194.00M271.00 159.70H347.30M271.00 168.20H347.30M271.00 176.70H347.30M271.00 185.20H347.30" stroke="#d2d2d2" stroke-width="0.7" fill="none"/>
<path d="M273.30 152.50V193.20M271.80 192.40H346.50" stroke="#9a9a9a" stroke-width="0.6" fill="none"/>
<path d="M276.80 192.50v-1.4M290.20 192.50v-1.4M303.60 192.50v-1.4M317.00 192.50v-1.4M330.40 192.50v-1.4M343.80 192.50v-1.4M273.30 159.70h1.4M273.30 168.20h1.4M273.30 176.70h1.4M273.30 185.20h1.4" stroke="#444" stroke-width="0.6" fill="none"/>
<path d="M276.8 162.9 343.4 185.7" stroke="#2aa8a0" stroke-width="0.55" fill="none" stroke-linejoin="round"/>
<path d="M276.8 158.3 343.4 181.1" stroke="#3a9d8f" stroke-width="0.55" fill="none" stroke-linejoin="round"/>
<path d="M276.8 168.1 343.4 190.9" stroke="#f0a0d8" stroke-width="0.55" fill="none" stroke-linejoin="round"/>
<path d="M276.8 156.9 343.4 179.7" stroke="#b09ad0" stroke-width="0.55" fill="none" stroke-linejoin="round"/>
<path d="M276.8 163.8 343.4 186.6" stroke="#9467bd" stroke-width="0.55" fill="none" stroke-linejoin="round"/>
<path d="M276.8 164.6 343.4 187.4" stroke="#60b060" stroke-width="0.55" fill="none" stroke-linejoin="round"/>
<path d="M276.8 159.1 343.4 181.9" stroke="#3a9d8f" stroke-width="0.55" fill="none" stroke-linejoin="round"/>
<path d="M276.8 162.2 343.4 185" stroke="#2ca02c" stroke-width="0.55" fill="none" stroke-linejoin="round"/>
<path d="M276.8 159.9 343.4 182.7" stroke="#2ca02c" stroke-width="0.55" fill="none" stroke-linejoin="round"/>
<path d="M276.8 157.6 343.4 180.4" stroke="#b09ad0" stroke-width="0.55" fill="none" stroke-linejoin="round"/>
<path d="M276.8 163.1 343.4 185.9" stroke="#8f8f8f" stroke-width="0.55" fill="none" stroke-linejoin="round"/>
<path d="M276.8 161.4 343.4 184.2" stroke="#4aa8a8" stroke-width="0.55" fill="none" stroke-linejoin="round"/>
<path d="M276.8 164.5 343.4 187.3" stroke="#e890c8" stroke-width="0.55" fill="none" stroke-linejoin="round"/>
<path d="M276.8 159.8 343.4 182.6" stroke="#3a8ec4" stroke-width="0.55" fill="none" stroke-linejoin="round"/>
<path d="M276.8 159.7 343.4 182.5" stroke="#8f8f8f" stroke-width="0.55" fill="none" stroke-linejoin="round"/>
<path d="M276.8 161.2 343.4 184" stroke="#2aa8a0" stroke-width="0.55" fill="none" stroke-linejoin="round"/>
<path d="M276.8 160.2 343.4 183" stroke="#3a9d8f" stroke-width="0.55" fill="none" stroke-linejoin="round"/>
<path d="M276.8 161.6 343.4 184.4" stroke="#3a8ec4" stroke-width="0.55" fill="none" stroke-linejoin="round"/>
<path d="M276.8 154.5 343.4 177.3" stroke="#ffb070" stroke-width="0.55" fill="none" stroke-linejoin="round"/>
<path d="M276.8 160.1 343.4 182.9" stroke="#8c564b" stroke-width="0.55" fill="none" stroke-linejoin="round"/>
<path d="M276.8 163.4 343.4 186.2" stroke="#2aa8a0" stroke-width="0.55" fill="none" stroke-linejoin="round"/>
<path d="M276.8 161.2 343.4 184" stroke="#8f8f8f" stroke-width="0.55" fill="none" stroke-linejoin="round"/>
<path d="M276.8 164.8 343.4 187.6" stroke="#a0a0a0" stroke-width="0.55" fill="none" stroke-linejoin="round"/>
<path d="M276.8 167 343.4 189.8" stroke="#d8d860" stroke-width="0.55" fill="none" stroke-linejoin="round"/>
<path d="M276.8 160 343.4 182.8" stroke="#17becf" stroke-width="0.55" fill="none" stroke-linejoin="round"/>
<path d="M276.8 159.4 343.4 182.2" stroke="#4aa8a8" stroke-width="0.55" fill="none" stroke-linejoin="round"/>
<path d="M276.8 161.7 343.4 184.5" stroke="#4aa8a8" stroke-width="0.55" fill="none" stroke-linejoin="round"/>
<path d="M276.8 161.2 343.4 184" stroke="#17becf" stroke-width="0.55" fill="none" stroke-linejoin="round"/>
<path d="M276.8 162.9 343.4 185.7" stroke="#3a8ec4" stroke-width="0.55" fill="none" stroke-linejoin="round"/>
<path d="M276.8 161.6 343.4 184.4" stroke="#2ca02c" stroke-width="0.55" fill="none" stroke-linejoin="round"/>
<path d="M276.8 161.6 343.4 184.4" stroke="#2ca02c" stroke-width="0.55" fill="none" stroke-linejoin="round"/>
<path d="M276.8 162.7 343.4 185.5" stroke="#8c564b" stroke-width="0.55" fill="none" stroke-linejoin="round"/>
<path d="M276.8 161.5 343.4 184.3" stroke="#8f8f8f" stroke-width="0.55" fill="none" stroke-linejoin="round"/>
<path d="M276.8 159 343.4 181.8" stroke="#8f8f8f" stroke-width="0.55" fill="none" stroke-linejoin="round"/>
<path d="M276.8 158.4 343.4 181.2" stroke="#4aa8a8" stroke-width="0.55" fill="none" stroke-linejoin="round"/>
<path d="M276.8 156.7 343.4 179.5" stroke="#a0a0a0" stroke-width="0.55" fill="none" stroke-linejoin="round"/>
<path d="M276.8 161.5 343.4 184.3" stroke="#9467bd" stroke-width="0.55" fill="none" stroke-linejoin="round"/>
<path d="M276.8 158.2 343.4 181" stroke="#2aa8a0" stroke-width="0.55" fill="none" stroke-linejoin="round"/>
<path d="M276.8 161.6 343.4 184.4" stroke="#3a9d8f" stroke-width="0.55" fill="none" stroke-linejoin="round"/>
<path d="M276.8 157.6 343.4 180.4" stroke="#b09ad0" stroke-width="0.55" fill="none" stroke-linejoin="round"/>
<path d="M276.8 160.2 343.4 183" stroke="#8c564b" stroke-width="0.55" fill="none" stroke-linejoin="round"/>
<path d="M276.8 160.9 343.4 183.7" stroke="#9467bd" stroke-width="0.55" fill="none" stroke-linejoin="round"/>
<path d="M276.8 161.5 343.4 184.3" stroke="#9467bd" stroke-width="0.55" fill="none" stroke-linejoin="round"/>
<path d="M276.8 162.5 343.4 185.3" stroke="#2aa8a0" stroke-width="0.55" fill="none" stroke-linejoin="round"/>
<path d="M276.8 160.8 343.4 183.6" stroke="#17becf" stroke-width="0.55" fill="none" stroke-linejoin="round"/>
<path d="M276.8 167.6 343.4 190.4" stroke="#ffa050" stroke-width="0.55" fill="none" stroke-linejoin="round"/>
<path d="M276.8 155.1 343.4 177.9" stroke="#d8d860" stroke-width="0.55" fill="none" stroke-linejoin="round"/>
<path d="M276.8 159.8 343.4 182.6" stroke="#17becf" stroke-width="0.55" fill="none" stroke-linejoin="round"/>
<path d="M276.8 159.4 343.4 182.2" stroke="#8c564b" stroke-width="0.55" fill="none" stroke-linejoin="round"/>
<path d="M276.8 161 343.4 183.8" stroke="#3a8ec4" stroke-width="0.55" fill="none" stroke-linejoin="round"/>
<path d="M276.8 160.7 343.4 183.5" stroke="#3a8ec4" stroke-width="0.55" fill="none" stroke-linejoin="round"/>
<path d="M276.8 158.1 343.4 180.9" stroke="#a88070" stroke-width="0.55" fill="none" stroke-linejoin="round"/>
<path d="M276.8 163.4 343.4 186.2" stroke="#2aa8a0" stroke-width="0.55" fill="none" stroke-linejoin="round"/>
<path d="M276.8 162 343.4 184.8" stroke="#8f8f8f" stroke-width="0.55" fill="none" stroke-linejoin="round"/>
<path d="M276.8 158.4 343.4 181.2" stroke="#4aa8a8" stroke-width="0.55" fill="none" stroke-linejoin="round"/>
<path d="M276.8 163 343.4 185.8" stroke="#4aa8a8" stroke-width="0.55" fill="none" stroke-linejoin="round"/>
<path d="M276.8 155.3 343.4 178.1" stroke="#f0a0d8" stroke-width="0.55" fill="none" stroke-linejoin="round"/>
<path d="M276.8 155.7 343.4 178.5" stroke="#ffb070" stroke-width="0.55" fill="none" stroke-linejoin="round"/>
<path d="M276.8 166.1 343.4 188.9" stroke="#60b060" stroke-width="0.55" fill="none" stroke-linejoin="round"/>
<path d="M276.8 161.1 343.4 183.9" stroke="#2ca02c" stroke-width="0.55" fill="none" stroke-linejoin="round"/>
<path d="M276.8 159.1 343.4 181.9" stroke="#ff7f0e" stroke-width="0.70" fill="none" stroke-linejoin="round"/>
<rect x="271.50" y="152.20" width="75.30" height="41.30" fill="none" stroke="#2a2a2a" stroke-width="1.3"/>
<rect x="353.50" y="149.40" width="4.60" height="2.60" fill="none" stroke="#111" stroke-width="0.9"/>
<path d="M271.30 152.00L353.50 149.40M347.00 193.70L358.10 152.00" stroke="#111" stroke-width="0.8" fill="none"/>
<rect x="271.20" y="257.00" width="74.70" height="41.80" fill="#fff" stroke="none"/>
<path d="M276.90 257.00V298.80M289.95 257.00V298.80M303.00 257.00V298.80M316.05 257.00V298.80M329.10 257.00V298.80M342.15 257.00V298.80M271.20 262.50H345.90M271.20 268.30H345.90M271.20 274.10H345.90M271.20 279.90H345.90M271.20 285.70H345.90M271.20 291.50H345.90" stroke="#d2d2d2" stroke-width="0.7" fill="none"/>
<path d="M273.50 257.80V298.00M272.00 297.20H345.10" stroke="#9a9a9a" stroke-width="0.6" fill="none"/>
<path d="M276.90 297.30v-1.4M289.95 297.30v-1.4M303.00 297.30v-1.4M316.05 297.30v-1.4M329.10 297.30v-1.4M342.15 297.30v-1.4M273.50 262.50h1.4M273.50 268.30h1.4M273.50 274.10h1.4M273.50 279.90h1.4M273.50 285.70h1.4M273.50 291.50h1.4" stroke="#444" stroke-width="0.6" fill="none"/>
<path d="M276.9 259.1 342.1 295.6" stroke="#c45a42" stroke-width="0.70" fill="none" stroke-linejoin="round"/>
<rect x="271.70" y="257.50" width="73.70" height="40.80" fill="none" stroke="#2a2a2a" stroke-width="1.3"/>
<rect x="353.40" y="244.50" width="5.00" height="3.00" fill="none" stroke="#111" stroke-width="0.9"/>
<path d="M271.50 257.30L353.40 244.50M345.60 298.50L358.40 247.50" stroke="#111" stroke-width="0.8" fill="none"/>
<text x="118.75" y="101.75" font-size="5.33" fill="#111" textLength="21.50" lengthAdjust="spacingAndGlyphs" stroke="#111" stroke-width="0.05">Time (s)</text>
<text x="118.75" y="206.75" font-size="5.33" fill="#111" textLength="21.50" lengthAdjust="spacingAndGlyphs" stroke="#111" stroke-width="0.05">Time (s)</text>
<text x="118.75" y="311.50" font-size="5.33" fill="#111" textLength="21.50" lengthAdjust="spacingAndGlyphs" stroke="#111" stroke-width="0.05">Time (s)</text>
<text x="348.25" y="102.00" font-size="5.20" fill="#111" textLength="21.00" lengthAdjust="spacingAndGlyphs" stroke="#111" stroke-width="0.05">Time (s)</text>
<text x="348.25" y="206.50" font-size="5.20" fill="#111" textLength="21.00" lengthAdjust="spacingAndGlyphs" stroke="#111" stroke-width="0.05">Time (s)</text>
<text x="348.25" y="312.00" font-size="5.20" fill="#111" textLength="21.00" lengthAdjust="spacingAndGlyphs" stroke="#111" stroke-width="0.05">Time (s)</text>
<text x="576.00" y="103.00" font-size="5.25" fill="#111" textLength="21.00" lengthAdjust="spacingAndGlyphs" stroke="#111" stroke-width="0.05">Time (s)</text>
<text x="576.00" y="207.50" font-size="5.25" fill="#111" textLength="21.00" lengthAdjust="spacingAndGlyphs" stroke="#111" stroke-width="0.05">Time (s)</text>
<text transform="translate(21.28 46.50) rotate(-90)" font-size="6.38" text-anchor="middle" fill="#111" textLength="29.51" lengthAdjust="spacingAndGlyphs" stroke="#111" stroke-width="0.15">Current (A)</text>
<text transform="translate(25.53 151.63) rotate(-90)" font-size="6.22" text-anchor="middle" fill="#111" textLength="48.75" lengthAdjust="spacingAndGlyphs" stroke="#111" stroke-width="0.15">State of charge (-)</text>
<text transform="translate(25.53 256.12) rotate(-90)" font-size="6.48" text-anchor="middle" fill="#111" textLength="53.25" lengthAdjust="spacingAndGlyphs" stroke="#111" stroke-width="0.15">Terminal voltage (V)</text>
<text transform="translate(251.41 47.00) rotate(-90)" font-size="6.89" text-anchor="middle" fill="#111" textLength="30.01" lengthAdjust="spacingAndGlyphs" stroke="#111" stroke-width="0.15">Current (A)</text>
<text transform="translate(253.90 151.75) rotate(-90)" font-size="6.04" text-anchor="middle" fill="#111" textLength="48.50" lengthAdjust="spacingAndGlyphs" stroke="#111" stroke-width="0.15">State of charge (-)</text>
<text transform="translate(254.28 256.00) rotate(-90)" font-size="6.48" text-anchor="middle" fill="#111" textLength="53.00" lengthAdjust="spacingAndGlyphs" stroke="#111" stroke-width="0.15">Terminal voltage (V)</text>
<text transform="translate(479.03 48.25) rotate(-90)" font-size="6.12" text-anchor="middle" fill="#111" textLength="29.50" lengthAdjust="spacingAndGlyphs" stroke="#111" stroke-width="0.15">Current (A)</text>
<text transform="translate(481.78 152.75) rotate(-90)" font-size="6.12" text-anchor="middle" fill="#111" textLength="48.50" lengthAdjust="spacingAndGlyphs" stroke="#111" stroke-width="0.15">State of charge (-)</text>
<text x="-1.15" y="47.00" font-size="12.20" fill="#000" textLength="15.90" lengthAdjust="spacingAndGlyphs">(a)</text>
<text x="-1.15" y="154.25" font-size="12.00" fill="#000" textLength="15.90" lengthAdjust="spacingAndGlyphs">(b)</text>
<text x="-1.15" y="258.75" font-size="12.00" fill="#000" textLength="15.00" lengthAdjust="spacingAndGlyphs">(c)</text>
<text x="228.00" y="47.00" font-size="12.00" fill="#000" textLength="15.87" lengthAdjust="spacingAndGlyphs">(d)</text>
<text x="228.00" y="154.25" font-size="12.00" fill="#000" textLength="15.87" lengthAdjust="spacingAndGlyphs">(e)</text>
<text x="229.50" y="259.50" font-size="11.74" fill="#000" textLength="12.13" lengthAdjust="spacingAndGlyphs">(f)</text>
<text x="457.75" y="44.50" font-size="11.10" fill="#000" textLength="14.33" lengthAdjust="spacingAndGlyphs">(g)</text>
<text x="458.50" y="155.65" font-size="10.42" fill="#000" textLength="14.08" lengthAdjust="spacingAndGlyphs">(h)</text>
<text x="114.50" y="338.20" font-size="17.50" fill="#000" textLength="24.40" lengthAdjust="spacingAndGlyphs" stroke="#000" stroke-width="0.20">(A)</text>
<text x="344.75" y="337.10" font-size="17.50" fill="#000" textLength="25.15" lengthAdjust="spacingAndGlyphs" stroke="#000" stroke-width="0.20">(B)</text>
<text x="573.00" y="334.60" font-size="18.00" fill="#000" textLength="24.90" lengthAdjust="spacingAndGlyphs" stroke="#000" stroke-width="0.20">(C)</text>
</svg>
</body></html>
